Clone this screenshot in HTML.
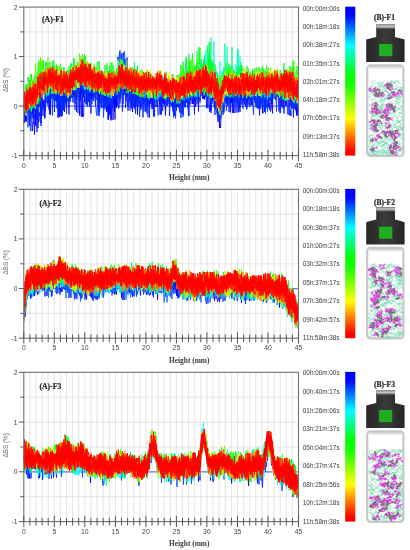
<!DOCTYPE html>
<html><head><meta charset="utf-8"><title>Turbiscan</title><style>html,body{margin:0;padding:0;background:#fff;}
svg{display:block;}
.ax{font-family:"Liberation Sans",sans-serif;font-size:6.8px;fill:#444;}
.tm{font-family:"Liberation Sans",sans-serif;font-size:7.1px;fill:#3c3c3c;}
.ttl{font-family:"Liberation Serif",serif;font-size:7.6px;font-weight:bold;fill:#262626;stroke:#262626;stroke-width:0.2px;}
.hd{font-family:"Liberation Serif",serif;font-size:7.2px;font-weight:bold;fill:#3c3c3c;}
</style></head>
<body><svg width="410" height="550" viewBox="0 0 410 550">
<defs>
<linearGradient id="cb" x1="0" y1="0" x2="0" y2="1">
<stop offset="0" stop-color="#0000f8"/><stop offset=".06" stop-color="#0008ff"/><stop offset=".26" stop-color="#00ffff"/><stop offset=".46" stop-color="#00ff00"/><stop offset=".53" stop-color="#18ff00"/><stop offset=".75" stop-color="#ffff00"/><stop offset=".97" stop-color="#ff0000"/>
</linearGradient>
<linearGradient id="capg" x1="0" y1="0" x2="1" y2="0">
<stop offset="0" stop-color="#262626"/><stop offset=".5" stop-color="#3a3a3a"/><stop offset="1" stop-color="#262626"/>
</linearGradient>
<linearGradient id="ring" x1="0" y1="0" x2="0" y2="1">
<stop offset="0" stop-color="#8a8a8a"/><stop offset=".4" stop-color="#c8c8c8"/><stop offset="1" stop-color="#3a3a3a"/>
</linearGradient>
<linearGradient id="rim" x1="0" y1="0" x2="0" y2="1">
<stop offset="0" stop-color="#c4c4c4"/><stop offset="1" stop-color="#f4f4f4"/>
</linearGradient>
</defs>
<path d="M29.9 7.1V155.6M36 7.1V155.6M42.1 7.1V155.6M48.2 7.1V155.6M54.3 7.1V155.6M60.4 7.1V155.6M66.5 7.1V155.6M72.6 7.1V155.6M78.7 7.1V155.6M84.8 7.1V155.6M90.9 7.1V155.6M97.1 7.1V155.6M103.2 7.1V155.6M109.3 7.1V155.6M115.4 7.1V155.6M121.5 7.1V155.6M127.6 7.1V155.6M133.7 7.1V155.6M139.8 7.1V155.6M145.9 7.1V155.6M152 7.1V155.6M158.1 7.1V155.6M164.2 7.1V155.6M170.3 7.1V155.6M176.4 7.1V155.6M182.5 7.1V155.6M188.6 7.1V155.6M194.7 7.1V155.6M200.8 7.1V155.6M206.9 7.1V155.6M213 7.1V155.6M219.1 7.1V155.6M225.2 7.1V155.6M231.4 7.1V155.6M237.5 7.1V155.6M243.6 7.1V155.6M249.7 7.1V155.6M255.8 7.1V155.6M261.9 7.1V155.6M268 7.1V155.6M274.1 7.1V155.6M280.2 7.1V155.6M286.3 7.1V155.6M292.4 7.1V155.6M23.8 31.9H298.5M23.8 56.6H298.5M23.8 81.3H298.5M23.8 106.1H298.5M23.8 130.8H298.5" stroke="#dedede" stroke-width="0.8" fill="none"/>
<path d="M23.8 106.1H298.5" stroke="#7474f6" stroke-width="1.3" fill="none"/>
<path d="M48 246l1-37 1-6 1 40 1-30 1 30 1-27 1-21 1 11 1-8 1 14 1 9 1-30 1 19 1 8 1 5 1-22 1 27 1-11 1 19 1-20 1 6 1-15 1 45 1-34 1 13 1-1 1-21 1 11 1 24 1-1 1-18 1 7 1-30 1 44 1-23 1-38 1 21 1 9 1-15 1 8 1-5 1 20 1-5 1-22 1 7 1 3 1-10 1 6 1-1 1 18 1-46 1 56 1-54 1-7 1 29 1-18 1 12 1-39 1 11 1 23 1 38 1-45 1 14 1 9 1-31 1 46 1-31 1-11 1 55 1-48 1 52 1-76 1 12 1 63 1-40 1-27 1 40 1-38 1 53 1-39 1 28 1-27 1-4 1 6 1 36 1-31 1-1 1-17 1 36 1 21 1-29 1-16 1-10 1 15 1 2 1 0 1 4 1-38 1 36 1-9 1 6 1-8 1-24 1 20 1 0 1-25 1-14 1 13 1 20 1-15 1 3 1 41 1-18 1 50 1 0 1-49 1 49 1-4 1 4 1-33 1 0 1-25 1-3 1 14 1-8 1 31 1-19 1-4 1 18 1-36 1 2 1 23 1-10 1 15 1-1 1-28 1 27 1 0 1-23 1 1 1-22 1 34 1 25 1-56 1 20 1 16 1-18 1-13 1 16 1 56 1-46 1-13 1 13 1 0 1 4 1-31 1 25 1-6 1-2 1 32 1-8 1-23 1 39 1-40 1 48 1-18 1-11 1 15 1 30 1-48 1 36 1-19 1-6 1 36 1-45 1 19 1-1 1-26 1 15 1 6 1-11 1 43 1-45 1-9 1 31 1-7 1-18 1 8 1-25 1 20 1-8 1 13 1-10 1-31 1 16 1-26 1 15 1 45 1-25 1-11 1 4 1 6 1-5 1-9 1 16 1-9 1 6 1-8 1-18 1 22 1 6 1 3 1-6 1 6 1 29 1-55 1 64 1-12 1-20 1 21 1-18 1-1 1 5 1 5 1-14 1 3 1 37 1-55 1-18 1 12 1 5 1 10 1 36 1-25 1-18 1 6 1-15 1 23 1-5 1 18 1-13 1 2 1 30 1-45 1-6 1 37 1-19 1 4 1-2 1 1 1 17 1-18 1 10 1-21 1 11 1 26 1-22 1-19 1 56 1-50 1 23 1 7 1 1 1-17 1-1 1 18 1-12 1 27 1 1 1 0 1-47 1 38 1 8 1-35 1-15 1 17 1-35 1 19 1 26 1-28 1-7 1 1 1 4 1 8 1-7 1 14 1 2 1-17 1 15 1-8 1 13 1-22 1 10 1-9 1 15 1-8 1 31 1 10 1-43 1 11 1 2 1 22 1-4 1-18 1 22 1-10 1-22 1 30 1-22 1 7 1 12 1-27 1-10 1 31 1-28 1 51 1-6 1-28 1 8 1 7 1-7 1 14 1-6 1-10 1 6 1-15 1 6 1 20 1-46 1 18 1-16 1 37 1-37 1 4 1 21 1-2 1 13 1-6 1-23 1 24 1 26 1-42 1 26 1-26 1-21 1 14 1 3 1-28 1 42 1 3 1-13 1 18 1-30 1 17 1-23 1 17 1 11 1-18 1 19 1-33 1 34 1-24 1 9 1-17 1 11 1-28 1 36 1 10 1-1 1-5 1-2 1-9 1-18 1 60 1-52 1 15 1 17 1-19 1 4 1-17 1 22 1-15 1 33 1-42 1 15 1 45 1-13 1-17 1 18 1 3 1 38 1-31 1 2 1-18 1 5 1 5 1-35 1-8 1 33 1 16 1-17 1-9 1-3 1-16 1 16 1 7 1-13 1 13 1-6 1-11 1 10 1-1 1 13 1-29 1 21 1 4 1-3 1 0 1 25 1-48 1 3 1 45 1-39 1-2 1 0 1 3 1 11 1-12 1 6 1 4 1-20 1 6 1-8 1-3 1-7 1 27 1-21 1 21 1 4 1 9 1-16 1 10 1-25 1 21 1 2 1 20 1-26 1 11 1-12 1 7 1-3 1-1 1-21 1 28 1-19 1 23 1 6 1-18 1-17 1 20 1 1 1-11 1 8 1-2 1 20 1 5 1 1 1-34 1 4 1 11 1-25 1 9 1 35 1-23 1-11 1 15 1-6 1-8 1-3 1-4 1 23 1 23 1-27 1 2 1-19 1 10 1 1 1 1 1 23 1-20 1-7 1 2 1-28 1 46 1-17 1 18 1-26 1 10 1-2 1 2 1-9 1-17 1 12 1 1 1-10 1 14 1-7 1 9 1 4 1 6 1-16 1-8 1 26 1 16 1-4 1-7 1-15 1-3 1-4 1 4 1-15 1 17 1 25 1-37 1 22 1-23 1 13 1 7 1-11 1-1 1 11 1 5 1 14 1-12 1-3 1 22 1-39 1 7 1-18 1 36 1 13 1-5 1 7 1-21 1 29 1-12 1 9 1-15 1 20" stroke="#0000ff" stroke-width="1.6" fill="none" transform="scale(.5)"/>
<path d="M48 238l1 8 1-41 1 28 1-15 1 0 1-1 1-6 1 12 1-30 1 27 1 14 1 9 1-11 1-28 1 18 1 15 1 25 1-16 1 2 1-18 1 39 1-51 1 13 1 9 1-36 1 8 1 5 1 39 1-68 1 11 1 6 1-14 1-2 1-18 1 17 1 22 1 10 1-15 1 4 1 1 1 27 1-36 1-1 1-10 1-2 1-4 1-9 1 12 1 17 1-39 1 60 1 4 1-27 1-9 1-32 1 8 1 24 1-22 1 5 1 13 1-6 1 8 1-37 1 45 1-9 1 13 1-20 1 52 1-30 1 13 1-31 1 30 1 7 1-35 1 44 1-73 1 39 1-19 1 21 1-9 1 32 1-24 1-8 1 13 1 3 1-19 1-3 1 3 1-10 1 13 1 7 1-10 1-5 1 10 1-40 1 32 1-14 1 33 1-35 1 22 1-4 1-17 1 21 1 1 1 6 1-20 1-5 1 2 1 12 1-32 1 75 1-59 1 5 1 10 1-18 1 22 1 42 1-53 1 11 1-18 1 31 1-44 1 18 1 4 1-2 1 27 1-51 1 37 1-9 1-33 1 62 1-31 1 21 1 24 1-44 1 18 1-32 1 1 1 7 1 18 1-18 1-18 1 25 1-13 1-6 1 7 1-4 1 10 1 12 1 10 1-7 1 0 1-25 1 34 1 13 1-41 1-5 1 24 1 0 1 22 1-24 1-31 1 6 1 32 1-9 1-9 1 11 1 48 1-36 1 9 1 4 1-44 1 50 1 19 1-28 1-10 1 6 1 31 1-32 1-20 1 36 1-41 1 31 1-32 1 34 1-9 1 2 1-9 1 17 1-1 1-22 1-8 1 9 1-16 1 2 1-11 1 6 1 3 1-11 1-23 1 38 1-32 1 16 1 36 1-34 1 25 1-29 1 56 1-22 1-5 1-7 1 2 1 18 1-15 1-2 1-11 1 19 1-43 1 24 1 32 1 6 1-16 1-17 1 28 1-26 1-4 1 5 1 6 1-3 1 16 1-22 1 3 1-8 1 4 1-7 1 26 1-4 1-16 1 26 1-14 1-17 1 32 1-28 1-17 1 3 1 60 1-50 1 28 1 7 1-40 1 12 1 3 1-17 1 27 1-4 1 17 1-1 1-17 1-32 1 6 1 40 1-26 1 14 1-16 1 18 1-16 1-16 1-4 1 0 1 29 1 5 1-4 1-13 1 22 1 5 1 0 1-6 1 10 1 0 1-20 1 23 1 1 1 19 1-27 1-10 1 16 1-25 1 23 1-9 1-1 1-8 1 19 1-12 1-6 1 19 1-5 1 0 1 8 1-2 1-6 1 27 1-43 1 18 1-14 1 3 1-2 1 20 1-5 1-6 1 14 1-16 1-23 1 34 1-23 1 1 1 3 1 14 1-21 1-12 1 37 1 2 1-34 1 34 1-26 1 4 1-7 1 18 1-27 1 39 1 18 1-54 1 21 1-38 1 5 1 3 1 38 1-9 1-4 1-3 1-2 1 4 1 10 1 0 1-5 1-7 1-13 1 8 1-11 1 48 1-44 1-6 1-5 1 4 1-5 1 7 1 14 1-4 1-7 1 13 1-29 1 20 1 14 1-5 1-27 1 12 1 16 1 24 1-36 1 4 1-3 1 44 1-10 1-20 1 32 1-25 1 7 1-26 1 20 1-17 1 6 1-1 1 28 1-34 1 21 1-8 1 9 1-13 1 18 1 17 1 2 1-1 1 22 1 5 1-18 1-22 1-16 1-3 1-6 1-2 1 1 1-7 1-2 1 23 1-28 1 15 1 17 1-22 1 12 1-27 1 19 1-4 1 18 1 21 1-45 1 26 1-20 1 25 1-29 1-15 1 26 1-10 1 9 1 4 1 0 1-6 1 4 1 16 1-18 1-9 1 17 1 1 1 23 1-45 1 21 1-19 1 7 1-6 1 0 1 5 1-4 1 26 1-35 1 12 1-24 1 40 1-4 1 7 1-11 1 3 1-9 1-11 1 36 1-29 1 7 1 19 1-17 1-3 1-7 1 8 1 7 1-26 1 26 1 6 1 6 1-2 1 1 1-30 1 7 1-9 1 11 1 43 1-29 1-8 1 10 1-7 1 15 1 5 1 9 1-42 1 14 1 24 1-32 1 20 1-17 1-9 1 14 1-21 1 16 1 6 1-8 1 28 1-13 1 17 1-3 1-11 1-12 1 30 1-52 1-15 1 35 1-9 1-17 1 21 1-24 1 22 1-29 1 14 1 11 1 17 1 22 1-34 1 8 1-4 1-7 1-12 1 28 1-8 1 23 1-33 1 43 1-50 1-19 1 9 1 46 1-7 1-27 1 4 1 5 1-15 1 7 1 0 1 13 1 5 1 3 1-13 1 15 1-17 1 11 1 6 1 14 1-19 1-7 1 25 1-9 1 24 1-13 1 13 1-15 1 1" stroke="#0000ff" stroke-width="1.6" fill="none" transform="scale(.5)"/>
<path d="M48 217l1-5 1 28 1-13 1-10 1 14 1-26 1 6 1 7 1 2 1-4 1 36 1-28 1 1 1-10 1-20 1 23 1 6 1 13 1-29 1-5 1 6 1-19 1 28 1 8 1 23 1 15 1-47 1-7 1-2 1 3 1-28 1 28 1 16 1 25 1-36 1-25 1 29 1 12 1-32 1-1 1 15 1 22 1-43 1-35 1 38 1-3 1-12 1 20 1-19 1-9 1 25 1-32 1 63 1-50 1-9 1-1 1-8 1 25 1-8 1 9 1 11 1-38 1 8 1 15 1-18 1 18 1-16 1 13 1 14 1-37 1 13 1-12 1 28 1-9 1 12 1 43 1-8 1-53 1 6 1 40 1-9 1 1 1-17 1 10 1-41 1 37 1-6 1 9 1-33 1 15 1-4 1 17 1-8 1-16 1-8 1 15 1 14 1-23 1-19 1 43 1-17 1 31 1-31 1-12 1 59 1-44 1 2 1-14 1 12 1 14 1-31 1 31 1-35 1 27 1 0 1-11 1 6 1-24 1 38 1-18 1-2 1 12 1 16 1 6 1-21 1-14 1 8 1-15 1-24 1 44 1 3 1-9 1 5 1-1 1-31 1 31 1 11 1-15 1-8 1 6 1-6 1 11 1-18 1 23 1 10 1 1 1-23 1 16 1 0 1 27 1-36 1 22 1-23 1 0 1-6 1 21 1-26 1 45 1-39 1 33 1-17 1-29 1 18 1 30 1-48 1 31 1 26 1-14 1-11 1 0 1 16 1 18 1-22 1-41 1 17 1-22 1 23 1 22 1-17 1-9 1-5 1-18 1 7 1 15 1 22 1-32 1 8 1 12 1-41 1 28 1-8 1 37 1-31 1-14 1 19 1 16 1 26 1-34 1 2 1-10 1 9 1-2 1-27 1 23 1 0 1 10 1 18 1-13 1-13 1-16 1 32 1 1 1-12 1 20 1 6 1-54 1 32 1-7 1 4 1 8 1-42 1 22 1 47 1-26 1-40 1 16 1 50 1-64 1 9 1 41 1-17 1-13 1-7 1 15 1 23 1-19 1 11 1 29 1-43 1 7 1-20 1 11 1-14 1 0 1 3 1 21 1-24 1 15 1 5 1 4 1 35 1-39 1 12 1-19 1-11 1 4 1 24 1 11 1-38 1 29 1-22 1 13 1-25 1 15 1-2 1-4 1 0 1-14 1 32 1-1 1 8 1-8 1 13 1-29 1 45 1-36 1 29 1-10 1-17 1 3 1 9 1-29 1 41 1-19 1 2 1-7 1-6 1 13 1-21 1-1 1 52 1-33 1-12 1-20 1 31 1 16 1-26 1 10 1 8 1 8 1-22 1-2 1-12 1 3 1 41 1-20 1-13 1 11 1 1 1 8 1-21 1 6 1 28 1 14 1-21 1-26 1 2 1 39 1-15 1-5 1-3 1 2 1-3 1 0 1-7 1 3 1 2 1-3 1 2 1 2 1 4 1-19 1 5 1-2 1 3 1-15 1 24 1-27 1 30 1-13 1-6 1 0 1-26 1 27 1 5 1 14 1-6 1-38 1 25 1-36 1 8 1-5 1-4 1 18 1 5 1-3 1 1 1 14 1 9 1-13 1 13 1-8 1-11 1 8 1 30 1-30 1-4 1 0 1-18 1 23 1-13 1 17 1-7 1-14 1 23 1-37 1 34 1 2 1-4 1-14 1 25 1 31 1-30 1-25 1 19 1 9 1 2 1 39 1-38 1 7 1 1 1 11 1 5 1-26 1-9 1-13 1 11 1 37 1-41 1-6 1 11 1-13 1 3 1 8 1 15 1-33 1 36 1-28 1 11 1 31 1-38 1-5 1-11 1 3 1-5 1 35 1 23 1-36 1 1 1 13 1-8 1-8 1 2 1 15 1 5 1 15 1-14 1-28 1 42 1-40 1 32 1-2 1-12 1-20 1 26 1-4 1-9 1 21 1-30 1 6 1 12 1-12 1 20 1-17 1 8 1 6 1-20 1 6 1 10 1 5 1-1 1-14 1-20 1 0 1 23 1-23 1 24 1-2 1-32 1 5 1 27 1 8 1-5 1-19 1 11 1 0 1-7 1 8 1 23 1-24 1 6 1-11 1-4 1-1 1 11 1-4 1 37 1-58 1 30 1-9 1-20 1 42 1-4 1 2 1-10 1 1 1 16 1-17 1 3 1-19 1 15 1-3 1-16 1 17 1 5 1-32 1 29 1-7 1-18 1 17 1-5 1-14 1 28 1-15 1 10 1-3 1-10 1-3 1 4 1 13 1 4 1 1 1 25 1-31 1 12 1 6 1-21 1-26 1 29 1-2 1 7 1-22 1 10 1 19 1-33 1 21 1-24 1 27 1-11 1 43 1-37 1 38 1-10 1 11 1-47 1 21 1 1 1-13 1 41 1-41 1-5 1-7 1 9 1-22 1 12 1 23 1 1 1-31 1 33" stroke="#0014ff" stroke-width="1.6" fill="none" transform="scale(.5)"/>
<path d="M48 215l1-12 1 4 1 9 1-7 1 21 1-5 1-11 1 41 1-37 1-5 1 13 1-13 1 47 1 2 1-46 1-13 1 3 1-19 1 13 1-22 1 30 1-3 1-22 1 7 1 8 1 37 1-20 1-6 1-8 1 13 1-13 1 4 1-22 1 22 1-4 1 21 1-45 1 11 1-22 1 19 1 2 1 25 1-6 1-29 1 17 1-9 1 25 1-41 1 11 1 27 1-16 1-5 1-5 1 13 1 1 1-8 1 44 1-71 1 40 1-15 1 34 1-26 1 9 1-17 1 12 1-4 1 22 1-13 1 33 1-45 1 17 1-26 1 30 1 21 1-60 1 58 1-62 1 15 1-9 1 44 1-16 1-23 1 10 1-9 1 48 1-43 1 6 1 12 1-13 1-1 1 0 1-18 1 33 1-13 1 5 1-33 1 32 1-35 1 24 1-20 1-12 1 68 1-64 1-13 1 11 1-14 1 44 1 42 1-34 1-20 1 11 1-6 1-27 1 4 1 24 1-13 1 20 1-12 1-21 1 27 1 16 1-7 1-2 1-30 1 28 1-5 1 35 1-70 1 24 1 14 1 30 1-21 1 0 1 9 1-2 1 10 1-32 1-12 1 38 1-16 1 1 1 4 1 22 1 4 1 14 1-4 1-36 1 40 1 1 1-19 1 11 1-5 1-16 1-25 1 15 1 12 1-10 1-16 1 56 1-19 1-20 1 23 1-12 1-10 1 13 1 6 1-16 1 8 1-18 1 5 1-2 1 20 1-16 1 4 1-34 1 53 1-41 1 19 1-11 1-8 1 4 1 8 1-7 1-24 1 2 1 32 1-9 1 0 1-16 1 30 1-21 1 20 1-34 1-8 1 12 1-9 1 44 1-54 1 27 1-18 1 8 1-21 1 71 1-27 1-22 1 16 1-1 1-9 1-5 1 17 1 9 1 28 1-29 1-20 1 28 1-32 1 46 1-12 1-10 1 19 1-12 1-30 1 26 1 1 1-4 1 10 1-4 1 8 1-1 1-26 1 54 1-16 1 0 1 1 1-2 1-8 1-33 1 2 1 13 1 32 1-29 1 1 1 24 1-45 1 47 1-12 1-3 1 29 1-27 1-11 1-4 1-30 1 0 1 9 1 1 1 21 1-30 1 35 1-22 1 5 1 51 1-41 1-5 1-10 1-15 1 44 1-7 1-22 1-8 1 4 1 6 1 19 1-18 1 3 1 7 1-23 1-5 1 12 1 7 1 7 1 5 1-13 1-2 1 14 1 2 1 12 1 6 1-5 1-21 1 4 1 5 1 17 1-17 1-16 1-4 1 15 1-11 1 30 1 26 1-38 1 5 1 3 1 32 1-35 1 2 1 0 1 3 1 4 1 1 1-29 1 42 1-28 1 11 1 9 1 9 1-12 1-6 1 26 1-45 1 23 1-16 1 18 1-26 1 10 1-6 1 2 1 5 1 18 1 15 1-35 1 8 1-27 1 22 1-36 1 25 1 10 1-21 1-2 1-11 1 22 1-13 1-5 1 27 1-39 1 16 1 14 1-5 1-3 1 0 1-5 1-6 1 32 1-47 1 15 1-16 1 0 1 7 1 22 1-18 1 11 1-3 1 18 1-10 1 9 1-20 1-9 1-4 1 62 1-34 1 4 1 3 1-3 1-2 1 26 1-42 1-13 1 11 1 16 1 6 1 25 1-29 1 13 1 19 1-14 1-11 1 33 1 10 1 3 1-17 1 21 1-13 1 0 1 9 1-3 1-20 1 9 1-34 1 25 1-18 1 7 1-19 1 19 1 3 1-1 1 16 1-26 1 0 1 16 1-15 1-2 1-24 1 25 1-20 1 22 1-3 1-19 1 20 1-24 1 31 1 9 1-24 1-6 1 6 1 3 1 16 1-22 1 11 1 3 1-16 1-10 1 20 1-3 1-26 1-1 1 20 1-19 1 22 1 3 1-7 1 20 1 6 1-19 1 4 1-11 1 37 1-26 1-13 1-5 1 18 1-14 1-3 1-8 1 7 1 28 1-23 1 15 1 8 1 12 1 15 1-36 1 8 1-20 1 18 1 15 1-22 1 3 1 20 1-14 1 13 1-26 1 21 1-18 1 26 1-27 1 12 1 3 1-16 1 11 1-2 1-13 1 38 1-28 1 31 1-39 1 27 1-7 1 15 1-23 1-29 1 25 1-10 1-5 1 21 1-18 1 16 1-14 1-10 1-10 1 25 1-12 1 18 1-3 1 1 1 3 1 25 1-35 1 1 1 4 1 1 1-26 1 16 1 42 1-37 1-8 1 8 1 1 1 11 1-17 1-8 1 9 1-3 1-1 1 6 1-15 1 6 1 10 1 36 1 5 1-70 1 19 1 19 1-4 1-17 1-3 1-4 1 18 1 3 1 25 1 1 1-16 1 17 1-14 1 18 1-13 1-6 1-25 1 42 1-9 1-24" stroke="#0033ff" stroke-width="1.6" fill="none" transform="scale(.5)"/>
<path d="M234 116l1-2 1 7 1-6 1 1 1-12 1-3 1 14 1 29 1-38 1 18 1 11 1-21 1-9 1 24 1-4 1-7 1 27 1-8 1-7 1-15 1 29" stroke="#001fff" stroke-width="1.6" fill="none" transform="scale(.5)"/>
<path d="M237 134l1-4 1-23 1 17 1 10 1-10 1-6 1-11 1 33 1-17 1-3 1-3 1-14 1 17 1 5 1 13" stroke="#0052ff" stroke-width="1.6" fill="none" transform="scale(.5)"/>
<path d="M56 154l1 17 1 21 1-13 1-14 1 19 1-12" stroke="#0014ff" stroke-width="1.6" fill="none" transform="scale(.5)"/>
<path d="M48 217l1-19 1 24 1-24 1 22 1-5 1-11 1 9 1 0 1-10 1 16 1-12 1 0 1-3 1-13 1 2 1 4 1 2 1-13 1 6 1 1 1 8 1-2 1 2 1-23 1 19 1-17 1-5 1-1 1 0 1 3 1-8 1-7 1 3 1 13 1-17 1 35 1-39 1 19 1-12 1 9 1 17 1-10 1 0 1 9 1-5 1-28 1 32 1-12 1-17 1 5 1 11 1-4 1-4 1 4 1-11 1 27 1-20 1-14 1 25 1-32 1 28 1 3 1-3 1-6 1 0 1 11 1-12 1 4 1-1 1 8 1-1 1 4 1-28 1 34 1-17 1 21 1-5 1-27 1 17 1-9 1-1 1 12 1 1 1 4 1-5 1-11 1 29 1-9 1-11 1-2 1-1 1 1 1-11 1-9 1 3 1-1 1 12 1 4 1 1 1-22 1 19 1-9 1-6 1-4 1 13 1 10 1-21 1 10 1 8 1 1 1-13 1 4 1-4 1-17 1 13 1 4 1 11 1-22 1 22 1 4 1-14 1-13 1 9 1-6 1 20 1 6 1-6 1-10 1 10 1 2 1-5 1 3 1-7 1 9 1 7 1-15 1 0 1 8 1 11 1-13 1 3 1-9 1-11 1 24 1-24 1 19 1 5 1-18 1 2 1-1 1 0 1 8 1 6 1-4 1-1 1-5 1 1 1 19 1-31 1 30 1 5 1-19 1 1 1-5 1 13 1-6 1 5 1-2 1 2 1-11 1 14 1 0 1 16 1-11 1-16 1 10 1-12 1 8 1-18 1 7 1 21 1-17 1 7 1-10 1 5 1-6 1-7 1-12 1 18 1-19 1 4 1 10 1-13 1 16 1-14 1 30 1-19 1 1 1-3 1-13 1 21 1 4 1 10 1-16 1 10 1-3 1-11 1 21 1-7 1-8 1 0 1 2 1-6 1 20 1-2 1-7 1-6 1-10 1 0 1-1 1 1 1-9 1 15 1 10 1-15 1 14 1-18 1 26 1-28 1 25 1-3 1 0 1 18 1-12 1-9 1-16 1 22 1-4 1-11 1 31 1-31 1 36 1-8 1-18 1 17 1-13 1-9 1 1 1 29 1-14 1-28 1 34 1-3 1-9 1-22 1 24 1-6 1 15 1 0 1-4 1 16 1-16 1 9 1 8 1-4 1-6 1-7 1-25 1 27 1-7 1 17 1-9 1-4 1 13 1-26 1 11 1-10 1-15 1 23 1 1 1-3 1-19 1 0 1 19 1 1 1-19 1 18 1-17 1 7 1 13 1-4 1-15 1 7 1 13 1-1 1-5 1 15 1-12 1 10 1 8 1-5 1 8 1-17 1 9 1-6 1-4 1 2 1 14 1-18 1-7 1 2 1 18 1-7 1-3 1 6 1-9 1 4 1 0 1-6 1 26 1-15 1 4 1 1 1-8 1 3 1 3 1-17 1 25 1-1 1-1 1 0 1-3 1-3 1-17 1 14 1-18 1-7 1 12 1 11 1-6 1 10 1-23 1 8 1-3 1 5 1-6 1-17 1 13 1-16 1 3 1 2 1-8 1 22 1 0 1-4 1-6 1 10 1-13 1 11 1-9 1 2 1 3 1 10 1 2 1 12 1-29 1-11 1 28 1 2 1-10 1 18 1 0 1-28 1 20 1-3 1 13 1-8 1-2 1 2 1-3 1 11 1 4 1-8 1 6 1 14 1 1 1-4 1 1 1 14 1 1 1 15 1-14 1-14 1-5 1 25 1-5 1-21 1-1 1-3 1-18 1 3 1 19 1-41 1 21 1-10 1 18 1-15 1 6 1-5 1 13 1-20 1 3 1-9 1 30 1-17 1-7 1 20 1-23 1 8 1-9 1 10 1 9 1-10 1 11 1-6 1 1 1 10 1 2 1-5 1 14 1-16 1 4 1-14 1 16 1-3 1-2 1-9 1 16 1-3 1-10 1 2 1-7 1 18 1-9 1-10 1 18 1-8 1 1 1-4 1 15 1-16 1 14 1 7 1-11 1-6 1 17 1-29 1 5 1 22 1-15 1-9 1 5 1 10 1 0 1-21 1 16 1-6 1-13 1 6 1 5 1 1 1 10 1-24 1 8 1-7 1-5 1 20 1 7 1-4 1-11 1-7 1 25 1-17 1 10 1-8 1-2 1 12 1-20 1 18 1 19 1-20 1 18 1-37 1 20 1-15 1 25 1-4 1-10 1 4 1 7 1-14 1 5 1 4 1-14 1 7 1 17 1-19 1-1 1 9 1 13 1-10 1-13 1 1 1-2 1 11 1 4 1-5 1 5 1 18 1-24 1 14 1-19 1 14 1-4 1-6 1-13 1 11 1-4 1 26 1-27 1 23 1-6 1-3 1-22 1 9 1 2 1 3 1-20 1 14 1 6 1 9 1-12 1 2 1 10 1 1 1-16 1 2 1 18 1-13" stroke="#00ccff" stroke-width="1.6" fill="none" transform="scale(.5)"/>
<path d="M48 222l1-1 1 1 1 1 1-20 1 29 1-36 1 18 1-3 1 2 1-10 1-14 1 4 1-15 1 12 1-1 1-15 1 42 1-33 1 12 1 8 1-17 1-6 1-9 1 3 1-2 1 5 1 8 1-7 1 12 1-11 1-2 1-19 1 16 1 5 1-17 1 14 1-6 1 6 1 2 1-2 1 3 1 4 1-1 1-11 1 16 1-10 1 3 1 11 1-1 1-2 1-16 1 5 1 1 1-4 1-2 1 9 1 2 1 5 1-23 1 9 1-13 1 4 1-17 1 41 1-37 1 17 1-18 1 16 1-7 1-9 1 10 1 9 1 1 1-19 1 26 1-10 1-9 1 27 1-23 1 10 1 13 1-14 1-1 1 12 1-13 1 6 1-2 1-2 1 12 1-5 1 10 1-12 1-20 1 16 1-9 1-2 1 10 1-7 1-22 1 37 1-23 1-17 1 14 1 9 1-17 1 3 1-11 1 22 1-9 1 23 1-15 1-2 1-10 1 19 1-26 1 19 1 4 1-13 1-4 1 27 1 6 1-12 1 12 1-10 1-7 1-3 1-9 1 23 1-17 1-2 1 11 1 1 1-14 1 10 1-3 1 3 1-2 1-3 1-13 1 13 1 17 1-14 1 4 1 4 1-15 1 10 1-3 1 6 1 2 1-3 1-2 1 12 1-6 1-12 1 26 1-6 1-7 1 6 1-7 1 10 1-14 1 23 1-5 1-13 1 14 1-18 1 9 1-4 1 16 1 1 1-18 1 14 1 3 1-8 1 17 1-31 1 26 1 0 1-19 1-9 1 20 1-30 1 15 1-16 1 12 1-7 1-9 1 18 1 5 1-26 1 19 1-6 1-9 1 2 1 11 1 6 1-15 1-15 1 27 1-4 1-23 1 14 1 7 1-2 1 8 1-11 1 18 1-29 1 29 1-9 1 5 1 9 1 6 1-24 1 9 1-10 1 10 1-7 1-6 1 24 1-7 1-3 1 14 1-28 1 22 1 13 1-18 1-5 1 2 1 20 1-1 1-7 1 6 1-16 1 3 1 12 1-17 1 13 1-2 1-7 1 11 1-14 1 7 1-14 1 7 1 3 1 12 1-5 1-15 1 9 1 25 1-25 1 3 1-24 1 12 1 18 1-28 1 5 1 2 1 6 1 7 1-22 1 22 1-22 1 3 1 13 1-16 1 2 1 3 1 23 1-26 1 21 1 12 1-22 1-3 1 11 1-9 1 8 1-5 1-3 1 0 1 26 1-16 1-4 1 24 1-13 1-1 1-3 1 9 1-3 1 0 1 4 1 11 1-10 1 16 1-3 1-21 1 0 1-4 1 5 1 13 1-11 1-3 1 6 1-21 1 23 1-5 1 9 1-10 1 12 1 0 1-14 1 8 1-15 1 0 1-5 1 8 1-12 1 0 1 8 1-13 1 20 1-15 1 7 1-1 1 14 1-4 1-8 1-3 1 14 1-10 1-9 1 11 1 3 1-7 1-1 1 13 1-20 1 12 1 7 1 2 1-29 1 17 1-3 1 24 1-11 1-2 1 2 1-7 1-17 1 35 1-43 1 27 1-1 1-6 1 9 1-12 1 10 1-6 1-10 1 21 1-18 1 16 1-19 1 16 1 4 1 7 1-26 1 6 1 5 1-12 1 17 1 17 1-17 1-1 1-16 1 16 1 0 1 16 1-26 1 20 1-16 1 3 1 0 1 10 1-18 1 16 1 24 1-29 1 28 1 2 1-9 1-4 1 16 1-18 1 4 1-8 1-11 1 18 1-7 1-17 1 18 1-23 1 0 1 20 1-12 1 4 1 15 1-24 1 16 1-9 1 5 1-3 1-4 1 7 1-8 1 8 1-9 1 5 1 2 1-13 1 10 1 5 1-6 1 6 1-15 1 12 1-3 1-16 1 12 1 8 1-9 1 1 1-1 1-1 1-8 1 3 1-10 1 36 1-21 1 2 1 4 1-1 1-5 1-14 1 5 1 30 1-12 1 3 1-15 1 6 1 7 1-10 1 18 1-18 1 2 1-7 1 14 1 8 1-10 1-2 1-2 1 10 1-6 1 16 1-18 1 0 1-1 1-13 1 20 1-2 1-16 1 3 1 1 1 7 1-7 1 18 1 5 1-18 1 8 1-10 1 25 1-24 1 4 1 8 1-9 1 23 1-18 1-2 1-8 1 7 1-7 1 1 1 12 1-16 1 8 1-11 1 16 1-18 1-3 1 7 1 15 1-18 1-5 1 7 1-6 1 9 1-10 1 10 1 6 1-4 1 11 1-12 1 18 1-5 1-15 1 13 1-15 1 8 1 3 1-7 1 14 1-4 1 24 1-12 1-12 1-4 1 2 1-1 1 0 1 11 1-15 1 13 1 11 1-12 1-6 1 8 1 16 1-20 1 25 1-36 1 9 1 15 1 7 1-17 1-15 1 14 1-6 1 3" stroke="#00ffe0" stroke-width="1.6" fill="none" transform="scale(.5)"/>
<path d="M407 139l1 3 1-32 1 28 1-35 1-3 1 30 1 19 1-15 1 0 1-13 1 10 1-3 1 2 1 10 1 1 1-10 1 15 1 5 1-4 1-12 1-53 1 58 1 1 1 2 1 11 1-8 1 6 1 5 1 7 1 6 1-6 1 16 1-57 1 57 1 10 1-12 1-15 1 6 1-6 1-9 1 1 1-11 1-9 1 5 1 1 1 11 1-5 1-14 1 5 1-3 1 14 1-20 1 10 1-2 1-7 1 20 1-5 1-9 1 10 1-5 1 20 1-16 1-5 1-7 1-5 1 25 1-11 1-6 1 22 1-58 1 59 1-14 1-32 1 33 1 2 1 1 1 1 1 4 1 1 1-4 1 7" stroke="#00ffeb" stroke-width="1.6" fill="none" transform="scale(.5)"/>
<path d="M407 117l1 15 1 6 1-13 1 7 1 6 1 3 1-8 1-3 1 9 1-32 1 32 1-21 1-2 1 11 1-6 1 12 1-13 1 23 1-11 1-6 1 12 1 7 1-4 1 4 1 9 1-2 1-6 1 12 1 8 1-3 1 7 1-4 1 7 1-5 1 1 1-20 1-5 1-1 1 8 1-16 1 19 1-66 1-1 1 58 1 9 1 2 1-63 1 47 1 10 1 3 1-14 1 14 1-11 1 3 1-7 1 4 1-9 1 12 1 20 1-22 1 6 1-6 1 5 1 3 1-2 1 19 1-17 1 16 1-20 1-7 1 14 1 1 1-6 1 4 1-9 1 17 1-6 1-2 1 1 1 0 1-3" stroke="#00ffb8" stroke-width="1.6" fill="none" transform="scale(.5)"/>
<path d="M407 136l1 3 1-29 1 34 1-2 1-6 1 10 1-7 1 1 1-2 1-2 1 17 1-14 1-2 1 4 1-66 1 73 1-24 1 30 1-16 1-12 1 16 1-14 1 0 1 20 1-6 1 3 1 0 1 0 1 22 1-11 1 12 1 7 1-10 1-3 1 3 1 2 1-9 1-7 1-5 1 2 1 18 1-27 1-3 1 6 1-3 1-7 1 25 1-11 1 15 1-18 1 4 1 4 1 4 1-1 1 1 1 2 1-63 1 52 1 9 1-10 1 9 1-13 1 17 1 2 1-11 1 9 1-30 1-31 1 55 1-5 1 9 1 7 1-20 1-7 1-12 1 23 1-3 1 8 1 0 1-3 1 8" stroke="#00ff85" stroke-width="1.6" fill="none" transform="scale(.5)"/>
<path d="M361 130l1 26 1-26 1 28 1-3 1 10 1-9 1 3 1-13 1 2 1 2 1-13 1-23 1 36 1-5 1 3 1-4 1-36 1 36 1-3 1-5 1 11 1-3 1-3 1 12 1-5 1-8 1-6 1-1 1 16 1-14 1 6 1-2 1 4 1-19 1 6 1 1 1 8 1-2 1-1 1 10 1-16 1 9 1 3 1-4 1-1 1-10 1 6 1 9 1-8 1 1 1 4 1-5 1 5 1-49 1 40 1 6 1-51 1 1 1 41 1 17 1 4 1-3 1-7" stroke="#00ff52" stroke-width="1.6" fill="none" transform="scale(.5)"/>
<path d="M361 155l1-3 1-5 1 0 1 3 1-27 1 21 1 7 1 3 1-8 1 8 1-39 1 39 1 1 1 5 1-20 1 14 1 1 1-8 1 12 1-17 1 3 1 11 1-17 1-32 1 38 1 3 1-6 1-5 1 0 1 8 1 4 1 2 1-49 1 31 1 6 1-16 1-29 1 35 1-33 1 47 1-7 1-3 1 10 1-10 1 7 1 0 1 0 1-7 1 5 1-7 1 4 1-2 1-1 1 11 1-20 1-4 1 19 1-54 1 53 1-5 1 3 1-15 1 12" stroke="#00ff1f" stroke-width="1.6" fill="none" transform="scale(.5)"/>
<path d="M48 223l1-26 1 24 1-21 1 4 1-3 1 5 1 16 1-35 1 24 1 0 1-25 1-11 1-10 1 18 1 40 1-42 1 7 1-19 1 28 1-2 1 15 1 8 1-6 1-39 1 13 1-27 1 15 1-24 1 48 1-74 1 52 1-14 1-39 1 42 1 5 1 5 1-42 1 18 1-11 1 23 1-26 1 22 1-35 1 8 1-7 1 17 1-18 1 26 1-12 1-14 1 30 1 16 1-10 1-3 1-10 1 1 1-25 1 63 1-66 1 14 1-3 1-1 1 21 1-14 1 4 1 17 1-24 1 4 1 29 1-13 1-19 1 43 1-30 1 25 1 3 1 6 1 0 1-10 1 6 1-26 1 28 1-35 1 37 1-25 1 21 1-16 1 5 1-17 1 1 1 9 1 1 1-18 1-16 1 21 1 8 1 8 1-24 1 22 1-46 1 23 1-4 1 45 1-38 1 38 1-33 1-8 1-4 1-6 1 15 1-2 1-21 1 44 1-14 1-23 1 13 1-12 1-5 1-4 1 4 1 42 1 1 1-27 1 1 1 27 1-28 1 28 1-33 1 34 1 7 1 3 1 5 1 1 1-26 1-16 1-17 1 18 1 12 1-9 1 38 1-27 1-1 1-6 1-6 1 8 1 12 1-16 1 15 1 8 1-16 1 9 1-4 1 16 1-4 1-8 1 16 1 1 1-15 1-23 1 45 1-25 1 6 1-10 1-9 1-16 1 16 1-5 1 10 1-14 1 3 1 14 1-12 1-9 1 20 1-10 1-9 1 2 1 6 1 8 1-24 1 15 1 15 1 4 1 3 1 10 1-27 1 38 1-21 1-47 1 34 1-19 1 21 1 17 1-52 1 23 1-19 1-6 1 35 1 5 1-22 1 6 1-10 1 11 1 10 1 3 1 16 1-6 1-3 1 3 1 8 1-1 1-29 1 16 1 6 1-19 1-13 1 4 1-6 1 12 1-1 1 9 1-29 1 26 1 6 1 29 1-41 1 17 1-31 1 42 1 10 1-16 1-9 1 30 1-31 1 37 1-37 1 20 1-2 1-3 1-11 1-7 1 31 1-14 1-19 1-7 1 28 1 7 1-19 1-4 1 14 1 1 1 12 1-17 1-5 1 11 1-16 1 6 1 9 1 7 1 4 1-20 1 15 1 20 1-41 1 17 1-3 1 12 1-22 1 36 1-37 1 9 1-4 1 15 1-14 1-24 1 19 1-8 1 24 1-7 1-1 1-4 1-7 1 25 1 0 1 16 1-29 1 19 1-29 1 22 1-8 1-15 1 5 1 9 1-6 1-2 1-1 1 3 1-6 1-13 1 21 1 22 1-24 1 7 1-11 1 2 1 1 1-3 1 21 1-10 1 18 1-2 1-23 1 39 1-25 1 7 1-13 1-15 1 17 1 6 1-48 1 33 1-2 1 27 1-68 1 18 1 31 1-34 1 23 1-29 1-3 1 35 1-22 1-9 1 22 1 23 1-22 1 37 1-56 1 52 1-24 1 9 1-4 1-19 1-2 1-20 1 8 1-2 1 27 1-27 1 12 1-8 1 42 1-55 1-1 1 29 1-38 1 33 1-15 1 6 1 13 1 36 1-12 1 1 1-5 1 2 1-18 1 14 1-5 1 11 1 2 1-35 1-5 1 44 1-44 1 37 1 18 1-23 1-13 1-8 1 5 1 14 1 30 1-24 1-14 1 37 1-25 1 29 1-15 1 4 1 13 1-13 1-7 1 13 1 0 1-14 1 13 1-13 1-7 1-16 1 4 1 3 1-20 1-2 1 7 1 0 1-13 1 25 1-5 1 25 1-46 1 1 1 27 1 27 1-12 1-13 1-11 1 18 1-13 1-5 1 13 1-13 1 4 1-8 1 6 1 8 1-8 1 1 1-21 1-8 1 20 1 1 1 10 1-30 1 35 1-14 1-13 1 9 1 4 1 29 1-26 1 13 1-17 1-7 1 10 1-14 1 19 1 1 1 28 1-35 1 22 1-8 1 1 1-10 1-5 1 8 1 10 1-28 1-5 1 10 1-10 1 16 1 3 1-3 1 9 1 21 1-14 1 15 1-17 1 4 1-21 1 37 1-14 1 15 1-24 1-10 1 37 1-48 1-16 1 40 1-30 1-4 1 22 1-18 1 41 1 6 1 1 1-40 1 23 1-21 1 3 1 6 1 2 1 9 1-9 1 24 1-38 1 24 1-29 1 29 1 9 1 3 1-14 1-8 1-14 1 3 1 8 1-14 1-8 1 39 1-10 1 0 1-11 1 18 1-15 1 15 1-3 1 1 1-9 1 24 1-24 1 38 1-8 1-20 1 12 1 5 1-16 1-23 1 23 1-14 1 1 1 40 1-40 1-29 1 39 1 6 1-37 1 16 1-13 1 20 1 19 1 25 1-47 1 10 1 25 1-28 1 21 1-26 1 47 1-48 1 26" stroke="#00ff66" stroke-width="1.6" fill="none" transform="scale(.5)"/>
<path d="M48 199l1-6 1 8 1-32 1 31 1-27 1 37 1-7 1-35 1 4 1 7 1-13 1-7 1 35 1 28 1-74 1 48 1-18 1-10 1 33 1-21 1 8 1-36 1 65 1-67 1 60 1-11 1-35 1 44 1-58 1 53 1-29 1 10 1-27 1-8 1 9 1 5 1-37 1-4 1 9 1 34 1-26 1-1 1 16 1-16 1 55 1-47 1-7 1 33 1-12 1 2 1-16 1-2 1 15 1-12 1 15 1-18 1 15 1-3 1 29 1-3 1-9 1-33 1 14 1-6 1-19 1 17 1 3 1 19 1 21 1-49 1 20 1-5 1 3 1 21 1 7 1-35 1-2 1 19 1-17 1-15 1 35 1 0 1-17 1 20 1-12 1-3 1 18 1-37 1 8 1-16 1 26 1-5 1 16 1-29 1-13 1 30 1 16 1-27 1 13 1-42 1 32 1 3 1 27 1-17 1-26 1 10 1 14 1-34 1 23 1 2 1 17 1-6 1-16 1-22 1 10 1-8 1 8 1-14 1 2 1-5 1-8 1 35 1-32 1 37 1 2 1-18 1-8 1 32 1-24 1 17 1-3 1 18 1-11 1-5 1 9 1 4 1-5 1-11 1 36 1-26 1-6 1 22 1-21 1 9 1-21 1-9 1-7 1 48 1-11 1-38 1 9 1 11 1 1 1 18 1 1 1-8 1 5 1-1 1-9 1 12 1 19 1-50 1 34 1-9 1 34 1-63 1 63 1-20 1-17 1-10 1 25 1-35 1 28 1-5 1-2 1-6 1-4 1 15 1 17 1-8 1 19 1-15 1-4 1-17 1 28 1-23 1-18 1 29 1 5 1 13 1-3 1-50 1 35 1-8 1 9 1-6 1 0 1-22 1-12 1 14 1 11 1-11 1 32 1-5 1 18 1-34 1-13 1 35 1-27 1 21 1-14 1-18 1 17 1 1 1 4 1 4 1-26 1 40 1-9 1 2 1-16 1 23 1 3 1 10 1-33 1 7 1 6 1 2 1-4 1-16 1 42 1-26 1-11 1-8 1 20 1-10 1 0 1 0 1 7 1 26 1-22 1 10 1-13 1-10 1 25 1 1 1-19 1 34 1-40 1 12 1 19 1-6 1-14 1 21 1-16 1 0 1-1 1-10 1 28 1-4 1 12 1-40 1 22 1-10 1-15 1 5 1-14 1 24 1-13 1 4 1 24 1-28 1 18 1-26 1 10 1 14 1 1 1 4 1 1 1-2 1 21 1-23 1 11 1-12 1-13 1 18 1-6 1-10 1-10 1 17 1-10 1-1 1 22 1-17 1 19 1 6 1 0 1-7 1-12 1 30 1-21 1-7 1 16 1-12 1 6 1-21 1 20 1 1 1-6 1 31 1-20 1-23 1 31 1-14 1-24 1 16 1 9 1-37 1 24 1 3 1-21 1-9 1 17 1 13 1 25 1-23 1-21 1 3 1 21 1-25 1 25 1-10 1-2 1-12 1 34 1-27 1 3 1 7 1-16 1 37 1 2 1-24 1 14 1-18 1-16 1 5 1-30 1 8 1 54 1-17 1 2 1 4 1-27 1 13 1-27 1-1 1-5 1 9 1-17 1 24 1-18 1 37 1 21 1-13 1-31 1 34 1 8 1 11 1-32 1-14 1-5 1-3 1 3 1-17 1 20 1 43 1-64 1 28 1-5 1 8 1 9 1 37 1-28 1 27 1-37 1 18 1 18 1-12 1 15 1 0 1-45 1 73 1-30 1-15 1-25 1 28 1-2 1-18 1-15 1 17 1 5 1-10 1 5 1-4 1 3 1 4 1-4 1-15 1 11 1-1 1 9 1-1 1-3 1 23 1-14 1 9 1 2 1 4 1 1 1 0 1-26 1 9 1-7 1 8 1 9 1-6 1-9 1-9 1-30 1 15 1 21 1-21 1 29 1-44 1 23 1-26 1 30 1-23 1 3 1-1 1 19 1 3 1-2 1-7 1 25 1-12 1 1 1 1 1-5 1 3 1 13 1 16 1-6 1 5 1-16 1-23 1-16 1 14 1 5 1-9 1 21 1-12 1 9 1-29 1 7 1 43 1-33 1-2 1 4 1 0 1 6 1 19 1-35 1 9 1 17 1 2 1-24 1 31 1-8 1-16 1 13 1 6 1-13 1 17 1 11 1-19 1 11 1-48 1 39 1-25 1 3 1 23 1-39 1 30 1-2 1 13 1-28 1 19 1-16 1 17 1-5 1 29 1-37 1 9 1 15 1-15 1 6 1-15 1 1 1 28 1-19 1-26 1 1 1 33 1-13 1 20 1-4 1-24 1-13 1-14 1 29 1-17 1 4 1 5 1 11 1 15 1-5 1-14 1 10 1 12 1-21 1 38 1-22 1-16 1-9 1-11 1 55 1-35 1-22 1 42 1-23 1-1 1 13 1-19 1-2 1-2 1 22 1 10 1 14" stroke="#00ff29" stroke-width="1.6" fill="none" transform="scale(.5)"/>
<path d="M48 193l1 16 1-11 1 9 1 5 1-5 1-39 1 36 1-19 1-29 1 37 1-13 1-18 1-14 1 40 1-4 1 5 1-11 1 36 1-54 1 13 1-1 1 29 1-8 1-39 1 35 1-40 1 29 1-51 1-5 1 55 1-12 1-17 1-26 1 23 1-1 1 25 1-11 1-38 1 24 1-6 1 9 1-8 1 42 1 0 1-24 1-10 1-5 1 15 1 32 1-17 1-10 1 12 1-33 1 2 1 18 1-28 1 42 1-31 1-12 1 39 1-21 1 0 1 29 1 1 1-36 1 32 1-44 1 48 1-21 1-2 1 23 1-17 1-35 1 34 1 8 1 2 1 9 1-30 1-13 1-4 1 16 1-1 1 12 1 22 1-32 1-11 1 20 1 3 1 8 1 10 1-13 1-4 1-17 1 15 1 9 1-22 1 30 1-27 1 11 1-40 1 44 1-22 1-6 1 11 1 0 1-16 1-9 1 27 1 5 1-9 1-8 1 0 1-27 1 22 1-4 1 10 1-33 1 14 1 13 1-22 1 8 1 44 1-26 1-4 1 10 1-17 1 19 1-8 1-8 1 18 1 11 1-10 1-20 1 23 1-11 1 3 1 11 1 4 1 7 1-17 1 35 1-15 1-2 1 15 1-8 1 7 1-5 1-23 1 19 1 4 1-4 1 8 1-10 1-22 1 10 1-12 1-5 1 48 1-15 1 6 1-38 1 30 1-19 1 17 1 0 1 8 1-33 1 31 1-4 1-12 1-24 1-4 1-8 1 1 1 39 1-40 1 14 1 17 1-13 1 15 1 12 1-27 1 18 1 5 1-18 1 15 1-17 1 3 1 11 1-18 1 0 1 11 1 9 1-32 1 36 1-13 1 2 1 20 1-35 1 2 1-2 1 22 1 6 1-29 1 32 1-24 1 22 1 18 1-3 1-15 1 13 1-2 1-43 1 21 1 21 1-3 1-23 1 20 1-1 1-8 1 0 1 24 1-14 1 1 1-37 1 19 1 16 1-8 1-6 1-10 1 17 1-6 1-19 1 53 1-36 1-19 1 2 1 10 1 2 1-5 1 10 1 20 1-32 1 28 1-4 1-25 1-3 1 29 1 4 1-3 1-1 1-16 1 19 1-23 1 23 1 5 1-1 1 9 1-9 1 7 1-11 1 21 1-23 1 21 1-28 1-6 1 19 1-4 1-5 1-4 1 21 1-5 1 6 1-16 1 10 1-18 1 5 1 19 1 0 1-9 1 14 1-26 1 28 1-20 1 0 1-10 1 30 1-31 1 31 1 0 1-42 1 23 1-14 1 9 1 6 1-3 1 12 1-3 1-28 1 7 1-1 1 0 1 24 1-9 1 3 1-28 1 23 1-23 1 26 1-11 1 14 1-1 1 4 1-19 1 9 1-26 1 54 1-36 1-22 1 19 1 17 1-33 1 32 1-26 1 28 1-23 1-16 1 17 1 19 1-57 1 16 1 24 1-26 1-13 1 34 1-9 1 4 1-1 1 12 1-19 1-11 1 23 1 0 1 2 1 5 1-13 1-14 1 35 1 18 1-16 1-6 1 9 1-16 1-18 1-8 1 35 1-20 1 4 1 22 1 9 1 8 1-51 1 24 1-8 1 13 1-2 1 8 1-12 1-15 1-16 1 63 1-40 1 21 1-10 1 11 1-14 1 19 1-37 1 25 1-2 1-21 1-1 1 4 1 38 1-29 1 26 1-21 1 14 1 10 1-5 1-9 1 2 1 40 1-12 1-19 1-23 1 13 1 21 1-44 1 10 1 4 1-15 1 4 1 16 1-17 1 4 1 8 1-24 1 22 1 17 1 1 1-45 1 27 1 31 1-42 1 3 1 19 1-15 1-1 1 1 1 15 1 1 1 1 1-27 1-3 1 37 1-14 1 3 1 4 1 16 1-6 1-26 1 20 1-4 1 13 1-9 1 16 1 1 1-27 1-19 1 22 1-21 1 11 1 16 1-26 1-20 1 21 1-7 1-9 1 32 1 0 1-5 1 13 1-19 1 32 1-26 1 10 1-23 1 17 1-11 1-11 1 20 1-16 1 25 1-36 1-4 1 45 1-9 1-14 1-23 1 18 1 13 1 25 1-38 1 36 1-52 1 51 1-15 1-21 1 32 1-19 1-14 1 7 1 19 1-21 1-3 1 9 1 0 1-15 1 38 1 7 1-27 1 8 1-9 1-12 1 19 1-19 1-7 1 14 1 13 1-12 1 19 1-1 1 4 1 7 1-28 1 19 1-1 1-3 1-14 1 17 1-6 1 10 1-14 1-7 1-15 1 22 1 31 1-27 1-4 1-14 1 19 1-5 1 1 1-8 1-15 1 3 1 3 1-6 1-4 1 25 1-6 1-10 1 5 1 24 1-45 1 35 1-49 1 67 1-21 1 32 1-7 1-29 1 9 1-2 1-38 1 49 1-3 1 3" stroke="#14ff00" stroke-width="1.6" fill="none" transform="scale(.5)"/>
<path d="M48 209l1-12 1 10 1 12 1-3 1-17 1 7 1-19 1 2 1-25 1 52 1-25 1-9 1 1 1 11 1-19 1 35 1-1 1-52 1 16 1 17 1 24 1-63 1-24 1 16 1 30 1-27 1 6 1 26 1-27 1-30 1 54 1-29 1-32 1 16 1 6 1-18 1 12 1 14 1 24 1 5 1-11 1-21 1 18 1-12 1-23 1 30 1 1 1-41 1 15 1 48 1-12 1-40 1 4 1 36 1-16 1 38 1-27 1 16 1-29 1-23 1 9 1 51 1 3 1-49 1 26 1-4 1-6 1 11 1-14 1-20 1 27 1 0 1-14 1 8 1-16 1 34 1 12 1-34 1 11 1 9 1 3 1 3 1 14 1 1 1-29 1 13 1 22 1-30 1 30 1-30 1-20 1 20 1 9 1-5 1-14 1 22 1-40 1 32 1-32 1 11 1-3 1-2 1 8 1 10 1-13 1 9 1-11 1-2 1 2 1 5 1-44 1 13 1-2 1 24 1 8 1-10 1-9 1-5 1 17 1-7 1 7 1-10 1-13 1 29 1-15 1-2 1-10 1 15 1-6 1 18 1-12 1 1 1-13 1 34 1-16 1 17 1 1 1-16 1 4 1-22 1 16 1-8 1-2 1 49 1-18 1 1 1-30 1 37 1-10 1 10 1 16 1-23 1 19 1-8 1 13 1-4 1 0 1-10 1-14 1 17 1 13 1-7 1 8 1-13 1-16 1 24 1-11 1 18 1-23 1 18 1-29 1-17 1 17 1-11 1 27 1-40 1 2 1 18 1 10 1-14 1 6 1-9 1 23 1-6 1-30 1 42 1-31 1 33 1-36 1-3 1 12 1-19 1-16 1 0 1 41 1-34 1-5 1 53 1-30 1 8 1-16 1 15 1-17 1 28 1-40 1 28 1-9 1 13 1 12 1-15 1 14 1 18 1-37 1 13 1 3 1-3 1-21 1 51 1-29 1 2 1 4 1 15 1-37 1 35 1-2 1 14 1-39 1 40 1-36 1 28 1-17 1-1 1-18 1 32 1-24 1 27 1-30 1 43 1-39 1 18 1-12 1-3 1 21 1-3 1-11 1 24 1-50 1 9 1 17 1 12 1-1 1 0 1-15 1-8 1-7 1 8 1 19 1-6 1-5 1 4 1 14 1 1 1-4 1 7 1-30 1 14 1 9 1-15 1 10 1-17 1-2 1 11 1 16 1 3 1-35 1 18 1-7 1 14 1-6 1 22 1-23 1 9 1-4 1 5 1-34 1 41 1-4 1 2 1-27 1 39 1-35 1 15 1 3 1 3 1-13 1 30 1-45 1 6 1 32 1-11 1 12 1-2 1 0 1-4 1 2 1 20 1-26 1-15 1-1 1 10 1 19 1-47 1 18 1 12 1-13 1-34 1 34 1-6 1 3 1-16 1 8 1 11 1-5 1-20 1 21 1-4 1 31 1-13 1-8 1-17 1 14 1 17 1-19 1-38 1 56 1-24 1 11 1-47 1 57 1-1 1-20 1 38 1-10 1-20 1 8 1-33 1 38 1-36 1 42 1 0 1-35 1 26 1-33 1 37 1-10 1-14 1 31 1-16 1-26 1 10 1-3 1-16 1 11 1 17 1-8 1 13 1 18 1-39 1 3 1 18 1-6 1 7 1-11 1 8 1 23 1 3 1-18 1-20 1 39 1-39 1 4 1 19 1-45 1 41 1-8 1 3 1 11 1-14 1 21 1-34 1 28 1 8 1-31 1 45 1-16 1-34 1 34 1-15 1-6 1 8 1-23 1 31 1-17 1-36 1 24 1 15 1-23 1 23 1-38 1 19 1 12 1-16 1-8 1 20 1-16 1 33 1 8 1-41 1 5 1 10 1 5 1-2 1 21 1-12 1 3 1-17 1 12 1-7 1 20 1 5 1-32 1 26 1-2 1-8 1 2 1-5 1-16 1 25 1 4 1-6 1 19 1-15 1-1 1 18 1 6 1 0 1-13 1-14 1 18 1-21 1 17 1 1 1-40 1 10 1 9 1 12 1-11 1 1 1 3 1-1 1-31 1 37 1 0 1-24 1-1 1 24 1-9 1-16 1 25 1-12 1-9 1-13 1 12 1-4 1 14 1-14 1 9 1-8 1-6 1 20 1-17 1 11 1 7 1-13 1-19 1 36 1-25 1 4 1-1 1 4 1 6 1 12 1-20 1 4 1 7 1-10 1 9 1 7 1-5 1-3 1 9 1 2 1 13 1 4 1-9 1-27 1 7 1 5 1 32 1-29 1 34 1-9 1-9 1-10 1-13 1 27 1 5 1-25 1 19 1-21 1 3 1 2 1 36 1-25 1-12 1 14 1 16 1 2 1-54 1 5 1 16 1-28 1 30 1 27 1-27 1-30 1 21 1 7 1-13 1-27 1 32 1 5 1 25 1-29 1 36 1-35 1 0 1 19 1 3" stroke="#52ff00" stroke-width="1.6" fill="none" transform="scale(.5)"/>
<path d="M48 181l1 29 1-6 1 14 1-14 1-2 1-7 1 9 1-9 1 12 1-8 1-13 1 16 1-12 1-5 1 23 1-12 1 1 1-15 1 29 1-9 1-26 1 12 1 19 1-7 1-17 1 1 1-3 1-31 1 33 1 8 1-25 1 8 1 9 1-9 1 8 1-15 1-6 1-8 1 5 1-17 1 0 1 15 1-13 1 14 1-2 1 0 1 10 1-13 1-7 1 9 1-1 1 18 1-4 1-28 1-5 1 9 1 25 1-27 1 37 1-12 1 20 1-10 1-13 1 6 1 6 1 11 1-18 1-5 1 8 1-12 1 16 1-1 1 6 1-21 1 24 1 8 1-8 1-18 1-5 1-20 1 23 1 18 1-19 1-2 1-4 1-12 1 44 1-31 1 24 1-19 1-2 1-12 1 10 1-2 1-8 1 2 1-2 1-8 1 2 1 39 1-45 1 25 1-27 1 5 1 23 1-33 1 28 1 8 1-24 1 13 1 4 1-42 1 25 1 2 1 20 1-17 1-11 1-1 1 18 1-1 1 4 1-21 1 21 1-7 1-10 1-2 1 43 1-15 1-11 1 13 1-17 1 31 1-16 1-38 1 22 1 0 1 5 1-16 1 28 1-8 1 17 1-14 1 16 1 2 1-17 1 2 1 7 1-6 1-6 1 27 1-11 1-7 1-17 1 3 1 13 1-10 1-2 1 23 1 0 1-15 1 5 1 11 1-3 1 9 1-22 1-2 1 14 1 13 1-22 1-2 1 1 1 15 1-1 1-27 1 22 1-5 1 5 1-21 1 6 1 8 1 1 1-16 1 21 1-1 1-11 1 6 1 7 1-16 1-1 1-15 1 10 1-9 1-3 1 26 1-4 1 0 1-1 1 16 1-41 1 42 1-28 1-8 1 0 1-2 1 10 1 13 1-19 1 23 1-15 1 8 1 19 1-21 1-9 1 13 1 3 1-10 1-1 1 12 1-18 1 10 1-6 1 19 1-11 1 11 1-3 1-1 1-9 1 25 1-23 1 4 1-14 1 17 1-10 1-2 1 27 1-2 1-4 1 0 1 5 1-7 1 2 1-15 1 6 1 1 1-26 1 13 1 5 1 36 1-43 1-3 1 33 1-22 1 19 1-9 1 20 1-24 1 8 1-15 1 1 1-2 1 0 1 19 1 3 1-20 1-3 1 5 1 10 1-5 1-9 1-18 1 44 1-10 1-12 1 0 1 16 1 6 1-16 1 5 1-3 1 26 1-26 1-1 1 19 1-6 1-7 1 11 1-6 1-3 1 7 1 4 1-3 1 5 1-4 1 4 1-19 1 30 1-9 1-11 1 2 1 15 1-16 1-21 1 21 1-27 1 23 1 20 1-29 1-6 1 13 1 6 1 16 1-28 1 1 1-15 1 40 1-27 1 8 1 8 1-13 1-9 1 4 1 3 1 10 1 1 1-20 1 1 1-13 1 17 1 27 1-19 1-8 1 24 1-12 1 9 1 5 1-35 1 15 1-5 1 16 1-17 1 2 1-26 1 20 1-1 1-5 1 15 1-6 1 5 1 8 1-9 1-8 1 1 1-22 1 7 1-4 1 32 1-42 1 11 1 13 1-14 1 16 1-27 1 30 1-12 1-21 1 1 1 1 1 15 1 1 1 12 1 8 1 3 1 2 1-15 1-6 1 4 1 22 1-18 1-4 1 5 1 19 1-21 1 20 1 17 1 6 1-31 1 28 1-4 1 28 1-20 1-13 1 10 1 4 1-11 1 9 1-19 1 2 1 22 1-23 1 2 1-11 1-31 1 47 1-26 1 12 1-26 1 17 1 10 1-25 1 34 1-9 1-6 1-6 1 14 1-32 1 36 1-36 1 15 1 18 1-12 1-21 1 0 1 4 1 9 1-2 1 20 1-12 1 22 1-4 1-27 1 26 1-1 1-28 1 8 1-6 1-3 1 12 1 5 1-12 1-9 1 29 1 9 1-3 1-33 1 10 1 1 1-6 1 19 1-24 1 6 1 8 1-2 1 3 1-3 1 9 1-2 1-3 1 6 1-2 1 2 1-3 1 0 1-1 1-12 1 5 1 4 1-2 1 4 1-1 1 0 1 12 1 13 1 0 1-20 1-1 1-4 1-1 1 10 1-1 1-1 1 9 1-16 1 14 1-8 1-15 1 25 1-28 1 18 1-19 1 0 1 21 1-8 1-3 1-8 1-10 1 16 1 4 1 13 1-11 1 11 1-20 1 17 1-1 1-14 1 15 1 12 1-37 1 3 1 9 1 2 1-4 1 13 1-21 1 39 1-27 1 3 1-7 1-6 1 10 1-3 1 8 1 7 1-21 1-13 1 16 1 12 1-33 1 33 1-7 1-21 1 22 1 10 1-13 1 10 1 3 1 10 1 1 1-27 1 8 1 3 1-15 1 15 1 2 1 0 1-23 1 14 1-11 1 26 1 1" stroke="#b8ff00" stroke-width="1.6" fill="none" transform="scale(.5)"/>
<path d="M48 187l1 18 1-3 1 28 1-19 1 0 1-13 1 10 1 1 1 0 1 7 1-19 1-10 1 3 1 0 1-14 1-15 1 18 1 1 1 6 1-4 1 10 1 1 1-14 1 20 1-7 1-18 1 30 1-11 1-9 1-6 1 6 1-33 1 22 1 14 1-25 1 22 1-18 1 7 1 2 1-36 1 0 1 12 1 4 1 23 1-8 1-18 1 16 1-28 1 13 1 3 1 0 1 9 1-25 1 28 1-26 1 8 1-3 1-9 1 40 1-33 1 36 1-25 1 15 1 5 1-19 1 4 1 3 1-4 1 11 1-34 1 17 1 12 1 25 1-18 1-11 1 17 1-29 1 15 1 2 1-26 1 2 1 9 1 27 1-23 1 0 1 3 1-6 1 18 1 6 1 13 1-18 1 19 1-18 1 15 1-28 1-27 1 5 1 31 1-10 1-12 1 7 1-11 1-13 1 18 1 6 1-14 1 36 1-9 1-13 1 22 1-18 1-4 1-3 1-10 1 12 1 17 1-20 1 12 1-20 1-4 1 21 1-3 1-4 1-10 1 11 1 3 1-23 1 13 1-12 1 21 1 10 1-2 1 11 1-19 1 9 1-4 1-9 1 16 1-13 1-15 1-7 1 24 1 22 1-30 1 19 1-25 1 18 1-11 1-9 1 6 1 25 1-1 1-19 1-3 1 15 1 4 1 7 1-16 1 11 1-3 1-13 1-5 1 23 1-30 1 3 1 20 1 2 1-2 1 5 1-20 1 30 1-7 1-9 1 6 1-5 1 2 1 8 1 0 1 18 1-24 1-11 1 17 1-10 1-3 1 22 1-10 1 0 1-18 1 10 1-6 1 11 1-21 1 8 1-7 1 5 1 0 1-22 1 7 1 1 1 10 1 5 1 5 1-13 1 24 1-10 1 3 1-3 1-12 1 7 1-6 1 9 1-8 1-14 1 10 1 22 1-20 1 23 1-2 1-11 1-1 1-1 1 4 1-7 1-9 1 15 1-14 1 6 1 10 1 8 1 0 1-33 1 14 1 14 1-7 1 9 1 11 1-31 1 33 1 3 1-37 1 16 1-14 1-2 1 18 1 8 1-28 1 12 1 4 1-6 1 17 1 13 1-45 1 47 1 9 1-31 1 31 1-23 1 5 1-5 1 11 1-32 1 26 1 1 1 0 1-12 1 14 1-9 1-10 1 14 1-3 1 7 1-11 1-4 1-25 1 33 1-2 1-3 1-5 1 4 1 18 1 6 1 5 1-49 1 24 1-3 1-7 1 17 1 11 1-4 1-40 1 33 1 7 1-8 1 24 1-5 1-14 1-7 1-15 1 43 1-33 1 4 1-5 1 2 1 11 1-8 1-20 1 11 1 21 1-9 1-17 1 21 1-1 1-21 1 39 1-10 1-7 1 12 1-16 1 0 1-11 1-4 1 12 1-6 1 6 1-1 1-11 1 8 1 4 1 4 1-8 1-24 1 12 1 16 1-7 1 20 1-31 1 27 1-7 1-1 1-7 1 0 1 18 1-34 1 8 1 6 1-13 1 15 1-18 1 17 1-9 1 0 1 2 1-3 1 1 1 9 1-8 1 2 1-21 1 8 1 5 1 26 1-31 1 8 1 15 1-25 1 24 1 2 1-1 1-7 1 7 1-18 1 6 1 5 1-24 1 36 1 5 1-19 1 33 1-26 1 24 1 0 1-13 1 21 1-27 1 14 1 14 1 14 1-14 1-18 1 20 1-23 1 4 1 30 1-14 1-19 1 15 1-19 1 8 1 16 1-24 1-12 1-1 1 5 1 2 1-6 1 26 1-23 1-17 1 35 1-35 1 19 1-4 1-3 1 10 1-9 1-18 1 14 1 6 1 3 1-2 1-1 1 7 1 17 1-31 1 10 1 0 1 5 1-11 1 5 1-20 1 13 1 7 1-14 1 6 1-3 1-3 1-10 1-4 1 4 1 17 1 11 1-32 1 44 1-2 1-22 1 10 1-9 1 2 1 10 1-19 1 4 1-9 1 12 1 10 1 19 1-25 1-16 1 14 1 7 1-10 1 26 1-19 1 24 1-27 1-22 1 21 1 18 1-4 1-35 1 48 1-7 1-5 1-15 1 0 1 7 1-10 1-5 1 6 1 13 1-4 1-3 1 9 1-8 1-6 1 12 1 1 1-4 1-1 1-2 1-2 1 8 1-34 1 11 1-12 1 16 1-16 1 28 1-12 1 11 1-10 1 10 1-30 1 21 1-1 1-12 1 9 1 25 1-40 1 1 1 23 1-6 1 6 1-7 1-2 1 15 1-8 1 12 1-8 1 13 1-15 1 21 1-10 1-3 1 10 1 1 1 5 1 12 1-12 1-21 1 19 1-4 1 8 1-7 1 5 1-34 1 8 1 41 1-41 1 27 1-6 1-25 1 12 1 8 1 13 1 6 1 9 1-29 1 24 1-27" stroke="#fff500" stroke-width="1.6" fill="none" transform="scale(.5)"/>
<path d="M48 200l1 0 1 5 1 0 1-7 1 3 1 13 1-24 1-14 1-6 1 15 1 13 1 13 1-35 1 12 1-11 1 15 1-2 1 15 1-3 1-8 1-8 1 8 1-15 1 19 1 3 1-7 1 12 1-29 1 13 1-5 1-15 1 10 1-9 1 5 1-5 1 7 1-10 1 6 1 12 1 6 1-15 1-27 1 32 1-7 1-25 1-14 1 5 1 0 1 43 1-27 1 3 1 9 1 7 1-19 1-5 1 11 1 3 1-13 1-8 1-4 1 25 1-20 1 5 1-16 1 6 1 20 1-15 1 15 1-10 1-3 1 21 1-7 1-2 1 23 1-29 1-3 1 13 1-1 1-23 1 20 1 3 1-5 1 17 1-25 1 33 1 7 1 3 1-33 1 26 1-23 1-10 1 18 1-9 1 3 1-3 1 16 1-10 1 4 1-6 1-3 1-9 1-19 1 22 1-14 1 6 1 2 1 0 1-12 1-1 1-9 1 5 1 10 1-25 1 16 1 21 1-40 1 22 1 6 1-6 1-4 1 16 1-12 1 4 1-18 1 31 1 12 1-25 1 13 1-8 1 27 1-9 1-2 1-5 1-12 1 15 1 1 1-25 1 26 1-20 1 40 1-12 1 5 1-15 1 22 1-13 1-5 1-4 1-8 1 6 1 2 1-8 1 27 1-29 1 20 1 8 1-14 1-1 1-11 1-7 1 31 1-33 1 22 1-15 1 19 1 2 1 5 1-15 1-1 1-5 1 3 1 0 1 12 1-8 1 2 1 27 1-37 1 15 1 22 1-42 1 30 1-15 1 10 1-4 1-24 1 30 1-15 1-14 1 22 1-21 1 7 1 2 1-24 1 27 1 1 1-6 1 12 1-10 1 21 1-25 1 7 1 4 1-5 1-29 1 16 1 20 1-19 1-9 1 27 1-16 1 29 1-24 1-22 1 11 1 0 1 4 1 12 1-1 1 12 1-18 1 5 1 11 1 1 1 3 1-30 1 19 1 2 1 1 1-8 1 9 1-21 1 11 1 27 1-24 1 12 1 20 1-48 1 6 1 13 1 3 1 0 1 2 1-14 1 12 1 16 1-26 1 8 1 0 1 10 1-20 1 26 1-12 1 3 1-4 1-3 1-6 1 25 1-12 1 9 1-2 1-22 1 13 1-8 1-13 1 39 1-9 1 1 1 13 1-31 1 26 1-23 1 9 1-4 1-10 1-6 1 33 1-16 1 10 1-10 1 6 1-7 1-1 1 9 1 9 1-32 1 6 1 14 1-7 1 5 1 11 1-10 1-15 1 21 1-10 1 3 1-3 1-20 1 38 1-21 1 25 1-27 1 16 1 2 1-12 1 11 1 1 1-12 1 15 1-3 1 8 1-15 1 3 1 1 1-2 1-2 1 8 1-4 1-15 1 7 1 9 1-13 1 6 1 0 1-6 1-3 1 1 1 14 1-15 1 8 1-11 1-11 1 13 1 18 1-8 1-7 1 9 1-6 1-9 1-4 1 9 1-9 1-13 1 24 1-17 1-5 1 6 1-11 1 41 1-22 1 14 1-11 1-9 1-15 1 28 1-8 1 3 1-15 1 35 1-31 1 14 1-8 1 21 1-2 1-16 1-8 1 22 1 0 1-31 1 24 1-10 1 24 1 2 1-32 1 5 1-6 1 21 1 7 1-28 1 1 1 32 1-5 1-14 1 17 1 11 1 7 1-10 1-11 1 25 1 2 1-8 1 29 1 2 1 3 1-21 1-13 1-5 1-2 1-15 1-9 1 35 1-14 1-6 1 5 1-21 1 1 1-1 1 15 1-18 1 4 1-7 1 11 1 3 1-5 1-3 1 24 1-32 1 0 1 14 1-19 1 1 1 16 1 7 1 16 1-1 1-13 1 15 1-31 1 9 1-15 1 28 1-21 1 9 1-4 1 9 1-4 1 14 1 4 1-16 1 2 1-5 1-8 1 28 1-44 1 3 1 4 1 37 1-7 1 5 1-27 1 9 1 22 1-41 1-9 1 5 1 13 1 14 1 1 1-10 1 6 1-5 1-5 1 16 1-15 1-5 1 2 1 2 1 4 1 10 1-10 1 6 1-8 1-3 1 27 1-29 1 25 1-38 1 39 1-31 1 15 1 5 1 2 1 1 1-8 1 17 1-16 1-11 1 22 1-4 1-13 1-5 1 28 1-9 1-3 1-7 1-7 1 26 1-14 1-16 1 15 1-4 1-1 1-22 1 29 1 3 1-23 1 19 1-12 1 3 1-17 1 21 1-8 1 1 1 7 1-14 1 20 1 17 1-14 1-11 1-13 1 13 1-4 1-3 1-1 1 9 1 14 1-5 1 6 1-1 1-39 1 59 1-18 1-13 1 2 1 15 1-3 1 16 1-39 1 23 1-11 1 11 1-1 1-1 1-20 1 21 1 5 1-8 1 1 1 19 1-5 1-16" stroke="#ffa300" stroke-width="1.6" fill="none" transform="scale(.5)"/>
<path d="M48 188l1 24 1-2 1 8 1-36 1 15 1 18 1-19 1 8 1 4 1-5 1-11 1-5 1 14 1 10 1-20 1-18 1-10 1 3 1 26 1 19 1-21 1 9 1-20 1 5 1-4 1 2 1 12 1-12 1-30 1 35 1 10 1-25 1-2 1 8 1-11 1 19 1-9 1 13 1-4 1-14 1 1 1 0 1-9 1-19 1 6 1-8 1-7 1 17 1 4 1-3 1 9 1-20 1 15 1-25 1 15 1 4 1 3 1-11 1 14 1-7 1 10 1-4 1 16 1-32 1 14 1 10 1 15 1 2 1-4 1-4 1 11 1-24 1-4 1 19 1-35 1 4 1 30 1-25 1 8 1 11 1 3 1-14 1-4 1 1 1-6 1 25 1-8 1-16 1-3 1 26 1 1 1-24 1 37 1-48 1 18 1 13 1-17 1 9 1 10 1-11 1 2 1 13 1-26 1-6 1-4 1 17 1-19 1-1 1 1 1 10 1-4 1-8 1 20 1 9 1-21 1-8 1 8 1 1 1-2 1 20 1-36 1 7 1 17 1-16 1 16 1 11 1-24 1 15 1 12 1-1 1-11 1 1 1-17 1 12 1 8 1-1 1 3 1-16 1 5 1-1 1 6 1 23 1-24 1 9 1 14 1-19 1 7 1-20 1-1 1 12 1-14 1 9 1 3 1 16 1 2 1 10 1 4 1-7 1-8 1-16 1 24 1-12 1-7 1 24 1-25 1 18 1-9 1-18 1 13 1-14 1 12 1 8 1-4 1 14 1-17 1 7 1-9 1-2 1 14 1 16 1-27 1-1 1-7 1 2 1 11 1 3 1-19 1 15 1-12 1 21 1-11 1-5 1 11 1-17 1 13 1-8 1-5 1-5 1 22 1-16 1 24 1-16 1-9 1 9 1-6 1-11 1 28 1 1 1-5 1-29 1 18 1 2 1 13 1-34 1 13 1 22 1-28 1 7 1 7 1 7 1-15 1 5 1 12 1-5 1-8 1 15 1-23 1 16 1-15 1 20 1-2 1-11 1 18 1-4 1 23 1-7 1-1 1-1 1 4 1-13 1-10 1 14 1-17 1 18 1-20 1 10 1-8 1 1 1 16 1 1 1-12 1 3 1-19 1 37 1-31 1 6 1 0 1 25 1-28 1 2 1-2 1 27 1-10 1 5 1-10 1 9 1 0 1 8 1-33 1 29 1-23 1-8 1 4 1-5 1 11 1 7 1-7 1 11 1-16 1 18 1-28 1 24 1 3 1-3 1-3 1-4 1 3 1-9 1 25 1 4 1-24 1-1 1 33 1-25 1-2 1 14 1 0 1 8 1-20 1-10 1 12 1 14 1-16 1-11 1 11 1-1 1 8 1 1 1-9 1 7 1-1 1-3 1-13 1 7 1-11 1 6 1-10 1 27 1-7 1 1 1 13 1 9 1-7 1-13 1 19 1 0 1-5 1-10 1-3 1 10 1-6 1-8 1-9 1 3 1 0 1-22 1 15 1 11 1 4 1-16 1 5 1 8 1-2 1-22 1 20 1-12 1 11 1-2 1 10 1 6 1-33 1 13 1 10 1 19 1-27 1-10 1 29 1-31 1-8 1 21 1-4 1 0 1 3 1 10 1-30 1 30 1-1 1-5 1-14 1 9 1 3 1-2 1 2 1 23 1-33 1-14 1 33 1 2 1 19 1-35 1 0 1 39 1-29 1 13 1-6 1 36 1-7 1-25 1 15 1-7 1 25 1-12 1 17 1-39 1-3 1-5 1 17 1-12 1 0 1-7 1 9 1-8 1 6 1-14 1 5 1 10 1-10 1-4 1 2 1 7 1 7 1-11 1 6 1 7 1-9 1 6 1-16 1 20 1-18 1 0 1 13 1 3 1 9 1-8 1-4 1-21 1 20 1-17 1 14 1-7 1-6 1 25 1-20 1 5 1 8 1-13 1 5 1 12 1-28 1 11 1 8 1 8 1-17 1-10 1 19 1 1 1 10 1-4 1-11 1-2 1 18 1-21 1-9 1 6 1 2 1 20 1-27 1 20 1 1 1 4 1 10 1-22 1 22 1-19 1 6 1-9 1 3 1 0 1-18 1 14 1 10 1-27 1-2 1 9 1-2 1 21 1-2 1 2 1-30 1 16 1 6 1 2 1 18 1-35 1-9 1 17 1-2 1-7 1 10 1-17 1 19 1 6 1 11 1-3 1-15 1-8 1 23 1-10 1 21 1-37 1 3 1 10 1-3 1 20 1-18 1 15 1-10 1 1 1-9 1 17 1-10 1-11 1-9 1 30 1-3 1-1 1-14 1 13 1-9 1-3 1 17 1-6 1-21 1 29 1 14 1 0 1-21 1-24 1 17 1-23 1 29 1 7 1-7 1 7 1-23 1 26 1-8 1 1 1-1 1-3 1 4 1-6 1 16 1-27 1 24 1-28 1 23 1 16 1-4" stroke="#ff6600" stroke-width="1.6" fill="none" transform="scale(.5)"/>
<path d="M48 215l1-3 1-16 1-4 1 2 1-3 1 18 1 10 1-36 1 4 1 9 1 0 1 1 1-21 1 25 1-14 1 11 1-11 1-16 1 28 1-15 1-6 1-11 1 12 1 18 1-1 1-7 1-15 1 7 1 1 1-10 1 2 1 6 1-13 1 6 1-10 1 4 1 1 1 10 1 1 1-15 1 8 1 15 1-45 1 23 1-18 1 30 1-11 1-2 1-3 1-24 1 31 1-17 1 1 1-14 1 18 1-18 1 3 1 42 1-26 1 27 1-7 1-2 1-35 1 40 1-18 1-7 1 29 1-14 1 0 1-22 1 8 1 11 1-8 1-18 1 21 1-2 1-1 1 7 1-8 1 22 1-32 1 11 1 16 1 5 1 8 1-6 1-24 1 23 1-14 1 18 1-5 1-23 1 4 1 3 1-17 1-7 1 11 1 11 1 5 1-12 1-4 1-9 1 20 1-32 1 23 1 7 1 4 1-27 1-2 1 7 1 15 1-5 1-6 1 12 1-12 1-2 1 23 1-26 1 8 1-12 1 14 1-13 1 16 1-10 1 4 1 28 1-17 1 5 1-14 1 3 1 16 1 2 1-4 1 10 1-38 1 27 1 12 1-5 1 5 1-23 1 15 1-14 1-9 1 33 1-11 1 8 1-23 1 5 1-7 1 20 1-19 1 0 1 2 1-1 1-1 1 25 1-29 1 3 1-4 1 25 1-20 1 16 1 7 1-10 1 14 1-25 1 31 1-17 1-24 1 21 1-10 1 19 1-28 1 23 1-25 1 22 1-23 1 0 1 24 1-17 1 27 1-10 1-7 1 18 1 7 1-23 1-4 1 8 1-15 1 8 1-9 1 26 1-30 1 28 1-3 1-17 1 2 1-11 1 31 1-26 1 9 1-8 1 6 1 8 1-1 1 8 1-12 1 7 1-25 1 14 1-16 1 30 1-10 1-15 1 6 1 10 1 11 1-24 1 9 1-19 1 39 1-40 1 22 1-10 1-7 1 24 1 9 1-10 1-8 1 12 1-16 1 5 1-7 1 9 1 3 1 7 1-9 1 3 1-21 1 45 1-7 1-4 1-4 1-16 1 0 1 9 1-1 1 10 1-12 1-20 1 36 1-15 1 13 1-7 1 11 1 0 1-14 1 10 1-2 1-1 1-16 1 7 1 7 1-5 1-22 1 32 1-10 1-5 1-9 1 0 1 7 1 14 1-3 1-13 1 0 1 1 1 7 1 4 1-2 1-9 1 13 1-28 1 7 1 18 1 6 1-17 1 21 1-13 1 2 1 2 1-4 1 17 1-16 1-3 1 17 1-21 1 13 1-8 1 9 1-15 1 13 1-12 1 22 1 1 1-11 1-3 1 8 1 1 1 24 1-6 1-17 1 16 1-6 1-18 1-6 1 8 1-8 1 4 1 1 1 8 1-26 1 40 1-28 1-7 1 1 1-3 1 23 1-23 1-11 1 12 1 14 1-18 1 12 1 15 1-5 1-23 1 21 1-9 1-5 1 25 1-31 1 15 1-14 1-4 1-9 1 20 1-3 1 16 1-30 1 25 1-21 1-10 1 19 1 8 1-13 1 19 1 7 1-1 1-16 1-13 1 33 1-17 1-9 1-9 1 22 1 18 1-17 1-18 1 14 1-7 1 10 1 17 1-42 1 24 1-8 1 9 1-7 1-6 1 30 1-20 1 2 1 23 1 0 1 7 1-18 1 9 1 16 1-13 1-2 1 4 1 6 1-7 1 7 1-4 1 9 1-26 1 4 1-7 1-9 1-7 1 8 1 6 1-8 1-14 1 26 1-10 1-1 1-13 1 11 1 23 1-16 1-3 1 20 1-8 1-15 1-7 1-1 1 7 1-5 1 12 1-14 1 16 1-20 1-2 1 23 1-18 1 11 1 3 1-4 1 10 1-4 1-6 1 0 1 15 1-13 1 11 1-1 1-14 1 13 1 14 1-31 1 21 1-34 1 20 1-3 1 10 1-4 1-16 1 1 1 12 1-6 1 5 1 4 1-1 1 15 1-11 1 1 1-11 1 22 1-2 1-9 1-3 1 5 1 7 1-3 1-17 1 14 1-9 1-9 1 3 1 10 1 10 1-24 1-2 1 6 1-5 1-10 1 28 1-23 1 8 1 5 1-2 1 12 1-20 1-1 1 18 1-4 1-11 1 21 1-5 1-20 1 19 1 3 1 1 1-16 1 5 1 1 1 6 1-14 1 7 1-3 1 3 1-7 1 14 1 7 1 6 1-16 1 7 1-3 1 4 1-16 1-6 1 35 1 3 1-29 1 18 1-9 1 12 1-31 1 14 1 22 1 1 1-44 1 14 1-5 1 29 1-14 1-21 1 17 1-7 1-15 1 12 1 19 1-33 1 44 1-9 1 3 1-36 1 34 1-18 1-7 1 11 1 13 1-3 1 27 1-12 1 3 1-7 1-4" stroke="#ff3d00" stroke-width="1.6" fill="none" transform="scale(.5)"/>
<path d="M48 216l1 2 1-24 1-4 1 14 1 6 1-31 1 31 1-1 1 9 1-16 1-10 1 0 1 2 1 17 1-6 1 8 1-8 1-11 1-8 1-18 1 36 1-37 1 6 1 30 1-13 1 1 1-13 1-1 1-15 1 7 1-17 1-4 1 9 1-12 1 11 1-3 1 10 1-12 1 23 1-22 1 22 1-8 1-5 1 6 1-20 1 17 1 9 1-8 1-3 1-9 1 13 1-5 1 5 1-15 1 9 1-7 1-18 1 20 1-6 1 0 1 8 1-5 1 24 1-7 1-1 1 9 1-9 1 1 1-2 1-1 1 7 1-6 1-6 1 27 1 1 1-14 1-10 1 2 1-16 1 20 1-19 1 27 1 5 1 5 1-24 1 14 1-19 1-2 1-1 1 19 1-23 1 36 1-31 1 3 1 2 1 5 1-20 1 10 1-8 1 10 1-4 1-5 1 7 1-9 1 10 1-9 1-5 1 8 1-8 1 9 1 2 1 17 1-40 1 25 1-2 1-10 1-12 1-9 1 40 1-2 1-14 1 20 1-23 1 16 1-30 1 3 1 16 1-15 1 18 1-6 1 18 1-1 1-10 1 4 1 11 1-21 1 16 1-14 1 2 1 23 1-16 1 4 1 17 1-33 1 5 1 10 1 7 1-24 1 16 1-14 1 28 1-17 1 9 1-19 1-8 1 24 1-12 1 14 1-16 1 13 1 1 1 7 1-15 1 0 1 6 1 25 1-21 1 14 1 1 1 0 1-1 1-25 1 28 1-7 1-12 1 4 1-1 1-9 1 2 1-8 1 14 1-20 1 14 1-7 1 13 1 3 1-12 1-3 1 1 1-24 1 18 1-16 1 18 1-5 1 4 1 16 1 9 1-26 1 4 1 3 1-6 1 3 1 2 1-13 1 26 1-32 1 23 1 16 1-10 1-14 1 7 1-2 1-2 1-12 1 3 1 15 1-3 1-2 1 17 1 1 1-19 1 18 1-13 1 3 1-21 1 28 1-9 1-1 1 11 1 4 1-24 1 23 1 6 1-14 1-15 1 31 1-30 1 24 1-22 1 1 1-9 1 16 1 3 1-5 1-12 1 10 1 14 1-3 1-13 1 26 1-11 1-14 1-9 1 13 1-1 1 14 1-1 1 17 1-24 1-3 1 6 1 6 1-18 1 20 1-5 1-5 1-24 1 24 1-11 1 14 1 1 1-28 1 36 1-17 1 24 1-6 1-1 1-16 1 13 1-10 1 21 1-15 1 7 1-19 1 26 1-15 1 11 1 11 1-15 1-5 1 13 1 5 1-17 1 16 1-13 1-12 1-3 1 8 1-6 1-5 1 20 1 4 1 6 1-28 1 9 1 15 1-10 1-1 1-4 1-7 1 15 1-10 1 20 1-12 1 8 1-15 1 0 1 21 1-38 1 23 1-14 1-1 1 12 1-10 1 12 1-5 1 5 1 14 1-18 1 0 1 18 1-34 1 15 1-15 1-7 1 32 1-3 1-12 1 6 1-16 1 24 1-17 1 23 1 0 1-8 1-13 1-3 1 2 1 3 1 4 1-20 1 12 1-3 1 21 1 6 1-14 1-9 1-14 1-1 1-9 1 12 1 8 1-14 1 9 1 7 1 26 1-33 1 26 1-5 1 9 1-5 1 2 1-4 1-15 1 7 1 4 1-6 1-4 1 3 1-4 1 18 1-35 1 26 1 18 1-25 1 17 1-4 1-11 1 3 1 48 1-19 1-9 1-10 1 19 1 3 1-14 1-8 1-7 1-1 1 4 1-1 1-3 1-8 1 14 1-1 1-2 1 11 1-15 1-22 1 18 1-6 1 5 1 10 1-14 1 16 1-28 1 26 1-3 1-13 1 31 1-20 1 3 1 17 1-2 1-22 1 11 1-4 1 14 1-17 1 12 1 9 1-2 1-18 1 20 1-18 1-14 1 4 1 27 1-27 1-15 1 10 1 4 1 7 1 2 1-1 1-3 1-18 1 18 1-12 1-2 1 27 1-4 1-1 1-11 1-10 1 21 1-28 1 7 1 10 1 25 1 2 1-4 1-11 1-5 1-18 1 15 1 12 1-12 1 6 1-7 1-18 1 24 1 15 1-30 1 5 1-7 1 20 1-17 1 1 1 23 1-28 1 3 1 0 1 23 1-18 1 10 1-5 1 24 1 0 1-1 1-23 1 4 1-5 1 7 1-22 1 16 1 13 1 4 1-8 1 13 1-30 1-19 1 26 1-12 1 0 1-12 1 28 1-17 1 2 1 12 1 14 1-22 1 8 1 4 1 4 1 7 1-30 1 22 1-26 1 24 1-1 1-5 1-11 1 31 1-29 1 4 1 23 1-6 1-8 1-13 1-3 1-10 1 18 1-6 1 11 1-5 1-18 1 0 1 29 1 7 1-22 1 21 1-16 1-1 1 20 1-14 1 10 1 13 1 0" stroke="#ff1f00" stroke-width="1.6" fill="none" transform="scale(.5)"/>
<path d="M48 215l1-17 1-5 1 19 1 9 1-26 1-13 1 26 1-2 1-15 1-14 1 31 1-27 1 5 1-11 1 26 1-13 1 12 1-4 1-2 1-11 1-2 1-4 1 4 1-13 1 24 1 5 1-11 1-32 1 22 1-14 1 18 1 16 1-30 1 6 1 2 1-3 1 3 1 4 1-7 1-11 1-14 1 19 1-9 1 10 1 0 1-13 1 9 1-1 1-20 1 14 1 11 1-30 1 21 1 15 1-24 1 8 1-12 1 33 1-15 1-2 1-4 1 0 1 7 1-7 1-17 1 22 1 26 1-14 1-9 1 3 1-5 1 1 1 0 1 5 1 2 1 0 1-14 1 8 1 9 1 4 1 0 1-15 1 13 1-8 1 11 1-20 1 19 1-18 1 2 1-2 1-1 1-12 1 17 1-12 1 18 1-14 1-12 1-9 1 7 1 20 1-10 1 9 1-3 1-3 1-21 1 16 1-13 1 30 1-24 1 12 1-10 1 10 1 15 1-15 1 15 1-50 1 22 1-4 1 19 1-16 1 33 1-15 1 3 1 13 1-28 1 6 1 9 1-15 1 12 1-22 1 22 1-18 1 22 1-18 1 27 1-20 1 13 1-17 1 17 1-30 1 1 1 12 1 18 1-2 1 8 1-14 1-13 1 13 1 5 1-11 1 11 1 3 1-15 1 26 1-25 1 6 1 6 1 1 1-5 1 25 1-13 1-4 1-4 1 14 1-4 1-10 1 8 1 14 1-20 1-16 1 20 1 10 1-18 1-7 1 13 1-9 1 12 1-6 1-2 1-6 1 13 1-6 1-7 1 10 1-10 1 21 1-14 1-3 1 7 1-16 1 0 1 10 1 7 1-11 1-29 1 21 1 13 1-19 1 14 1-4 1 19 1-1 1 0 1-36 1 47 1-19 1 4 1-16 1 8 1 21 1-22 1 13 1 7 1-14 1 19 1-30 1 5 1 7 1-25 1 11 1 8 1 0 1 6 1-12 1 12 1 8 1-9 1-16 1 18 1 21 1-32 1 0 1 14 1-9 1-6 1 12 1 14 1-11 1 11 1-12 1-8 1 21 1-11 1 13 1-3 1-6 1-3 1-5 1-22 1 24 1 0 1 0 1 12 1-14 1-8 1 17 1-23 1 21 1-7 1 5 1 8 1-1 1-9 1-6 1 26 1-20 1 0 1-5 1-3 1 20 1 1 1-3 1-29 1 25 1-25 1 0 1 34 1-13 1 20 1-4 1-36 1-2 1 38 1-29 1 8 1 11 1 9 1-2 1-20 1 18 1 2 1 14 1-17 1 17 1 1 1-13 1-4 1 16 1 2 1-32 1-9 1 19 1 7 1-11 1-14 1 8 1 15 1-19 1 21 1-10 1-5 1-15 1-1 1 18 1 6 1 4 1 10 1-16 1-2 1 5 1 10 1-21 1 17 1-5 1-34 1 27 1 13 1-19 1 14 1-13 1 5 1-8 1 4 1-17 1 2 1 2 1 22 1-1 1-8 1 5 1-20 1 7 1 12 1-19 1-9 1-5 1 39 1-20 1 0 1 1 1 13 1-34 1 5 1 7 1 32 1-43 1 1 1 17 1-8 1 22 1-13 1-4 1 20 1-43 1 7 1 34 1-30 1 14 1 3 1 29 1-17 1 2 1 9 1-23 1 25 1-7 1-34 1 18 1 0 1 24 1-1 1 14 1-4 1-30 1-1 1 12 1 13 1-22 1 8 1 18 1-13 1 17 1-1 1-23 1 22 1 0 1-17 1 2 1-4 1 0 1-26 1 16 1-9 1 4 1-9 1 12 1-9 1 29 1-23 1-4 1 17 1 4 1-17 1 7 1-6 1-1 1 4 1 7 1-3 1 0 1-2 1 17 1 1 1-19 1 10 1 6 1-10 1 1 1 15 1-15 1-15 1 5 1-4 1 5 1 3 1 0 1-8 1-13 1 4 1 16 1-8 1-1 1 0 1 23 1-18 1 9 1-8 1 15 1-18 1 16 1 2 1-9 1 0 1 8 1 13 1-4 1-15 1 17 1-26 1 14 1 11 1-15 1 8 1 4 1-14 1 12 1-34 1 22 1 4 1-11 1-3 1 8 1 4 1-1 1 0 1-27 1 19 1 9 1-3 1 4 1 1 1 12 1-24 1 30 1-20 1-6 1-13 1 13 1 14 1 5 1-14 1-15 1 15 1-20 1-4 1 33 1-24 1 23 1-24 1 12 1-16 1 24 1 6 1-16 1-4 1-8 1-2 1 32 1-19 1-4 1 23 1-11 1 7 1-17 1 16 1-27 1 20 1-5 1 6 1-24 1 13 1 35 1-24 1-32 1 1 1 35 1-19 1 5 1 7 1-4 1 12 1-22 1 24 1 13 1-31 1 5 1 4 1 30 1-37 1 16 1-13 1 19 1 4 1 5 1-26 1 1 1 26 1-12 1 1" stroke="#ff0000" stroke-width="1.6" fill="none" transform="scale(.5)"/>
<path d="M48 201l1-17 1 18 1 0 1 25 1-15 1 5 1-13 1-9 1 4 1 0 1 1 1-26 1 21 1 1 1 8 1 1 1-13 1 0 1-15 1 10 1-3 1-3 1-3 1 17 1-3 1-3 1-29 1-7 1 18 1 3 1 6 1-32 1 29 1-21 1 9 1 1 1-4 1-18 1 8 1 27 1-15 1-9 1 14 1-11 1 11 1-5 1 1 1 6 1 4 1-18 1 4 1-2 1 14 1-5 1-10 1-9 1 12 1-2 1 3 1-1 1-7 1 24 1-4 1-6 1-3 1-1 1 0 1-10 1 8 1-1 1-3 1 30 1-2 1-24 1 6 1-5 1 18 1-13 1 1 1-27 1 26 1 1 1 2 1-28 1 14 1 5 1-12 1 9 1 1 1 4 1-5 1-4 1-15 1 8 1 28 1-32 1 6 1 24 1-30 1 8 1-9 1 6 1 6 1-8 1-12 1 14 1 2 1-11 1 16 1-22 1 31 1-29 1 19 1-7 1 1 1-8 1 23 1-4 1-24 1 4 1-10 1-1 1 29 1-12 1-1 1-6 1 3 1 7 1 13 1 9 1-26 1-17 1 16 1 3 1 10 1 0 1-17 1 24 1-12 1 1 1-7 1 8 1-1 1-4 1 12 1 1 1-9 1 25 1-1 1-15 1 8 1-7 1-9 1 19 1-19 1-11 1 15 1-2 1-3 1 11 1 16 1-13 1 18 1-17 1-8 1-3 1 24 1-18 1 13 1-18 1 25 1-9 1-7 1-8 1 2 1 6 1 3 1 8 1-22 1 9 1-6 1 12 1-12 1 0 1-5 1 2 1 13 1-12 1 3 1-10 1 1 1-14 1 20 1-6 1 14 1-37 1 29 1-19 1 31 1-13 1-3 1 16 1-19 1 4 1 16 1-24 1 9 1 2 1-4 1-5 1 24 1-20 1 15 1-9 1-9 1 2 1 6 1 12 1-1 1-5 1 5 1-5 1 21 1-26 1 12 1 2 1 3 1-3 1 3 1-10 1 21 1-17 1 3 1-16 1-2 1 19 1-4 1 7 1-1 1 0 1 1 1-18 1 23 1-37 1 29 1-17 1 28 1-30 1 1 1 10 1-4 1 1 1-1 1 4 1-4 1 9 1 2 1 2 1-17 1-3 1 14 1 2 1-11 1 8 1 26 1-31 1 11 1-26 1 17 1 7 1 0 1-11 1-3 1 15 1-7 1 5 1 0 1-8 1 3 1-5 1-2 1 12 1-4 1 16 1-8 1 16 1-26 1 18 1-7 1 4 1-3 1 0 1-16 1 19 1 2 1 2 1-21 1-1 1-3 1 19 1 4 1 2 1-10 1 11 1 12 1-23 1 10 1-17 1 9 1 15 1 12 1-19 1-1 1-4 1-2 1-5 1 10 1-5 1 0 1 5 1 14 1-19 1-11 1 10 1-5 1-10 1 19 1 5 1-5 1-4 1 1 1-32 1 0 1 39 1-24 1 22 1-15 1-6 1 16 1-11 1 9 1-7 1 10 1-21 1 1 1-8 1-4 1 18 1-21 1 18 1-9 1 16 1-13 1 10 1 21 1-23 1-3 1 7 1-21 1-4 1 10 1-5 1 7 1-18 1 9 1 13 1 7 1 5 1-1 1-6 1 6 1 17 1-25 1-5 1 35 1-37 1 18 1 1 1 11 1-7 1 0 1 23 1-6 1-19 1 7 1 30 1-22 1 10 1 14 1-12 1 13 1-14 1-1 1 0 1 8 1-13 1-21 1 1 1 14 1-31 1 13 1-18 1 6 1 11 1-8 1 3 1 7 1-1 1-4 1-4 1-5 1 8 1 7 1-9 1 5 1-1 1 1 1 15 1-3 1 2 1-16 1-13 1 5 1 9 1 20 1-18 1-3 1 2 1-14 1 15 1 14 1-28 1 0 1-9 1 13 1 7 1 6 1-17 1 10 1 5 1-5 1 16 1-20 1-4 1 4 1-17 1 15 1 14 1 11 1-16 1 7 1-18 1 18 1-10 1-2 1-1 1 16 1 0 1-10 1 11 1-15 1 12 1-4 1-11 1 21 1-25 1 10 1 9 1-7 1 7 1-4 1 8 1-14 1 15 1-7 1 2 1 10 1 1 1-4 1-4 1-1 1 6 1-15 1 0 1-13 1 5 1 13 1-7 1-6 1 10 1 9 1-8 1-14 1 10 1 3 1-23 1 4 1 5 1 9 1-5 1 6 1 5 1 1 1-16 1-8 1 11 1-11 1 30 1-10 1-10 1 23 1-16 1 2 1-4 1 0 1 1 1-7 1-2 1-3 1 28 1-40 1 36 1-22 1 17 1-25 1 8 1 27 1-6 1 15 1 5 1-20 1-5 1 11 1 2 1-2 1-35 1 33 1 6 1 14 1-29 1 16 1-5 1-1 1 13 1-12 1 9 1-31 1 36 1-16" stroke="#ff0000" stroke-width="1.6" fill="none" transform="scale(.5)"/>
<path d="M48 184l1 0 1 18 1 15 1-3 1-12 1-16 1 31 1-22 1-10 1-4 1 26 1-16 1 11 1-23 1 19 1-14 1 23 1-33 1 35 1-24 1 8 1-12 1 31 1-17 1 0 1-10 1 3 1 2 1-2 1-4 1 4 1 7 1-7 1-7 1-4 1-13 1 17 1-25 1 6 1 20 1-39 1 17 1 3 1 2 1 4 1-10 1 27 1-41 1-1 1-3 1 13 1 9 1-10 1-6 1 9 1 2 1 8 1-31 1 19 1 11 1-9 1-15 1 21 1-12 1 9 1 22 1-29 1 1 1 12 1-15 1 14 1-14 1 15 1-24 1 43 1-9 1-9 1 20 1-15 1-3 1-7 1 12 1-7 1-1 1-21 1 35 1 3 1 3 1-19 1 13 1-19 1 26 1-15 1-6 1-2 1-1 1 15 1-21 1-5 1 23 1-33 1 12 1 2 1-7 1 12 1-17 1 6 1-7 1 22 1-17 1 10 1-11 1-17 1 7 1 5 1-7 1-14 1 19 1-6 1 10 1-7 1 9 1-17 1 0 1 12 1 10 1-15 1 1 1-3 1-6 1 28 1-14 1-12 1 24 1-2 1 23 1-15 1 4 1-5 1 16 1-15 1 6 1-4 1-7 1-7 1 28 1-4 1 11 1-23 1-16 1 34 1-30 1 21 1-6 1 3 1-11 1 12 1-7 1 15 1-8 1 9 1-20 1 32 1 0 1-12 1 2 1 7 1-25 1 10 1 18 1-41 1 27 1-3 1-9 1 9 1-3 1-10 1 10 1-8 1 12 1-6 1-12 1 28 1-27 1 7 1-9 1 15 1-23 1-1 1 12 1-24 1 14 1 9 1 12 1-37 1 0 1 10 1 14 1 5 1-16 1 21 1-22 1 15 1-8 1 26 1-3 1-1 1-19 1-10 1 15 1 1 1-1 1 2 1 4 1 11 1 9 1-1 1 3 1-37 1 31 1 6 1-2 1-2 1 1 1-12 1-2 1-2 1-1 1 3 1-5 1 24 1-11 1 3 1 8 1-16 1 7 1-19 1 11 1 4 1-22 1 22 1-8 1-6 1 21 1-14 1-2 1 11 1-17 1-10 1 27 1 2 1-19 1 9 1-3 1 3 1 9 1-11 1 7 1 1 1-14 1 8 1-9 1 3 1 17 1-24 1 18 1-10 1-4 1 9 1-8 1-11 1 31 1-2 1-13 1-7 1 4 1 32 1-29 1 4 1 25 1-39 1 11 1 3 1 5 1-17 1 26 1-17 1 0 1 19 1-15 1 16 1-15 1 28 1-33 1 16 1-16 1 28 1-37 1 18 1 5 1-6 1 2 1-3 1 0 1 9 1 18 1-15 1 0 1-11 1-4 1 9 1-9 1 25 1-20 1 17 1-21 1 14 1-30 1 35 1-34 1 15 1-5 1 0 1 9 1-19 1 14 1-22 1 0 1 25 1 6 1-26 1 17 1-9 1 22 1-13 1 16 1-24 1 26 1-27 1 27 1-11 1-24 1 29 1-9 1 8 1-20 1 6 1-10 1 32 1-18 1-29 1 38 1-8 1 17 1-24 1 8 1-12 1-27 1 43 1-21 1 16 1-10 1-31 1 28 1 14 1 1 1 1 1-19 1-8 1 21 1-17 1 30 1-18 1 12 1-5 1 7 1-5 1 0 1-3 1-13 1-9 1 1 1 40 1-23 1 18 1-27 1 22 1 36 1-1 1-13 1-2 1 8 1 14 1-42 1 10 1-10 1-18 1 18 1 7 1-21 1-7 1 25 1-21 1 5 1-2 1 3 1 6 1 8 1-4 1 13 1-29 1 15 1-4 1 18 1-33 1 15 1 11 1-18 1 8 1 1 1 3 1-3 1-13 1 18 1-27 1 11 1 1 1 5 1 3 1 18 1-5 1-16 1 4 1 12 1-9 1-8 1-19 1-2 1 29 1 7 1-14 1 23 1-19 1-18 1 19 1-19 1 26 1-19 1 0 1 3 1 16 1-32 1 29 1 3 1-8 1-10 1 11 1-16 1-2 1 20 1-26 1 19 1-9 1 2 1 5 1-6 1 20 1-21 1-3 1-3 1 16 1 2 1-2 1 2 1-13 1 16 1 6 1-26 1 14 1 2 1-3 1-6 1 2 1-6 1 31 1-34 1 3 1-7 1 20 1-14 1 18 1-6 1 3 1 4 1-8 1-5 1 7 1 10 1-21 1 7 1 22 1-15 1 11 1-7 1-28 1 16 1-10 1 17 1-4 1 9 1-5 1-8 1 17 1-30 1-5 1 30 1-6 1 2 1-20 1 19 1 0 1-8 1 0 1-3 1 10 1-25 1 39 1-31 1 0 1 31 1-16 1-20 1 26 1-10 1 15 1-22 1 16 1-4 1 29 1-35 1 28 1-2 1-6 1-8 1 11 1-16 1 23 1-32 1 36" stroke="#ff0000" stroke-width="1.6" fill="none" transform="scale(.5)"/>
<rect x="23.8" y="7.1" width="274.7" height="148.5" fill="none" stroke="#707070" stroke-width="1.1"/>
<path d="M23.8 149.8V161M29.9 151.9V159.5M36 151.9V159.5M42.1 151.9V159.5M48.2 151.9V159.5M54.3 149.8V161M60.4 151.9V159.5M66.5 151.9V159.5M72.6 151.9V159.5M78.7 151.9V159.5M84.8 149.8V161M90.9 151.9V159.5M97.1 151.9V159.5M103.2 151.9V159.5M109.3 151.9V159.5M115.4 149.8V161M121.5 151.9V159.5M127.6 151.9V159.5M133.7 151.9V159.5M139.8 151.9V159.5M145.9 149.8V161M152 151.9V159.5M158.1 151.9V159.5M164.2 151.9V159.5M170.3 151.9V159.5M176.4 149.8V161M182.5 151.9V159.5M188.6 151.9V159.5M194.7 151.9V159.5M200.8 151.9V159.5M206.9 149.8V161M213 151.9V159.5M219.1 151.9V159.5M225.2 151.9V159.5M231.4 151.9V159.5M237.5 149.8V161M243.6 151.9V159.5M249.7 151.9V159.5M255.8 151.9V159.5M261.9 151.9V159.5M268 149.8V161M274.1 151.9V159.5M280.2 151.9V159.5M286.3 151.9V159.5M292.4 151.9V159.5M298.5 149.8V161M18.8 7.1H23.8M18.8 56.6H23.8M18.8 106.1H23.8M18.8 155.6H23.8M20.3 31.9H23.8M20.3 81.3H23.8M20.3 130.8H23.8" stroke="#555" stroke-width="1" fill="none"/>
<g class="ax" text-anchor="middle"><text x="23.8" y="167.8">0</text><text x="54.3" y="167.8">5</text><text x="84.8" y="167.8">10</text><text x="115.4" y="167.8">15</text><text x="145.9" y="167.8">20</text><text x="176.4" y="167.8">25</text><text x="206.9" y="167.8">30</text><text x="237.5" y="167.8">35</text><text x="268" y="167.8">40</text><text x="298.5" y="167.8">45</text></g>
<g class="ax" text-anchor="end"><text x="17.6" y="9.5">2</text><text x="17.6" y="59">1</text><text x="17.6" y="108.5">0</text><text x="17.6" y="158">-1</text></g>
<text class="ax" style="font-size:6.3px;fill:#666" text-anchor="middle" transform="translate(7.9 80.1) rotate(-90)">&#916;BS (%)</text>
<text class="hd" x="169" y="180.3" textLength="40.5" lengthAdjust="spacingAndGlyphs">Height (mm)</text>
<text class="ttl" x="42" y="21.7" textLength="21.9" lengthAdjust="spacingAndGlyphs">(A)-F1</text>
<rect x="345.2" y="6.7" width="10.1" height="148.9" fill="url(#cb)"/>
<g class="tm"><text x="302.8" y="10.7" textLength="36.8" lengthAdjust="spacingAndGlyphs">00h:00m:00s</text><text x="302.8" y="28.9" textLength="36.8" lengthAdjust="spacingAndGlyphs">00h:18m:18s</text><text x="302.8" y="47.2" textLength="36.8" lengthAdjust="spacingAndGlyphs">00h:38m:27s</text><text x="302.8" y="65.5" textLength="36.8" lengthAdjust="spacingAndGlyphs">01h:35m:17s</text><text x="302.8" y="83.7" textLength="36.8" lengthAdjust="spacingAndGlyphs">03h:01m:27s</text><text x="302.8" y="102" textLength="36.8" lengthAdjust="spacingAndGlyphs">04h:18m:27s</text><text x="302.8" y="120.3" textLength="36.8" lengthAdjust="spacingAndGlyphs">07h:05m:17s</text><text x="302.8" y="138.5" textLength="36.8" lengthAdjust="spacingAndGlyphs">09h:13m:37s</text><text x="302.8" y="156.8" textLength="36.8" lengthAdjust="spacingAndGlyphs">11h:58m:38s</text></g>
<g transform="translate(0 0)">
<text class="ttl" x="373.9" y="19.9" textLength="21.2" lengthAdjust="spacingAndGlyphs">(B)-F1</text>
<path d="M376.2 24.6H395V37Q400 38 404.6 39.6V62H366.2V39.6Q371 38 376.2 37Z" fill="url(#capg)"/>
<rect x="376.2" y="24.6" width="18.8" height="4.6" fill="url(#ring)"/>
<rect x="379.1" y="44" width="13.2" height="12.2" fill="#1fae1f"/>
<rect x="367.2" y="65.3" width="36.2" height="90.5" rx="3.2" fill="#fff" stroke="#c8c8c8" stroke-width="2.2"/>
<rect x="367.8" y="65.6" width="35" height="3.4" rx="1.5" fill="url(#rim)"/>
<path d="M379.4 116.2 380.7 116.8 382.5 117.7 383.6 118.7M378.5 91 380.2 91.7 381.3 92.3 382.3 91.1M387.1 132.8 389.1 133.8 390.4 132.8 391.7 131.1M377.2 83.8 379.1 82.5 380.2 81.6 381.4 82.2M390.4 134.6 391.2 135.2 393 134.1 394.6 135.4M399.2 133 401.1 133.7 401.9 135 402.2 134.1M370.9 87.4 371.8 86.3 372.7 84.9 373.5 85.6M388.4 99.5 389.4 98.6 390.5 97.9 391.5 99M380.8 146.2 382.2 146.8 383 145.7 384.1 146.4M374.6 111.4 375.6 110.3 376.5 111.1 378.4 112.3M374.9 94.2 376.5 92.6 377.6 94.2 379 96M395.2 136.3 397 137.2 398.5 135.9 399.9 137.2M392.5 154.1 393.4 154.8 394.3 154.8 395.2 154.8M370.9 107.6 372 106.7 373.3 105.3 374.4 106.7M374.2 100.5 375.8 101.9 376.8 101 378.5 102.2M387.7 139.8 389.1 138.6 390.4 137.2 392.1 136.5M368.6 149.7 370 148.9 371 147.4 372.7 148.3M381.8 94 382.7 92.4 384.2 91 386 89.9M392.1 89.1 394 90 395.5 88.9 396.8 89.6M373.9 86.5 375.8 88.1 376.7 87 378.4 87.7M400 106.4 401.6 107.3 402.2 108 402.2 109.3M392 128.9 392.9 128.1 394.7 126.7 395.9 128.5M368.6 89.2 370.2 87.5 371.4 86.1 372.6 84.8M398.3 122.3 400.1 120.6 401.8 119.3 402.2 120.7M390.3 148.9 391.5 150 393.4 150.6 394.3 151.5M395.8 102 397.6 103.8 398.9 102.3 400.8 103.1M386.9 97.1 388.1 95.6 389.9 94.7 390.9 96M379.5 96.5 381.1 95.2 382.2 94 384 94.8M371.5 117.2 372.3 115.7 373.9 114.8 375.5 116.5M387.5 103.1 388.5 102.3 390.2 104.1 391.2 102.6M397.8 136.9 399.3 135.4 401.3 137.1 402.2 138.6M380.5 105.4 381.9 104.4 383.2 105.6 385.1 104.4M390.3 120 391.2 119.2 392.2 121 393.6 119.4M375.6 115.3 377.5 116.8 378.6 118.2 380.6 119.8M394.3 95.7 395.9 97.1 396.7 96.4 397.6 95.1M398.5 110.1 399.3 108.4 401 109.8 402.2 109.2M384.7 91.4 385.8 92.1 386.7 91.2 388.7 92.2M372.7 101.8 374.1 102.8 375.1 101.4 376.4 102.7M375.6 125.3 376.6 123.9 378.4 122.6 380.3 123.9M391.6 122.1 393.5 120.7 395.3 122 396.3 123.3M368.7 97.3 370.4 98.9 371.9 99.8 373.9 98.5M368.6 129.7 369 127.9 370.2 128.9 371.7 127.9M378.9 126.5 380.7 127.8 381.8 128.9 382.7 127.1M380.1 107 381.3 108.7 383.1 110 384.8 109.2M385.5 85.4 387 86.1 388.4 84.9 389.6 86.5M369.8 124.7 371.2 123.8 372.2 125.3 373.7 126.7M392.4 112.9 393.5 113.8 395 112.2 396.3 110.5M379.6 101 381.1 102.2 383 103.7 384.1 104.6M384.8 92.3 386.6 90.8 387.9 91.5 389.5 93M380.7 143.3 382.2 141.7 383.4 142.5 384.9 143.9M388.5 90.8 389.8 89.9 391.3 91.4 392.6 93.1M397.8 121.9 399 122.6 401 123.4 402.2 124.5M368.6 105.6 369.2 104.2 370.6 105.5 371.8 107.2M380.8 103.9 382.7 104.8 383.6 103.2 384.8 101.5M368.6 111.5 369.7 112.5 370.7 114 372 113M392.5 129.3 393.9 131 395.4 132.8 396.9 131.4M384 85.8 385 87.3 385.9 88.1 387.6 87.1M379 134.4 380.8 133.2 381.7 131.6 382.8 130.4M368.9 136.2 370.5 135.4 371.5 134.5 372.7 135.3M385.7 92 386.5 90.2 388 89.6 389.9 88.5M379.8 114.1 381.5 112.8 383.1 112.2 384.4 112.8M373.1 138.4 373.9 139.9 374.8 140.5 375.6 138.7M374.1 141 375.1 139.9 376.2 141.4 377.3 142.7M398.1 80.9 399.2 82 400.3 83.6 401.7 82.6M370.9 117.1 372.6 116.1 373.7 115.4 375.4 116.2M383.3 151.7 385.2 152.9 386.7 154.5 387.9 154.8M396.5 97 398.4 96.1 399.5 97.7 400.9 96.2M391.7 132 393.3 130.7 394.5 132.4 396.2 131.1M374.9 147.6 376.9 145.8 378.8 145 380.5 145.7M389.2 154.4 390.4 154.8 392.1 153.8 393.1 152.5M368.6 124.9 369.6 126.2 371.4 124.9 372.6 126.4M381.9 147.9 383 149.1 384.7 150.8 386.4 151.6M391.1 94.8 392.8 96.4 394.8 97.9 396.2 99M395.5 127.5 396.7 126.4 397.6 127.6 399.2 129.1M374.4 125.2 375.3 126.7 376.2 125 378.2 123.4M377.7 112 379.2 110.8 380.1 109.9 381.3 110.8M386.3 91.1 387.6 92.7 389.3 93.4 390.9 95.1M385.5 83.5 386.5 84.8 387.8 85.9 389.6 87.3M380.3 102.3 381.8 101.1 383.8 100.1 385.8 101.1M391.7 133.2 393.6 134.1 394.8 135.3 395.7 136.2M395.1 115.4 396 117 397.2 117.7 398.7 118.4M393.4 96.1 394.9 97 396.4 95.3 398.3 94.5M396.2 148.6 397.3 147.9 398.2 146.2 399.7 144.8M393 113.1 394.6 112.2 395.4 113.1 396.6 114.2M392.5 87.1 393.4 87.9 395.1 88.5 396.4 89.7M370.3 138.7 371.3 140.2 372.1 139.5 373 140.3M393.1 116.9 395.1 115.6 396 116.8 397.9 118M394.3 148.3 395.2 149.7 396.3 148.7 397.4 148M372 95.8 373.2 94.6 374.7 95.9 376.2 95.2M393.7 154.4 395.7 154.8 397.1 154.1 398.5 153M394.9 121.8 396 121.1 397.1 120.4 398.1 119.7M399.4 101.1 400.4 99.9 402.2 101.5 402.2 102.6M379.2 116.2 380.7 115 382.5 116.3 383.8 115.1M386.5 152.5 388.4 153.9 389.4 153.1 391.2 154.5M372.8 112.7 373.6 111.1 375.5 109.8 376.4 110.6M373.7 146.9 375.1 148.3 377 147.1 378.4 146M368.8 125.6 370 126.5 370.8 127.2 372.5 128.1M386 133.5 387.5 135.3 389.4 134.4 390.5 136.1M389.6 92.9 390.8 93.7 391.8 92 393.5 93.2M396.9 97.5 398.7 96.8 399.7 97.7 400.9 96.2M390.5 127.7 391.7 129 392.8 130.3 394.7 131.6M375.4 122.5 376.4 121 378.2 119.4 379.1 120.2M370.4 138.1 372.4 138.8 373.7 140 375.2 141.7M387.2 95.2 389.1 95.9 389.9 94.9 390.8 96.7M394.2 89.2 395.9 88.1 397.1 89.9 397.9 91.1M386.8 147.3 388.4 146.1 390.2 147.6 392 149.1M389.2 84.4 390.8 85.5 392 84.8 393.1 86M369.2 87.6 370.6 88.8 371.7 89.9 372.7 91.7M378.8 107.6 379.6 106.5 380.7 107.5 382 109.2M378.6 149.5 380.2 150.9 382.2 152.2 383.5 153.8M384.6 128.4 385.8 130 386.9 131.7 388 130.1M395.3 104.4 396.5 103.4 397.9 104.6 399.5 103.7M381.1 95.5 382.8 94.5 384.3 95.6 385.7 94M389.6 94.3 391.4 95.9 393.3 94.8 394.9 95.5M370 134.2 372 135.9 373.1 134.6 374.8 136.2M385.2 85.3 386.5 84.2 388.1 84.8 389.8 86.1M393.6 90.9 395.4 89.4 397.1 87.8 398.5 86.2M377.8 141.3 379.5 142 380.6 140.6 381.6 139.5M388.4 85.8 389.3 87.2 391 88.8 391.9 90.2M389.5 145.3 390.9 143.8 392.3 142.1 393.9 141.1M369 144.1 370 142.5 371.7 143.5 373.5 142.6M388.8 85.4 390.5 83.8 392.3 85.1 393.2 86.2M381 146 383 144.8 384.8 143.3 386.1 142.2M370.3 118.9 371.9 118 373.2 116.3 375.1 114.5M374.1 150.4 376 151.2 377.6 150.4 379.5 151.8M391.3 109.2 393 110 394.7 111.8 395.6 110M370.9 108.4 372.3 107.1 374.1 106.5 375.8 108.1M375 138.1 376.3 136.4 377.1 137.1 378.4 135.6M372.1 130.4 373.7 132.1 374.5 133 375.9 134.3M398.3 94.2 400.1 96 402 97.1 402.2 95.7M377.8 105.4 379.3 104.2 380.7 105.8 382.5 107.1M379.7 146.2 380.6 147.8 382.1 146.1 383.5 145.2M385.1 98.2 386.3 97.6 387.6 99.2 389 97.5M376.1 142.9 378 142.2 379.9 140.6 381.1 138.8M387.2 146.9 389.1 148.6 390.1 149.6 391.2 148.2M389.2 95.9 390.7 96.5 392.6 97.3 394.3 95.8M373.4 154.6 375.3 154.8 376.3 153.8 377.9 153M377.7 85.4 379.1 84.2 380.2 83.6 381.8 82.9M395.5 150 397.4 151.2 399.1 150.3 401.1 151.9M390.9 132.9 392.5 133.5 393.5 134.9 395 134.2M387.1 154.5 388.1 153 389 151.3 389.8 152.3M393.9 153.3 395.8 154.8 397.4 154.2 398.3 153.4M384.7 142.3 385.8 143.3 386.9 144.1 388.2 142.7M393.4 92.1 394.8 93.9 395.7 92.8 397.2 94.5M379.6 111.9 381.4 113.4 382.8 112.2 384.1 110.8M392.4 93.1 393.7 91.8 394.8 93.4 395.8 92.5M382 89.8 383.8 88.8 385.2 90.2 386.9 89.1M378.2 85.9 380 85 381.5 86.2 382.7 84.8M369.4 129.4 370.2 127.8 371.1 126.7 372.9 127.3M372.9 145 374.4 143.9 376 145.4 377.3 144.7M399.9 87.4 401.3 88.5 402.2 87 402.2 88.5M393.2 154.2 394.4 152.5 396.3 151.7 398.3 150.3M384.8 143.7 385.8 142.2 387.2 140.4 388.3 141.1M368.6 96.5 370.3 97.3 371.1 96.4 372.6 94.7M380.3 90.8 382.1 92.2 383.7 90.9 384.8 92.6M379 100.3 380.9 99.7 381.8 98.8 383.4 99.8M388.9 108 389.8 106.2 391.4 104.7 393.2 103.5M392.2 107.8 393.3 106.6 394.7 105.9 396.3 107.4M388.5 109.1 389.5 109.9 390.7 111.7 392.2 112.4M399 90.7 399.8 89.4 401.8 88.6 402.2 89.7M396 127.6 397.9 129.3 399.2 130.3 400.5 131.4M373.2 99.8 374.9 99 376.5 98.2 378.3 97.5M387.2 136.9 388 135.7 389 137 389.9 135.6M383.6 86.1 384.5 85.5 386.2 84.5 388 82.8M396.9 86.8 398.8 87.8 400 86.4 401.9 88M386.8 86.5 387.7 85.3 389.6 86.3 391.6 84.9M376.7 138.3 378.5 137.5 379.9 138.3 381.1 136.8M399.6 130.2 401.5 128.7 402.2 127.2 402.2 129M395.6 102 397.5 100.6 398.9 102.3 399.9 102.9M388.1 154.2 389.4 154.8 390.3 154.8 391.5 154.8M388 102.4 389.4 101.1 390.7 102 392.5 100.4M399.7 92.8 400.9 93.8 402.1 92.6 402.2 93.3M369.6 128.4 371.5 127.5 373 128.2 374.2 129.8M397 115.7 398.2 114.6 399.3 115.5 400.5 117.2M386.2 81.3 387.1 82.5 388.5 83.9 389.3 84.6M396.7 138.4 398.2 137.4 399.9 136.5 401.4 135.3M370.2 119.9 371.9 121.3 373.6 122.5 375 124.2M381.1 143.3 382.1 141.8 383 141.1 384.4 140.2M375.8 95.5 377 96.6 378.8 95.4 379.9 94.2M387.5 95.9 388.9 96.6 389.8 95.3 390.6 96.6M393.5 109.5 394.5 110.6 396.2 108.8 397.3 109.8M381.9 154.7 382.8 153 384.7 151.8 386.2 152.5M385.1 118.9 386.4 119.8 387.5 120.5 388.3 121.7M380 124.6 381.1 125.8 382.4 124.8 383.3 125.5M381.5 121.8 382.3 120.5 384 121.7 384.9 120.7M392 144 393.1 142.3 394.3 141.5 395.9 142.6M384.5 125.2 386.4 124.4 387.4 123.3 389.1 121.7M397.8 125.9 398.7 126.6 400.5 128.4 402.2 129.8M370.1 117.8 372 118.7 373.8 120.5 375.5 122.2M399.2 112.1 400.1 113.7 401.5 112.8 402.2 111.6M399.9 105.6 401.8 106.7 402.2 107.5 402.2 106.2M378 97.6 379.3 96.1 380.5 97.4 382.3 96.1M369.7 123.4 370.9 121.7 372.6 120.2 374 121.5M377.5 153.8 379.1 154.8 380.2 154.8 381.8 154.8M396 143.8 396.9 143.2 398.6 142 399.9 141M371 150 372 151.2 373.6 152.3 375.6 153.8M378.7 106.5 380.1 107.1 381.1 106.2 382.2 105.2M385 153.5 386.5 154.1 387.3 153.4 388.4 151.8M379.7 110.7 380.6 109.5 381.4 108 383.4 108.8M391.3 87.2 392.2 85.6 393.7 83.9 395.6 82.4M400.1 147.6 401.5 149.2 402.2 150.7 402.2 149.8M377.7 87.3 379.1 88.5 380.7 86.9 382 85.5M395.7 87.1 396.7 85.5 397.8 83.9 399 83.2M371 113.9 372.8 115 373.8 116.7 375.6 115.6M377.8 116.7 379.2 115.5 380.1 114.6 381.8 113M381.2 85.7 382.3 86.5 383.8 87.6 384.7 85.9M391.7 141.3 392.8 142.9 393.6 143.7 394.5 142.8M388.8 108.8 389.7 110.5 391.4 109.5 393.3 110.8M375.3 126.9 376.6 125.8 377.5 124.8 378.9 125.5M369.3 111.8 370.7 110.8 372.3 112.4 374.1 113.1M370.8 150.4 372.6 151.8 374.4 151.1 376.2 150.3M382.5 137.6 383.5 136.9 385.3 138.6 387.2 139.7M396.8 144.1 398.2 143.4 400.1 145 401.7 145.8M395.4 143.9 396.5 144.6 398.3 143.6 400.2 142.4M377.4 142.1 378.3 143 380 143.7 381.7 142M399.5 115.9 401.2 116.9 402.2 118.3 402.2 119M387.4 112.3 388.8 111.7 390.2 112.8 392 114.3M384.7 152.9 386.4 151.8 387.4 151.1 388.5 150.4M384.2 127.7 386 129 386.9 127.3 388.5 126.6M368.6 91.8 369.2 90.9 371.2 91.6 372.1 90.5M371.4 145.6 372.4 147.2 373.8 146.4 374.7 145M390.1 149.7 391.1 148.9 392.4 147.4 393.5 146.6M392.9 126 394 124.6 395.3 126.3 396.2 127.2M396.6 107.6 398 108.8 399.2 107.8 400.2 109.4M372.2 128.7 373.6 127.4 375.1 128.6 376.9 129.3M397.5 146.4 399.2 145 400.3 144 402 142.3M399.8 129.6 401.5 128.9 402.2 129.9 402.2 131.5M396.5 97.9 397.9 98.7 399.3 99.5 401.3 101M379.1 152.8 380.6 152.1 381.5 153.5 383.5 152.3M375.8 97.4 377.2 95.7 378.2 97.1 380 98.1M393.6 127.3 395.3 128 396.5 127 398.4 126.3M398.2 126.1 399.9 127.1 401.6 128 402.2 129.1M368.6 88.1 370.3 86.5 371.6 87.6 373.1 88.9M394.5 146.5 395.3 145.6 396.3 146.8 397.2 145M381.6 149.3 383.2 150.3 384.1 149.1 386 148.4M390.9 149.6 391.7 148.7 392.6 147.4 394.3 149.1M378.9 86.6 380.9 85.1 382.2 83.7 383.8 82.6M389.7 154.1 391.4 153.1 393.2 154.3 395 153.6M392 131.2 392.9 132.6 394.1 133.7 395.9 132.1M386.2 151.6 388 152.8 389.7 151.9 391.5 151M381.3 133.1 382.2 132.5 384.2 131 385 130.3M384.2 135.6 385.4 134.7 386.7 135.9 387.6 137.1M394.7 82.5 396.4 81.8 397.4 81.1 399.3 82.1M397.8 106.6 399.7 105.8 400.9 107 402.1 105.5M397.5 127.2 399.4 126.6 400.8 125.7 402 127.3M379.6 106.8 380.6 107.9 381.9 109 383 109.9M380.1 150.1 381.1 149.3 382.1 150.8 383.7 149.7M397.6 137.1 398.7 135.6 400.5 135 401.4 136M396.3 147.3 397.6 146 399 147 400.4 148.3M386.8 140 388.5 139.3 390.1 140.9 391.3 141.7M395.5 105.1 396.6 106.6 397.8 107.9 399.6 109.6M383.8 100 385 98.3 386.7 96.9 388.6 95.4M384.6 136.7 386.5 134.9 387.5 134.2 388.9 135M396.2 119.2 397.7 120.9 399.1 121.8 400.3 122.9M392.1 140.3 394 139.1 394.9 138.2 396.6 136.9M392.3 148.4 393.8 147.4 395.5 148.2 396.8 146.7M378.3 92.8 380.1 91.6 382 89.9 383.3 89.2M385.3 125.2 386.5 126.2 388.3 124.6 389.3 126.3M387.9 121.6 388.8 122.9 389.7 124.2 391.2 122.5M383.2 145.7 384.9 143.9 385.9 142.9 387.9 144.5M396.4 120.4 397.6 121.8 398.8 122.6 399.8 121.6M376.1 135 377.1 135.7 378.1 137.3 379.2 139M381.8 104.7 383.4 105.4 384.6 104.6 386.3 106.3M377.8 94.7 378.8 93.1 380.6 94 381.6 92.9M383 144.4 384.2 146.1 385.2 145.2 387.1 144.3M398 134.6 399.3 132.8 400.3 134.6 401.5 135.6M378 101.9 379.6 100.3 381.4 99.3 382.8 100.3M396.5 154.2 397.6 152.4 399.3 151.7 401 150.3M380.2 126 381.9 127.6 383.7 126 385.6 124.5M385.3 117.4 386.5 116.1 387.4 114.7 389 115.8M377.2 144.9 379 143.2 380 144.2 381.3 145.5M381.7 109.6 383.5 110.5 384.8 109.8 385.7 110.8M398.9 113.8 400.2 112.4 401.1 111.8 402.2 110.9M396.2 150.1 397.5 149.1 398.6 149.9 399.7 148.5M384.7 105.8 386.3 106.4 387.3 104.7 388.1 105.4M396.6 153.7 398.3 152.1 400.2 150.5 401.8 152M394.1 93.2 395.6 92.6 396.7 93.6 397.7 92.8M368.6 145.5 369.3 147.3 370.2 145.6 371.9 147.3M394.1 147.5 395.6 148.8 396.5 149.7 397.7 151M397.6 120.7 398.8 121.7 400.4 123.1 401.3 124.1M379.2 86 380.4 87.5 381.6 86.1 383.4 85.1M390.9 154.7 392.2 153.4 393.4 151.8 394.3 153.3M394.4 102.1 395.3 100.5 396.8 99.5 398.5 98.2M372.9 118.4 373.9 120.1 375.9 119.2 377.3 118.4M390.7 80.6 392.4 81.3 393.2 82.1 395 82.7M381.7 118.8 383.2 117.8 384.9 116.6 385.8 117.9M372.3 153 373.8 152.2 374.7 151.5 375.5 150.8M385.2 147.8 386.2 146.8 387.5 147.8 388.4 149.2M371.3 93.1 373.2 93.8 375.1 95.3 376 96.5M382.6 116.8 384.5 118.1 385.6 119.2 387.1 117.8M375.2 106.1 376.1 107.6 377.4 108.5 378.3 107.5M375.5 110.8 377 109.6 378.6 108.2 380.4 109.6M388.8 87.4 389.6 88.4 390.5 89.8 391.8 90.9M377.9 131 378.7 129.5 380.1 128.9 382.1 130M387.5 109.4 389.4 107.6 390.9 109 392.8 108.1M392.3 106.9 393.6 105.7 395.5 106.9 396.9 108.1M373.9 126.7 375 126 376.8 125.1 377.8 126.3M382.4 140.4 384.1 141.7 385.3 142.8 386.7 141.1M378.4 108.1 380.2 109.1 382.1 110.3 383.1 111.1M379.6 153.8 380.7 152.9 382.5 154.7 383.3 154.8M391.1 94.6 392.9 95.3 394.2 93.5 395.4 92.5M383.3 98.4 384.9 99.4 386.4 98.6 387.2 99.7M372.8 146.3 374.3 147.6 375.7 146.8 377.5 148.2M396.5 96.6 398.3 98.4 399.5 96.9 400.7 98.2M368.6 93.2 369.5 94.6 371.5 93.2 373.3 91.4M393.1 123.6 394.3 124.6 396.2 123.6 397.6 122.1M388 129.3 390 130.5 391.5 131.2 393.2 130.3M377.2 142.4 378.8 143.7 380.4 142.5 382.2 141.5M381.2 102 382.1 100.5 383.2 101.8 384.3 101.1M383.9 152 385.3 151.2 386.8 150.4 388.2 148.7M400 126.9 401.3 127.6 402.2 128.6 402.2 127.8M370.6 148.2 371.6 149 373.1 148.3 374.2 149.5M374.6 125.4 376.2 124.1 377.4 125.6 379.3 124.9M368.9 92.3 370.3 91.3 371.5 92.9 372.6 91.8M378.3 116.4 379.8 114.7 381 116.5 382.5 115.4M378 95.7 379.9 97.4 381.4 98.2 382.7 97.3M386.4 115.9 387.8 114.3 389.2 113.5 390.5 112M368.6 108 369.8 106.6 371 104.9 372.9 103.2M396.2 100.8 397.9 100.2 399.1 99.3 400.3 98.5M376 82.2 377.7 83.8 378.7 82.6 380.5 83.4M371.1 82.3 372.6 83.7 374.3 82.6 375.1 83.9M369.4 147.6 370.9 148.9 372.5 147.8 374 147.2M380.3 108.4 382.2 106.6 383.7 108.2 384.8 107M369.2 151.3 370.6 151.9 372.4 152.5 374.1 153.9M375.2 127.5 376.4 128.4 377.3 129.8 379.2 131.1M386.5 145.2 387.9 143.9 389.1 145.1 390.4 143.8M394.4 93.5 396.3 92 397.8 93.7 398.9 94.8M398.8 141.3 400.6 139.5 402.1 138.6 402.2 139.3M373.9 94.1 375.7 94.8 377.2 93.5 378.4 92.9M382.6 152.4 384.4 151.6 385.3 153.2 386.2 154.8M383.6 110.4 385.5 108.9 386.6 110.5 388.4 112.1M391.9 108.6 393.3 110.2 395 109.4 396.3 110.4M368.6 152.1 369.2 153.8 370.5 153.1 372.4 154M397.9 113.4 399.9 112.6 401.7 113.5 402.2 114.8M397.9 148.6 399.2 147.8 400.6 149 402.2 149.7M399.5 151 401.2 149.3 402.2 148 402.2 146.3M379.4 117.1 381.1 115.8 382.8 117.4 384.6 115.9M395.2 90.4 396.9 88.8 398.9 90.6 399.7 92.1M385.6 95.9 386.9 94.5 387.8 93.7 388.9 92.3M378.7 152.6 379.8 151.8 381.2 150.3 382.8 152M387.5 80.6 389.4 81.6 391 83.1 392.3 84.5M369.1 123.4 371.1 125.2 372.7 124 373.9 125.6M370.5 138.3 371.6 139.5 372.6 138.1 373.7 136.3M374 141.9 374.9 142.8 375.8 141.2 377.6 142M390.1 115.1 391.9 115.8 393.5 114.2 394.9 115M388.1 147.6 389.3 146.5 390.2 144.8 391.6 143.1M390 82 391 80.8 393 82.3 394.5 83.3M392.3 122.7 393.6 123.6 394.8 124.3 396.3 125M381.1 141.3 382 142.7 384 142 385.3 140.2M370 99.9 371.3 101.7 373.1 103.2 375.1 104.9M373.8 89.4 374.7 90.6 376.6 91.4 377.6 92.5M377.1 127.2 378.8 126.5 379.7 127.3 381.3 128.1M373.9 153.4 375.9 154.8 377.6 154.8 378.8 154.1M396.1 99 397.2 97.9 398.9 96.3 400.7 97.8M368.6 140.2 370.1 138.8 370.9 140 372.2 139.1M393.4 81.4 394.2 83.1 396 82.1 396.9 81M373.1 92.7 375 93.5 375.9 92.5 376.9 94.3M387.7 137 389 138.3 390.2 140 391.4 139.1M382.2 110.2 384.1 111.6 386 110.9 387.6 112.1M380.4 139.8 381.4 138.5 383.4 140.2 384.6 141.6M391.8 112.9 393.7 112.1 395.3 113.1 396.4 112.2M389.8 85.5 391.7 83.7 393.5 82.3 394.6 83M381.5 143.2 382.4 144.5 383.7 146.2 385.3 145.5M375.4 124.1 376.6 124.8 377.9 126.4 379.3 127.3M383.2 149 384.3 147.9 386.1 147.2 387.2 148.7M374.1 153.3 375.8 151.7 376.9 152.4 378.4 151.4M389 150 390.8 149 392.2 147.5 393.8 148.8M394.9 80.6 396.7 80.5 397.5 81.4 399 80.5M385.6 143.3 386.8 142.6 387.7 144.3 388.6 145M388.5 129.7 390.2 130.5 391.3 131.2 392.3 132.3M379.6 105.6 381.5 106.9 382.5 106 384.1 107.5M368.6 135.9 369 137.3 370.3 138.9 371.6 140.7M392.7 139.9 394.2 139 396 138.1 397.8 136.6M383 116.5 384 115.6 385.2 117 386.5 116M397.3 123.9 398.4 122.7 399.7 121.6 400.9 120M371.4 82.4 373.2 81.5 374 80.5 375.9 81.8M386.5 112.8 388.5 112 390.4 113.1 391.6 114.5M374.5 154.7 375.6 153.5 377.4 152.1 378.2 150.5M394.9 112.4 396.3 111.2 397.7 109.5 398.6 110.4M392.3 132.2 393.6 131.1 394.6 131.7 396.1 133.1M383.7 136 384.8 137.3 385.8 135.8 387.4 135M384.1 114 385.9 112.3 387.6 110.8 389.1 111.7M399.5 126.1 400.8 124.5 402.2 123.6 402.2 122.9M370 113 371.6 114.3 372.9 113.3 374.7 114.4M375.4 126.4 376.5 124.6 378.1 125.2 379.2 123.5M370.6 148.5 372.3 146.7 373.2 145.1 374.5 143.8M384.5 123.7 386.4 122.4 388.3 124 389.2 122.3M389.9 129 391.3 130.4 392.5 131.5 393.7 130.5M384.2 140.3 385 138.8 386.3 137.9 387.9 136.7M373.8 116.7 374.7 115.5 376 114.4 377.2 112.9M374 126.2 375.5 127.8 377.1 128.6 377.9 129.7M397.4 133.8 399.3 132.9 400.6 133.8 401.4 134.7M397.4 131.7 398.9 131.1 400.9 129.5 401.7 130.2M368.6 154.2 370 154.8 371.2 154.8 372.8 154M379.4 123.6 381.3 122.2 382.6 123.6 384.5 122.7M368.6 109.4 369.6 110.9 371.1 109.7 372.7 110.6M396.3 147.6 397.7 149 398.8 147.9 400.5 146.6M398 90.8 399.5 90.1 401.3 89.4 402.2 90.4M372.8 151.4 374.6 152.1 376.5 151.2 377.3 152.3M370.1 122.5 371.3 124 372.8 124.8 374.5 126M380.6 83.1 382.2 83.8 383.5 82.1 384.6 80.5M378.7 125.4 379.5 124.1 380.6 125.7 382.3 124M375.3 130.8 376.6 131.8 377.9 130.8 379.5 131.9M384.3 85.3 385.7 84.6 387.6 83.6 389.5 85.3M387.8 152.1 388.8 151.4 390.1 150 390.9 149.1M380.9 97.7 382.8 96.4 384.6 97.8 386.5 99.5M380.1 124.5 381.6 126 383.3 125.4 384.4 124.5M387.2 86.3 388.9 85 390.3 83.8 391.6 84.4M382.9 86.3 383.9 87.9 385.2 89.5 386.1 88.1M371.8 153.5 373.3 154.8 374.3 154.8 376.2 154M370.4 130.8 371.6 129.5 373 130.1 374.4 131.5M377.3 153.7 378.4 152.7 379.4 151.5 381.2 152.7M394.7 148 395.8 147.1 397.5 145.5 399.4 143.9M369.6 144.8 370.7 145.9 372.3 144.8 373.7 146.5M389.9 135.7 390.9 134.1 391.8 135.4 393.8 133.7M394.9 132.1 395.7 131.2 396.9 132.6 398.1 131.4M394.8 103.2 395.9 104.7 396.8 103.6 398.1 102.1M396.9 118.8 398.1 120.1 399.8 121.4 401.6 119.9M387.1 143.5 388.1 142.5 388.9 141.7 390.3 141.1M399.4 91.6 401.3 90 402.2 91.3 402.2 89.6M386.5 128.3 388 126.8 389 128.5 390.7 126.8M372.2 119.4 373.3 121 374.8 122.7 375.9 120.9M387.2 93 388.8 94 389.8 93.2 391.6 92.5M385.2 84.7 386.8 83.7 388.5 84.7 389.8 83.9M371.7 139.9 373.1 138.4 374 137.4 375.8 138.4M383.8 111.6 385 111 386.6 110.2 387.6 111.1M389.4 126.4 391.3 127.6 392.8 126.2 394.7 124.7M391.5 108.6 392.6 109.3 394.5 110.1 395.6 108.9M381.5 134 383.3 134.9 384.3 133.6 385.1 134.6M368.6 153.9 370 152.4 371 150.7 372.8 149.1" stroke="#66d6a6" stroke-width="0.55" fill="none"/>
<path d="M389.9 104.6l-0.4 0M390.2 105.1l0.7 0.5M386.8 105.5l-0.6 1.4M389.2 104.3l0.6 0.4M389.3 104.1l0.7 -0.1M390.5 105.6l0.6 -0.2M399.7 149.4l1.3 -1.2M394.9 149.2l1.5 0.9M396 148.7l-1.4 -0.4M397 148l0.8 -0.9M399.4 146.9l-1.4 1M398.6 146.8l-0.4 -0.5M369.3 121.6l0.8 0.8M373.9 122.4l-0.3 -0.5M373.5 120.6l-1.5 -0.6M371.5 120.5l-1.3 1.4M372.1 121.1l0.2 -0.1M372.2 121.1l1.4 0.5M389.2 113.3l-1.6 -0.8M387.3 110.9l-0.7 -0.5M384.8 111.3l-0.1 -1.4M387.9 110.7l1.2 0M386 111.2l-1.7 -1.1M385.6 112.6l0.6 0.8M390.6 105.2l-1.8 0.9M386.9 107.8l-1.2 0.8M386.8 104.4l1.4 -0.3M387.3 105.3l-0.5 0.5M386.7 105.3l0 -1.1M390.2 105l1.3 0.3M391.1 87.3l-0.2 0.5M388.7 88.2l0.4 -1.3M390.7 90.3l-1.1 -0.8M388 88.7l-1.1 -0.7M389.9 89.8l-0.8 -0.1M391.3 90l0 0M373.3 126.3l1.3 -0.4M373.6 126.5l-0.8 0.2M372.3 124l-0.9 0.9M375.8 126l0.4 -1.3M375.1 126.3l-0.3 0.9M376.3 126.7l-0.4 0.5M374.6 148.8l-1 0.8M376.3 147.8l1 0.2M372.6 150.8l-0.2 0.7M371.7 149.2l-1.5 0.4M373.8 150.7l-1 -1.2M373 149.3l-1.3 1.3M384.7 134.6l-0.8 -0.6M385.9 135.1l-0.9 -0.3M386.6 133l-0.5 -1.3M386.6 133.6l-1 -0.3M385.8 134.3l-0.5 1.2M388.8 135.3l-0.2 0.7M391.3 107.4l-0.6 0.5M395 106.9l-0.7 1.3M395.1 106.9l-0.7 -0.6M394 108l-0 1.1M393.1 107.9l0.5 0.3M391.3 105.2l0.7 -1.1M386.5 115.6l1.5 -0.6M383.4 114.8l-1.2 0.3M385.4 114.9l-0.1 0.5M385.6 114.8l1.6 -0.4M382.1 116.7l-1.5 0.5M384.1 117.7l-0.9 0.7M389.2 94.7l-0.5 1.2M392.7 94.2l1.2 -1.2M388.1 97.6l-0.3 0.3M391.4 96.1l1.4 1.3M392.8 94.9l1.4 -0.8M390.2 97.7l1.6 -1.1M373.5 112.2l-1.2 1.3M377.4 109.1l1.5 1.1M372.8 111.3l-1.7 0.4M372.7 109.5l-0.7 -0.3M373.4 108.8l-1.7 -0.9M377.2 108.9l0.6 1.1M374.7 95l-0.4 -0.9M379.4 95.7l-1.2 -0.8M379.3 96.4l-1.8 0.2M376.1 95.5l-1.6 -0.5M379 95.7l-0.3 0.2M374.9 96l0.2 -0.9M375.3 131.5l-0.9 -0.6M374 130.7l1 -0.3M376.6 131.8l0 -0.5M376.8 130.8l-1.4 -1M373.9 128.9l-0.5 1.3M374.3 128.9l1.7 0.4M375.7 127.2l-1.5 -1.2M374.5 127.3l-0.7 0.3M372 126.3l0.1 0.6M372.8 129l-1.6 0.1M376.3 129.1l0.8 0.8M374.9 127.1l-1.5 -1.3M389.4 83.9l1.5 -1.1M387.2 84l0.2 -0.9M388.5 84.1l-1.5 0.8M386.7 85l1.3 0.2M384.3 85.9l0.4 -0.9M388.4 83.7l1 0.2M377.5 106.3l-1.4 -0.2M373.3 105.7l-1.2 -1.1M374.7 106.6l-0.3 -0.9M375.7 103.2l-1.5 0.5M377.7 105l-0.4 -0.7M376.3 106l-0.3 0.3M396.2 132.2l0.2 -0.5M399.6 134l-1 1.3M395.2 133.7l-1.1 0.8M397.5 132.8l0.1 -0.5M398.1 134.4l0 -0.8M395 131.4l-0.1 0.1M378.4 94.7l-1.4 -0.3M376.7 93.8l1.7 1.2M378 95.6l-0.1 -1.4M378.4 96l-0.1 0.2M378.7 93.3l1.1 -0.8M376.7 94.2l-0.3 0.8M383 93.7l-0.1 -1.2M381.4 96.1l-0.8 -0.8M383.8 96.1l-0.6 -0M380.2 93.6l1 0.5M383.9 94.7l0.4 -0.1M380.8 95.6l-1.3 -1M390.4 151.2l1.5 -0.3M389.7 149l-0.3 -1.2M390 150.4l1.6 0.5M392.4 151.2l1.2 -1.2M392.6 148.7l1.2 0.2M390 149l-1.1 0.8M380.6 123.2l1.4 0.2M376.5 121.7l1.7 -0.8M377.8 121.3l-0.2 1.4M375.9 124.2l1.4 0.9M375.6 121.9l-1.3 1.4M377 122l-0.3 -0.4M394.5 135.3l0.1 0.3M392.8 133.7l0.7 -0.2M395.2 133.8l1.8 -0.5M393.1 134.7l-0.1 -0.7M394.1 134l0.4 1.2M394.2 136.3l1.6 0.1M376.6 111.2l0.8 -0.9M374.7 109.5l-1.8 0.1M376.4 109.6l1.1 1.2M374.4 108.7l0.8 -0.4M376 109.5l1.7 0.3M371.8 111l-0.6 1.3M375.7 90.4l1.2 0.1M374.3 88.8l1.1 -1.1M375 89.2l-0.9 -0.6M378.9 89.4l0.3 0.6M375.3 90.2l0.4 0.2M375.5 88.8l-1.3 -0.6M391.3 132l1.2 -0.5M387.6 132l-0.1 -1.2M390 132.3l1.2 -0.8M390.6 134.5l1.1 0.9M389 132.7l1.5 -0.6M387.6 132.5l1.3 0.3M387.9 120.2l-0 0.8M391.2 119.3l1.2 -1.3M388.9 119.2l1.6 -1.4M387.1 120.3l-1.5 -0.4M389.7 119.4l-0.2 0.8M390.7 119.3l-1.3 -1.2M369.9 88.4l-0.1 1.1M374.2 91.7l-1.1 0.2M370.5 91l-1.6 -0.9M371 89.2l-1.6 -0.3M373.9 90l-0.2 -1.1M370.9 90.3l1.7 0.4M393.8 147.4l-0.2 -1.3M391.4 147.8l-1 0.2M389.6 146.1l0.6 0.7M389.8 146.8l-0.2 0.3M392.1 146.3l-0.4 0.5M393.7 148.4l0.6 0.6M372.7 141.1l0.9 -0.8M375.7 139.8l1.1 -0.4M373.1 139.7l-0.7 -1.3M375.3 138.1l-0.1 0.4M377.1 138.5l0.3 0.2M375.3 140.1l1.4 -0M389.9 131.4l-1.2 0.4M391 133.6l-1.4 -0M390.4 131.2l-1.4 0.8M390.8 132.3l0.6 0.7M390.8 131.5l-1.8 0.2M389.7 132.2l-0.5 1.1M379.3 111.7l1.7 -1M377.5 110.1l-1.4 0.7M378.5 110.4l-1.2 0.2M378.6 112.6l0 0.7M374.9 110.9l-1.5 1M379.8 111.5l-0.6 -0.5M380.2 113.3l1 -1.2M380.6 112.8l-1 -0.2M378.5 110.5l-0.5 -0.1M376.2 113.4l-0.7 0.2M376.8 112l-1.8 0.7M378.8 112.6l0.7 -0.6M401.8 93.7l0.4 1.2M398.1 92.9l-0.8 0M401.5 93.6l-0.6 0.1M398.3 92l-0.6 0.2M397.1 93.6l-0.2 0.4M401.5 92.3l-0.4 0.3M394.7 144.9l0.9 1.1M396.4 146.3l-0.7 -0.6M395.9 145.6l0.2 -0.1M396.8 143.1l0.3 -1M395.7 144.4l-1.5 1.1M395.3 145.1l-0.6 0.3M385.5 132.3l-1.8 -0.7M386.7 132.8l0.4 0.1M382 132.7l-0.6 0.2M382.8 130.7l-0.2 0.5M384 131.1l0.1 1M386.8 132.3l-1.2 0.8M394.2 94.1l1.8 -0M397.8 94.1l0.9 1.1M398 94l1.3 -0.6M394.2 95.6l1.6 0.6M394 95.4l-1.4 -1.1M395.7 95.4l-0.7 -0.8M394.8 154.4l1.7 0.8M392.9 153.3l1.3 -1.3M395.7 152.3l0.3 0.6M395.3 152.3l-1.3 -0.1M393.7 152.2l-1.4 -0.5M392.3 152l0.2 -0.3M395.9 143.6l-0.4 1.3M393.4 143.7l1.1 0.1M395 144l-1.4 0.8M395.3 144.4l0.4 -0.3M395.2 142.4l1.3 0.9M396.4 144.1l-1 -0.6M391.4 84.9l0.8 1.4M389.7 85.2l1.2 1M392.4 87.9l-0.1 1.1M387.5 87.5l0.6 -0.4M387.7 85.9l-1.6 0.2M389.2 85.9l-1.3 -1.1M395.9 136.7l-0.4 0.2M393.8 135.4l-1.5 1.4M396.2 138.1l0.7 -1M391.7 137l1.1 -1.1M391.4 135.8l0.6 1.1M393 138l-1.2 0.8M388.4 118.1l-1.3 -0.8M385 116.1l-0.3 1.3M385.5 115.6l1.5 0.2M386.5 117.6l0.9 0M387.7 117.9l-0.4 0.3M385.7 116.7l0.1 -0.2M379.3 136.9l-1.1 -0.2M378 134.8l-1.3 0.8M378.1 135.6l0.7 -1.4M379.4 136.6l-0.7 0.4M379.8 137.1l-0.6 0.7M378.6 136.5l-1 -0.5M385.6 126.1l0.8 1.4M388.9 125.9l-0.5 -0.2M386.3 123.5l-0.8 -0.8M389.8 125.6l1.4 -0.1M389.1 123.8l1.1 1.1M385.8 123.8l1.1 -0.3M388.5 108.1l0.5 -0.4M389.8 109.6l-1.4 -0.3M388 108.1l-1.2 -0.5M385.6 109.6l1.3 0.4M390.6 108.7l1.6 1.2M387.8 108.8l0.3 -1.3" stroke="#ee88ee" stroke-width="2.2" stroke-linecap="round" fill="none" opacity="0.45"/>
<path d="M389.9 104.6l-0.4 0M390.2 105.1l0.7 0.5M386.8 105.5l-0.6 1.4M389.2 104.3l0.6 0.4M389.3 104.1l0.7 -0.1M390.5 105.6l0.6 -0.2M399.7 149.4l1.3 -1.2M394.9 149.2l1.5 0.9M396 148.7l-1.4 -0.4M397 148l0.8 -0.9M399.4 146.9l-1.4 1M398.6 146.8l-0.4 -0.5M369.3 121.6l0.8 0.8M373.9 122.4l-0.3 -0.5M373.5 120.6l-1.5 -0.6M371.5 120.5l-1.3 1.4M372.1 121.1l0.2 -0.1M372.2 121.1l1.4 0.5M389.2 113.3l-1.6 -0.8M387.3 110.9l-0.7 -0.5M384.8 111.3l-0.1 -1.4M387.9 110.7l1.2 0M386 111.2l-1.7 -1.1M385.6 112.6l0.6 0.8M390.6 105.2l-1.8 0.9M386.9 107.8l-1.2 0.8M386.8 104.4l1.4 -0.3M387.3 105.3l-0.5 0.5M386.7 105.3l0 -1.1M390.2 105l1.3 0.3M391.1 87.3l-0.2 0.5M388.7 88.2l0.4 -1.3M390.7 90.3l-1.1 -0.8M388 88.7l-1.1 -0.7M389.9 89.8l-0.8 -0.1M391.3 90l0 0M373.3 126.3l1.3 -0.4M373.6 126.5l-0.8 0.2M372.3 124l-0.9 0.9M375.8 126l0.4 -1.3M375.1 126.3l-0.3 0.9M376.3 126.7l-0.4 0.5M374.6 148.8l-1 0.8M376.3 147.8l1 0.2M372.6 150.8l-0.2 0.7M371.7 149.2l-1.5 0.4M373.8 150.7l-1 -1.2M373 149.3l-1.3 1.3M384.7 134.6l-0.8 -0.6M385.9 135.1l-0.9 -0.3M386.6 133l-0.5 -1.3M386.6 133.6l-1 -0.3M385.8 134.3l-0.5 1.2M388.8 135.3l-0.2 0.7M391.3 107.4l-0.6 0.5M395 106.9l-0.7 1.3M395.1 106.9l-0.7 -0.6M394 108l-0 1.1M393.1 107.9l0.5 0.3M391.3 105.2l0.7 -1.1M386.5 115.6l1.5 -0.6M383.4 114.8l-1.2 0.3M385.4 114.9l-0.1 0.5M385.6 114.8l1.6 -0.4M382.1 116.7l-1.5 0.5M384.1 117.7l-0.9 0.7M389.2 94.7l-0.5 1.2M392.7 94.2l1.2 -1.2M388.1 97.6l-0.3 0.3M391.4 96.1l1.4 1.3M392.8 94.9l1.4 -0.8M390.2 97.7l1.6 -1.1M373.5 112.2l-1.2 1.3M377.4 109.1l1.5 1.1M372.8 111.3l-1.7 0.4M372.7 109.5l-0.7 -0.3M373.4 108.8l-1.7 -0.9M377.2 108.9l0.6 1.1M374.7 95l-0.4 -0.9M379.4 95.7l-1.2 -0.8M379.3 96.4l-1.8 0.2M376.1 95.5l-1.6 -0.5M379 95.7l-0.3 0.2M374.9 96l0.2 -0.9M375.3 131.5l-0.9 -0.6M374 130.7l1 -0.3M376.6 131.8l0 -0.5M376.8 130.8l-1.4 -1M373.9 128.9l-0.5 1.3M374.3 128.9l1.7 0.4M375.7 127.2l-1.5 -1.2M374.5 127.3l-0.7 0.3M372 126.3l0.1 0.6M372.8 129l-1.6 0.1M376.3 129.1l0.8 0.8M374.9 127.1l-1.5 -1.3M389.4 83.9l1.5 -1.1M387.2 84l0.2 -0.9M388.5 84.1l-1.5 0.8M386.7 85l1.3 0.2M384.3 85.9l0.4 -0.9M388.4 83.7l1 0.2M377.5 106.3l-1.4 -0.2M373.3 105.7l-1.2 -1.1M374.7 106.6l-0.3 -0.9M375.7 103.2l-1.5 0.5M377.7 105l-0.4 -0.7M376.3 106l-0.3 0.3M396.2 132.2l0.2 -0.5M399.6 134l-1 1.3M395.2 133.7l-1.1 0.8M397.5 132.8l0.1 -0.5M398.1 134.4l0 -0.8M395 131.4l-0.1 0.1M378.4 94.7l-1.4 -0.3M376.7 93.8l1.7 1.2M378 95.6l-0.1 -1.4M378.4 96l-0.1 0.2M378.7 93.3l1.1 -0.8M376.7 94.2l-0.3 0.8M383 93.7l-0.1 -1.2M381.4 96.1l-0.8 -0.8M383.8 96.1l-0.6 -0M380.2 93.6l1 0.5M383.9 94.7l0.4 -0.1M380.8 95.6l-1.3 -1M390.4 151.2l1.5 -0.3M389.7 149l-0.3 -1.2M390 150.4l1.6 0.5M392.4 151.2l1.2 -1.2M392.6 148.7l1.2 0.2M390 149l-1.1 0.8M380.6 123.2l1.4 0.2M376.5 121.7l1.7 -0.8M377.8 121.3l-0.2 1.4M375.9 124.2l1.4 0.9M375.6 121.9l-1.3 1.4M377 122l-0.3 -0.4M394.5 135.3l0.1 0.3M392.8 133.7l0.7 -0.2M395.2 133.8l1.8 -0.5M393.1 134.7l-0.1 -0.7M394.1 134l0.4 1.2M394.2 136.3l1.6 0.1M376.6 111.2l0.8 -0.9M374.7 109.5l-1.8 0.1M376.4 109.6l1.1 1.2M374.4 108.7l0.8 -0.4M376 109.5l1.7 0.3M371.8 111l-0.6 1.3M375.7 90.4l1.2 0.1M374.3 88.8l1.1 -1.1M375 89.2l-0.9 -0.6M378.9 89.4l0.3 0.6M375.3 90.2l0.4 0.2M375.5 88.8l-1.3 -0.6M391.3 132l1.2 -0.5M387.6 132l-0.1 -1.2M390 132.3l1.2 -0.8M390.6 134.5l1.1 0.9M389 132.7l1.5 -0.6M387.6 132.5l1.3 0.3M387.9 120.2l-0 0.8M391.2 119.3l1.2 -1.3M388.9 119.2l1.6 -1.4M387.1 120.3l-1.5 -0.4M389.7 119.4l-0.2 0.8M390.7 119.3l-1.3 -1.2M369.9 88.4l-0.1 1.1M374.2 91.7l-1.1 0.2M370.5 91l-1.6 -0.9M371 89.2l-1.6 -0.3M373.9 90l-0.2 -1.1M370.9 90.3l1.7 0.4M393.8 147.4l-0.2 -1.3M391.4 147.8l-1 0.2M389.6 146.1l0.6 0.7M389.8 146.8l-0.2 0.3M392.1 146.3l-0.4 0.5M393.7 148.4l0.6 0.6M372.7 141.1l0.9 -0.8M375.7 139.8l1.1 -0.4M373.1 139.7l-0.7 -1.3M375.3 138.1l-0.1 0.4M377.1 138.5l0.3 0.2M375.3 140.1l1.4 -0M389.9 131.4l-1.2 0.4M391 133.6l-1.4 -0M390.4 131.2l-1.4 0.8M390.8 132.3l0.6 0.7M390.8 131.5l-1.8 0.2M389.7 132.2l-0.5 1.1M379.3 111.7l1.7 -1M377.5 110.1l-1.4 0.7M378.5 110.4l-1.2 0.2M378.6 112.6l0 0.7M374.9 110.9l-1.5 1M379.8 111.5l-0.6 -0.5M380.2 113.3l1 -1.2M380.6 112.8l-1 -0.2M378.5 110.5l-0.5 -0.1M376.2 113.4l-0.7 0.2M376.8 112l-1.8 0.7M378.8 112.6l0.7 -0.6M401.8 93.7l0.4 1.2M398.1 92.9l-0.8 0M401.5 93.6l-0.6 0.1M398.3 92l-0.6 0.2M397.1 93.6l-0.2 0.4M401.5 92.3l-0.4 0.3M394.7 144.9l0.9 1.1M396.4 146.3l-0.7 -0.6M395.9 145.6l0.2 -0.1M396.8 143.1l0.3 -1M395.7 144.4l-1.5 1.1M395.3 145.1l-0.6 0.3M385.5 132.3l-1.8 -0.7M386.7 132.8l0.4 0.1M382 132.7l-0.6 0.2M382.8 130.7l-0.2 0.5M384 131.1l0.1 1M386.8 132.3l-1.2 0.8M394.2 94.1l1.8 -0M397.8 94.1l0.9 1.1M398 94l1.3 -0.6M394.2 95.6l1.6 0.6M394 95.4l-1.4 -1.1M395.7 95.4l-0.7 -0.8M394.8 154.4l1.7 0.8M392.9 153.3l1.3 -1.3M395.7 152.3l0.3 0.6M395.3 152.3l-1.3 -0.1M393.7 152.2l-1.4 -0.5M392.3 152l0.2 -0.3M395.9 143.6l-0.4 1.3M393.4 143.7l1.1 0.1M395 144l-1.4 0.8M395.3 144.4l0.4 -0.3M395.2 142.4l1.3 0.9M396.4 144.1l-1 -0.6M391.4 84.9l0.8 1.4M389.7 85.2l1.2 1M392.4 87.9l-0.1 1.1M387.5 87.5l0.6 -0.4M387.7 85.9l-1.6 0.2M389.2 85.9l-1.3 -1.1M395.9 136.7l-0.4 0.2M393.8 135.4l-1.5 1.4M396.2 138.1l0.7 -1M391.7 137l1.1 -1.1M391.4 135.8l0.6 1.1M393 138l-1.2 0.8M388.4 118.1l-1.3 -0.8M385 116.1l-0.3 1.3M385.5 115.6l1.5 0.2M386.5 117.6l0.9 0M387.7 117.9l-0.4 0.3M385.7 116.7l0.1 -0.2M379.3 136.9l-1.1 -0.2M378 134.8l-1.3 0.8M378.1 135.6l0.7 -1.4M379.4 136.6l-0.7 0.4M379.8 137.1l-0.6 0.7M378.6 136.5l-1 -0.5M385.6 126.1l0.8 1.4M388.9 125.9l-0.5 -0.2M386.3 123.5l-0.8 -0.8M389.8 125.6l1.4 -0.1M389.1 123.8l1.1 1.1M385.8 123.8l1.1 -0.3M388.5 108.1l0.5 -0.4M389.8 109.6l-1.4 -0.3M388 108.1l-1.2 -0.5M385.6 109.6l1.3 0.4M390.6 108.7l1.6 1.2M387.8 108.8l0.3 -1.3" stroke="#dc30dc" stroke-width="1" stroke-linecap="round" fill="none"/>
<g fill="#666" stroke="#9a9a9a" stroke-width="0.35"><circle cx="390.9" cy="107.3" r="1.15"/><circle cx="392.6" cy="108.1" r="1.0"/><circle cx="396.2" cy="146" r="1.15"/><circle cx="394.7" cy="147.2" r="1.0"/><circle cx="374.2" cy="122.3" r="1.15"/><circle cx="374.5" cy="120.4" r="1.0"/><circle cx="385.1" cy="112.9" r="1.15"/><circle cx="383.4" cy="112.1" r="1.0"/><circle cx="391.5" cy="105" r="1.15"/><circle cx="392.2" cy="106.8" r="1.0"/><circle cx="388.9" cy="88.2" r="1.15"/><circle cx="387.3" cy="87.2" r="1.0"/><circle cx="376.6" cy="124.5" r="1.15"/><circle cx="374.8" cy="124.9" r="1.0"/><circle cx="372.6" cy="150.2" r="1.15"/><circle cx="373" cy="148.4" r="1.0"/><circle cx="385.4" cy="135.5" r="1.15"/><circle cx="386.7" cy="137" r="1.0"/><circle cx="393.9" cy="109.3" r="1.15"/><circle cx="394" cy="111.2" r="1.0"/><circle cx="382.5" cy="115.8" r="1.15"/><circle cx="381.4" cy="117.4" r="1.0"/><circle cx="390.3" cy="98" r="1.15"/><circle cx="388.5" cy="98.5" r="1.0"/><circle cx="375.9" cy="95.7" r="1.15"/><circle cx="376.1" cy="93.8" r="1.0"/><circle cx="377.5" cy="130.8" r="1.15"/><circle cx="375.9" cy="129.8" r="1.0"/><circle cx="375.6" cy="127.8" r="1.15"/><circle cx="374.8" cy="126" r="1.0"/><circle cx="387" cy="84.6" r="1.15"/><circle cx="388.2" cy="86.1" r="1.0"/><circle cx="375.6" cy="105.4" r="1.15"/><circle cx="376.2" cy="103.6" r="1.0"/><circle cx="395.6" cy="131.2" r="1.15"/><circle cx="397.3" cy="130.5" r="1.0"/><circle cx="378.3" cy="94.5" r="1.15"/><circle cx="378.9" cy="92.7" r="1.0"/><circle cx="381.7" cy="93.4" r="1.15"/><circle cx="381.6" cy="95.3" r="1.0"/><circle cx="392.6" cy="151.4" r="1.15"/><circle cx="391.1" cy="152.5" r="1.0"/><circle cx="378.3" cy="120.6" r="1.15"/><circle cx="380" cy="121.3" r="1.0"/><circle cx="392.3" cy="134.1" r="1.15"/><circle cx="391.7" cy="132.3" r="1.0"/><circle cx="374.8" cy="108.2" r="1.15"/><circle cx="376.7" cy="108.2" r="1.0"/><circle cx="377.3" cy="89.7" r="1.15"/><circle cx="379.2" cy="89.9" r="1.0"/><circle cx="390.6" cy="134" r="1.15"/><circle cx="391.1" cy="135.8" r="1.0"/><circle cx="389" cy="118.4" r="1.15"/><circle cx="387.1" cy="118.1" r="1.0"/><circle cx="374.8" cy="90.8" r="1.15"/><circle cx="376" cy="92.3" r="1.0"/><circle cx="390.7" cy="147.3" r="1.15"/><circle cx="391" cy="145.4" r="1.0"/><circle cx="372.5" cy="140.3" r="1.15"/><circle cx="370.8" cy="141" r="1.0"/><circle cx="391.5" cy="132.7" r="1.15"/><circle cx="393.2" cy="133.5" r="1.0"/><circle cx="376.9" cy="110.7" r="1.15"/><circle cx="375.8" cy="112.2" r="1.0"/><circle cx="377" cy="113.7" r="1.15"/><circle cx="375.9" cy="112.2" r="1.0"/><circle cx="399.6" cy="90.5" r="1.15"/><circle cx="401.2" cy="91.4" r="1.0"/><circle cx="394.4" cy="146.3" r="1.15"/><circle cx="394" cy="148.1" r="1.0"/><circle cx="385.5" cy="133.1" r="1.15"/><circle cx="384" cy="131.9" r="1.0"/><circle cx="393.8" cy="92.2" r="1.15"/><circle cx="392" cy="92.6" r="1.0"/><circle cx="391.9" cy="152" r="1.15"/><circle cx="392.6" cy="153.7" r="1.0"/><circle cx="396.8" cy="142.6" r="1.15"/><circle cx="395.1" cy="141.8" r="1.0"/><circle cx="389.9" cy="84.5" r="1.15"/><circle cx="391.4" cy="85.7" r="1.0"/><circle cx="394.9" cy="138.2" r="1.15"/><circle cx="394.2" cy="140" r="1.0"/><circle cx="386.7" cy="117.4" r="1.15"/><circle cx="386.8" cy="119.3" r="1.0"/><circle cx="379.8" cy="136.7" r="1.15"/><circle cx="381.4" cy="137.8" r="1.0"/><circle cx="389.2" cy="127" r="1.15"/><circle cx="387.5" cy="127.8" r="1.0"/><circle cx="388.8" cy="106.5" r="1.15"/><circle cx="389.9" cy="105.1" r="1.0"/></g>
</g>
<path d="M29.9 189.3V338.2M36 189.3V338.2M42.1 189.3V338.2M48.2 189.3V338.2M54.3 189.3V338.2M60.4 189.3V338.2M66.5 189.3V338.2M72.6 189.3V338.2M78.7 189.3V338.2M84.8 189.3V338.2M90.9 189.3V338.2M97.1 189.3V338.2M103.2 189.3V338.2M109.3 189.3V338.2M115.4 189.3V338.2M121.5 189.3V338.2M127.6 189.3V338.2M133.7 189.3V338.2M139.8 189.3V338.2M145.9 189.3V338.2M152 189.3V338.2M158.1 189.3V338.2M164.2 189.3V338.2M170.3 189.3V338.2M176.4 189.3V338.2M182.5 189.3V338.2M188.6 189.3V338.2M194.7 189.3V338.2M200.8 189.3V338.2M206.9 189.3V338.2M213 189.3V338.2M219.1 189.3V338.2M225.2 189.3V338.2M231.4 189.3V338.2M237.5 189.3V338.2M243.6 189.3V338.2M249.7 189.3V338.2M255.8 189.3V338.2M261.9 189.3V338.2M268 189.3V338.2M274.1 189.3V338.2M280.2 189.3V338.2M286.3 189.3V338.2M292.4 189.3V338.2M23.8 214.1H298.5M23.8 238.9H298.5M23.8 263.8H298.5M23.8 288.6H298.5M23.8 313.4H298.5" stroke="#dedede" stroke-width="0.8" fill="none"/>
<path d="M23.8 288.6H298.5" stroke="#7474f6" stroke-width="1.3" fill="none"/>
<path d="M48 630l1-7 1-7 1-1 1-2 1-25 1-7 1-9 1 4 1 15 1-4 1 2 1-3 1 11 1-15 1-10 1 12 1-10 1 10 1-12 1 4 1 16 1-6 1-21 1 18 1-10 1 3 1-7 1 3 1 1 1 1 1-4 1-1 1-7 1 15 1-1 1-10 1 16 1-10 1-3 1-1 1-7 1 32 1-29 1 15 1 5 1 8 1-13 1-3 1 4 1-6 1 3 1-10 1 16 1-4 1-6 1 19 1-31 1 16 1-9 1 5 1-8 1-2 1 11 1-5 1 19 1-1 1-1 1-18 1-7 1-3 1 23 1 8 1-12 1 7 1-24 1 24 1-14 1 6 1-11 1-10 1-1 1 26 1-14 1-2 1-1 1 9 1 2 1 2 1-21 1 41 1-30 1 4 1-4 1-9 1 12 1-7 1 0 1 20 1-15 1 1 1-1 1 21 1-9 1 18 1-30 1 8 1-8 1 9 1-16 1 8 1 23 1-14 1 0 1 0 1 20 1-16 1-19 1 14 1-4 1 10 1-14 1 31 1-17 1-5 1 22 1-12 1-3 1-4 1 4 1 1 1 0 1 7 1-8 1 10 1-18 1 21 1-10 1 14 1-24 1 9 1 2 1 8 1-24 1 27 1-18 1 4 1 14 1-17 1-4 1 2 1 3 1-4 1 0 1 7 1 3 1-7 1-2 1 2 1-3 1-14 1 12 1 1 1 6 1-2 1-7 1-10 1-1 1 4 1 10 1 8 1-13 1 2 1-4 1-14 1 20 1-19 1 13 1-4 1-6 1 11 1-10 1 26 1-13 1-12 1 26 1-17 1 3 1-11 1 10 1-5 1 9 1 6 1 0 1-9 1 21 1-16 1 6 1 14 1-27 1 8 1-6 1 4 1 7 1-11 1-2 1-7 1 17 1-1 1 0 1-12 1 16 1-11 1 9 1-6 1 2 1 0 1 14 1-21 1-9 1 29 1-15 1-13 1 7 1-6 1 4 1 19 1-25 1 3 1 2 1 3 1-7 1-5 1 31 1-25 1 6 1 1 1 0 1-6 1 8 1-5 1 13 1-11 1 8 1-5 1 15 1-1 1-5 1-15 1 17 1-27 1 23 1-4 1 4 1-11 1 10 1-6 1 11 1 5 1-17 1-14 1 13 1-1 1 11 1 5 1-17 1 0 1 29 1-26 1 3 1-3 1-10 1 22 1-6 1-3 1-5 1 2 1-2 1-14 1 26 1 0 1-25 1 12 1-10 1 29 1-4 1-16 1-7 1 6 1 3 1 6 1-9 1 5 1-4 1 5 1-9 1 14 1-2 1-19 1-11 1 15 1-11 1 19 1 0 1 4 1 9 1 1 1-5 1 17 1-11 1 9 1-11 1-8 1 6 1 10 1-10 1 11 1-1 1-7 1-5 1 17 1-9 1-4 1-1 1 11 1-5 1 12 1-18 1 10 1-8 1 4 1-3 1 7 1-2 1-15 1 7 1 3 1 2 1-9 1 22 1-17 1-4 1 0 1 6 1-11 1 0 1 0 1 5 1 3 1-9 1 12 1-6 1 18 1-26 1 7 1 5 1-7 1 3 1 9 1-4 1-5 1 11 1-11 1-2 1-5 1 20 1 0 1 5 1-4 1-13 1 4 1 5 1 3 1-12 1 9 1-8 1 1 1 9 1-14 1 12 1-13 1 25 1-12 1-2 1 9 1-4 1 3 1 7 1-4 1-19 1 14 1 10 1-21 1 15 1 0 1-1 1-10 1-11 1 27 1-18 1-9 1 5 1 2 1-3 1-8 1 22 1-5 1-21 1 7 1-3 1 7 1 17 1-12 1-3 1 4 1 10 1-12 1-12 1 15 1-4 1 6 1-8 1 12 1-12 1 7 1-18 1 14 1-3 1 0 1 1 1-3 1 4 1 11 1-3 1-7 1 23 1-27 1 2 1 9 1-5 1 6 1 7 1 4 1-10 1-2 1 10 1-9 1-6 1 14 1-7 1-3 1 13 1-18 1-6 1 1 1 5 1-7 1 8 1 12 1-19 1 23 1-29 1 0 1 2 1 5 1-1 1-1 1 0 1 12 1-5 1 6 1-4 1 5 1-2 1-1 1-7 1 2 1 10 1 2 1 8 1-16 1 2 1 3 1-5 1 3 1 15 1-17 1-1 1-6 1-1 1 16 1 0 1-15 1 13 1 5 1-15 1 11 1 3 1-8 1 2 1 4 1-1 1-6 1 10 1-4 1 0 1 8 1-16 1 10 1-7 1 7 1 18 1-18 1 4 1-3 1 1 1-7 1 8 1-3 1 5 1-10 1 16 1-12 1 7 1 3 1 4 1-3 1 7 1-1 1-4 1 1 1 6 1-2 1 1 1 5 1 3 1 11 1-8 1 5 1-11 1 6 1 10 1-6 1 3 1 17 1-18 1 19 1-11 1 5 1 1" stroke="#0000ff" stroke-width="1.6" fill="none" transform="scale(.5)"/>
<path d="M48 631l1 3 1-6 1 5 1-31 1-8 1 5 1-9 1-4 1-2 1-3 1-3 1 11 1-14 1 6 1 14 1-15 1-2 1 15 1-24 1 21 1-22 1 1 1 6 1-1 1 1 1 7 1 8 1-8 1 6 1-2 1-11 1-16 1 15 1-1 1-1 1 5 1-16 1 18 1-17 1 7 1 1 1 11 1-15 1-3 1 21 1-20 1 12 1-2 1 9 1-7 1-8 1 10 1-3 1 0 1 19 1-34 1 12 1-1 1-3 1-2 1-2 1 8 1-11 1 2 1 15 1-30 1 21 1-10 1-2 1-4 1-9 1 25 1-13 1 6 1-10 1-1 1 12 1 10 1 1 1-9 1-1 1 2 1-14 1-2 1-1 1 14 1 23 1-13 1 9 1-15 1 2 1 8 1 6 1 13 1-21 1-7 1-1 1 6 1-5 1 16 1 15 1-20 1 12 1-1 1 0 1 8 1-23 1 1 1 7 1 1 1-13 1 2 1 23 1-20 1 13 1 6 1-6 1-3 1-1 1 4 1-2 1 2 1 4 1-17 1 14 1-17 1 0 1 14 1-3 1-4 1 9 1-4 1-7 1-7 1 9 1-1 1-15 1 7 1 11 1-5 1-2 1 7 1-7 1 8 1 1 1 15 1-6 1-14 1-8 1 24 1-21 1-8 1 12 1-8 1 9 1-4 1-7 1 10 1 17 1-12 1-10 1 4 1-2 1-4 1 3 1 5 1 0 1-4 1 0 1 3 1-9 1-5 1 9 1 10 1-13 1 21 1-14 1 10 1-14 1 8 1 8 1-14 1-10 1 0 1 8 1-1 1 3 1-13 1-1 1 16 1 0 1 1 1-2 1-20 1 16 1-11 1-5 1 44 1-23 1-6 1 4 1-15 1 20 1-9 1-1 1-7 1 16 1-6 1-9 1-5 1 13 1-3 1 3 1-2 1-7 1 26 1-15 1-7 1-1 1 2 1 12 1-11 1-1 1 7 1 18 1-14 1-3 1 3 1-1 1 1 1-13 1 3 1 4 1-1 1 0 1 1 1 9 1-10 1 17 1-4 1-1 1-8 1-2 1 9 1 6 1-7 1-4 1-1 1 7 1 5 1 2 1-6 1 5 1-11 1 4 1-9 1 2 1-10 1 29 1-24 1-1 1 0 1 13 1-14 1-4 1 22 1-10 1 2 1-2 1-16 1-4 1 8 1 6 1 0 1-14 1 22 1-10 1 2 1 9 1-16 1 22 1-4 1-10 1 22 1-12 1 6 1-13 1 7 1-9 1 18 1-5 1 2 1 2 1-8 1 7 1 9 1-30 1 13 1 6 1-16 1 4 1 12 1-30 1 7 1 24 1-18 1 14 1-6 1-1 1 6 1-6 1 0 1 5 1-2 1-6 1 7 1 4 1-6 1 4 1-6 1 12 1-14 1 15 1 1 1-9 1 5 1-7 1 14 1-7 1-7 1 4 1 0 1 14 1-12 1-11 1 11 1-3 1 1 1 9 1-7 1-1 1 5 1-11 1 8 1 15 1-26 1 6 1-3 1-2 1 7 1 9 1 6 1-9 1 1 1 5 1-5 1-4 1-4 1-3 1 5 1 1 1 3 1 10 1 5 1 4 1-17 1 5 1 11 1-24 1 8 1-7 1 21 1-20 1-11 1 7 1-4 1 6 1-11 1 11 1-9 1 10 1-2 1-4 1-8 1 4 1 13 1 0 1-8 1 21 1-29 1 14 1 2 1-10 1 4 1-10 1 5 1-3 1 12 1-8 1 3 1 4 1 17 1-10 1-3 1-5 1 1 1 2 1-2 1-2 1 0 1-8 1 13 1-8 1 13 1-15 1 12 1-2 1-2 1-4 1 19 1 1 1-11 1-4 1-7 1-6 1 28 1-4 1-5 1-7 1-3 1 0 1 5 1 1 1 11 1-13 1-4 1 1 1 10 1-6 1 7 1 2 1-15 1 27 1-18 1-5 1 3 1-3 1 9 1-16 1-1 1 6 1 18 1-17 1 5 1 5 1-2 1-6 1-12 1 12 1-2 1-7 1 13 1-7 1 2 1 6 1-10 1 5 1 2 1 7 1-5 1-2 1-4 1 0 1 0 1-4 1 1 1 8 1-1 1 9 1 0 1 3 1-9 1 2 1-3 1-2 1 4 1 4 1-1 1 3 1-6 1-3 1-8 1 12 1-7 1-2 1 7 1-1 1 15 1-14 1 2 1 12 1-15 1-2 1 7 1-10 1 25 1-9 1-8 1-11 1 17 1 0 1 1 1-5 1 4 1-1 1 5 1 15 1-19 1 15 1-5 1-9 1 11 1-11 1 4 1 19 1-12 1 5 1 4 1 5 1 1 1-3 1 5 1-3 1-2 1 0 1 0 1 0 1 0 1 3 1 8 1-3 1 8 1 5 1-8 1 5 1-1 1-4 1 13 1-10" stroke="#0033ff" stroke-width="1.6" fill="none" transform="scale(.5)"/>
<path d="M48 644l1-10 1 0 1-9 1-22 1-6 1-10 1 3 1-4 1-6 1 4 1 3 1 1 1-14 1 4 1 17 1-8 1-6 1-10 1 2 1-2 1 1 1 4 1-12 1-3 1 8 1-1 1 6 1-1 1-3 1-1 1-9 1 14 1-1 1-8 1-1 1 8 1-12 1 21 1-17 1 0 1 8 1-2 1 4 1-4 1 17 1-25 1 6 1 11 1 16 1-16 1 3 1-3 1-2 1 1 1-2 1-12 1 4 1 4 1-4 1-8 1 17 1-6 1-8 1 23 1-21 1 14 1-28 1 35 1-27 1-2 1 11 1-2 1-4 1-10 1 15 1 12 1-17 1-5 1 21 1-24 1 5 1 14 1 8 1 15 1-30 1 15 1-15 1 19 1-17 1 8 1-1 1 4 1 14 1-20 1-6 1 8 1 5 1-5 1 13 1-3 1-24 1 8 1 8 1 4 1 14 1-24 1 1 1-7 1 22 1-19 1 16 1-2 1 21 1-17 1-25 1 22 1-7 1-8 1-1 1 17 1-10 1-2 1 10 1-8 1 3 1 2 1-5 1-5 1 12 1-3 1 1 1-6 1 8 1-3 1 5 1-5 1 5 1 2 1 17 1-11 1 4 1-18 1 10 1-5 1-4 1 16 1-10 1 6 1-3 1 10 1-14 1-8 1-1 1-2 1 13 1-9 1-5 1 24 1-19 1 2 1-5 1-5 1 8 1-6 1 8 1-12 1 18 1-7 1 6 1-22 1 10 1-1 1 14 1-16 1-5 1 0 1 23 1-10 1-2 1 8 1-10 1 2 1-20 1 12 1 4 1-16 1 14 1-2 1-2 1 13 1-1 1-20 1 14 1-7 1 4 1 7 1 1 1-15 1 14 1-2 1 28 1-31 1 0 1 30 1-20 1-5 1-2 1 18 1-12 1-6 1 1 1 2 1 20 1-18 1 10 1-18 1 5 1-1 1 13 1 5 1-17 1 1 1-9 1 13 1 14 1-23 1 18 1-13 1 8 1-21 1 16 1-12 1 9 1 5 1-5 1 3 1 2 1-2 1 8 1-13 1 2 1-17 1 9 1-1 1 11 1-7 1-9 1 28 1-15 1-4 1 9 1-10 1 5 1-5 1-9 1 24 1-8 1-4 1 11 1-17 1 4 1 7 1-3 1 2 1-9 1 4 1 1 1 12 1-10 1 10 1-8 1-1 1 7 1-8 1 13 1-2 1-3 1-1 1 6 1 18 1-5 1-14 1 7 1-19 1 0 1 31 1-17 1-5 1 0 1-10 1 14 1 3 1 4 1-33 1-5 1 28 1-25 1 9 1-2 1 7 1-12 1-1 1 14 1-8 1 9 1 1 1 5 1-11 1 5 1 19 1-12 1 4 1-7 1 3 1 5 1-2 1-5 1 19 1-13 1-5 1 6 1-8 1 4 1-4 1 11 1-9 1-8 1 28 1-27 1 8 1 0 1-1 1 19 1-22 1 0 1 8 1-1 1-1 1 1 1-4 1 2 1-3 1-3 1 9 1 5 1 8 1-17 1 13 1-19 1 12 1 2 1 1 1-6 1 20 1-15 1-9 1-2 1 2 1 7 1 0 1-7 1 6 1 2 1 13 1-23 1 4 1 14 1-11 1 6 1 0 1-4 1 2 1-14 1 8 1-7 1 13 1-20 1 27 1-6 1 1 1-7 1 6 1-5 1-8 1 17 1-13 1-3 1 8 1 0 1-1 1 5 1 1 1-3 1 2 1-7 1 4 1-7 1 14 1-10 1-5 1-5 1 26 1-7 1-2 1-6 1-13 1-2 1 12 1 4 1-7 1-11 1 6 1-3 1 1 1-5 1 30 1-14 1-5 1 4 1-6 1-2 1 17 1-19 1 3 1-7 1 9 1 24 1-13 1-10 1 6 1-2 1-7 1 5 1 14 1-10 1 3 1-2 1 1 1 4 1 7 1 0 1-8 1 7 1-6 1-10 1 7 1-4 1 4 1 2 1 0 1-4 1 0 1 5 1-6 1 16 1-12 1-4 1 2 1 1 1 13 1-21 1 9 1-10 1-6 1 14 1 5 1 0 1-8 1-5 1 11 1-7 1 2 1 14 1-11 1 3 1 1 1 2 1-2 1-9 1 5 1 4 1-6 1 7 1 11 1-10 1-8 1-1 1 2 1 9 1-17 1 13 1-9 1 2 1 0 1-4 1 2 1 2 1 2 1-1 1 2 1-8 1 7 1 1 1 5 1 0 1-4 1 5 1-3 1-10 1 6 1-1 1 15 1 6 1-10 1-11 1 24 1-19 1 12 1 1 1-4 1 3 1 5 1 7 1-9 1 1 1 5 1 14 1-6 1 7 1-3 1-2 1 3 1 0 1 1 1 10 1-10 1 5 1 2 1-2 1-2 1 8 1-3 1 7 1-10 1 12 1-11 1 5 1 4 1 0" stroke="#0066ff" stroke-width="1.6" fill="none" transform="scale(.5)"/>
<path d="M345 556l1 3 1-1 1 21 1-11 1 3 1-7 1 15 1 13 1-27 1 22 1 8" stroke="#0000ff" stroke-width="1.6" fill="none" transform="scale(.5)"/>
<path d="M48 628l1-1 1-4 1-4 1-16 1-6 1-16 1 3 1 6 1-19 1 20 1-2 1-24 1 13 1-11 1 7 1 12 1-13 1 2 1 9 1-23 1 17 1 0 1-4 1 1 1 3 1-2 1-15 1 13 1 2 1 0 1-11 1-7 1 9 1 3 1 1 1-5 1 0 1-7 1 14 1-15 1 1 1 7 1 0 1 18 1-22 1 14 1-2 1 0 1-7 1-4 1 10 1-15 1 4 1-10 1 28 1-22 1 11 1 4 1-12 1 6 1 7 1-11 1 8 1-14 1 11 1-7 1 0 1 1 1 1 1-1 1 2 1-11 1 14 1-12 1 18 1 1 1-17 1 3 1 7 1-2 1 4 1-1 1-9 1-1 1 10 1-6 1-11 1 19 1-1 1-3 1-7 1 19 1-15 1-2 1 18 1-8 1-6 1 2 1 14 1-12 1 1 1-14 1 20 1-7 1 11 1-16 1 9 1-3 1 2 1 4 1-5 1-8 1 9 1 2 1 12 1-16 1 1 1 6 1-3 1 13 1-8 1 0 1-6 1-13 1 18 1-9 1 14 1-18 1 4 1 23 1-32 1 12 1 0 1 4 1 8 1-10 1 1 1 4 1 3 1-1 1-1 1 11 1-16 1 17 1-16 1 2 1-4 1 5 1 8 1-12 1 6 1 0 1-4 1-4 1 9 1 0 1-4 1-6 1-7 1 11 1-9 1 20 1-19 1 7 1-10 1 18 1-14 1 6 1 11 1-24 1 1 1 0 1 11 1-12 1 16 1-15 1-4 1 10 1 2 1-7 1-1 1 10 1-24 1 18 1 5 1-7 1-5 1 13 1-10 1 5 1 7 1 8 1-16 1 4 1-8 1 10 1-18 1 0 1 23 1-10 1-3 1 3 1 1 1-4 1-3 1 13 1-19 1 12 1-3 1 3 1 2 1-2 1 1 1 3 1-19 1 26 1-3 1-7 1 14 1-20 1 1 1 15 1-13 1 4 1-3 1 2 1 2 1-14 1 19 1-19 1 2 1 10 1-2 1 14 1-9 1-19 1 8 1 4 1 9 1-2 1-2 1-7 1-2 1 18 1-16 1 12 1 2 1-12 1 12 1-6 1 5 1-8 1 9 1-1 1 3 1 4 1-2 1-10 1 5 1 3 1-15 1 15 1-4 1-1 1 14 1-5 1 4 1-6 1-8 1 1 1 1 1 0 1 5 1-8 1-4 1 0 1 11 1-13 1 1 1-9 1 26 1 2 1-10 1-4 1 1 1 18 1-14 1-2 1-7 1 21 1-22 1 14 1-10 1-14 1 10 1-6 1-14 1 8 1-13 1 15 1-6 1-11 1 2 1 4 1 7 1 6 1 5 1 3 1 3 1 0 1 6 1-3 1 8 1 7 1-9 1 1 1 18 1-16 1 9 1 8 1-15 1-9 1 25 1-3 1-9 1-16 1 12 1 6 1 4 1-9 1 3 1-3 1 4 1-19 1 16 1 3 1-4 1 1 1-6 1-4 1 11 1 15 1-13 1 0 1 6 1-3 1-10 1 6 1-1 1-1 1 11 1-9 1-1 1-2 1-13 1 12 1-12 1 19 1-15 1-8 1 15 1-8 1 8 1-16 1 3 1-1 1-1 1 15 1-7 1 3 1-5 1 12 1-4 1-3 1 18 1-18 1-7 1 2 1 4 1 8 1-10 1 2 1-2 1 16 1-10 1-2 1 0 1 1 1 3 1 7 1-21 1 19 1-3 1-4 1-1 1 17 1-23 1 14 1-2 1 7 1-6 1-8 1-1 1 7 1-10 1-9 1 13 1 2 1-7 1 6 1 16 1-24 1 1 1 5 1-7 1 8 1-3 1 1 1 15 1-23 1 2 1-1 1 6 1-1 1 8 1-15 1 22 1-16 1 13 1 0 1 1 1-6 1-15 1 2 1 19 1-1 1-3 1-3 1 7 1-11 1 8 1 7 1-9 1-3 1-3 1 22 1-12 1 5 1 4 1-12 1 6 1-3 1 12 1-10 1-13 1 11 1 3 1-1 1 10 1-6 1 3 1-20 1 21 1-18 1-5 1 10 1-2 1-4 1 6 1-9 1 15 1-16 1 14 1-11 1 12 1-4 1 19 1-15 1-7 1 4 1-3 1-4 1 15 1 1 1-4 1-5 1 17 1-7 1-9 1 5 1-8 1-2 1-2 1 8 1 11 1-21 1 9 1-7 1 11 1-2 1 4 1 2 1-20 1 17 1-13 1 6 1 0 1 15 1-6 1 2 1-7 1 11 1-10 1 12 1 0 1 12 1-19 1 1 1 10 1 6 1-5 1 3 1-4 1 9 1 10 1-12 1 19 1-6 1 3 1-9 1-2 1 1 1-1 1 17 1-1 1 9 1-12 1-1 1 5 1-4 1-8 1 9 1 5 1 5 1-4 1 2 1-2 1-3 1 3" stroke="#00e0ff" stroke-width="1.6" fill="none" transform="scale(.5)"/>
<path d="M48 630l1-2 1-16 1 0 1-8 1-13 1-22 1 10 1-7 1 4 1 5 1-14 1 14 1 0 1 7 1-5 1-13 1 21 1-6 1-6 1 0 1-4 1 3 1-2 1 6 1-9 1 2 1 4 1-13 1 2 1 10 1-9 1-8 1 15 1 9 1-23 1 9 1-1 1 6 1-3 1-17 1 9 1-1 1-3 1-5 1 15 1 7 1-25 1 16 1 0 1 5 1-8 1 10 1-12 1 0 1-1 1 3 1-13 1 13 1-3 1-8 1-2 1 10 1-10 1 9 1 10 1-17 1 9 1 10 1-33 1 14 1 2 1-11 1 10 1-6 1 5 1-9 1 12 1 16 1-15 1-5 1 4 1 1 1-6 1 3 1 9 1-3 1 7 1-12 1 2 1 13 1-17 1 2 1 21 1-16 1 14 1 0 1-14 1 5 1 11 1 4 1-4 1-4 1-5 1 16 1 0 1-6 1-3 1 0 1-4 1 3 1 7 1-26 1 23 1-9 1 10 1 2 1 7 1-3 1-14 1 6 1 5 1-1 1-6 1-7 1 7 1-2 1-14 1 15 1-5 1 9 1-8 1 6 1-17 1 11 1-9 1 8 1 4 1-7 1 3 1 1 1-5 1 1 1-1 1 5 1 10 1-18 1 28 1-9 1-11 1 11 1-12 1 4 1-12 1 3 1 7 1 1 1 5 1-10 1 3 1-5 1 3 1 8 1-16 1 16 1 2 1-14 1 9 1 1 1-3 1 5 1 9 1-10 1-20 1 10 1 1 1 12 1-9 1-8 1 7 1 2 1-4 1-10 1 5 1 11 1 0 1 10 1-10 1 3 1-7 1-2 1 4 1 14 1-15 1 3 1 3 1 9 1-12 1 2 1-3 1 2 1-11 1 22 1-15 1 2 1-4 1 7 1-18 1 22 1-21 1 1 1 6 1 3 1-12 1 6 1 14 1-10 1 3 1-13 1 4 1-1 1-5 1 8 1-2 1-2 1 3 1-8 1 10 1-9 1 13 1-2 1-3 1-4 1 17 1-12 1 16 1-17 1 4 1-3 1 12 1-11 1-4 1 10 1 8 1-13 1 5 1 12 1-15 1 6 1-16 1 8 1 2 1 14 1-3 1 4 1-26 1 25 1 0 1-25 1 16 1 4 1 4 1-22 1 17 1 10 1-3 1-9 1 10 1-20 1 5 1-1 1-6 1 8 1 0 1-8 1 9 1 2 1 9 1-6 1-16 1 17 1-2 1 3 1 1 1-1 1 7 1-6 1 1 1-2 1-5 1 4 1-1 1 9 1-14 1-9 1 8 1-5 1-7 1 4 1-3 1-10 1 3 1-4 1 7 1 5 1 4 1 10 1-14 1 8 1 7 1-10 1 7 1 3 1 4 1 16 1-16 1 1 1 2 1 0 1 10 1-6 1-9 1 7 1-10 1 8 1 16 1-29 1 26 1-8 1 1 1-15 1 16 1 4 1-6 1 8 1-5 1-1 1 0 1-11 1 14 1-8 1 20 1-11 1-8 1 9 1-9 1 6 1-2 1-7 1 12 1-10 1-4 1 8 1 3 1-6 1 7 1-21 1 2 1 13 1-3 1 0 1 4 1 5 1 2 1 1 1 2 1-5 1 2 1-3 1-4 1 4 1 7 1-14 1 10 1-12 1 10 1-15 1-2 1 1 1 0 1 5 1-2 1 5 1-12 1 2 1 6 1-5 1-2 1-2 1 2 1 6 1-5 1 9 1-3 1-3 1-2 1-7 1-1 1 4 1 15 1-1 1-5 1-5 1 6 1 6 1-9 1-5 1-3 1 2 1 11 1 0 1-11 1 11 1 2 1-10 1 7 1 3 1-5 1 5 1-2 1-8 1 12 1 10 1-18 1 4 1 1 1-2 1-3 1 1 1-3 1 18 1-7 1 5 1-12 1 7 1 13 1-12 1-11 1-6 1 29 1-16 1 7 1-15 1 12 1-14 1-2 1 0 1 11 1 5 1 9 1-5 1-12 1 17 1-6 1-5 1-3 1 17 1-12 1 2 1-15 1 0 1 1 1 3 1 8 1 5 1-3 1-20 1 8 1-7 1 9 1 20 1-18 1 3 1-12 1 4 1-4 1 1 1 8 1 2 1 1 1 1 1 3 1 2 1-6 1 10 1-7 1 4 1-6 1-4 1-4 1-8 1 23 1-14 1 15 1-4 1-4 1 7 1 11 1-7 1 2 1-2 1 1 1-1 1-1 1 4 1-6 1 8 1 8 1 0 1-2 1-29 1 6 1 9 1 8 1 9 1-8 1-4 1 8 1 11 1-31 1 27 1-11 1 3 1 0 1 14 1-16 1 10 1-3 1 13 1 5 1-9 1 1 1-1 1 15 1-8 1 1 1 3 1-9 1 7 1 9 1-1 1 14 1-28 1 22 1 7 1-9 1 5 1 10 1-24 1 8" stroke="#00ffcc" stroke-width="1.6" fill="none" transform="scale(.5)"/>
<path d="M48 612l1-14 1-7 1 29 1-43 1 1 1-23 1 15 1-4 1 2 1 5 1-10 1-7 1 7 1-6 1-9 1 18 1 4 1-18 1 1 1 16 1-15 1 8 1 20 1-21 1-15 1-11 1 10 1 19 1-5 1 16 1-11 1-9 1 14 1-15 1-1 1-14 1 14 1 5 1 2 1 14 1-31 1 9 1 7 1-21 1 5 1 10 1-15 1 23 1-4 1 1 1-12 1-11 1 41 1-47 1 6 1 18 1 4 1-37 1 20 1 30 1-29 1 11 1-5 1-5 1 15 1 11 1-25 1 6 1-17 1 7 1 8 1-11 1-23 1 53 1-23 1 7 1-20 1 15 1-6 1 0 1-3 1 18 1-18 1-4 1 23 1-18 1 10 1 8 1-12 1-3 1 17 1-11 1 2 1-5 1 7 1-21 1 3 1 18 1-17 1 10 1 5 1 3 1 1 1-8 1 8 1-4 1 17 1-15 1-2 1 5 1-14 1 19 1-12 1 23 1-19 1 4 1-2 1 18 1-26 1 16 1 10 1-2 1-15 1 10 1 14 1-7 1-4 1-26 1 28 1-14 1 15 1-19 1 11 1-1 1 11 1-18 1 0 1 21 1 7 1-11 1-8 1-2 1 7 1 5 1-9 1-22 1 15 1-6 1 14 1-14 1 2 1 22 1-4 1-19 1-19 1 4 1 27 1-14 1 3 1 13 1-28 1 23 1-28 1 38 1-35 1-1 1 9 1-7 1 30 1-22 1 8 1 10 1-13 1-20 1 28 1 7 1-5 1-1 1-8 1 17 1-8 1-8 1 14 1-19 1 6 1 7 1 7 1-1 1-15 1-4 1 0 1 11 1 15 1-18 1 6 1 5 1-14 1-4 1 10 1-11 1 23 1-33 1 24 1-20 1 17 1-11 1 11 1-19 1 10 1 4 1-7 1 5 1-14 1 17 1-28 1 37 1-13 1 18 1-20 1 14 1-9 1 6 1-14 1-18 1 14 1 3 1 11 1-6 1 17 1-33 1 24 1-2 1-11 1 7 1-11 1 13 1-13 1 27 1-10 1-5 1 5 1-1 1 21 1-27 1 25 1-13 1-11 1 9 1 0 1-15 1-18 1 29 1-1 1 5 1 5 1-40 1 0 1 23 1 3 1 10 1 22 1-23 1-11 1-8 1 2 1 10 1-17 1 9 1-18 1 29 1 2 1-12 1-15 1 7 1 12 1 10 1-30 1 17 1 17 1-9 1 4 1-10 1 1 1 23 1-21 1 33 1-26 1 9 1 12 1-13 1 11 1-10 1 15 1-22 1-19 1 30 1-2 1-14 1-2 1 0 1-26 1 13 1 2 1 2 1 22 1-7 1 9 1-11 1 6 1-4 1 0 1 1 1-8 1 12 1-5 1 7 1 12 1-19 1-5 1 13 1 0 1-19 1 23 1-2 1 10 1-19 1-14 1 4 1 26 1-16 1 13 1-8 1 6 1 22 1-45 1 5 1 9 1 3 1-3 1 21 1-5 1-13 1 7 1-13 1 14 1-14 1 0 1 0 1 18 1-7 1-10 1-5 1 2 1 15 1-16 1-4 1 32 1-43 1 13 1 13 1 8 1-10 1 1 1 22 1 4 1-11 1-22 1 5 1 0 1 11 1 2 1-7 1-13 1 15 1 2 1-13 1 28 1-10 1-11 1-27 1 20 1 5 1 3 1-18 1-3 1 3 1-2 1 9 1 6 1-10 1 14 1 3 1-1 1 3 1 19 1-22 1 7 1-6 1-27 1 27 1-9 1 3 1 2 1 10 1-2 1 4 1 10 1-40 1 40 1-2 1-12 1-18 1 32 1-11 1-18 1-1 1-5 1 12 1 4 1 1 1-9 1-23 1 32 1 1 1-26 1 20 1-9 1-8 1 10 1 6 1-26 1 18 1-8 1 25 1-34 1 17 1-3 1 21 1-18 1-7 1 9 1 9 1 1 1 14 1-17 1-6 1 13 1-19 1 39 1-19 1 4 1-5 1 1 1-4 1-8 1 13 1-3 1 0 1 17 1-10 1-18 1 8 1-1 1 0 1 11 1 12 1-29 1 11 1 6 1 5 1 5 1 5 1-15 1 15 1-8 1-19 1 31 1-16 1 6 1-27 1 22 1-13 1-9 1 4 1 3 1-11 1 25 1-26 1 12 1-1 1 1 1-11 1-14 1 25 1-10 1 7 1 8 1-8 1-16 1 7 1-1 1-2 1 21 1-17 1 17 1-3 1 4 1-9 1 15 1 0 1-6 1-3 1 10 1-8 1-27 1 0 1 20 1 17 1-10 1 18 1 2 1-33 1 26 1 13 1-13 1-18 1 15 1 15 1-38 1 24 1 3 1 8 1-2 1 2 1-8 1 7 1-20 1 20 1 7 1 0 1 10 1-8 1 23 1-2 1-26 1 34 1-18 1 8 1-11" stroke="#00ff33" stroke-width="1.6" fill="none" transform="scale(.5)"/>
<path d="M48 592l1 14 1-18 1 2 1-17 1 1 1-21 1-1 1-2 1 16 1-2 1-22 1 22 1-11 1-11 1 8 1 14 1-20 1-11 1 27 1-21 1 14 1-19 1 19 1-26 1 26 1-8 1 16 1-17 1-16 1 13 1 10 1 7 1-9 1-16 1 16 1 0 1-5 1-7 1 19 1-12 1-4 1-6 1 27 1 0 1-21 1 36 1-29 1 11 1-12 1 15 1-6 1-9 1 7 1-7 1 12 1 1 1 11 1-30 1 17 1-9 1 0 1 17 1-24 1-5 1-4 1 21 1-7 1 5 1 15 1-6 1-31 1 27 1-17 1 5 1 21 1-45 1 17 1 6 1 1 1 23 1-31 1 2 1 1 1 1 1-15 1 44 1-26 1-9 1 1 1 17 1 12 1-17 1 12 1 6 1-10 1-3 1-12 1 11 1 8 1-20 1 14 1-2 1-22 1 13 1-7 1 15 1 1 1-7 1-5 1 13 1-1 1-10 1 11 1 0 1 7 1-12 1-4 1 21 1 2 1 14 1-33 1 1 1 1 1 6 1 8 1-3 1-15 1 10 1-5 1 15 1 20 1-20 1 12 1-15 1-7 1 9 1-10 1 0 1 10 1 11 1-8 1-11 1-1 1 0 1 16 1 3 1-30 1 25 1-4 1 7 1-26 1 14 1-14 1 5 1 4 1 11 1-20 1 12 1 1 1 8 1-6 1-6 1 0 1 5 1-11 1-7 1 8 1 0 1 7 1 5 1-9 1-9 1 18 1-2 1-3 1-16 1-9 1 20 1-13 1 19 1-29 1 11 1 10 1-4 1-9 1 18 1-4 1-5 1 6 1-23 1 13 1 9 1 7 1-16 1-1 1 20 1-24 1-4 1 13 1 18 1 1 1-14 1 12 1-26 1 5 1-8 1 21 1 19 1-30 1-2 1 17 1-5 1 9 1-16 1-1 1 16 1-26 1 1 1 12 1-3 1-6 1 18 1-5 1-10 1 12 1-7 1-2 1 3 1-8 1 3 1 24 1-10 1-3 1-2 1-16 1 41 1-13 1-20 1-2 1 11 1-15 1 24 1 3 1-11 1 13 1-15 1 16 1-18 1 7 1 23 1-21 1-15 1 16 1-2 1 2 1-22 1 26 1-25 1 14 1-4 1 32 1-15 1-4 1 13 1-33 1 31 1-24 1 14 1-9 1-4 1 18 1 7 1-38 1 19 1-3 1 21 1-33 1-2 1 4 1 2 1 8 1 8 1-8 1-5 1-17 1 19 1-9 1 30 1-24 1-3 1 17 1 0 1 1 1-26 1 6 1-11 1 17 1-29 1 19 1-5 1-11 1 35 1-22 1-18 1 18 1 0 1-1 1 10 1 33 1-19 1-8 1 17 1 2 1 8 1-4 1-22 1 39 1-19 1 15 1-3 1-7 1-32 1 35 1-6 1-22 1 9 1 14 1 12 1-12 1-16 1 14 1-4 1 1 1 20 1-24 1 19 1-11 1-3 1 19 1-29 1 5 1 26 1-19 1-7 1-1 1 9 1 3 1-17 1 13 1-10 1 18 1 2 1-38 1 3 1 16 1-7 1 1 1-2 1 7 1 0 1-5 1 19 1-15 1-5 1 35 1-38 1-13 1 19 1 9 1-8 1-8 1-5 1-5 1 15 1 4 1-9 1-7 1 31 1 2 1-35 1 25 1-21 1 17 1 5 1-29 1 27 1 23 1-48 1 34 1-17 1 11 1-9 1 3 1 8 1-4 1-4 1 12 1-10 1 21 1-19 1-12 1 31 1-18 1-12 1 23 1-13 1-26 1 37 1-25 1 22 1-9 1-16 1 18 1 13 1-16 1-4 1 19 1-14 1 1 1-1 1 8 1-21 1-12 1 13 1 21 1-8 1-19 1 13 1 10 1 11 1-27 1 30 1-3 1-21 1 8 1-8 1 3 1 18 1-20 1 11 1-20 1 3 1-7 1 22 1-26 1 15 1-5 1-2 1-2 1 15 1-4 1 3 1-6 1-1 1 11 1 0 1-6 1-1 1-7 1 6 1 7 1 1 1-13 1 21 1-20 1 17 1-6 1 1 1-8 1 25 1-17 1 8 1-9 1-7 1 11 1 25 1-10 1 11 1-8 1-13 1 9 1-6 1 17 1-8 1-27 1-2 1 25 1 10 1-14 1 11 1-22 1 8 1-6 1-5 1-1 1 14 1-32 1 24 1-3 1 16 1-11 1-14 1 9 1 2 1 28 1-3 1-38 1 19 1-8 1-6 1 6 1 0 1-7 1-4 1 15 1-13 1-8 1 20 1-5 1-6 1 16 1-13 1 22 1-25 1 22 1-14 1 14 1 15 1 9 1-1 1-27 1 16 1 0 1 39 1-32 1 28 1-22 1 4 1-13 1 20 1-14 1-1 1 18 1-19 1 36 1-19 1 15 1-2 1 7" stroke="#33ff00" stroke-width="1.6" fill="none" transform="scale(.5)"/>
<path d="M48 644l1-49 1-24 1 0 1 10 1-11 1-25 1 23 1-1 1-13 1 7 1 16 1-12 1-2 1-15 1 10 1 23 1-44 1 11 1-12 1 18 1-24 1 23 1-9 1-5 1 23 1-33 1 20 1-10 1 16 1-5 1 5 1 6 1-25 1 6 1 10 1-20 1 26 1-2 1 9 1-16 1-8 1 21 1-23 1-7 1 6 1 6 1 14 1-9 1 6 1 1 1 16 1-22 1 8 1 23 1-30 1 29 1-1 1-28 1 7 1-17 1 36 1-16 1-16 1 1 1-10 1 34 1-47 1 11 1 4 1 28 1-21 1-33 1 32 1 1 1 3 1-13 1 1 1-20 1 39 1-16 1-16 1 15 1-4 1 7 1-17 1 19 1-16 1 32 1-16 1 7 1 2 1-3 1 3 1-6 1 0 1 10 1 24 1-23 1 2 1 15 1 9 1-36 1 38 1-36 1 23 1 7 1-45 1 0 1 40 1-31 1 24 1 18 1-22 1 11 1-8 1-12 1 14 1-13 1 19 1-19 1 19 1-14 1 22 1-20 1-4 1 31 1-28 1-8 1-7 1 0 1 25 1-7 1-16 1-13 1 20 1 0 1 1 1 3 1-13 1-2 1 7 1 18 1-5 1-21 1 19 1-11 1 1 1-16 1 19 1-9 1-4 1 12 1 20 1 0 1 14 1-37 1 4 1-11 1 1 1 21 1-19 1-15 1 25 1 3 1 1 1 3 1-6 1-5 1 0 1 7 1 8 1-6 1 1 1-8 1-4 1 8 1 9 1-11 1 1 1 18 1-6 1-15 1 8 1-18 1 19 1-19 1-6 1 11 1-2 1 10 1-26 1 35 1-10 1-2 1-12 1 3 1-14 1 40 1-4 1-22 1-17 1 26 1 7 1 8 1-13 1-13 1-8 1 11 1 13 1-10 1 2 1 17 1-33 1 18 1-6 1-4 1 7 1 11 1-10 1 23 1-28 1 6 1 19 1-15 1 10 1-24 1 3 1 0 1-12 1-6 1 15 1 22 1-24 1 1 1 40 1-16 1 13 1-7 1-23 1 11 1-3 1 9 1-8 1-14 1 26 1 5 1-19 1-3 1-6 1 5 1 14 1-11 1-1 1-6 1-2 1 10 1-15 1-6 1 17 1 6 1-28 1 25 1-2 1 6 1-7 1 20 1-33 1 16 1-2 1-14 1 7 1 22 1-28 1 20 1-13 1 12 1-2 1-2 1 1 1 6 1-1 1 4 1-11 1-1 1-5 1 25 1 14 1-14 1 9 1-6 1-2 1 8 1-30 1 3 1-2 1-7 1 7 1-7 1-25 1 20 1 3 1-26 1 27 1 0 1 16 1-8 1 1 1-21 1 46 1-38 1 21 1-3 1 20 1-8 1 23 1-4 1-25 1-13 1-2 1-2 1 25 1-5 1 4 1-13 1 22 1 14 1-20 1-8 1 10 1-7 1-27 1 40 1-12 1-4 1-8 1 28 1 7 1 4 1-31 1 15 1-1 1 20 1-39 1 10 1 8 1-8 1-2 1 4 1 8 1-1 1-1 1-11 1 14 1-16 1-7 1 20 1-22 1 20 1-13 1-18 1 35 1-14 1-3 1-21 1 29 1-16 1 18 1-16 1 18 1 3 1-7 1-5 1-9 1-11 1 13 1 6 1-2 1-1 1-20 1 2 1 34 1-32 1 7 1 0 1 21 1-11 1-6 1 25 1-19 1 10 1-18 1 18 1 7 1-9 1-9 1 14 1-22 1 8 1-7 1 6 1 10 1-31 1 27 1 24 1-2 1-15 1 4 1 13 1 0 1-29 1 16 1 13 1-25 1 12 1-21 1 20 1-23 1 7 1 30 1-24 1 9 1 1 1 6 1-47 1 41 1-16 1-3 1 13 1 12 1-44 1 19 1 8 1-8 1-15 1 35 1-38 1 36 1-17 1-1 1-8 1 6 1-1 1 14 1-14 1 18 1-20 1-4 1 17 1 13 1-14 1 2 1 5 1-8 1 31 1-22 1 19 1-8 1-6 1-4 1-8 1 8 1 17 1-4 1 5 1-16 1-11 1 9 1 6 1-20 1 27 1-4 1-3 1 19 1-33 1 3 1 31 1-10 1 7 1-34 1 13 1 13 1 8 1-29 1 13 1 4 1-8 1 5 1-11 1 4 1 13 1-25 1 4 1-4 1 10 1 1 1-24 1 5 1-1 1 1 1 17 1-28 1 15 1 40 1-38 1 3 1 9 1 6 1-21 1 47 1-30 1-1 1-5 1 6 1-20 1 19 1 17 1-13 1 17 1 2 1-21 1 29 1-31 1 17 1-15 1 47 1 1 1 0 1-13 1-7 1 10 1 2 1-8 1 12 1-11 1 4 1 6 1-24 1 42 1-19 1-1 1 17 1-13 1 5 1-10 1 20 1-21 1 14 1-20 1 25" stroke="#ccff00" stroke-width="1.6" fill="none" transform="scale(.5)"/>
<path d="M48 593l1 13 1-14 1 11 1-23 1-29 1 35 1-3 1-22 1-2 1-15 1 20 1-22 1 16 1 16 1-20 1 18 1-3 1-33 1 16 1 16 1 0 1 7 1-34 1 11 1 13 1-36 1 12 1 23 1-7 1 12 1-39 1 34 1-10 1-24 1 40 1-23 1 2 1 21 1-27 1 2 1-17 1 5 1 14 1 23 1 7 1-31 1 9 1 0 1-9 1 3 1 16 1-25 1 22 1-4 1-32 1 15 1-14 1 38 1-1 1-12 1 6 1 18 1-17 1-8 1 14 1 1 1 2 1-20 1-4 1-11 1 21 1-14 1 3 1 7 1-11 1 9 1-12 1 1 1-21 1 45 1-37 1 3 1 40 1-13 1-7 1-20 1 37 1-10 1-11 1 12 1-19 1 3 1 5 1 16 1 17 1-32 1 22 1-17 1 28 1-17 1-14 1-1 1 13 1-15 1 3 1 11 1-18 1 10 1-5 1 7 1-3 1 23 1-9 1 5 1-4 1 1 1 13 1-12 1-2 1-7 1 17 1-19 1 3 1 15 1 7 1-5 1 4 1-10 1 20 1-25 1-6 1 25 1-17 1-14 1 32 1-24 1-5 1 5 1 8 1-1 1-12 1 13 1-2 1-5 1 8 1-11 1 9 1 15 1-17 1 2 1-11 1 19 1-41 1 40 1-14 1 13 1-8 1-3 1 11 1-36 1 19 1 9 1-4 1 4 1-13 1 10 1 1 1-10 1 10 1-15 1 34 1-16 1-2 1 15 1-35 1 10 1 12 1-30 1 22 1 9 1-19 1 5 1 8 1-8 1 5 1-14 1 12 1 1 1-22 1 0 1 18 1-4 1 3 1 7 1-1 1 6 1-25 1 6 1 23 1-15 1 7 1-11 1 24 1-8 1 3 1-11 1 13 1 3 1-4 1-5 1 7 1-2 1-10 1-12 1-3 1 5 1 19 1 12 1-35 1 2 1 10 1 0 1-17 1 12 1-7 1-12 1 49 1-28 1-6 1 8 1 11 1-3 1-16 1-13 1-3 1 33 1 0 1-4 1-26 1 18 1-5 1-3 1 22 1-25 1 4 1 17 1 7 1 3 1-14 1-9 1-6 1-2 1-4 1 1 1 28 1-32 1 16 1 26 1-6 1-22 1 14 1-6 1 5 1-8 1-4 1 17 1-15 1-6 1 16 1 5 1-11 1 26 1-9 1-11 1-1 1-8 1 16 1-14 1 17 1-8 1-13 1-11 1 39 1-11 1 16 1-22 1-21 1 30 1 3 1-27 1 3 1 0 1 5 1 11 1-9 1 3 1-11 1-5 1 2 1 18 1-29 1 14 1-16 1 9 1 5 1 4 1 16 1-12 1-4 1 4 1 17 1 4 1 5 1-35 1 22 1 3 1-1 1-6 1 3 1 11 1-9 1 28 1-6 1-18 1 3 1-22 1 38 1-6 1-2 1-10 1-24 1 8 1 25 1-5 1-5 1-5 1-17 1 23 1 2 1-8 1 3 1 2 1 28 1-47 1 25 1 5 1-12 1-4 1 7 1-4 1-2 1 2 1-15 1 16 1 2 1 13 1-14 1-16 1-2 1 3 1-3 1-6 1 15 1 9 1-22 1 1 1 7 1 2 1-14 1 12 1 7 1-5 1-9 1 2 1-3 1 14 1-10 1 15 1-15 1 14 1 11 1-24 1 21 1-3 1-5 1-3 1-11 1 16 1 11 1 0 1-18 1-9 1 5 1 16 1-18 1 10 1 11 1 2 1-6 1-7 1 8 1 5 1-1 1 12 1-17 1 18 1-9 1-7 1 2 1-23 1 25 1-15 1-8 1 28 1-1 1-21 1 8 1-1 1 6 1 1 1-16 1-6 1-18 1 46 1-7 1-23 1-10 1 24 1 2 1-8 1-12 1 27 1-20 1-1 1 21 1-2 1-20 1 9 1 4 1-16 1 11 1 0 1-2 1-10 1 15 1 7 1-29 1 32 1-15 1 11 1-16 1 7 1 16 1-17 1-8 1 24 1-2 1 2 1 7 1 1 1-16 1 25 1-24 1-17 1 24 1-11 1 19 1-5 1-7 1-9 1 35 1-34 1-2 1 12 1-11 1 24 1-32 1-4 1 20 1-4 1 9 1-17 1 42 1-36 1 18 1-23 1 18 1 17 1-33 1 35 1-25 1 6 1-7 1-15 1 12 1 5 1 23 1-37 1 30 1-14 1-3 1 23 1-13 1-14 1 35 1-49 1 39 1-4 1-10 1 10 1-10 1-11 1 17 1 19 1-43 1 49 1 1 1-30 1-16 1 5 1 21 1-9 1 17 1-36 1 24 1-13 1 44 1-41 1 3 1 27 1-17 1 6 1-3 1-19 1 11 1 20 1-6 1 21 1-7 1-6 1 6 1 4 1-24 1 23 1-3 1 3 1 31 1-11 1-7" stroke="#ffe000" stroke-width="1.6" fill="none" transform="scale(.5)"/>
<path d="M48 616l1 3 1-57 1 30 1 6 1-29 1-17 1 38 1-19 1 13 1-16 1 8 1-19 1-2 1 6 1 19 1-37 1 5 1-5 1 23 1-15 1-7 1 7 1 7 1-1 1-3 1 26 1-11 1-26 1-4 1 16 1 29 1-26 1 15 1-16 1-15 1 2 1 16 1-3 1-1 1-5 1 11 1-12 1 32 1-30 1 13 1-4 1-14 1 16 1 6 1-7 1-28 1 25 1-13 1 13 1-22 1 11 1-11 1 4 1 5 1-27 1 51 1-32 1 2 1-8 1 17 1 12 1-28 1-8 1-5 1 14 1 15 1-18 1 9 1 11 1-23 1 27 1-18 1-4 1-3 1 18 1 24 1-9 1-15 1 10 1-1 1-11 1 13 1 9 1-10 1-10 1 29 1-32 1 13 1-7 1 0 1-19 1 27 1-23 1 21 1 1 1 0 1 13 1-20 1-6 1 3 1-1 1-7 1 23 1 11 1-7 1-8 1 13 1-26 1-4 1 15 1-16 1 11 1 14 1-10 1 32 1-7 1-21 1-10 1 32 1-14 1-1 1-4 1 9 1-3 1-20 1 40 1-11 1-6 1-3 1-4 1-13 1 0 1 31 1-19 1 20 1 5 1-33 1 12 1-14 1 32 1-19 1-5 1 10 1-9 1-28 1 21 1 13 1-27 1 10 1 2 1 9 1-17 1 7 1 3 1 6 1 1 1-8 1 4 1 5 1-3 1 6 1 9 1-12 1-19 1-4 1 10 1 8 1-7 1-17 1 7 1-1 1 19 1-2 1 8 1-3 1 9 1-7 1-7 1-3 1-1 1 8 1 8 1-8 1 8 1-5 1-8 1 11 1-8 1-1 1 4 1 0 1 19 1-21 1 21 1 0 1-31 1 24 1-18 1 16 1-44 1 53 1-24 1 17 1-9 1-10 1-5 1 5 1 3 1 21 1-26 1-12 1 13 1 2 1 12 1-16 1-14 1 28 1-10 1-4 1-3 1 1 1-4 1-2 1 5 1 7 1-15 1 1 1 3 1 22 1-8 1 10 1-16 1-18 1 30 1 7 1-1 1 9 1-8 1 2 1-24 1 1 1-3 1 19 1-11 1 11 1-18 1 6 1 5 1-8 1 5 1 23 1-18 1-5 1 23 1-5 1-17 1-1 1-5 1 17 1-28 1 42 1-50 1 14 1-16 1 21 1 19 1-6 1-32 1 38 1 2 1-13 1 0 1-1 1-4 1 12 1-1 1-3 1-5 1-5 1 18 1-34 1 5 1 23 1-29 1 12 1-11 1 35 1-13 1 0 1 1 1-10 1 8 1-13 1-9 1 1 1 10 1-27 1 43 1-12 1 1 1 25 1-18 1-13 1 11 1-13 1 5 1 18 1 12 1-8 1-5 1-8 1 5 1 5 1 3 1-19 1 3 1-4 1 7 1-18 1 27 1-9 1 25 1-24 1 14 1-6 1-15 1-12 1 17 1 5 1 13 1-3 1 2 1-17 1 42 1-26 1-9 1-1 1 12 1-2 1-8 1 7 1-7 1-6 1 12 1 8 1-9 1 9 1-8 1 1 1 24 1-30 1 24 1-8 1-30 1 22 1-12 1 13 1-4 1 12 1-39 1 16 1-13 1 15 1-6 1 13 1 7 1-28 1 35 1-32 1 3 1 0 1 38 1-43 1 29 1-27 1-2 1 2 1 14 1-8 1-6 1 3 1 22 1-30 1 14 1 35 1-31 1 7 1 3 1-1 1 8 1-8 1 2 1-14 1-9 1 15 1 18 1-32 1 6 1 5 1 5 1 13 1-32 1-2 1 33 1-5 1-23 1 16 1-12 1 12 1-14 1-1 1 9 1-2 1 8 1 12 1-4 1 8 1-19 1-16 1 10 1-8 1 42 1-19 1 8 1-15 1 7 1-25 1 26 1 0 1 9 1-7 1 18 1-53 1 32 1-23 1 14 1 2 1-19 1 0 1 10 1 5 1-8 1 17 1-10 1 4 1-4 1 22 1-33 1 4 1 1 1 2 1 1 1 5 1-12 1 25 1-14 1 14 1-6 1 23 1-27 1 10 1 20 1-15 1-27 1 6 1 2 1 36 1-35 1 23 1 13 1-24 1 1 1-1 1 0 1-31 1 27 1 19 1-24 1 7 1 26 1-31 1-3 1-4 1 22 1-12 1 7 1 3 1-4 1-7 1 0 1 1 1-2 1 10 1-21 1 24 1-9 1 5 1-34 1 40 1 11 1-21 1-8 1 8 1 17 1-32 1 44 1-51 1 12 1 6 1-17 1 19 1-17 1 9 1 30 1-14 1-26 1 20 1 29 1-23 1 6 1-2 1-2 1 17 1-5 1-10 1 9 1 11 1-23 1 5 1 43 1-33 1-11 1-3 1 30 1-16 1 50 1-11 1-10 1 27 1-14 1-5 1 5 1 7 1-6" stroke="#ff8f00" stroke-width="1.6" fill="none" transform="scale(.5)"/>
<path d="M48 624l1 0 1-40 1-29 1 19 1-2 1-16 1 17 1-26 1 10 1 8 1-18 1 11 1-16 1 13 1 16 1-7 1 5 1-5 1-20 1 33 1-21 1-13 1 20 1 0 1 8 1-20 1 5 1 6 1 9 1-17 1 8 1-6 1-3 1-13 1 13 1-10 1 16 1-4 1 21 1-14 1-28 1 23 1-2 1 0 1-21 1 13 1-5 1 7 1 20 1-24 1 24 1-21 1 1 1-16 1 0 1 18 1 8 1-11 1 7 1-1 1 7 1-18 1 1 1 23 1-26 1 14 1-2 1-17 1 8 1-31 1 29 1-2 1-12 1 24 1-12 1 5 1-16 1 2 1 27 1-4 1 3 1-9 1-8 1 10 1 18 1-18 1-6 1 22 1-25 1 7 1 4 1-1 1 4 1-17 1 3 1 21 1-1 1 3 1 6 1-24 1 11 1-11 1 18 1-14 1 9 1 0 1 1 1 19 1-26 1 8 1-18 1 3 1 5 1-9 1 19 1-23 1 37 1-13 1 1 1 3 1-16 1 9 1 0 1-5 1 0 1-3 1 5 1 4 1 5 1 15 1-17 1 9 1-30 1 22 1 2 1-22 1 10 1 8 1 6 1-13 1 11 1 6 1-11 1 7 1-13 1 12 1-2 1-13 1-3 1 14 1 0 1 20 1-17 1 4 1-7 1 5 1-15 1-2 1 15 1-8 1-7 1 4 1-7 1 30 1-19 1 5 1 13 1 0 1-15 1-2 1-14 1 6 1-4 1 27 1-25 1 2 1 9 1 1 1-21 1 14 1-7 1 22 1-17 1-2 1 4 1-4 1 8 1-6 1-8 1 16 1 3 1-7 1-13 1 14 1 4 1 7 1-13 1 7 1-3 1-12 1-2 1 15 1 6 1-22 1-13 1 15 1 2 1 9 1-19 1 28 1-25 1 14 1-2 1-8 1 7 1-5 1 24 1-40 1 23 1 3 1-2 1 1 1-4 1 0 1 16 1-16 1 8 1-21 1 30 1-3 1-10 1 0 1 1 1 1 1 10 1-22 1 2 1 23 1-36 1 26 1-2 1-7 1-17 1 25 1-7 1-2 1-8 1 5 1-17 1 8 1 17 1-3 1 2 1-4 1 9 1 18 1-3 1-36 1 15 1 24 1-5 1-29 1 17 1 9 1-24 1 29 1-38 1 12 1 7 1 19 1-13 1-15 1-6 1 12 1-8 1 17 1-5 1-18 1 18 1-14 1 10 1 18 1-17 1 16 1-12 1 18 1-32 1 19 1 20 1-14 1-11 1 6 1-6 1-1 1-2 1-11 1 8 1-31 1 9 1 20 1-8 1-3 1-6 1 28 1-10 1-13 1 23 1-10 1-3 1 29 1-5 1 3 1-12 1 24 1-11 1-5 1-5 1 7 1-12 1-15 1 4 1 2 1 18 1 1 1 7 1-11 1-14 1-1 1 10 1-4 1 1 1-2 1 16 1-4 1-9 1 26 1-41 1 47 1-13 1-21 1 15 1-14 1 6 1 14 1 10 1-16 1 17 1-26 1 12 1-14 1 2 1-9 1-12 1 33 1-17 1 1 1 16 1-9 1 16 1-24 1-4 1 6 1 11 1-9 1-20 1 11 1 23 1-24 1 1 1-11 1 13 1 10 1-1 1-5 1 5 1-8 1 13 1 13 1-11 1-5 1 5 1 6 1-9 1 8 1-7 1-14 1 25 1-21 1-13 1 19 1 11 1-19 1-7 1 34 1-14 1-11 1 13 1-22 1 23 1 0 1-13 1 18 1-30 1 16 1-2 1 6 1-4 1 0 1 0 1-6 1-1 1 0 1-2 1 14 1 7 1 3 1-19 1 7 1 0 1-16 1 0 1 17 1-11 1-2 1 24 1-21 1 16 1-13 1 1 1 10 1-4 1 6 1-20 1 3 1-10 1 3 1 2 1 18 1-6 1 17 1-11 1 0 1-6 1-21 1 31 1-8 1 5 1-7 1 0 1 5 1 5 1-18 1-2 1 16 1-4 1 13 1-29 1 27 1 4 1 5 1-24 1 14 1-4 1-2 1 10 1-4 1-4 1 0 1-11 1 4 1 17 1-15 1-6 1 16 1-1 1-16 1 28 1-25 1 15 1-1 1-1 1-9 1-22 1 9 1 14 1 2 1 14 1-17 1 7 1-3 1-9 1 15 1-4 1 0 1 3 1-14 1 5 1 2 1 0 1-9 1 8 1 4 1 19 1-33 1 18 1-27 1 29 1-15 1 11 1-11 1 9 1 10 1-14 1 12 1-21 1 4 1 9 1 1 1-3 1 38 1-35 1-21 1 7 1 13 1-12 1 20 1-7 1 17 1-9 1-4 1 36 1-22 1 11 1-14 1 3 1 9 1-15 1 27 1-4 1-4 1 7 1 10 1-14 1-3 1 13 1 14 1-7 1 10 1 10" stroke="#ff5200" stroke-width="1.6" fill="none" transform="scale(.5)"/>
<path d="M48 638l1-13 1-21 1-18 1-10 1 3 1-16 1-14 1 3 1 3 1 0 1-7 1 6 1-1 1-20 1-1 1 17 1 5 1 12 1-26 1 16 1 2 1-15 1 6 1-6 1 12 1-1 1 7 1-1 1-20 1 26 1-6 1 9 1-9 1 17 1-18 1 17 1-31 1 12 1 5 1-19 1 13 1-2 1-9 1 20 1-3 1 2 1-12 1-24 1 26 1 0 1-5 1 17 1-27 1 18 1-6 1-3 1-3 1-4 1-3 1 13 1 17 1 0 1-34 1 34 1-11 1-16 1 0 1 0 1-6 1-8 1 8 1-18 1 12 1 0 1 3 1-10 1 12 1 1 1 4 1 7 1-4 1 6 1-3 1-6 1 12 1-3 1 4 1-3 1 4 1 15 1 0 1-13 1-11 1 6 1 16 1 5 1-11 1-26 1 13 1 5 1-1 1 11 1 8 1-11 1 7 1-8 1 14 1-14 1 6 1-15 1 20 1 8 1-28 1 5 1-8 1 11 1 23 1-15 1 16 1-9 1-10 1-8 1 17 1-16 1 22 1-2 1-25 1 25 1-25 1 33 1-35 1 18 1-3 1-11 1 11 1-12 1 15 1-6 1-6 1 16 1-18 1-9 1-5 1 17 1-1 1-9 1 22 1 9 1-16 1-10 1 15 1 4 1-3 1 12 1-21 1-5 1 7 1-12 1-2 1 28 1-6 1-1 1-1 1-27 1 8 1-5 1 22 1-4 1-1 1 18 1-39 1 9 1 22 1-28 1 26 1-16 1 10 1-6 1-9 1 26 1-17 1 6 1-10 1 7 1-5 1 3 1 11 1 1 1-13 1-10 1 21 1-31 1 17 1 17 1-17 1 19 1-5 1-30 1 11 1-9 1-3 1-1 1 12 1-14 1 11 1 6 1-2 1 3 1-15 1 21 1-1 1 9 1-8 1 0 1 5 1-4 1-3 1 2 1 9 1-1 1-21 1 7 1 14 1-22 1 15 1 16 1-6 1 0 1-17 1 14 1-15 1-8 1 16 1-12 1 2 1 0 1 15 1-27 1 4 1 2 1 13 1-2 1 2 1 2 1 5 1 7 1-3 1-18 1 27 1-14 1-14 1 10 1 12 1-19 1 16 1-18 1-1 1 26 1-14 1-9 1 13 1-21 1 22 1-9 1-7 1 0 1 19 1-25 1-5 1 24 1 3 1-14 1 19 1-11 1 8 1-26 1 7 1-4 1-4 1 3 1 21 1 4 1-20 1 33 1-18 1-4 1 10 1-11 1-2 1 25 1-23 1 12 1-2 1-4 1-7 1 11 1-29 1 16 1-5 1 3 1-14 1-1 1 10 1-2 1 7 1-2 1 1 1 29 1-24 1 19 1 2 1-2 1 6 1-22 1 7 1 3 1 15 1-20 1 9 1-13 1 18 1-31 1 11 1 21 1-27 1 6 1 1 1 16 1-23 1 14 1 1 1 12 1 4 1-27 1 17 1-22 1 39 1-14 1-16 1 29 1-19 1-21 1 31 1-17 1-2 1 29 1-42 1 36 1-28 1 15 1 9 1-26 1 24 1-8 1 16 1-35 1 19 1-5 1 7 1-16 1 14 1 5 1-2 1-27 1 29 1-21 1 23 1-6 1 6 1-20 1 3 1 22 1-12 1 8 1 3 1-11 1 5 1 6 1-8 1-19 1 23 1-10 1-8 1 7 1-5 1 13 1-4 1-7 1 15 1 5 1-20 1-4 1 15 1-14 1 23 1-19 1-1 1-4 1-2 1 16 1-19 1 11 1 14 1-14 1 2 1 8 1-4 1-4 1-4 1 14 1-9 1-7 1-12 1 20 1-2 1-4 1-2 1-10 1 13 1-6 1 1 1 8 1-4 1-12 1 21 1 1 1-29 1 31 1-14 1 3 1 21 1-13 1 4 1 5 1 12 1-7 1 3 1 2 1-20 1-9 1 6 1 12 1-3 1-17 1 14 1-13 1 5 1 9 1-1 1 10 1-16 1 4 1 10 1-22 1 2 1 10 1-5 1-14 1 14 1-14 1 27 1-7 1-20 1 21 1-8 1 6 1 11 1-3 1 12 1-23 1 3 1 22 1-4 1-29 1 1 1 21 1 0 1 6 1 1 1-14 1-1 1 10 1-7 1 13 1-24 1-4 1 28 1-22 1-3 1-17 1 25 1 9 1 3 1-18 1-1 1 3 1-4 1 15 1-3 1 12 1-18 1 5 1-13 1 6 1 6 1 25 1-41 1 14 1-15 1 24 1 7 1 2 1-22 1 16 1-3 1-9 1 10 1-6 1 4 1-14 1-6 1 21 1-10 1 4 1 14 1 11 1-1 1 18 1-6 1 3 1 0 1-18 1 1 1 0 1-18 1 27 1-15 1 26 1-7 1 15 1-12 1-11 1 27 1-6 1-11 1-8 1 20 1 5 1-7" stroke="#ff2900" stroke-width="1.6" fill="none" transform="scale(.5)"/>
<path d="M48 619l1-4 1-16 1-29 1 12 1-4 1-38 1 28 1-1 1 14 1-26 1-6 1-12 1 43 1-37 1 9 1 12 1 3 1-17 1 8 1 6 1-17 1-17 1 41 1-33 1 24 1-15 1 32 1-43 1 29 1-33 1 30 1-22 1 27 1-19 1 1 1-5 1-7 1 3 1 3 1 2 1 19 1 6 1-25 1 1 1 19 1-20 1 22 1-33 1 14 1 7 1-18 1 17 1 2 1-10 1-7 1 3 1 29 1-4 1-11 1 4 1 1 1-14 1 0 1 2 1-17 1 5 1-9 1 23 1-11 1-14 1 9 1-4 1-16 1 23 1-14 1 17 1-1 1 0 1-14 1 25 1-5 1-4 1-8 1-1 1 21 1-11 1-13 1 31 1-11 1 4 1-8 1 17 1-7 1 16 1-11 1-2 1-2 1-3 1 12 1-7 1 8 1 3 1-16 1 4 1 2 1 9 1-21 1 0 1 4 1 6 1 17 1-20 1 14 1-16 1 15 1-9 1 22 1-17 1 13 1-17 1 5 1-12 1 6 1 4 1-5 1 0 1 15 1-28 1 13 1-4 1 4 1 7 1-24 1 22 1-11 1-12 1 11 1 1 1 0 1 17 1-19 1 10 1 7 1-18 1 2 1 5 1-6 1 6 1 13 1-16 1 20 1-21 1-9 1 11 1-4 1 2 1 7 1 18 1 3 1-19 1 7 1-7 1-3 1 5 1-19 1 34 1-18 1 7 1-13 1 4 1-9 1 5 1-11 1 12 1-8 1 7 1 14 1 3 1-14 1 2 1 3 1-4 1-6 1-3 1-3 1 17 1-14 1 3 1 10 1-9 1 2 1 10 1-13 1 1 1-1 1-3 1-16 1 18 1-19 1 32 1-33 1 25 1 9 1-1 1-6 1 1 1-26 1 28 1 6 1-34 1 33 1-26 1 2 1 12 1 8 1-16 1 13 1 7 1-12 1-1 1-17 1 0 1 29 1-17 1 19 1-1 1-14 1-6 1 9 1-9 1-1 1 0 1 1 1 30 1-28 1 18 1-14 1-1 1 11 1-4 1 14 1-1 1-10 1 8 1-7 1-19 1 34 1-38 1 31 1-15 1-7 1 5 1 9 1-13 1 14 1-17 1-15 1 9 1 20 1-9 1 15 1-4 1-12 1 2 1 4 1-8 1 6 1-20 1 33 1-13 1 5 1-6 1 11 1 0 1 12 1-21 1 3 1 9 1-12 1 22 1-33 1 23 1 2 1-17 1 20 1-21 1 21 1-14 1 4 1 15 1-21 1 0 1-3 1-6 1 3 1 9 1-4 1-8 1 2 1-10 1 11 1-2 1 12 1-20 1-3 1 35 1-9 1 1 1 10 1-16 1-9 1 5 1 2 1 9 1 5 1-22 1 17 1-21 1 4 1 21 1-16 1 18 1-6 1-13 1 17 1 0 1-7 1 6 1 8 1-24 1 0 1 6 1 13 1 13 1-27 1 22 1-2 1-15 1-5 1 19 1-3 1-4 1 16 1-13 1 3 1-16 1 9 1-8 1 2 1-5 1-13 1 19 1 1 1-4 1 9 1 14 1-16 1 15 1-9 1 1 1-17 1 1 1 2 1 5 1 8 1-13 1-3 1 5 1 13 1-12 1 4 1-7 1 6 1-20 1 4 1 18 1-11 1 4 1-4 1-13 1 13 1 16 1 10 1-13 1 1 1 14 1-15 1 19 1 0 1-5 1 0 1-9 1 1 1-4 1-5 1-3 1 25 1-31 1 12 1-14 1 2 1 0 1 1 1 2 1 2 1-10 1 9 1-5 1 20 1-27 1 17 1-6 1 13 1-1 1 0 1 6 1-12 1 1 1 3 1-13 1-7 1 5 1 26 1-33 1 20 1-23 1 10 1-10 1 21 1 5 1-2 1-21 1 8 1 4 1-1 1 6 1-3 1 10 1-1 1-18 1 21 1-18 1 0 1 19 1-2 1 9 1-32 1 11 1-4 1 2 1 18 1-16 1-7 1 8 1-2 1 3 1 4 1-8 1 6 1-9 1 21 1 12 1-6 1 0 1-13 1 11 1-8 1 6 1-14 1 17 1-19 1 28 1-16 1 2 1 8 1-16 1 14 1-12 1 10 1-4 1-7 1 11 1-35 1 0 1 24 1-10 1-14 1 14 1 8 1 2 1 14 1-23 1 6 1-3 1 13 1-4 1-7 1 18 1-16 1 14 1-3 1-5 1-1 1-1 1 12 1-16 1 1 1 11 1-15 1 3 1-19 1 30 1-16 1 18 1-5 1 27 1-31 1-12 1 29 1-4 1 0 1 17 1-6 1-37 1 27 1-18 1 43 1-23 1 36 1-22 1 13 1-10 1 3 1-24 1 25 1-2 1 5 1 9 1-36 1 30 1-8 1-4 1 1 1 22 1 5 1-23 1 33 1-4 1-4" stroke="#ff0000" stroke-width="1.6" fill="none" transform="scale(.5)"/>
<path d="M48 598l1 4 1-25 1-11 1 21 1-17 1 8 1-18 1 1 1 16 1 1 1-11 1-18 1 8 1-24 1 24 1-4 1 1 1-1 1 16 1-12 1-2 1 25 1 0 1-2 1-7 1-6 1 2 1-13 1 7 1-29 1 28 1-19 1 4 1 9 1 7 1 11 1-21 1 4 1 12 1-28 1-4 1 29 1-20 1 11 1-6 1 1 1 4 1-18 1 4 1 26 1-15 1-4 1-10 1 7 1-9 1 17 1-7 1 5 1-3 1-3 1 13 1-24 1 18 1-3 1 2 1 7 1-19 1 12 1 10 1-3 1-40 1 15 1 18 1-2 1-19 1 13 1 18 1-30 1 21 1-5 1-11 1 17 1-9 1 10 1-11 1 6 1 16 1-15 1-4 1 9 1 6 1-7 1 4 1 19 1-24 1 1 1-4 1 15 1-23 1-3 1 14 1-7 1 3 1 10 1-10 1 17 1-16 1 3 1 3 1 5 1 1 1 4 1-12 1 10 1-20 1 10 1 24 1 3 1-30 1 27 1-21 1 11 1 12 1-12 1 0 1-4 1 6 1-26 1 12 1 24 1-38 1 26 1 7 1-9 1 6 1-10 1 22 1-20 1 14 1-20 1-12 1 19 1-2 1-6 1 3 1 3 1 5 1-30 1 27 1-22 1 19 1 16 1-6 1-17 1-7 1 31 1-11 1-7 1-10 1 27 1-26 1 4 1-14 1-7 1 12 1-7 1 15 1 6 1-2 1-3 1 5 1-20 1 12 1 12 1-1 1 11 1-38 1 20 1-3 1-7 1 11 1 5 1-2 1-2 1-4 1 4 1 3 1 4 1-29 1 15 1-16 1 11 1 0 1 19 1-7 1-22 1 16 1 5 1-19 1 16 1-1 1-5 1-14 1 2 1 40 1-14 1-9 1-3 1 18 1-15 1 16 1-28 1 1 1 10 1-3 1-6 1 14 1-13 1 6 1 9 1-21 1 29 1 9 1-25 1-13 1 21 1-8 1-6 1 26 1-17 1 4 1-10 1 4 1-2 1 6 1 1 1-5 1 5 1 11 1 3 1-7 1 1 1-17 1 7 1 3 1-20 1 2 1 13 1 4 1-6 1 8 1-3 1 2 1-2 1 12 1 8 1-18 1 0 1-21 1-6 1 27 1-3 1-25 1 30 1-7 1 1 1-16 1-5 1 12 1 25 1-11 1 3 1 9 1-6 1-22 1 3 1 8 1-13 1 7 1 6 1 5 1-11 1 6 1 18 1-9 1 0 1 3 1 17 1-29 1-8 1 20 1-8 1-10 1 14 1-17 1-1 1 17 1-39 1 8 1 3 1-2 1 0 1 5 1 11 1 5 1 1 1-8 1-9 1 21 1 0 1-6 1 5 1 4 1 5 1-6 1 16 1 12 1-14 1-22 1 26 1-14 1-10 1 14 1-23 1 29 1-9 1 6 1-8 1 10 1 15 1-24 1-8 1 12 1 8 1-15 1 11 1-13 1 11 1 7 1 4 1 14 1-28 1 11 1 0 1 3 1-5 1-20 1 24 1-19 1 4 1 3 1-3 1-12 1-3 1 23 1-7 1 14 1 12 1-11 1-9 1-1 1 4 1-14 1 2 1 9 1-2 1-11 1 6 1 1 1 9 1 6 1-15 1-6 1-15 1 28 1-14 1-14 1 12 1 15 1-16 1 13 1 6 1 4 1-13 1 1 1 22 1-15 1 15 1-6 1-4 1 0 1 10 1-21 1-2 1 8 1-22 1 26 1-13 1-1 1 9 1 0 1-22 1 24 1 8 1 3 1-20 1 12 1-33 1 25 1-21 1 20 1-15 1 6 1 1 1 1 1-4 1 8 1 8 1 10 1 1 1-34 1-10 1 19 1-6 1 10 1-2 1 2 1 17 1-23 1 13 1-1 1 8 1 9 1-23 1 6 1 22 1-13 1-14 1 4 1 13 1-24 1 0 1 6 1 0 1-9 1 24 1-10 1 4 1 7 1-15 1 6 1 17 1-14 1-13 1 23 1-5 1-6 1 3 1-4 1-8 1-2 1 13 1-6 1 9 1-14 1 13 1-11 1 5 1 4 1-24 1 26 1-4 1-22 1 15 1-13 1 24 1-2 1 17 1-30 1-6 1 28 1-6 1-7 1 27 1-6 1-5 1-9 1-19 1 16 1-27 1 21 1-1 1-2 1-11 1 14 1 0 1-8 1-1 1 20 1 6 1-17 1 13 1-18 1 31 1-26 1 10 1-17 1 19 1 6 1-18 1 25 1-7 1-9 1 15 1-3 1-1 1-9 1 10 1-36 1 2 1 26 1-9 1 28 1-10 1 6 1-8 1 24 1-22 1 29 1-14 1-14 1 1 1 18 1-14 1 0 1-3 1 4 1 1 1 0 1 11 1 10 1-28 1 15 1 28 1 6 1-21 1 17 1 2 1-1" stroke="#ff0000" stroke-width="1.6" fill="none" transform="scale(.5)"/>
<path d="M48 594l1 18 1 1 1-42 1-11 1 5 1 20 1-39 1 14 1 4 1-10 1 7 1 14 1-11 1-18 1-4 1 13 1 12 1-16 1 18 1 10 1-16 1 0 1-20 1 17 1 7 1-7 1-12 1-17 1 38 1-10 1 11 1-22 1 30 1-10 1-14 1-19 1 13 1 15 1-3 1-9 1 17 1-4 1-15 1 6 1 0 1-7 1 5 1-4 1 19 1-15 1 3 1-24 1 19 1 4 1-12 1 5 1-5 1 28 1-34 1 7 1-14 1 11 1 17 1 0 1-12 1 9 1-24 1 0 1 21 1 2 1-41 1 12 1 24 1 4 1-4 1-12 1 16 1-24 1 12 1 16 1-9 1-6 1-8 1 25 1-11 1 16 1 0 1 4 1-22 1 1 1-6 1-7 1 36 1-26 1 15 1 3 1-2 1-8 1 11 1 10 1-24 1 15 1-19 1 12 1-6 1-12 1 34 1-37 1 22 1-17 1 10 1 14 1-8 1 1 1-7 1-3 1 16 1-6 1-8 1 22 1-13 1-16 1-2 1 26 1-8 1 1 1-1 1-7 1 21 1-15 1 18 1-7 1-14 1 21 1-4 1 11 1-16 1-4 1 1 1 5 1-19 1-5 1 14 1 1 1-12 1 14 1-14 1 10 1 3 1-8 1-4 1 14 1-27 1 34 1-18 1 21 1-21 1-3 1 19 1-22 1 10 1-10 1-8 1-4 1 12 1 1 1 12 1 3 1-9 1 11 1-2 1 9 1-6 1-18 1 22 1-9 1-6 1 1 1-3 1-11 1 15 1-3 1 19 1-21 1-2 1 5 1 6 1-8 1 2 1-7 1 5 1 5 1 14 1-27 1 1 1 16 1-2 1-18 1 3 1 23 1-29 1-1 1 34 1-11 1-9 1 10 1-9 1 17 1-10 1-5 1-10 1 4 1-9 1 18 1 2 1-10 1 2 1-4 1 4 1 5 1-12 1 6 1 8 1-15 1-4 1 27 1-17 1-18 1 14 1-15 1 25 1-10 1 1 1-5 1 35 1-44 1 6 1 11 1 1 1 1 1-4 1 3 1 11 1-7 1-4 1 10 1-13 1 2 1-7 1 19 1 5 1-1 1-10 1 14 1-9 1-16 1 26 1-5 1-22 1 22 1 2 1-1 1-7 1 6 1-8 1 9 1-17 1 19 1-10 1 1 1-7 1 6 1 14 1-19 1-1 1 19 1-27 1 3 1 30 1-17 1-6 1-8 1-3 1 1 1 10 1 12 1-28 1 4 1 14 1 0 1-2 1 8 1 2 1-28 1 24 1-2 1 0 1-16 1-12 1 23 1-20 1 1 1 10 1-11 1 24 1 1 1 4 1 5 1-4 1 20 1-37 1 18 1 7 1-9 1 5 1 12 1-5 1-16 1 23 1-9 1 0 1-1 1-14 1 29 1-8 1-11 1 11 1 5 1-15 1-13 1 18 1-9 1-7 1 16 1-5 1 21 1-30 1 13 1-7 1 11 1 0 1 3 1-4 1 19 1-7 1-25 1 11 1 19 1-25 1 1 1-3 1 21 1-26 1 15 1-6 1-8 1 6 1 24 1-25 1 15 1 10 1-34 1 3 1 11 1-22 1 9 1 0 1 0 1 6 1 1 1-9 1 7 1 12 1-17 1-2 1 8 1 13 1-5 1-4 1-7 1 9 1-3 1-11 1 12 1-19 1 27 1-8 1-3 1-17 1 10 1 4 1 1 1-10 1 8 1 4 1-12 1 15 1-11 1 17 1-21 1 13 1 3 1-5 1-2 1 1 1-13 1 6 1-6 1 9 1-1 1 14 1-3 1 8 1-16 1-14 1 21 1-1 1-1 1-3 1-2 1 22 1-10 1 0 1-8 1 18 1 5 1-34 1 32 1-6 1-6 1-16 1 22 1-7 1 18 1-13 1-10 1 1 1-2 1-13 1 30 1-7 1-17 1 31 1-18 1-16 1 9 1-19 1 20 1 0 1-5 1 8 1 0 1-8 1-10 1 15 1-9 1 2 1-4 1-5 1 8 1 7 1 3 1-7 1 10 1-3 1-13 1 0 1 3 1 1 1 20 1-18 1-1 1 14 1-11 1 20 1 7 1-18 1-10 1 8 1 6 1-8 1 14 1-12 1 16 1 4 1-11 1-3 1-7 1 2 1 15 1-2 1-35 1 25 1 2 1-1 1 16 1-21 1 24 1-8 1-15 1 19 1-18 1-11 1 11 1 15 1-15 1 18 1-2 1-25 1-6 1 19 1 3 1-11 1 4 1 12 1-16 1-14 1 22 1 8 1 10 1-16 1 11 1-20 1 15 1-13 1 24 1-8 1 7 1 10 1-4 1-16 1 27 1-24 1 10 1 8 1 4 1-6 1-6 1 21 1-29 1-1 1 14 1 2 1 41 1-24 1 2 1 8 1-6 1 5" stroke="#ff0000" stroke-width="1.6" fill="none" transform="scale(.5)"/>
<path d="M48 616l1-5 1-49 1 23 1 4 1-6 1-9 1-10 1-14 1 8 1 14 1-25 1 7 1 21 1-21 1-19 1 2 1 29 1-19 1 8 1 12 1-22 1-8 1 17 1-17 1 21 1-9 1 3 1 1 1 16 1-13 1 2 1 14 1-19 1-5 1-7 1 2 1 0 1-4 1 11 1-1 1 3 1 3 1 4 1 6 1-12 1 4 1-14 1 3 1 16 1-23 1 14 1 9 1-5 1-8 1 12 1-17 1 18 1-13 1-10 1 8 1 6 1-7 1-5 1 1 1 15 1-27 1 12 1 0 1 17 1-7 1-16 1-11 1 27 1 4 1-18 1 18 1-14 1-12 1-3 1 14 1-15 1 13 1 24 1-16 1 14 1-13 1 18 1-23 1-1 1 13 1-17 1 3 1 19 1 0 1 5 1-31 1 10 1 15 1 5 1-13 1-14 1 7 1-9 1 19 1-19 1 3 1 15 1 7 1 5 1-8 1 6 1-4 1 2 1 2 1-1 1 3 1-10 1-2 1 28 1-41 1-2 1 21 1 4 1 20 1-36 1 26 1 7 1-17 1-4 1 18 1-19 1 25 1-19 1-13 1 8 1 18 1-22 1 10 1 14 1-8 1-22 1 22 1 2 1-25 1 23 1-14 1 16 1 1 1-12 1 7 1-10 1 10 1-21 1 14 1-14 1-4 1 12 1-7 1 15 1-21 1 15 1-10 1 2 1-12 1 26 1-18 1 24 1-31 1 28 1-10 1-4 1 6 1-23 1 38 1-29 1 11 1 0 1-5 1-16 1 5 1 25 1-24 1 3 1-1 1-6 1 12 1 0 1 8 1-5 1 4 1-6 1 7 1-3 1-15 1 35 1-35 1 5 1 9 1-13 1 17 1 2 1 2 1-19 1 25 1-17 1 11 1 9 1 5 1-20 1-10 1 7 1 4 1 16 1 0 1-16 1 8 1 3 1-23 1 23 1-14 1 11 1-17 1 15 1 0 1-3 1-16 1 20 1-19 1 7 1-2 1-16 1 23 1 1 1-1 1 18 1 2 1-23 1 4 1-6 1 5 1-4 1-2 1 17 1-21 1 0 1 5 1-2 1 7 1 1 1 6 1-8 1 4 1-14 1 3 1-10 1 4 1 27 1-19 1-11 1 30 1-23 1 5 1-2 1 9 1 9 1-21 1 12 1-20 1 35 1-11 1 5 1-15 1 4 1-22 1 19 1-2 1-15 1 13 1-6 1-8 1 15 1 6 1 0 1-4 1 2 1 28 1-13 1-9 1-6 1 2 1-4 1 14 1-18 1 18 1-18 1 17 1-20 1-7 1 11 1 6 1-8 1-12 1-2 1-4 1 28 1 1 1 7 1-13 1 20 1-20 1 11 1 4 1-4 1 25 1-38 1 28 1-11 1 15 1-11 1-6 1-15 1 31 1-6 1-31 1 21 1 12 1-2 1-3 1 0 1-17 1 18 1-18 1 6 1-17 1 13 1-6 1-3 1 19 1-7 1 14 1-15 1 9 1 5 1-11 1-7 1 14 1 9 1-30 1 12 1 15 1-14 1 15 1 5 1-33 1 17 1-11 1 5 1-15 1 1 1 10 1-11 1 34 1 9 1-11 1-10 1 4 1 1 1 10 1-19 1 26 1-21 1 10 1-3 1-14 1 21 1-15 1 7 1 6 1-9 1 1 1 7 1-9 1 4 1-12 1 13 1-4 1 11 1 7 1-18 1 20 1-16 1-1 1-2 1 10 1-18 1-9 1 19 1 10 1-18 1-15 1 14 1 0 1 8 1-2 1-22 1 12 1-8 1 2 1 2 1-7 1 5 1-10 1 11 1 16 1-13 1-2 1-9 1 15 1-5 1-3 1 12 1 1 1-23 1 3 1-5 1 27 1-21 1 16 1 12 1 3 1-21 1 26 1-6 1-11 1-3 1-8 1 24 1-2 1-14 1 10 1-7 1-7 1 20 1 11 1-7 1-3 1-2 1-4 1 8 1-1 1 6 1-2 1-13 1-13 1 15 1 3 1-20 1 28 1-14 1 5 1-8 1 2 1-4 1 1 1-3 1-14 1 23 1-9 1 2 1 6 1-12 1 12 1 6 1-24 1 23 1-19 1 15 1-11 1-4 1-10 1 28 1-19 1 4 1 2 1 13 1-13 1 20 1-21 1 25 1-25 1-6 1 24 1-25 1 16 1-1 1-10 1 4 1-1 1 5 1 5 1 2 1-11 1 15 1-15 1 13 1 10 1-24 1 2 1 23 1-40 1 24 1 27 1-11 1-17 1-12 1 0 1 13 1 13 1 2 1-1 1-15 1 10 1-17 1 39 1-3 1 11 1-12 1 13 1 15 1-50 1 45 1-24 1 19 1-2 1-14 1 19 1 0 1-42 1 46 1 2 1-4 1 22 1-11 1-15 1-9 1 26 1-14 1 7 1 11" stroke="#ff0000" stroke-width="1.6" fill="none" transform="scale(.5)"/>
<path d="M48 582l1 8 1-2 1-22 1-17 1 30 1-30 1 19 1-29 1 15 1 22 1-19 1 5 1-8 1-5 1-1 1 10 1-21 1 16 1-20 1 29 1 13 1-18 1 3 1 13 1-34 1 28 1-4 1-4 1 3 1 3 1-7 1 4 1 2 1 13 1-6 1-2 1-23 1-4 1 4 1 12 1 8 1-25 1 7 1-7 1 26 1-4 1-28 1 13 1-16 1 14 1 0 1-9 1 11 1-23 1 21 1-15 1 5 1 8 1 0 1-16 1 19 1-1 1-14 1 12 1 2 1 8 1 3 1 0 1-36 1 41 1-29 1 15 1-8 1 4 1 4 1 2 1-21 1 12 1-15 1 20 1-14 1 26 1-34 1 23 1-1 1 5 1-2 1-9 1 2 1 12 1-8 1-4 1 9 1 12 1-16 1 9 1-5 1-2 1-5 1 26 1-11 1-6 1-7 1 3 1 4 1 1 1 2 1 5 1-14 1 14 1-20 1 15 1-2 1 7 1-23 1 18 1 6 1-6 1 14 1 7 1-2 1 3 1 2 1-21 1 12 1 2 1-11 1 4 1 7 1-11 1-7 1 1 1-6 1 11 1-1 1-13 1 16 1-16 1-2 1 1 1-1 1 6 1 20 1-19 1-4 1 5 1 1 1 3 1 5 1 3 1 4 1-21 1 16 1-3 1 19 1-39 1 24 1-6 1 15 1-8 1 14 1-1 1-18 1-7 1 21 1-29 1 14 1-22 1 31 1 1 1-12 1-4 1 17 1-10 1-5 1 2 1-3 1-7 1 1 1 8 1-10 1 16 1-26 1 16 1 5 1-2 1 4 1-5 1-6 1-3 1-7 1 13 1-1 1-4 1 5 1-19 1 0 1 15 1 12 1 5 1-22 1 5 1 2 1 6 1-8 1 12 1 1 1-12 1 12 1 7 1 0 1-14 1-3 1 16 1-11 1-10 1-3 1 33 1-22 1 6 1 16 1-28 1 17 1 6 1-29 1-11 1-1 1 12 1 15 1 18 1-36 1 1 1 3 1-6 1 6 1-11 1 19 1-9 1 14 1-4 1 19 1-15 1-6 1 26 1-22 1 15 1-9 1-28 1 27 1 7 1-2 1-9 1-25 1 31 1-4 1-8 1 4 1 5 1-6 1 4 1 9 1-4 1-16 1 21 1 1 1-6 1-21 1 2 1 23 1-17 1 17 1 8 1-17 1-16 1 4 1-7 1 9 1 12 1-15 1 9 1 10 1-6 1-12 1 0 1-8 1 24 1-6 1 8 1-3 1 3 1 3 1-10 1 27 1-21 1 13 1-36 1 8 1 4 1 8 1-16 1 18 1-26 1 13 1-3 1 21 1-4 1 4 1 5 1-12 1 10 1 3 1-11 1-9 1 25 1-14 1 8 1-7 1-1 1 6 1-18 1 14 1-10 1 17 1-13 1 15 1 10 1-23 1 7 1 3 1-8 1 2 1-2 1 11 1 7 1-3 1-11 1-14 1 17 1-23 1 25 1-18 1-2 1 14 1 3 1 4 1-1 1 11 1-2 1 4 1-3 1-14 1-1 1 11 1 1 1-6 1 19 1-15 1 2 1-13 1 17 1-6 1-26 1 24 1-6 1-1 1-7 1-16 1 39 1-24 1 7 1-9 1-2 1-10 1 24 1-16 1 3 1 18 1-15 1 4 1-12 1 11 1 2 1 9 1 3 1-2 1-5 1-1 1-6 1 20 1-6 1-9 1 18 1-1 1-4 1-7 1 14 1 0 1-12 1 11 1-18 1 7 1 3 1-17 1 8 1 14 1-20 1 1 1 2 1-4 1-15 1 19 1-2 1-17 1 4 1 15 1 1 1 5 1-22 1 15 1-24 1 16 1-8 1-9 1 19 1 11 1-15 1 1 1 1 1 6 1-5 1 17 1 1 1 9 1-12 1-28 1 33 1-8 1-16 1 21 1-6 1 6 1-25 1 17 1 14 1-10 1 0 1 10 1-12 1-6 1 17 1-16 1 7 1 10 1-1 1-20 1 23 1-21 1-11 1 15 1 0 1-13 1 17 1-16 1 1 1 19 1-1 1-6 1 9 1-25 1 8 1 22 1-27 1-3 1 6 1 13 1 10 1-15 1 12 1-29 1 10 1-3 1 25 1-20 1 4 1 27 1 4 1-28 1 5 1 20 1-8 1-10 1 9 1 5 1-22 1-4 1 17 1-11 1-9 1 15 1 10 1-18 1-3 1 27 1-29 1 9 1-11 1 33 1-21 1 4 1 25 1-14 1 0 1-17 1 5 1 3 1-26 1 25 1-3 1 1 1 2 1-8 1-14 1 8 1 32 1 21 1-43 1 10 1 38 1-11 1 7 1-18 1 33 1-28 1 8 1-1 1 25 1-37 1 1 1 7 1 7 1 18 1-13 1 17 1-6 1-15 1-1 1 22 1-5 1 12" stroke="#ff0000" stroke-width="1.6" fill="none" transform="scale(.5)"/>
<rect x="23.8" y="189.3" width="274.7" height="148.9" fill="none" stroke="#707070" stroke-width="1.1"/>
<path d="M23.8 332.4V343.6M29.9 334.5V342.1M36 334.5V342.1M42.1 334.5V342.1M48.2 334.5V342.1M54.3 332.4V343.6M60.4 334.5V342.1M66.5 334.5V342.1M72.6 334.5V342.1M78.7 334.5V342.1M84.8 332.4V343.6M90.9 334.5V342.1M97.1 334.5V342.1M103.2 334.5V342.1M109.3 334.5V342.1M115.4 332.4V343.6M121.5 334.5V342.1M127.6 334.5V342.1M133.7 334.5V342.1M139.8 334.5V342.1M145.9 332.4V343.6M152 334.5V342.1M158.1 334.5V342.1M164.2 334.5V342.1M170.3 334.5V342.1M176.4 332.4V343.6M182.5 334.5V342.1M188.6 334.5V342.1M194.7 334.5V342.1M200.8 334.5V342.1M206.9 332.4V343.6M213 334.5V342.1M219.1 334.5V342.1M225.2 334.5V342.1M231.4 334.5V342.1M237.5 332.4V343.6M243.6 334.5V342.1M249.7 334.5V342.1M255.8 334.5V342.1M261.9 334.5V342.1M268 332.4V343.6M274.1 334.5V342.1M280.2 334.5V342.1M286.3 334.5V342.1M292.4 334.5V342.1M298.5 332.4V343.6M18.8 189.3H23.8M18.8 238.9H23.8M18.8 288.6H23.8M18.8 338.2H23.8M20.3 214.1H23.8M20.3 263.8H23.8M20.3 313.4H23.8" stroke="#555" stroke-width="1" fill="none"/>
<g class="ax" text-anchor="middle"><text x="23.8" y="350.4">0</text><text x="54.3" y="350.4">5</text><text x="84.8" y="350.4">10</text><text x="115.4" y="350.4">15</text><text x="145.9" y="350.4">20</text><text x="176.4" y="350.4">25</text><text x="206.9" y="350.4">30</text><text x="237.5" y="350.4">35</text><text x="268" y="350.4">40</text><text x="298.5" y="350.4">45</text></g>
<g class="ax" text-anchor="end"><text x="17.6" y="191.7">2</text><text x="17.6" y="241.3">1</text><text x="17.6" y="291">0</text><text x="17.6" y="340.6">-1</text></g>
<text class="ax" style="font-size:6.3px;fill:#666" text-anchor="middle" transform="translate(7.9 262.3) rotate(-90)">&#916;BS (%)</text>
<text class="hd" x="169" y="362.9" textLength="40.5" lengthAdjust="spacingAndGlyphs">Height (mm)</text>
<text class="ttl" x="39.4" y="205.7" textLength="21.9" lengthAdjust="spacingAndGlyphs">(A)-F2</text>
<rect x="345.2" y="188.9" width="10.1" height="149.3" fill="url(#cb)"/>
<g class="tm"><text x="302.8" y="192.9" textLength="36.8" lengthAdjust="spacingAndGlyphs">00h:00m:00s</text><text x="302.8" y="211.3" textLength="36.8" lengthAdjust="spacingAndGlyphs">00h:18m:18s</text><text x="302.8" y="229.7" textLength="36.8" lengthAdjust="spacingAndGlyphs">00h:36m:37s</text><text x="302.8" y="248.1" textLength="36.8" lengthAdjust="spacingAndGlyphs">01h:00m:27s</text><text x="302.8" y="266.4" textLength="36.8" lengthAdjust="spacingAndGlyphs">03h:32m:37s</text><text x="302.8" y="284.8" textLength="36.8" lengthAdjust="spacingAndGlyphs">05h:37m:17s</text><text x="302.8" y="303.2" textLength="36.8" lengthAdjust="spacingAndGlyphs">07h:36m:27s</text><text x="302.8" y="321.6" textLength="36.8" lengthAdjust="spacingAndGlyphs">09h:42m:57s</text><text x="302.8" y="340" textLength="36.8" lengthAdjust="spacingAndGlyphs">11h:58m:38s</text></g>
<g transform="translate(0 182.6)">
<text class="ttl" x="373.9" y="22" textLength="21.2" lengthAdjust="spacingAndGlyphs">(B)-F2</text>
<path d="M376.2 24.6H395V37Q400 38 404.6 39.6V62H366.2V39.6Q371 38 376.2 37Z" fill="url(#capg)"/>
<rect x="376.2" y="24.6" width="18.8" height="4.6" fill="url(#ring)"/>
<rect x="379.1" y="44" width="13.2" height="12.2" fill="#1fae1f"/>
<rect x="367.2" y="65.3" width="36.2" height="90.5" rx="3.2" fill="#fff" stroke="#c8c8c8" stroke-width="2.2"/>
<rect x="367.8" y="65.6" width="35" height="3.4" rx="1.5" fill="url(#rim)"/>
<path d="M388.7 132.9 390.7 132.2 391.8 133.1 393.6 133.9M397.3 117.5 398.1 116.2 399.5 117.7 401 118.3M399.4 128.6 400.5 129.9 401.5 129.2 402.2 130.9M393.5 84.3 395.2 83.5 396.8 84.7 397.7 83.6M372.5 146.7 374 145.7 375.3 146.8 376.6 147.6M379.3 119.4 380.7 118.5 382.4 117.5 384.1 118.5M371.3 100.1 372.8 99.2 374.1 97.9 376 96.2M383.2 121.3 385.1 120.7 386 119.7 387.5 119.1M381.4 136.2 383.1 134.5 384.9 133.2 386 131.4M391.9 142.4 393.7 141.4 395.7 140.7 396.6 140M382.7 141.9 383.6 143.6 384.4 144.4 385.9 142.8M381.9 103.8 382.9 102.3 384.1 100.6 385 99.7M378 84.7 378.9 83.7 379.9 82.8 381.3 81.5M384.6 143.9 386.1 142.9 387.6 141.6 389 142.7M388.3 96.8 389.9 96.2 391 94.7 392.9 95.9M369.8 125.1 371.3 123.7 372.8 122.1 374.8 120.9M389.1 91.3 390.7 93.1 392.3 94.7 393.9 93.5M379.4 116.8 380.6 117.7 382.3 115.9 384 115M379 104.1 380.1 102.6 381.5 103.5 383.3 102.3M385 137.4 386.3 135.9 388.3 135.1 389.4 136.9M397.9 101.6 398.8 100.2 400.5 99.5 401.6 101M372.5 134.4 373.3 133.8 374.8 134.8 375.6 133.5M379.8 130.8 380.7 130 382.2 131.6 383.9 130.5M386.7 117.6 387.7 118.6 388.8 117.3 389.9 118.5M385.1 86.3 386.6 87.3 388.2 89.1 389.5 87.4M371.6 148.4 372.9 146.9 373.9 148.1 375.3 149.1M373.4 106 374.4 104.8 375.7 103.1 376.5 102.1M390.9 148.9 391.7 150.6 393.5 151.9 395 153.5M385.7 81.6 386.8 82.2 387.8 82.9 389.5 84.5M369 122.7 370 121.9 371.7 122.8 373.4 124.5M373.9 127.1 375.1 125.6 376.8 126.4 378 127.8M381.2 117.2 382.5 116.5 383.7 115.1 385.6 114M380.9 122.7 382.9 121.6 384.5 120.2 386 121.7M390.8 132.9 392.6 131.6 394.2 130.5 395.9 131.3M376.7 134.7 378.7 136.1 380.3 137.9 382.2 136.7M375.7 144.2 377.7 145.1 378.5 146.3 380.2 147.6M388.1 102.3 389.5 103.2 390.8 101.6 391.8 100.5M369.7 116.8 370.8 115.3 372.2 114.6 374.1 113.9M381.4 137.7 382.5 138.7 383.8 137.2 385.2 136.3M396 128.4 397.9 129 399.1 127.4 400.1 126.2M391.5 105.9 392.4 107.1 394.2 106.4 395.9 105.8M387.2 137.7 389 136.9 389.9 136 390.8 134.5M399.5 118.2 400.7 117.2 401.7 116.5 402.2 114.8M368.8 83.6 369.8 82.6 370.9 83.7 372.3 84.8M376.3 111.1 377.6 110 379.6 108.4 380.9 107.1M395.1 95 396.1 93.5 396.9 95 398.1 93.5M398.9 142.2 400.4 143 401.8 141.6 402.2 142.5M382.1 143.1 384 141.4 385.4 139.9 386.5 140.7M371.9 90.3 373.2 88.6 374.2 90.2 376.1 89.6M368.6 103.9 369.5 105.3 370.7 104.4 372.4 105.1M377.9 146.9 379.9 145.6 381.5 144.2 383.4 145.1M390.6 81.6 391.4 83.2 392.9 85 393.7 83.7M372.5 124.2 373.7 122.9 374.8 122.1 376.3 120.7M398.2 133.3 399.4 132.2 401.3 133.8 402.2 133M391.4 144 393.1 145.1 394.8 146 396.5 144.7M385.4 90.8 386.7 89.4 388.4 88.5 390.2 87M383.2 150.5 384.1 151.7 385.4 150 386.8 151.8M398.6 93.8 400.6 95.1 402.2 94.2 402.2 93.2M372.9 85.8 374.4 87.2 376.3 88 378.1 87.2M391.1 103.2 392.4 102.5 393.8 103.2 394.7 101.4M377.1 124.1 378.9 125.2 379.7 126 381.2 126.8M369.8 97.9 371.2 96.1 372 97 373.7 96.2M387.3 137.9 388.9 136.8 389.8 135.5 390.8 136.7M383.8 99.6 385.2 98.6 387 97.6 388.4 96.5M374.5 140.1 376.2 141.8 377 140.1 378.3 139.2M396.2 130.7 397.2 129.1 398.2 128.1 399.3 127.1M383.7 123.3 384.7 121.8 386.5 120.3 387.7 121.6M393.7 131.4 395.6 130.4 396.8 129.6 398.4 128.4M375.2 136.9 377.2 135.6 378.2 133.8 380.1 132.9M377.8 148.8 379.3 147.7 381.2 146.2 382.9 147.5M386 85.6 387.8 84.3 389 82.9 390.4 82M399 148.2 400.3 149.3 401.4 148.2 402.2 148.9M377.7 149.9 379.3 149.2 381.1 150.6 382.2 149.1M379 86.5 380.5 85.5 381.5 84.8 382.9 84M395.1 131.6 396.7 133.2 397.9 132.1 399.4 133.7M378.3 149.7 379.8 148.3 381.1 149.7 382.6 151.3M382.6 135.3 384.5 134.2 386.2 132.5 387.1 131.4M397.9 101.2 399.8 100 400.8 101.5 401.7 103.1M399.1 95.1 400.4 96.2 401.4 95.1 402.2 94.3M384.8 89.7 386.6 90.9 388.5 92.5 390.4 94.3M384.7 97 386.3 95.4 387.6 97.1 388.7 96.5M379.3 145.7 380.2 146.9 381.3 148 382.6 146.4M398.8 98.8 400 97.9 401.7 96.8 402.2 97.9M387.7 114.3 389.5 115.3 390.7 114.3 392.4 115.5M381.5 116.7 383.5 117.5 385.4 116.1 387.2 116.8M375.7 99.5 377.2 98.7 378.6 97 380.3 95.4M395.4 95.6 396.6 94.8 398.1 93.3 400.1 94.5M372.9 135.5 374.2 134.4 375.7 135.7 377 137.3M386.1 144.4 387.5 145.9 388.6 146.5 389.7 148.3M398.1 120.9 399.5 122.1 400.9 123.1 402.1 121.4M380.3 102.1 382 103 383.3 104 384.5 105.1M392.7 142.8 394.3 141.9 395.7 140.7 397.2 141.8M395.6 98 397.1 96.3 398.6 97.9 400.2 98.5M388.8 128.7 389.8 129.5 390.8 127.8 392.1 126.9M375.2 99 376.1 100.5 378 102.1 379.6 103.5M399.6 120.8 401.4 120.1 402.2 121 402.2 119.7M382.4 151.4 383.3 150.5 384.7 152.2 385.8 150.9M379.5 122 380.5 123.2 381.7 124 383.1 123.2M397.4 147.5 398.6 149.2 399.8 148.1 401.1 146.4M393.2 140.6 394.9 141.9 396.5 141.1 397.7 139.4M377.4 82.5 378.7 81.5 380.2 83.1 381.6 81.7M376.9 101.8 378.9 103 379.9 102.2 381.1 104M395.6 95.1 397.5 93.3 399.4 91.5 400.3 89.8M396.7 151 398.3 149.4 399.6 150.9 400.9 149.8M386 131.6 387.3 130 388.5 131.2 390.1 132.8M372.8 82.4 374.5 84 375.7 82.7 376.9 84.3M380.7 109.9 382.1 111.6 384 110.8 384.9 112.4M383.6 120.3 385.4 119.6 387.3 121.1 388.9 119.4M397.5 92.4 398.9 93.6 400.6 92.7 401.7 93.8M373.9 119.3 374.8 118 376.2 116.7 377.4 115.3M382.7 149 384.1 150.6 385.4 148.8 386.4 150.1M388 131.8 389.6 130.4 390.7 129.5 391.9 130.3M385 115 386.5 113.9 387.8 113.3 389.2 114.2M392.1 125.3 393.7 123.7 394.7 122.3 396.5 123.2M376.3 132 377.9 131.3 378.9 132.9 380.2 131.7M379.7 120.5 380.6 119.3 382.2 120 383.2 120.8M395.2 87.8 396.1 89.4 397.6 88.2 398.6 88.8M370.2 128 371.4 126.9 372.3 128.4 373.4 127.8M369.5 149 370.4 150.3 371.3 148.6 372.4 147M399.8 140.5 400.7 139.2 402.2 140 402.2 140.8M394.8 136.1 395.6 137.6 397.1 138.5 398 139.5M388.9 139.8 390.2 140.7 391.1 141.6 392.6 140.1M369.1 140.6 370.6 138.9 372.3 140.1 374.2 141.3M393.2 114.2 394.9 113.5 396.1 115.2 396.9 113.6M387.7 149.2 389.3 150.5 390.8 152.1 391.7 150.9M374.3 119.6 375.7 118.9 376.9 120.5 377.8 121.3M368.7 153 369.8 154.2 371.2 153.4 372.7 152.7M399.4 124.1 400.8 125.2 402.1 126.4 402.2 127.3M370.7 92.8 372.2 94.3 374 93.7 376 92.5M382.2 94.2 383.6 93.5 384.9 92.6 386.4 92M383.7 113.9 385.6 113.1 387 112.3 388.8 111.4M379.2 129.6 380.8 130.3 382.7 131.7 384.3 132.3M392 129.4 393.3 128.7 395 130.4 396.7 129.1M396.8 100.5 397.8 102.1 399.5 101 400.5 102.5M387.7 107.5 389 106.7 390.6 105.9 391.7 104.6M388.9 119.6 390.2 120.8 391.1 121.5 392.6 120.6M397.1 120.6 399.1 121.8 400.2 122.9 402 121.3M370 99.2 371 100 372.5 101.1 374.4 102.3M381.8 154 383 154.6 384.7 153.5 386.1 152.7M398.7 116.4 399.5 115.2 400.3 116.5 401.4 117.2M396.1 111.5 397 112.5 398.6 111.8 399.7 112.8M390.5 116.1 391.8 117.3 392.8 118.4 393.7 117.7M371.9 100.4 372.9 102.1 374.5 100.5 375.6 99.2M372.6 152.2 373.8 151.2 375.8 152.3 376.9 153M392.2 134.3 394.2 133.3 395.9 132 397.2 130.5M369.7 113.7 370.7 112.2 372.5 111.1 373.5 112M391.6 147.6 392.7 146 394.6 146.6 395.5 145.5M375 119.4 376.8 118 378.3 117.2 380 118.3M397.1 150.8 398.5 152.4 400 153.7 400.9 154.4M397.2 121.1 399 121.8 399.8 120 401.3 121.3M370.3 127.5 372 128.5 373.8 127.2 375.5 126.6M393.9 82.1 395.3 81.5 396.9 81.5 397.9 82.9M368.6 89.5 370 88.1 371.7 89.2 372.9 87.5M373.3 131.7 374.3 130.9 375.8 132 377.5 130.2M390.7 147.7 392.6 146.5 393.9 147.8 395.2 146.5M385.4 131.5 387.2 132.3 388.4 131.1 390 130M393.7 134.8 394.7 133.5 396.5 134.9 397.7 134.2M384.5 128 385.6 129.7 387.2 128.5 388.6 129.5M378.5 135.4 380.4 136.5 381.4 138.2 382.4 139.9M396.4 86.7 397.6 85.5 399 84.8 400.1 86.5M391.5 144.5 393.1 143.6 394.7 144.2 395.5 143.3M381.6 139.5 382.9 140.4 384.5 141.3 386.1 142.2M396.3 105.9 397.8 106.9 399.2 105.3 400.2 106.5M371.7 137.2 372.8 135.8 374.6 136.4 376.2 138.1M387.1 107.2 388.8 108 389.6 109.2 390.7 110M386.2 98.5 388 99.4 389.7 98 391.2 99.7M376.6 89.9 378.1 90.7 379 89.1 380 90.3M395.2 114.6 396.2 113.2 397.5 111.5 399.1 113M370.3 143.3 371.2 144 372.2 145.4 373.7 144.2M368.9 110.8 370.8 109.3 372 108.1 372.9 109.8M377.8 140.2 379.2 139.2 380.4 140.1 381.4 138.9M384.8 106 386.7 106.7 388.3 105.6 389.9 107.2M368.6 103.2 369.7 101.7 371.7 100.6 372.9 99.6M372.7 96.5 374.5 97.5 375.9 96 377.8 95M385.8 120.1 387.7 119.1 389.6 118.3 391.3 119.8M394 102 395.5 103.3 396.4 102.3 398.3 101.6M387.1 138.5 388.1 136.9 389.9 137.7 391.6 136.4M387.6 153.6 389.5 154.8 390.6 154 391.6 154.8M400 116.5 401.9 115.3 402.2 113.8 402.2 112.3M384.9 114.2 386 113.6 387.8 115 388.9 115.8M383.1 85.3 384.2 86.6 385.6 85.1 386.9 86.1M379.1 107.7 380.1 108.5 381 107.3 382.6 105.8M382 150.8 384 149.3 385.5 148.7 386.8 147.4M377.7 107.2 379.5 108.2 381 109.7 382.3 108.7M378.1 105.6 379.3 104.8 380.3 105.8 382 104.3M398.3 124.3 400.1 125.5 401.9 124.7 402.2 123.7M373 140.5 374.8 142.1 376 140.8 377.3 139.6M396.2 103.1 398 104.3 399.2 102.6 400.2 103.4M375.7 141.8 377.3 143.2 378.5 142 379.9 143.3M370 116 372 117.5 373.3 118.5 374.7 116.8M388.1 101.9 389.8 102.9 390.7 101.5 392 102.6M377.1 101.3 378.7 102.8 380.1 101.6 381.5 102.5M387.4 112 389 111.4 390.8 112.6 392.5 110.9M368.6 143.9 370 142.6 371.5 144 373.1 142.8M395.1 90.7 396.1 92.5 397.2 91.6 398.1 90.6M375.8 108.5 377.6 107 379.1 107.6 380.5 108.6M399.6 137 401 136.4 401.8 137.2 402.2 138.2M388.3 126.6 389.8 127.9 391.7 129.3 393 127.9M374.7 127.1 376.1 128.6 377.2 126.9 378.7 128.4M398.2 134.4 400.1 133.2 401.3 134.7 402.2 133.9M370.9 82.1 372.7 81.5 374.6 81.5 375.6 81.5M378.4 107.7 380 107 381.8 108.2 383.4 109.7M395.6 154.6 397.5 153.3 399.2 152 400.2 150.5M376.1 115.8 377.5 114.5 378.8 115.4 379.6 116.7M368.6 130.8 369.3 131.8 371 130.8 372.4 129.1M396.2 95.2 398.1 96.6 399 97.7 400.8 96.8M394.7 93 396.7 93.9 398.1 94.6 400 93.9M397.8 93.9 399.1 94.8 400 95.8 401.5 94M396.1 91.4 397.9 89.7 398.8 91 400.1 92.1M369.2 140.9 370.1 140.2 371.6 141.1 372.6 142.9M393.1 116.3 394.8 115.6 396.1 114.1 397.5 115.3M394.3 85.9 396.1 86.5 397.3 87.6 398.6 89.2M385.9 102.7 387.5 101.9 388.9 100.5 390.8 98.7M371.8 147.3 373.4 148.6 374.5 149.8 375.9 148.8M372.9 144.6 374.4 143.1 375.4 141.9 376.8 143M389.3 129.2 390.9 130.4 392.9 129.2 394.7 128.5M380.7 111.9 382 112.6 383 111.7 384.4 112.5M378.3 115.1 380.1 113.8 381.6 115.4 382.5 113.7M388.6 106.4 390.5 107.5 391.4 106.7 392.9 106M384 154.2 384.8 154.8 386.7 153.9 388 154.8M381.9 121.4 383 123.2 384.4 121.5 385.6 120M381.4 100.7 382.4 101.7 383.9 101 385.5 99.8M387.7 154.4 389 154.8 389.9 154.8 391.8 154.8M379.8 120.6 380.9 122 382.8 121.2 383.8 122.1M399.3 129.9 401.2 130.7 402.2 129.5 402.2 130.8M395.5 94.8 397.1 93.2 398.1 94.4 400 95.6M384.8 131.2 386.1 132.2 387.2 133.4 388.1 134.4M374.7 133.8 375.5 132.4 377.5 130.6 378.7 129.2M372.5 95.6 374 96.4 375.1 97 376.2 96M382.6 122.5 384.2 124 385.7 122.5 387.3 121.6M393.8 134.2 394.6 135.5 395.8 137.2 397.2 138.7M373 137.7 374 136.5 375.7 138 377.5 136.4M386.4 100.1 387.9 98.4 388.8 97.4 390.1 95.7M378.1 123.8 379.3 125.1 381.1 126.9 382 127.8M393 82.8 393.9 83.5 394.8 85 396.1 85.9M374.8 118.1 375.8 117.1 376.6 115.7 377.7 116.9M399.2 151.6 401 152.8 402.2 152 402.2 151.2M388.4 152.4 389.8 151.2 391.1 150.1 393 151.6M386 91.4 387.5 92.8 389.3 94.6 390.6 93.2M388.7 98.3 390.6 99.2 391.8 98.1 393.1 96.6M379.8 87.8 381.4 86.9 382.9 87.7 384.3 89.3M396.8 114.5 397.8 115.8 399.1 115 400.5 113.3M371.1 146.8 372.9 145.2 374.8 146.8 375.9 145.1M399.4 152.5 400.8 150.9 402.2 151.5 402.2 149.8M370.6 137.4 371.6 136.3 372.8 136.9 374.1 138.7M375.1 82.5 376.5 83.1 377.8 84.6 379.2 83.9M374.7 113 376.6 114.6 378 116.3 380 114.6M392.3 107.3 394.2 109 396.1 110.8 397.1 109.1M370.7 109.4 372.5 108.8 373.8 110.4 375.5 109.7M382.2 109.1 383.2 110.6 384.6 111.4 385.7 112.4M369 131.2 369.9 129.6 371.3 128.3 372.8 129.1M398.8 153.6 399.6 152 401.1 151.1 402.2 152.5M394.1 108.2 395.1 109.2 396.2 110.3 397.4 108.8M378.3 138.2 379.3 136.7 380.2 135.8 381.8 136.5M379.9 145.7 381 144.7 382 143.9 383.5 144.7M382.2 102.2 383 101.6 384.6 103.2 385.5 104.4M386.6 83.8 387.7 84.9 388.6 86 390.3 85.3M388.8 129.2 389.9 130.1 391.6 131.5 392.9 130.6M368.6 95.1 369.2 96.4 370.6 94.9 371.7 93.4M397.5 99 399.5 98.3 401.3 97.4 402.2 98.1M386.6 109.1 388.5 108.4 389.4 110.1 391 109.2M381.9 86.5 383.8 84.7 385.1 86.5 386.7 87.9M382.1 117.3 383.3 116.2 385.1 114.6 386.2 113M379.4 97 380.6 97.7 382.5 96.1 383.5 94.8M368.6 95.8 369.3 97.6 371.1 96.8 372 98.6M368.6 85.1 369.8 86 371.3 87.1 372.9 86.2M373.6 95.9 374.7 94.6 376.2 95.4 377.8 94.4M390.3 154.7 391.7 154.8 392.8 154.8 394.2 154.8M373.8 117.6 375.5 118.7 376.8 119.6 378.1 118.9M372.5 148.7 373.6 147.4 374.5 146.2 375.4 144.7M385.9 115.1 387.7 116.7 389.4 118.2 390.6 116.5M371.1 152.1 372.4 151.2 373.4 152.6 375.3 154.1M377.4 112 378.5 113.4 380.1 114.8 381.9 116M389 100.6 390.5 101.4 392.4 102.9 393.7 101.1M369.8 93.7 371 94.3 372.9 95.2 374.6 96.2M372.8 122.5 373.8 121.8 374.8 122.6 376.6 121.9M370.8 117.3 372.5 118.6 374 117.6 375.7 118.6M378.6 136.6 380.1 138 380.9 139.1 382.8 140.2M392.1 113.6 393.4 115.4 394.8 116.7 396.7 117.5M385.7 117.4 387.3 118.8 388.9 119.7 390.5 121.2M389.4 133 390.9 131.8 392.7 133.6 394.2 132.6M377.2 109 378.9 110.2 380.3 108.8 381.5 110.1M394 113.7 395.2 112 396.5 112.9 397.9 114M394.1 110.2 396.1 111.1 397.4 112.7 399.2 113.6M370.2 88.7 371.9 87.6 373 88.9 375 90.2M370.5 123.4 372.2 124.6 373.1 126.4 374.8 125.3M396.2 114.7 397.1 113.1 398.4 114.6 399.7 115.3M392.6 150.3 393.6 151.5 395.3 152.6 397.1 153.5M368.6 134.2 368.7 135.8 370.6 136.5 372.6 137.3M376.3 144.7 378.1 143.5 379.9 142.8 381.1 144M394.6 98 396.3 99.4 397.2 97.9 398.8 96.3M397 93 398.7 91.9 399.7 91.2 401.2 89.7M396.6 150.5 398.5 151.2 400 150.1 401.8 150.7M399.5 151.2 401.2 149.9 402.2 148.5 402.2 149.8M395.8 137.5 396.7 138.9 398.5 140.7 400.4 142.2M398.6 94.6 399.8 93.5 401.3 94.4 402.2 93.6M385 153.8 386.2 154.8 387.9 154.8 389.3 154.8M388.3 93 390.2 94.5 391.5 93.6 392.8 94.6M370.7 105 371.7 105.6 373.5 103.8 374.4 102.6M375.5 116 376.9 114.4 378.6 115.3 379.4 114.4M379.8 137.3 381.3 138.1 383.3 136.7 384.3 138M379.6 105.7 381.6 104.1 383.3 105.7 384.2 107.1M390.2 129.2 391.8 130.8 393.7 129.1 395.6 128.1M390.2 90.3 391 91.1 392.2 92.2 393.9 93.4M372.3 140.9 373.5 140.3 374.5 141.8 375.3 140.5M399.3 94.8 400.4 93.2 402.2 91.4 402.2 90.8M398.5 96.6 400.1 97.7 401.6 98.5 402.2 96.9M377.7 128.5 379 130 380.3 129.3 381.5 130.4M368.7 115.9 370.4 114.3 371.7 115.4 373 116.3M373.8 127.2 374.8 125.5 376.6 123.9 378.5 125.1M391.7 153 393 154.1 393.8 154.8 394.6 154.8M373.9 146.3 374.8 145.2 376.3 143.7 377.2 141.9M387.6 144 389.6 145.2 390.5 146.6 392.2 147.2M399.5 103.8 400.8 104.8 402.2 105.6 402.2 104.5M369.7 87.9 371.3 87.2 372.8 86 374.2 87.3M385 126.8 386 128.3 387.9 129.5 389.7 128.5M368.6 142 369.7 140.5 370.7 141.7 372.4 140M371 82.8 372 81.8 373.8 81.5 375.2 82.1M369.4 150.8 371.4 150 372.4 149 373.2 147.3M378.9 140.2 380.7 141.5 381.7 140.7 383.5 139.2M392.2 114.2 393.1 113.4 395 114.6 395.8 116.1M389.9 96.9 391.5 95.8 392.7 94.9 394.2 93.4M380.2 143.9 382.2 143.2 383.2 142.2 384.2 141M398.8 92 400.7 90.7 401.7 89.8 402.2 91.2M375.7 110.7 377.2 109.9 378.9 111.6 380.3 110.1M373.5 130.7 375.5 129.3 376.8 127.7 378.7 129.1M382.5 124 383.9 122.6 384.8 123.2 386.8 125M387.1 119.5 388.2 118.5 389.5 119.6 390.4 118.6M370.6 120.1 372 119.1 373.4 118.2 374.4 119.5M394.1 83.5 395.5 84.7 397.2 85.6 398.2 86.5M398.3 97.5 399.9 98.4 401.9 99.4 402.2 101.1M395 90 396.4 91.1 398.4 90.5 400.2 91.7M371.6 94.8 373.5 93.3 374.5 94.3 375.6 92.7M370 132.3 371.8 133 372.7 131.6 374.4 132.5M383.4 138.7 385.3 140.3 387.1 142 388.1 143.2M397.2 101.6 398.5 100 400.3 101.1 401.5 102.2M384.1 133.2 385.8 131.9 387 132.8 388.6 131.2M400 135.3 401.5 136 402.2 134.5 402.2 135.3M386.3 138.6 387.4 136.8 388.8 138.4 390.8 139.4M391.5 111.1 392.9 112.7 393.7 111.7 395.3 113.5M395.1 105.8 396.1 104.4 397.4 105.1 398.3 103.9M393.5 109.6 394.9 110.7 396.2 109.4 397.1 111M388.7 90.5 390.6 89 392.4 87.8 394 89M368.6 137.4 369.4 138.9 371 138.1 372 139.2M382.1 144.7 383.3 146.1 384.2 145.5 385.5 146.1M397.1 153 398.1 154.2 399.7 153.6 400.8 151.8M373.2 99.4 374.8 100.9 375.7 101.8 376.8 101.1M388.7 99.8 390.2 99 391.6 100.6 392.5 99.1M396.2 85.4 397.4 86.7 398.3 87.7 399.8 86.1M392.4 90.6 393.4 91.3 394.4 90.2 396.1 89.3M371.1 83.7 372.5 84.6 374 83.1 375.6 84.8M386.1 136.4 387.2 135.1 388.4 133.4 389.5 132M400.1 87.8 401.6 88.4 402.2 87.2 402.2 88.1M380.8 84 382.1 82.9 383.5 82.2 385.4 81.5M376.6 145.4 377.6 146.8 378.7 148.5 379.6 149.1M397.2 89.5 398.7 88.5 400.3 89.3 402.1 90.6M383.9 91.5 385.3 90.2 387.1 88.5 388.1 89.4M368.6 136.5 368.8 135.7 370.8 134.4 371.6 135M386.8 152 388 153.4 389.8 154.8 391.6 153.1M376.9 103.4 377.9 102 379.6 103.5 381.1 104.3M384.9 152.3 386.1 153.3 387.9 154.2 389.5 154.8M380.6 90.6 381.6 90 383.1 89.1 384.5 90.3M397 98.2 398.8 96.8 400.1 97.8 401.2 98.8M386.8 100.1 387.8 98.4 389.5 96.6 391.4 95M392.4 154.4 394.2 154.8 396 153.5 397.3 151.8M369.7 95.8 370.6 97.4 371.6 98.9 372.9 98.2M370.7 103.7 372.4 102.7 373.8 104.3 375.4 103.7M370.5 153.7 372.2 152.7 373.4 153.9 375.2 152.5M393.7 144.5 395 142.8 396.8 141.5 398.5 143.1M374.3 140.2 376 142 377 141.1 377.9 141.8M378.3 86 380.3 86.8 381.2 87.8 382.6 88.6M388.9 98.1 390.3 99.8 391.8 98.8 393.4 97.4M378.2 117.7 380.1 116.1 381.8 117 383.5 117.9M371.9 101.6 373.8 102.4 374.7 103.4 375.9 104.3M391.9 84.8 392.8 83.2 394.6 84.8 396.5 85.7M379.1 88.7 380.7 87.1 381.6 85.6 382.7 87.2M379.5 151.5 380.6 152.6 381.8 151.1 383.3 149.4M398.8 102.5 400 101.3 401.4 102.9 402.2 101.8M388.6 127.8 390 127 391.1 128.3 392.7 127.1M397.6 93.2 399.6 94.7 401 93.8 402.2 95.4M395 119.9 396.5 120.8 397.9 122.2 399.1 120.5M392.5 125 394.3 126.8 395.7 125.7 396.6 126.5M386.8 152.2 388.8 151.6 390.3 150.2 391.3 151.4M375.5 146.6 377.1 147.5 377.9 146.1 379.9 145.3M369.6 122.8 370.7 123.4 371.6 121.8 372.8 122.5M399.9 127.4 401.3 129 402.2 127.7 402.2 126.9M396.8 150 397.8 148.9 399.1 149.6 400.8 150.2M385.3 126.6 386.3 125.6 387.7 124.9 388.9 126.6M385.4 97.1 386.5 98.6 387.6 100.2 389.1 98.5M399 92.7 400.5 91.5 402.2 92.8 402.2 91.5M398.8 137.6 399.8 136 401.7 135.3 402.2 136.1M383 116.7 384.5 115.1 385.4 113.7 387.2 114.8M372.2 114.3 373.7 115.6 375.2 114.5 376.2 115.9M388.8 111.1 390.7 109.9 392 108.2 393.5 107.3M371.8 119.9 373.6 121.2 374.4 121.9 375.7 122.9M378.8 83.4 380.6 84.1 381.4 83.1 382.7 81.6M379.5 138.9 380.8 137.1 382.2 138 383.7 137.1M380.4 104.7 381.3 106 382.8 105.1 384.7 106M372.7 121.6 374.7 120.9 376.3 119.9 377.5 118.4M388.2 82.1 390 81.5 391.9 81.5 393 83.2M395.8 110.6 397.2 110 398.7 111.5 400.5 112.5M389.9 103.8 391.2 105.2 393.1 106.5 394.4 107.8M390.8 120 391.7 121.4 393.6 119.7 394.6 118.2M375 130.1 376.7 131.5 378.4 133.1 380.4 131.6M378.5 94.6 380.4 95.7 381.3 94.5 383.2 95.7M379.8 153.4 381.5 154.3 382.7 152.6 383.6 153.6M380.2 154.4 381.5 153.1 382.9 154.1 384.2 154.8M385.8 96.2 387.6 97.9 388.6 99.6 389.5 100.5M392.3 111.5 393.4 110.2 394.8 111.3 396.7 110.2M398.7 109.1 400.5 110.6 401.7 112.4 402.2 113.3M370.1 106.2 371.1 105.1 372 103.7 373.7 102.8M387.8 89 389.6 90.1 391.1 89.1 392.1 90.1M396.4 92.4 397.7 91.1 399.2 89.4 400.9 87.7M377.3 121 378.5 120.3 380.1 121.8 381.8 123.4M390.8 117.9 391.8 116.7 393.4 118.3 395.4 120M395.2 126.5 396.2 127.9 397.5 127.3 399.1 128M370.4 116.5 371.4 118.1 372.7 117 373.5 118.1M385.9 96.3 386.8 94.6 388.2 93.1 389.5 92.3M386.3 83.1 387.9 84.5 389 82.7 390.7 81.5M395.8 88.9 397.5 87.7 398.3 89.1 399.9 88.3M387.2 85.6 388.7 84.3 389.9 83.1 391.6 84.6M381.3 81.8 382.5 83.2 383.5 81.9 384.8 82.8M391.7 118.3 392.9 119 394.2 118 396.1 119.8M396.6 144.6 398.4 146.2 399.7 145.3 401.5 146.2M375.1 114.5 377 113.6 378.8 112.7 380.8 111.6M395.4 144.8 396.3 144 398.2 145.8 399 146.6M397.8 93.4 398.8 92.3 399.7 94 400.6 95.2M375.9 104.8 377.3 104.1 378.4 102.8 379.3 104.6M383.8 106.1 385.7 104.5 387.5 106.2 389 107.6M392.5 148.8 393.4 149.8 395.3 151.5 397.2 150.3" stroke="#66d6a6" stroke-width="0.55" fill="none"/>
<path d="M372.7 93l-1.6 -0.7M371.8 90.3l-0.6 -0M375.6 91.1l-0.5 0M372.1 90.7l1.2 -0.8M372.5 91l-0 -0.1M376 89.8l0.1 -0.7M376.8 113.7l-0.4 -0.3M377.1 114.8l-1 0.4M375.9 113.2l-1.6 0.2M378.8 114.7l-1.3 -1M380.2 116.3l0.8 0.2M377.8 113.5l-0.3 0.9M374.8 117.5l-1.3 -1.3M375.3 118.3l-1.3 1.4M375.6 117.2l0.7 -0.3M375.2 119.6l0.5 0.7M376.6 120l1.3 -0.6M377.4 120.1l-0.1 1.1M375.9 138l-0.9 -1M374.6 137.7l0.9 -0.5M376.3 138.5l0.2 1M376.7 137.5l0.1 1M375.8 139.4l-0.4 -0.4M373.1 140.2l-0.3 0.1M373.4 118.5l-0.5 0.3M375.1 119.9l-1.6 -0.5M371.3 117.6l0.1 1M371.9 117.5l-0.4 -1.3M371.6 117l0.2 0.4M374.8 116.7l-0.6 1.3M380.2 139.4l1.8 -0.4M378 140.5l-1.4 -0.6M382.3 140.9l0.7 -0.9M379.7 138l0.5 0.3M382.9 140.2l-1 -0.4M381 140.2l-0.2 -1.3M379 139.7l-0 0.7M381.3 140.3l-0.3 1.2M380.1 140.6l0.1 -0.5M381.8 140.3l0.4 0.8M379.7 139.4l1.2 1.1M382.9 139.4l1.6 -0.7M376 132.7l1.5 1.3M377.9 134.8l0.7 -0.9M379.2 132.7l1.4 -1.3M379 133.2l0.6 -1.1M379 132.6l-0.6 -0.3M377.9 132.3l1 0.4M374 121.3l1.5 0.8M375.3 120.3l-0.4 -1.2M373.9 120.5l1.3 0.7M375.8 121.7l-0.1 -0.4M373.3 121.6l1.3 -0.9M377.6 120l-0.5 -1.3M385.9 136.2l-1.2 -0.6M388.4 135.3l1.3 0.3M383.8 136.7l-1.6 0.5M388.4 137.3l1.4 -1.3M388.5 135.2l-1.1 0.3M385.9 138l-0.2 0.1M392.3 110.7l1.7 1.4M393.8 110.7l-1.4 -0.9M395.7 108.4l1.5 0.8M394.8 108.1l0 -0.7M394.7 109.6l-1.2 -0.6M394.7 111.2l-0.4 1.4M376.8 88.5l0.1 -0.4M374.6 89.5l-1.4 -0.8M373.1 88.1l-1.2 0.3M374.6 87.6l0.7 1.3M375.9 88.6l-1.1 0.9M372.4 90.3l0.8 1M376.8 124.7l0.4 1M376.8 124.4l1.2 -0.5M376.6 124.9l-1.6 0.4M376.7 124.5l1.2 0M372.4 124l-1.1 0.1M374.7 123.3l-0.5 -0.7M398.2 111.6l-0.7 1.1M399.9 113.5l0.1 -0.9M398.9 112.9l1.7 -1.3M401.6 112l0.2 0.2M400.6 112.6l-0.9 0.6M401.4 115l0.8 -0.8M387.2 116.1l-1.2 0.9M384.8 115l-1.6 -0.7M387.7 115l1.1 -0.5M387.3 113.9l0.7 -0.3M383.2 114.7l1.2 -0.2M388.1 115.2l-0.4 0.3M379.3 130.4l1.1 1.1M379 128.8l0.8 1M381.3 130.7l-0.5 1.3M381.6 129l0 1.3M381.4 128.6l0.2 1M381.3 128.4l-0.2 -0.8M397.4 88.9l-1.5 1M398.8 90.8l1.7 0.3M397.6 91.6l-1.8 0.9M399 89.4l-0.1 0.9M400.8 89.2l-0.2 -0.2M397.9 89.7l-1.1 0.5M374.1 144.4l-1.5 -1.4M375.1 144.1l-0.5 -0.6M377.2 145.2l-0.2 -1M373.8 142.5l-1.3 -0.3M376.3 141.8l-0.1 0.5M376.1 142.3l1.7 -1.2M392.1 108.6l-1 -0.5M394 106.6l0.6 -1.1M394.4 108.9l-0 1.3M391 106.9l-1 -1.2M389.9 107.9l-1.3 0.8M393.1 108.9l0.9 -0.2M395.6 88.3l1 -0.4M395 89l-0.7 -0.8M395 87.8l-0.7 -1M397.9 87.1l-1.2 -0.2M398.5 87.1l1.3 0.6M398.5 86.5l1.1 -0.1M378.2 144.4l-1.8 -0.2M377.5 142.5l1.1 0.2M374.2 143.5l-1.1 -1M376.3 143.5l1.5 -1M377.5 144.9l0 -0.3M375.1 142.7l-1.5 1.3M380 84.6l0 -0.2M383.6 83.2l0.8 -1.3M384.2 85.1l-1.2 0.1M382.8 85.7l-1.3 0.3M381.3 82.9l-1.4 -0.3M384.4 84.9l-0.8 -0.5M387 136.1l1 -0.2M390.3 135.8l-1.7 0.7M390.4 133.1l1.6 1M387.3 134.1l-1.2 1.3M390.6 133.3l0.7 -0.8M390.5 134.1l0.3 -0.4M388.1 102.7l1.6 0.3M389.9 100.9l-1.8 0M390.2 101.1l-0.1 0.7M386.9 104l0.8 1.1M388.8 100.5l0.4 -0.7M390.4 103l-0.8 0.5M391.3 127.5l-0.5 -1M391.4 126.8l-1 0.2M393.5 127.2l1.7 0.5M391.8 127.2l0.3 -0.9M391.3 126.4l-1 0.5M394.9 128.9l-0.1 -0.1M380.3 94.8l-1.4 -1M380 95l-1.7 0.2M382.5 97.3l-0.8 1.1M381.9 95.6l1.5 0.7M382.9 98l0.8 0.6M382.2 95.5l1.3 0.7M389 128l-1.2 -0.4M389.4 128.6l0.7 -0.3M391.5 128.1l-0.1 1.4M393.5 127.3l-0.8 -0.2M390.2 129.7l1.6 0.6M391.5 129.2l1.1 0.9M376.8 152.2l0.2 -1.2M374.7 152.1l-0.2 0.8M375.8 151l-0.3 -1M374.7 152l1.7 -1.3M377.2 153.1l1.4 0.4M374.8 152.5l-0.7 0M372.3 91.8l1 -0M371.1 91.6l-1.6 0.5M375 94.5l-0.7 1.3M374.2 94.1l-1.5 0.1M373.6 93.2l-0.4 -0.9M375.3 91.3l0.2 1.2M391.4 138.3l-0.1 -0.5M390.4 138.4l1.6 0.3M390.5 137.5l1.4 0.4M387.2 136.3l1 0.6M390.6 139.4l-1.4 -0.4M391.4 136.7l0.1 -0.5M387.3 91.8l0 -0.9M387.5 90.2l-1.2 -1.3M388 90.9l0.5 0.9M390.7 89.8l1.7 -1.1M388.5 92.4l-1.3 0.8M390.6 92.1l-1.3 0.7M383.3 99.6l-0.5 0.5M382.7 99.2l1 0.2M379.9 99.9l1.4 -1M383.2 99.4l-1 0.8M381.9 97.7l-0.4 -0.1M384.4 97.2l-1.1 -0.4M371.5 144.9l1.7 1M371.9 143.6l-0.3 -0.7M369.8 142.9l1.3 0.7M370.5 144.9l-1.2 0M369.6 143.2l1.1 -0.8M374.5 142.6l-1.1 0.3M390 144.4l-1.6 -0.7M388.2 145.5l1.2 0.3M390.5 144.2l-1.1 0.5M388.7 144.1l0 -1M390.5 145.6l0.3 -1.3M386.5 145.1l1.1 0.9M377.3 100.9l-1.6 -0.2M377.1 98.5l-0.9 -1.4M375.8 98.8l-0.9 -0.5M376 98.1l-1.6 0.7M376.4 101.3l-0.9 0.8M377 98.3l-0.5 0.9M395.8 84.6l0.7 0.9M397.5 84.7l-1 0.3M397 84.7l1.4 0.1M400 86.8l-0 0M396 86l0.3 -0.9M398.1 85.2l0.1 -0.6M372.5 117.1l-1.5 -1.3M374 116.1l-0.9 -0.8M373.9 116.6l1.8 -1M371.7 117.9l1.8 -0.4M375.1 115.7l0.6 -0.9M374.7 116.3l1.6 -0.6M396.6 136.2l-0.2 -1.2M397.1 134.8l0.6 -1.1M398.4 137.6l1.8 -0.6M395 136.7l0.5 -1.4M394.7 136.5l1.4 1.3M398.8 136.3l1.1 1.1M388 128.8l-1.7 0.5M388.8 127.3l0.2 -0M386.5 128.5l-0.6 -0.8M387.3 127.1l-1.5 1.1M390.7 126.5l-0.9 -0.4M385.7 126.1l1.3 1.1M388.4 111.2l0.1 0.7M386.9 110.7l-1.4 -1.3M387.3 110.4l-0.3 1.3M390.7 110.1l-1.8 1.3M390.5 110.7l1 -1.1M391.8 109.4l-0.8 -1.1M385.6 148.1l-0.8 0.5M385 148.8l-1.6 1.3M382.3 150.2l-0.6 -1M385.9 149.7l-1.6 -0.6M386.4 151.2l0.8 -0.7M386.3 148.7l1.5 0.5M370.1 85.8l-1.6 1.2M373 85l0.6 -0.6M371.8 87.8l0.3 0.5M370.5 87.2l-1 0.2M369.2 87.2l0.6 -1.1M369.3 87.1l-1.2 0.5M396.8 137.9l1.4 -1M399.1 138.2l-1.3 -1.3M396.1 136.1l-0.3 -0.3M397.3 137.2l0.5 -0.4M396.3 136.4l0.5 0.7M399.1 134.9l-0.2 1M382.6 149.6l1.2 -1M383.3 147l-0.4 0.3M384.4 147.6l1.6 1.1M382.3 147l-0.5 -0.6M381.8 148.4l-1.1 0.8M384 147.7l-1.7 -0.6M397.7 137.8l0.9 1.3M394.8 138.2l-0.7 0.9M395.9 137.9l1.1 0.4M393.2 140.2l1.8 -0.4M393.6 138l-0.7 0.9M396.6 137.3l0.1 0.7M377.8 113.2l-0.9 0.2M379.3 112.8l-0.2 -0.4M378.6 113.9l1.3 1.1M378.5 112.7l1 -1.1M380.2 112.9l-0.7 1.1M377.6 111.8l-0.5 0.2M376.4 110.5l-0.7 0.4M373.1 112.5l1.3 1.4M376.4 112.4l0.9 1.4M375.8 109.3l-0.7 -1.3M375.4 111.5l-1.4 1.1M373.2 109.7l-1.8 1.2M389.9 108.9l0.1 -0.9M391.3 106.7l-0.8 0.5M390.1 109.1l0.8 -1.2M390.9 105.9l-0.8 -0.6M392.8 107.4l1.3 1M392.6 108.1l0.4 0.6M383 102.4l-1.5 0.4M383.7 103.7l0.1 1M383.3 103.9l-1.8 0.9M385.4 101.4l-0.8 -0.6M385.5 101.6l1.2 -1.1M381.9 103.5l1.6 -0.7M400.7 141.7l-1.1 -1.3M399.5 141.5l-0.9 -0.3M400.2 143.5l1.4 -0.7M399 142.3l1 0.9M398.6 142.2l-1.2 0M397.2 143.1l-1 0.6M382.4 134.7l-1.2 -0.6M377.6 133.7l-1.1 -1.2M377.6 132.9l-0.6 0.7M381.7 132.9l-1 -0.6M377.6 131.6l0.1 -1.2M377.7 133.1l0.3 0M386.6 148.1l0.3 -1.1M383.5 146.2l1 -0.4M383.5 147.3l-1.2 0.1M383.6 146.3l-1.6 0.5M386.3 149.4l-0.5 0.3M385.1 147.5l0.1 0.9M374.7 88.5l-1.2 1.2M375.3 86.2l1.4 1.1M372 88.1l-0.4 0.7M376.6 88.5l1.3 0.6M375.3 87.6l1.2 -0.7M373.7 85.7l1 -0.6M378.1 108.4l-0.2 -0.3M381.3 107.6l-0.3 -1.4M377.8 107.1l-0.3 1.2M380.1 107.3l-0.7 0.6M378.8 108.3l-1.5 -0.5M381.8 106.8l-0.2 1" stroke="#ee88ee" stroke-width="2.2" stroke-linecap="round" fill="none" opacity="0.45"/>
<path d="M372.7 93l-1.6 -0.7M371.8 90.3l-0.6 -0M375.6 91.1l-0.5 0M372.1 90.7l1.2 -0.8M372.5 91l-0 -0.1M376 89.8l0.1 -0.7M376.8 113.7l-0.4 -0.3M377.1 114.8l-1 0.4M375.9 113.2l-1.6 0.2M378.8 114.7l-1.3 -1M380.2 116.3l0.8 0.2M377.8 113.5l-0.3 0.9M374.8 117.5l-1.3 -1.3M375.3 118.3l-1.3 1.4M375.6 117.2l0.7 -0.3M375.2 119.6l0.5 0.7M376.6 120l1.3 -0.6M377.4 120.1l-0.1 1.1M375.9 138l-0.9 -1M374.6 137.7l0.9 -0.5M376.3 138.5l0.2 1M376.7 137.5l0.1 1M375.8 139.4l-0.4 -0.4M373.1 140.2l-0.3 0.1M373.4 118.5l-0.5 0.3M375.1 119.9l-1.6 -0.5M371.3 117.6l0.1 1M371.9 117.5l-0.4 -1.3M371.6 117l0.2 0.4M374.8 116.7l-0.6 1.3M380.2 139.4l1.8 -0.4M378 140.5l-1.4 -0.6M382.3 140.9l0.7 -0.9M379.7 138l0.5 0.3M382.9 140.2l-1 -0.4M381 140.2l-0.2 -1.3M379 139.7l-0 0.7M381.3 140.3l-0.3 1.2M380.1 140.6l0.1 -0.5M381.8 140.3l0.4 0.8M379.7 139.4l1.2 1.1M382.9 139.4l1.6 -0.7M376 132.7l1.5 1.3M377.9 134.8l0.7 -0.9M379.2 132.7l1.4 -1.3M379 133.2l0.6 -1.1M379 132.6l-0.6 -0.3M377.9 132.3l1 0.4M374 121.3l1.5 0.8M375.3 120.3l-0.4 -1.2M373.9 120.5l1.3 0.7M375.8 121.7l-0.1 -0.4M373.3 121.6l1.3 -0.9M377.6 120l-0.5 -1.3M385.9 136.2l-1.2 -0.6M388.4 135.3l1.3 0.3M383.8 136.7l-1.6 0.5M388.4 137.3l1.4 -1.3M388.5 135.2l-1.1 0.3M385.9 138l-0.2 0.1M392.3 110.7l1.7 1.4M393.8 110.7l-1.4 -0.9M395.7 108.4l1.5 0.8M394.8 108.1l0 -0.7M394.7 109.6l-1.2 -0.6M394.7 111.2l-0.4 1.4M376.8 88.5l0.1 -0.4M374.6 89.5l-1.4 -0.8M373.1 88.1l-1.2 0.3M374.6 87.6l0.7 1.3M375.9 88.6l-1.1 0.9M372.4 90.3l0.8 1M376.8 124.7l0.4 1M376.8 124.4l1.2 -0.5M376.6 124.9l-1.6 0.4M376.7 124.5l1.2 0M372.4 124l-1.1 0.1M374.7 123.3l-0.5 -0.7M398.2 111.6l-0.7 1.1M399.9 113.5l0.1 -0.9M398.9 112.9l1.7 -1.3M401.6 112l0.2 0.2M400.6 112.6l-0.9 0.6M401.4 115l0.8 -0.8M387.2 116.1l-1.2 0.9M384.8 115l-1.6 -0.7M387.7 115l1.1 -0.5M387.3 113.9l0.7 -0.3M383.2 114.7l1.2 -0.2M388.1 115.2l-0.4 0.3M379.3 130.4l1.1 1.1M379 128.8l0.8 1M381.3 130.7l-0.5 1.3M381.6 129l0 1.3M381.4 128.6l0.2 1M381.3 128.4l-0.2 -0.8M397.4 88.9l-1.5 1M398.8 90.8l1.7 0.3M397.6 91.6l-1.8 0.9M399 89.4l-0.1 0.9M400.8 89.2l-0.2 -0.2M397.9 89.7l-1.1 0.5M374.1 144.4l-1.5 -1.4M375.1 144.1l-0.5 -0.6M377.2 145.2l-0.2 -1M373.8 142.5l-1.3 -0.3M376.3 141.8l-0.1 0.5M376.1 142.3l1.7 -1.2M392.1 108.6l-1 -0.5M394 106.6l0.6 -1.1M394.4 108.9l-0 1.3M391 106.9l-1 -1.2M389.9 107.9l-1.3 0.8M393.1 108.9l0.9 -0.2M395.6 88.3l1 -0.4M395 89l-0.7 -0.8M395 87.8l-0.7 -1M397.9 87.1l-1.2 -0.2M398.5 87.1l1.3 0.6M398.5 86.5l1.1 -0.1M378.2 144.4l-1.8 -0.2M377.5 142.5l1.1 0.2M374.2 143.5l-1.1 -1M376.3 143.5l1.5 -1M377.5 144.9l0 -0.3M375.1 142.7l-1.5 1.3M380 84.6l0 -0.2M383.6 83.2l0.8 -1.3M384.2 85.1l-1.2 0.1M382.8 85.7l-1.3 0.3M381.3 82.9l-1.4 -0.3M384.4 84.9l-0.8 -0.5M387 136.1l1 -0.2M390.3 135.8l-1.7 0.7M390.4 133.1l1.6 1M387.3 134.1l-1.2 1.3M390.6 133.3l0.7 -0.8M390.5 134.1l0.3 -0.4M388.1 102.7l1.6 0.3M389.9 100.9l-1.8 0M390.2 101.1l-0.1 0.7M386.9 104l0.8 1.1M388.8 100.5l0.4 -0.7M390.4 103l-0.8 0.5M391.3 127.5l-0.5 -1M391.4 126.8l-1 0.2M393.5 127.2l1.7 0.5M391.8 127.2l0.3 -0.9M391.3 126.4l-1 0.5M394.9 128.9l-0.1 -0.1M380.3 94.8l-1.4 -1M380 95l-1.7 0.2M382.5 97.3l-0.8 1.1M381.9 95.6l1.5 0.7M382.9 98l0.8 0.6M382.2 95.5l1.3 0.7M389 128l-1.2 -0.4M389.4 128.6l0.7 -0.3M391.5 128.1l-0.1 1.4M393.5 127.3l-0.8 -0.2M390.2 129.7l1.6 0.6M391.5 129.2l1.1 0.9M376.8 152.2l0.2 -1.2M374.7 152.1l-0.2 0.8M375.8 151l-0.3 -1M374.7 152l1.7 -1.3M377.2 153.1l1.4 0.4M374.8 152.5l-0.7 0M372.3 91.8l1 -0M371.1 91.6l-1.6 0.5M375 94.5l-0.7 1.3M374.2 94.1l-1.5 0.1M373.6 93.2l-0.4 -0.9M375.3 91.3l0.2 1.2M391.4 138.3l-0.1 -0.5M390.4 138.4l1.6 0.3M390.5 137.5l1.4 0.4M387.2 136.3l1 0.6M390.6 139.4l-1.4 -0.4M391.4 136.7l0.1 -0.5M387.3 91.8l0 -0.9M387.5 90.2l-1.2 -1.3M388 90.9l0.5 0.9M390.7 89.8l1.7 -1.1M388.5 92.4l-1.3 0.8M390.6 92.1l-1.3 0.7M383.3 99.6l-0.5 0.5M382.7 99.2l1 0.2M379.9 99.9l1.4 -1M383.2 99.4l-1 0.8M381.9 97.7l-0.4 -0.1M384.4 97.2l-1.1 -0.4M371.5 144.9l1.7 1M371.9 143.6l-0.3 -0.7M369.8 142.9l1.3 0.7M370.5 144.9l-1.2 0M369.6 143.2l1.1 -0.8M374.5 142.6l-1.1 0.3M390 144.4l-1.6 -0.7M388.2 145.5l1.2 0.3M390.5 144.2l-1.1 0.5M388.7 144.1l0 -1M390.5 145.6l0.3 -1.3M386.5 145.1l1.1 0.9M377.3 100.9l-1.6 -0.2M377.1 98.5l-0.9 -1.4M375.8 98.8l-0.9 -0.5M376 98.1l-1.6 0.7M376.4 101.3l-0.9 0.8M377 98.3l-0.5 0.9M395.8 84.6l0.7 0.9M397.5 84.7l-1 0.3M397 84.7l1.4 0.1M400 86.8l-0 0M396 86l0.3 -0.9M398.1 85.2l0.1 -0.6M372.5 117.1l-1.5 -1.3M374 116.1l-0.9 -0.8M373.9 116.6l1.8 -1M371.7 117.9l1.8 -0.4M375.1 115.7l0.6 -0.9M374.7 116.3l1.6 -0.6M396.6 136.2l-0.2 -1.2M397.1 134.8l0.6 -1.1M398.4 137.6l1.8 -0.6M395 136.7l0.5 -1.4M394.7 136.5l1.4 1.3M398.8 136.3l1.1 1.1M388 128.8l-1.7 0.5M388.8 127.3l0.2 -0M386.5 128.5l-0.6 -0.8M387.3 127.1l-1.5 1.1M390.7 126.5l-0.9 -0.4M385.7 126.1l1.3 1.1M388.4 111.2l0.1 0.7M386.9 110.7l-1.4 -1.3M387.3 110.4l-0.3 1.3M390.7 110.1l-1.8 1.3M390.5 110.7l1 -1.1M391.8 109.4l-0.8 -1.1M385.6 148.1l-0.8 0.5M385 148.8l-1.6 1.3M382.3 150.2l-0.6 -1M385.9 149.7l-1.6 -0.6M386.4 151.2l0.8 -0.7M386.3 148.7l1.5 0.5M370.1 85.8l-1.6 1.2M373 85l0.6 -0.6M371.8 87.8l0.3 0.5M370.5 87.2l-1 0.2M369.2 87.2l0.6 -1.1M369.3 87.1l-1.2 0.5M396.8 137.9l1.4 -1M399.1 138.2l-1.3 -1.3M396.1 136.1l-0.3 -0.3M397.3 137.2l0.5 -0.4M396.3 136.4l0.5 0.7M399.1 134.9l-0.2 1M382.6 149.6l1.2 -1M383.3 147l-0.4 0.3M384.4 147.6l1.6 1.1M382.3 147l-0.5 -0.6M381.8 148.4l-1.1 0.8M384 147.7l-1.7 -0.6M397.7 137.8l0.9 1.3M394.8 138.2l-0.7 0.9M395.9 137.9l1.1 0.4M393.2 140.2l1.8 -0.4M393.6 138l-0.7 0.9M396.6 137.3l0.1 0.7M377.8 113.2l-0.9 0.2M379.3 112.8l-0.2 -0.4M378.6 113.9l1.3 1.1M378.5 112.7l1 -1.1M380.2 112.9l-0.7 1.1M377.6 111.8l-0.5 0.2M376.4 110.5l-0.7 0.4M373.1 112.5l1.3 1.4M376.4 112.4l0.9 1.4M375.8 109.3l-0.7 -1.3M375.4 111.5l-1.4 1.1M373.2 109.7l-1.8 1.2M389.9 108.9l0.1 -0.9M391.3 106.7l-0.8 0.5M390.1 109.1l0.8 -1.2M390.9 105.9l-0.8 -0.6M392.8 107.4l1.3 1M392.6 108.1l0.4 0.6M383 102.4l-1.5 0.4M383.7 103.7l0.1 1M383.3 103.9l-1.8 0.9M385.4 101.4l-0.8 -0.6M385.5 101.6l1.2 -1.1M381.9 103.5l1.6 -0.7M400.7 141.7l-1.1 -1.3M399.5 141.5l-0.9 -0.3M400.2 143.5l1.4 -0.7M399 142.3l1 0.9M398.6 142.2l-1.2 0M397.2 143.1l-1 0.6M382.4 134.7l-1.2 -0.6M377.6 133.7l-1.1 -1.2M377.6 132.9l-0.6 0.7M381.7 132.9l-1 -0.6M377.6 131.6l0.1 -1.2M377.7 133.1l0.3 0M386.6 148.1l0.3 -1.1M383.5 146.2l1 -0.4M383.5 147.3l-1.2 0.1M383.6 146.3l-1.6 0.5M386.3 149.4l-0.5 0.3M385.1 147.5l0.1 0.9M374.7 88.5l-1.2 1.2M375.3 86.2l1.4 1.1M372 88.1l-0.4 0.7M376.6 88.5l1.3 0.6M375.3 87.6l1.2 -0.7M373.7 85.7l1 -0.6M378.1 108.4l-0.2 -0.3M381.3 107.6l-0.3 -1.4M377.8 107.1l-0.3 1.2M380.1 107.3l-0.7 0.6M378.8 108.3l-1.5 -0.5M381.8 106.8l-0.2 1" stroke="#dc30dc" stroke-width="1" stroke-linecap="round" fill="none"/>
<g fill="#666" stroke="#9a9a9a" stroke-width="0.35"><circle cx="374" cy="91.3" r="1.15"/><circle cx="374.7" cy="89.5" r="1.0"/><circle cx="378.5" cy="119.2" r="1.15"/><circle cx="377.9" cy="117.4" r="1.0"/><circle cx="373.7" cy="140.5" r="1.15"/><circle cx="371.9" cy="141" r="1.0"/><circle cx="374.9" cy="120.7" r="1.15"/><circle cx="376.7" cy="120" r="1.0"/><circle cx="380.8" cy="137.8" r="1.15"/><circle cx="381.3" cy="136" r="1.0"/><circle cx="379.9" cy="138.6" r="1.15"/><circle cx="378.2" cy="137.6" r="1.0"/><circle cx="376.7" cy="119.6" r="1.15"/><circle cx="377.7" cy="118" r="1.0"/><circle cx="394.1" cy="108.4" r="1.15"/><circle cx="393.3" cy="106.7" r="1.0"/><circle cx="373.8" cy="88" r="1.15"/><circle cx="373.1" cy="86.3" r="1.0"/><circle cx="377.4" cy="125.4" r="1.15"/><circle cx="378.9" cy="124.3" r="1.0"/><circle cx="398.4" cy="115.6" r="1.15"/><circle cx="396.7" cy="116.3" r="1.0"/><circle cx="384.3" cy="114.6" r="1.15"/><circle cx="382.4" cy="114.5" r="1.0"/><circle cx="400.8" cy="92.3" r="1.15"/><circle cx="401.2" cy="90.5" r="1.0"/><circle cx="373" cy="144.9" r="1.15"/><circle cx="371.5" cy="143.8" r="1.0"/><circle cx="391.2" cy="135.2" r="1.15"/><circle cx="391.8" cy="137" r="1.0"/><circle cx="390.9" cy="103.7" r="1.15"/><circle cx="389.1" cy="104.4" r="1.0"/><circle cx="393.8" cy="129.7" r="1.15"/><circle cx="392" cy="130.5" r="1.0"/><circle cx="381.8" cy="95.9" r="1.15"/><circle cx="381.5" cy="97.8" r="1.0"/><circle cx="390.6" cy="130.9" r="1.15"/><circle cx="391.4" cy="129.2" r="1.0"/><circle cx="376.9" cy="151.1" r="1.15"/><circle cx="378.2" cy="152.4" r="1.0"/><circle cx="375.2" cy="94.5" r="1.15"/><circle cx="374.8" cy="92.6" r="1.0"/><circle cx="387.5" cy="138.2" r="1.15"/><circle cx="388.8" cy="136.8" r="1.0"/><circle cx="388.3" cy="90.3" r="1.15"/><circle cx="390.2" cy="90" r="1.0"/><circle cx="379.8" cy="96" r="1.15"/><circle cx="378.9" cy="97.7" r="1.0"/><circle cx="373" cy="142.5" r="1.15"/><circle cx="374.2" cy="141" r="1.0"/><circle cx="386.8" cy="146" r="1.15"/><circle cx="388.4" cy="147.1" r="1.0"/><circle cx="374.7" cy="99.2" r="1.15"/><circle cx="376.5" cy="98.6" r="1.0"/><circle cx="399.8" cy="85.5" r="1.15"/><circle cx="401.2" cy="86.2" r="1.0"/><circle cx="395.4" cy="135.6" r="1.15"/><circle cx="397.3" cy="135.4" r="1.0"/><circle cx="389.4" cy="129.8" r="1.15"/><circle cx="390.8" cy="128.5" r="1.0"/><circle cx="382.6" cy="152" r="1.15"/><circle cx="382.2" cy="153.9" r="1.0"/><circle cx="372.4" cy="85.5" r="1.15"/><circle cx="372.8" cy="87.4" r="1.0"/><circle cx="385.4" cy="149.2" r="1.15"/><circle cx="387.3" cy="148.9" r="1.0"/><circle cx="394.2" cy="136.8" r="1.15"/><circle cx="395.4" cy="138.2" r="1.0"/><circle cx="380.1" cy="110.3" r="1.15"/><circle cx="378.9" cy="108.8" r="1.0"/><circle cx="376.8" cy="110.4" r="1.15"/><circle cx="378" cy="108.9" r="1.0"/><circle cx="388.3" cy="108.6" r="1.15"/><circle cx="389.3" cy="110.3" r="1.0"/><circle cx="383" cy="102.5" r="1.15"/><circle cx="381.4" cy="101.5" r="1.0"/><circle cx="396.5" cy="142" r="1.15"/><circle cx="395.3" cy="143.5" r="1.0"/><circle cx="379.4" cy="135" r="1.15"/><circle cx="379.7" cy="133.1" r="1.0"/><circle cx="383.8" cy="150.1" r="1.15"/><circle cx="385.6" cy="149.7" r="1.0"/><circle cx="373.3" cy="86.8" r="1.15"/><circle cx="371.4" cy="86.5" r="1.0"/><circle cx="380.5" cy="107.6" r="1.15"/><circle cx="380.8" cy="109.5" r="1.0"/></g>
</g>
<path d="M29.9 372.3V521.6M36 372.3V521.6M42.1 372.3V521.6M48.2 372.3V521.6M54.3 372.3V521.6M60.4 372.3V521.6M66.5 372.3V521.6M72.6 372.3V521.6M78.7 372.3V521.6M84.8 372.3V521.6M90.9 372.3V521.6M97.1 372.3V521.6M103.2 372.3V521.6M109.3 372.3V521.6M115.4 372.3V521.6M121.5 372.3V521.6M127.6 372.3V521.6M133.7 372.3V521.6M139.8 372.3V521.6M145.9 372.3V521.6M152 372.3V521.6M158.1 372.3V521.6M164.2 372.3V521.6M170.3 372.3V521.6M176.4 372.3V521.6M182.5 372.3V521.6M188.6 372.3V521.6M194.7 372.3V521.6M200.8 372.3V521.6M206.9 372.3V521.6M213 372.3V521.6M219.1 372.3V521.6M225.2 372.3V521.6M231.4 372.3V521.6M237.5 372.3V521.6M243.6 372.3V521.6M249.7 372.3V521.6M255.8 372.3V521.6M261.9 372.3V521.6M268 372.3V521.6M274.1 372.3V521.6M280.2 372.3V521.6M286.3 372.3V521.6M292.4 372.3V521.6M23.8 397.2H298.5M23.8 422.1H298.5M23.8 447H298.5M23.8 471.8H298.5M23.8 496.7H298.5" stroke="#dedede" stroke-width="0.8" fill="none"/>
<path d="M23.8 471.8H298.5" stroke="#7474f6" stroke-width="1.3" fill="none"/>
<path d="M48 926l1 5 1-12 1 0 1 13 1-12 1 19 1-11 1 1 1-16 1 6 1 38 1-34 1-5 1 39 1-40 1-1 1 0 1 2 1-3 1-4 1 1 1 0 1 2 1-1 1 6 1 1 1 0 1-3 1 18 1-19 1 40 1-29 1-5 1 10 1 11 1-21 1 38 1-26 1 4 1-5 1 0 1 16 1-13 1 13 1-16 1-6 1 11 1 2 1 1 1-7 1 0 1 12 1-7 1 1 1 17 1-27 1 0 1-4 1 29 1-27 1 1 1-4 1-11 1 11 1 30 1-33 1 4 1-1 1-8 1 4 1-1 1-1 1 0 1-9 1 5 1 1 1-5 1 6 1 2 1-7 1-2 1-2 1 9 1-6 1-2 1 0 1 11 1-2 1 2 1-4 1 5 1 3 1-5 1 14 1 2 1-10 1 15 1-13 1 12 1-2 1-2 1-2 1 2 1 2 1-1 1 0 1-9 1 0 1 6 1-12 1 9 1-22 1 11 1 10 1-20 1 16 1-8 1 16 1 0 1-15 1-4 1 15 1 7 1-17 1 16 1-3 1 3 1-10 1 4 1 13 1 1 1 0 1 23 1-34 1 7 1-8 1 4 1 1 1-1 1-2 1-2 1 0 1 6 1-2 1-2 1 0 1 7 1-7 1 2 1-4 1 6 1 9 1-11 1 1 1 1 1 6 1 6 1 22 1-33 1 14 1-7 1-6 1 5 1-1 1 12 1-16 1-1 1-1 1 5 1-12 1 10 1-6 1 10 1-15 1 4 1-5 1 10 1-9 1 6 1-6 1-4 1 1 1 7 1-3 1-8 1 7 1-1 1 1 1-2 1 0 1 1 1 0 1 9 1-9 1 3 1 8 1 1 1-5 1 3 1 1 1 6 1-6 1 14 1-21 1 3 1 2 1 2 1-11 1 6 1-7 1 13 1-7 1 7 1 0 1 0 1 4 1-3 1-14 1 14 1 0 1-11 1 7 1 9 1-9 1 12 1-14 1 12 1-7 1 16 1 15 1-33 1 13 1-15 1 8 1-8 1 10 1-7 1 1 1-7 1 5 1-1 1-4 1-8 1 8 1-3 1 2 1 0 1-3 1-4 1-1 1-11 1-18 1 9 1 22 1-25 1-9 1 9 1-4 1-7 1 12 1-1 1-2 1 7 1 4 1 3 1 0 1 14 1-1 1 7 1 1 1 3 1-3 1 3 1-7 1-2 1 19 1-9 1 1 1 1 1-1 1-10 1 0 1-1 1 4 1 13 1 1 1 4 1-7 1 0 1-9 1 15 1-6 1-3 1 7 1-9 1 12 1-2 1-4 1-3 1 6 1-7 1 8 1-2 1 3 1-4 1 4 1 8 1-1 1-10 1 9 1-9 1-11 1 2 1 2 1 3 1-1 1 0 1-6 1 7 1-3 1 12 1-8 1 3 1-5 1 1 1-6 1 8 1-6 1-4 1-3 1 14 1-6 1-4 1-5 1 13 1-14 1 1 1 4 1-2 1-1 1-1 1-3 1 5 1-4 1 5 1 5 1-2 1 2 1 25 1-33 1 12 1 19 1-28 1-6 1-32 1 0 1-7 1-1 1 8 1-2 1 4 1-9 1-1 1 5 1 18 1 0 1 20 1-2 1 2 1 5 1 1 1-5 1 30 1-37 1 8 1 0 1 13 1 18 1-37 1 11 1-6 1 9 1-10 1-5 1 13 1-12 1 10 1 8 1-11 1 1 1 0 1-1 1-6 1 3 1 4 1 4 1-15 1 3 1 2 1 11 1-8 1-8 1 5 1 0 1 0 1 11 1-3 1-9 1 2 1-4 1 8 1 10 1-16 1 7 1 33 1-9 1-10 1-13 1 8 1-4 1 5 1-3 1 1 1 2 1-6 1 1 1 1 1 1 1-3 1 4 1-7 1-4 1 7 1 9 1-11 1 9 1 4 1-12 1 3 1-6 1 8 1-10 1 1 1 10 1-2 1 9 1-12 1 5 1 29 1-27 1 3 1-3 1 5 1-1 1-1 1 3 1-1 1-12 1 17 1-5 1-9 1-5 1 5 1-2 1-5 1 9 1 24 1-30 1-5 1 12 1 4 1-3 1-2 1 1 1 0 1 17 1 14 1-32 1-10 1 2 1-3 1-7 1-12 1-15 1 9 1-8 1 22 1-43 1 11 1-5 1 8 1-10 1 11 1 14 1 24 1-13 1-9 1 14 1 2 1 26 1-27 1 5 1 1 1 1 1 3 1 10 1-1 1-6 1 23 1-13 1 4 1-11 1 17 1 4 1-10 1-3 1 7 1-8 1 20 1-17 1 8 1-6 1 1 1 9 1 1 1 4 1-5 1 3 1-5 1 12 1-8 1-7 1 7 1 11 1-21 1 0 1 8 1 32 1-22 1 3 1-7 1 13 1-4 1-2 1 2 1 8 1-1 1 6 1-7" stroke="#0000ff" stroke-width="1.6" fill="none" transform="scale(.5)"/>
<path d="M48 917l1-3 1 6 1-1 1 3 1 27 1-40 1 47 1-47 1 48 1-36 1 4 1 5 1-4 1-4 1 6 1 10 1-2 1-6 1 3 1 4 1-8 1 1 1 9 1-13 1 14 1 0 1-10 1 2 1 25 1-31 1 9 1-5 1 5 1 2 1-14 1 0 1 0 1 1 1 2 1-3 1 6 1-6 1 4 1 0 1-2 1 2 1 4 1-6 1-3 1 36 1-30 1 6 1-1 1-4 1 0 1 0 1-9 1 14 1-10 1 8 1-10 1 13 1-12 1 6 1 2 1-2 1 9 1-7 1 0 1 3 1-14 1 4 1-3 1 3 1 30 1-23 1-16 1 10 1 0 1 0 1-2 1-2 1 1 1 9 1-13 1 1 1-2 1 10 1-9 1 14 1-9 1 8 1-1 1-4 1 5 1-6 1-3 1 2 1 8 1 6 1-14 1-4 1 1 1 1 1 6 1-16 1 3 1 1 1 6 1-7 1 7 1-11 1 4 1-2 1-4 1 16 1 30 1-27 1-2 1 3 1 7 1-6 1 5 1 7 1 4 1-5 1 2 1-6 1 3 1-4 1 3 1 0 1 0 1-10 1 19 1-19 1-1 1-3 1 9 1-3 1-2 1 3 1 0 1 3 1-8 1 5 1 3 1 2 1-9 1 7 1-6 1 10 1 1 1-2 1 4 1-7 1 18 1-4 1-4 1-4 1 12 1-10 1-1 1 19 1-6 1 0 1-19 1 4 1-3 1 4 1-5 1-1 1 6 1-6 1 7 1-12 1 11 1-8 1 7 1-15 1 8 1 2 1-11 1 7 1 7 1 5 1-22 1 17 1-9 1-5 1 3 1 4 1 10 1-12 1 32 1-31 1 9 1-2 1 2 1-17 1 14 1 5 1-5 1-3 1-8 1 8 1-1 1-9 1 6 1 2 1-4 1 17 1 0 1-15 1 16 1-7 1 1 1-4 1-7 1 10 1 1 1 12 1-2 1-1 1 4 1-11 1-4 1 7 1 2 1-3 1 5 1-10 1 4 1 0 1-7 1 5 1 1 1-5 1-2 1 5 1 0 1-2 1-4 1 8 1-1 1 3 1-12 1 2 1-8 1 5 1-14 1-10 1-9 1-4 1 6 1-6 1 3 1-2 1 12 1 0 1-7 1 15 1-12 1 19 1 9 1-1 1 8 1-3 1 3 1 7 1-6 1 5 1-13 1 11 1 25 1-32 1-1 1 6 1-4 1 6 1-3 1-9 1-1 1 4 1-4 1 7 1-6 1 11 1 23 1-24 1 5 1-9 1 5 1 29 1-15 1-17 1 13 1-4 1-6 1 3 1-2 1 10 1-13 1 20 1-14 1 30 1-28 1 4 1 8 1-9 1-2 1 6 1-5 1-1 1-6 1 0 1-5 1-2 1 35 1-34 1 5 1-5 1 1 1-4 1 37 1-25 1-2 1-6 1-2 1 11 1 3 1-6 1 6 1-7 1 27 1-22 1 0 1-17 1 11 1 4 1-7 1-3 1 3 1-7 1 10 1-11 1 12 1-3 1-4 1 2 1-10 1 3 1-17 1-12 1-8 1-4 1 0 1-2 1-6 1-1 1 16 1-3 1 5 1 4 1 12 1 3 1 12 1 3 1 0 1 13 1-7 1-16 1 8 1 3 1-1 1 7 1-8 1-2 1 35 1-25 1-14 1 8 1 5 1-12 1 4 1 1 1 11 1-14 1-1 1-1 1 4 1 6 1-5 1 12 1-18 1 3 1 4 1 1 1-10 1 37 1-18 1-14 1 1 1 8 1-10 1 5 1-3 1 18 1-15 1 7 1-2 1 7 1-14 1 10 1-2 1 9 1-1 1-3 1 2 1 3 1-17 1 15 1-9 1 7 1-2 1 2 1-1 1-2 1-5 1 14 1-4 1-11 1 8 1-8 1 7 1 6 1-17 1 13 1-5 1 15 1-14 1 4 1-10 1 10 1-3 1-2 1-3 1 6 1-8 1 3 1 3 1-4 1 1 1 0 1 3 1-8 1 0 1 10 1-11 1 3 1-3 1 12 1-6 1-7 1 21 1-7 1-10 1 9 1 3 1 24 1-26 1 8 1-1 1 11 1-16 1 7 1-2 1-6 1-6 1-3 1-3 1-6 1 18 1-45 1 35 1-34 1-17 1 2 1-2 1 17 1-8 1-4 1 3 1 1 1 6 1 13 1 1 1 16 1-11 1 4 1 8 1 8 1 1 1-4 1-2 1 12 1 2 1 13 1-10 1 1 1 1 1 7 1 5 1-14 1 1 1 32 1-20 1-5 1-7 1-4 1 7 1 2 1 4 1-4 1-1 1 6 1-2 1-3 1 0 1-3 1 4 1 9 1-2 1 3 1-2 1 3 1-6 1-2 1 2 1 8 1 3 1-6 1 14 1-14 1 19 1-18 1 9 1-2 1 13" stroke="#003dff" stroke-width="1.6" fill="none" transform="scale(.5)"/>
<path d="M48 944l1-45 1 10 1-2 1 10 1-11 1 3 1 1 1 13 1-18 1 31 1 4 1-46 1 9 1-6 1 9 1-13 1 19 1-17 1 43 1-20 1 16 1 8 1-32 1-1 1 37 1-24 1 18 1-13 1 24 1-24 1 4 1 5 1 17 1-30 1 6 1-25 1 7 1 17 1 27 1-30 1-9 1 4 1 3 1 2 1 4 1 27 1-48 1 19 1 14 1-40 1 26 1-3 1-19 1 47 1-11 1 6 1-45 1-5 1 39 1-14 1-14 1 19 1 4 1 19 1-9 1 2 1-24 1-15 1 25 1-13 1-12 1 17 1-22 1-10 1 8 1-5 1 49 1-12 1-31 1 26 1-8 1-30 1 26 1-22 1 43 1-61 1 16 1 10 1 8 1 19 1-33 1 6 1 31 1-19 1-21 1 31 1-29 1 24 1-26 1 59 1-18 1 20 1-34 1 34 1-58 1 37 1 21 1-11 1-3 1 14 1 0 1-26 1 14 1 5 1-26 1 15 1-18 1 17 1 5 1 3 1-12 1-32 1 22 1-17 1 23 1 3 1 26 1 1 1-23 1-17 1 13 1 1 1 13 1-10 1 9 1-11 1 25 1-13 1-25 1 26 1 6 1-6 1 0 1-20 1 20 1 11 1 4 1-15 1 6 1-29 1 11 1-23 1 16 1 3 1 3 1 1 1-10 1-15 1 1 1 57 1-33 1 8 1-2 1-15 1 26 1-6 1-23 1 41 1-17 1 12 1-44 1 45 1 0 1-23 1-2 1 1 1 7 1 0 1-1 1-1 1-29 1 38 1-24 1-5 1 27 1-10 1-1 1 4 1-9 1 30 1-16 1 16 1 0 1-13 1-11 1 8 1 15 1-36 1 26 1 12 1-25 1 25 1-21 1-5 1 2 1-1 1 0 1 8 1-26 1 28 1 2 1-26 1 14 1 23 1-28 1-19 1 34 1-1 1-31 1 28 1 6 1 4 1-1 1-8 1 13 1-23 1 16 1 3 1-29 1 17 1-9 1 14 1 9 1-25 1 8 1-4 1 0 1 0 1 4 1 10 1-23 1 11 1-12 1 23 1-19 1 27 1-42 1 8 1 18 1-19 1-15 1 11 1-17 1 6 1-14 1 12 1-11 1 32 1-9 1-23 1 11 1 19 1 1 1-13 1-2 1 19 1 3 1 20 1 12 1-51 1 9 1 22 1-6 1 10 1-33 1 35 1-16 1 8 1 4 1 9 1-39 1 24 1 0 1 24 1 7 1 0 1-18 1-15 1 26 1-1 1-33 1 15 1-3 1 15 1-34 1 5 1-6 1-7 1 27 1 9 1-37 1 14 1-13 1 24 1-1 1 26 1-36 1 9 1-21 1 14 1 15 1 0 1-15 1-17 1 46 1-8 1-4 1 6 1-8 1-18 1-13 1 20 1 21 1-5 1-20 1 22 1-16 1-3 1 14 1 24 1-21 1 0 1 17 1-48 1 42 1-10 1 12 1-39 1 45 1-1 1-11 1-1 1-7 1 10 1-11 1 3 1-28 1 26 1-21 1-3 1 12 1-10 1-18 1 6 1-44 1-7 1 25 1-20 1-18 1 38 1 9 1-18 1-4 1 33 1 3 1 4 1 19 1 18 1-20 1 4 1 10 1-19 1 34 1-20 1 1 1-8 1 2 1-20 1 26 1 22 1-12 1-2 1-19 1 3 1 9 1-9 1-11 1-2 1 3 1 16 1-14 1-19 1 7 1 1 1 39 1-41 1 5 1 29 1-10 1-16 1 33 1 0 1-23 1 9 1 2 1-21 1-16 1 38 1-8 1-23 1 29 1-23 1 19 1 0 1-2 1 3 1 8 1-24 1 20 1-12 1 29 1-23 1 23 1-8 1-7 1-3 1 16 1 6 1-12 1-6 1 25 1-32 1-2 1 15 1-17 1-19 1 22 1 2 1-1 1 9 1-15 1-5 1-19 1 36 1-22 1 1 1 23 1-7 1-7 1 11 1 5 1-4 1 4 1-2 1-9 1-6 1-25 1 16 1-17 1 10 1 38 1-34 1 11 1-3 1-11 1-8 1-8 1 14 1 0 1 13 1-4 1-6 1 25 1-16 1 27 1-13 1 18 1-54 1 17 1 39 1-69 1 34 1-5 1 5 1-7 1-31 1-10 1 29 1-20 1-4 1 11 1 6 1-19 1 22 1 12 1 11 1-24 1 34 1 2 1-9 1-7 1 6 1 9 1-16 1 21 1-17 1 52 1-48 1 3 1 15 1 1 1-29 1 8 1 44 1-16 1 17 1-23 1 21 1-19 1 14 1-5 1-36 1 4 1 41 1-6 1-2 1-18 1 16 1-11 1-7 1 15 1-30 1 19 1 5 1 13 1 0 1-3 1-18 1 22 1-4 1-1 1-5 1 2 1 12 1 35 1-28 1 2 1 8 1-25" stroke="#00ffff" stroke-width="1.6" fill="none" transform="scale(.5)"/>
<path d="M48 896l1 11 1-1 1 9 1-1 1 14 1-9 1 2 1-1 1 7 1 12 1-47 1 55 1-13 1 4 1 7 1-9 1-30 1 13 1 15 1-19 1 5 1-3 1-16 1 14 1-6 1 15 1-2 1-16 1-4 1 20 1 4 1-14 1 8 1 17 1-26 1 9 1-13 1 24 1-17 1 26 1-12 1 5 1-7 1 9 1-5 1 5 1 7 1-13 1-18 1 8 1 0 1 3 1-12 1 39 1-26 1-18 1-2 1 17 1-13 1 36 1-12 1-25 1-15 1 28 1-30 1 32 1 10 1-19 1 2 1 16 1 17 1-19 1 5 1-9 1 1 1-8 1 31 1-14 1-15 1 11 1-8 1-33 1 38 1-8 1-3 1 4 1 11 1-30 1 25 1 3 1-7 1-2 1-2 1-11 1 22 1-14 1-1 1 4 1 6 1-6 1 0 1-19 1 43 1-26 1 22 1-16 1-35 1 15 1 23 1-15 1-2 1 7 1-2 1-14 1 46 1-24 1-3 1-14 1 2 1 13 1 24 1-9 1-9 1-2 1 5 1 21 1-9 1-6 1-9 1 28 1-24 1-10 1 17 1-15 1 19 1-16 1 29 1-25 1 7 1-25 1 3 1 6 1 19 1-25 1 4 1 34 1-28 1 29 1-20 1 8 1 7 1-23 1 23 1 2 1-1 1-18 1 15 1-2 1 9 1-18 1 35 1-43 1-1 1 29 1 18 1-25 1 2 1-16 1 16 1-14 1 11 1 4 1-16 1-19 1 19 1 4 1-1 1 0 1-2 1-6 1 10 1 13 1 4 1-20 1-11 1 28 1-11 1 8 1-6 1-1 1-11 1 17 1-30 1 13 1-12 1 9 1-10 1 29 1-33 1 10 1 32 1-29 1-7 1-7 1 34 1-12 1-14 1 6 1 18 1-19 1 18 1-12 1-14 1 10 1 0 1-15 1 18 1 3 1-6 1-1 1 0 1-2 1-15 1 21 1 6 1-9 1 6 1 1 1-1 1 0 1-16 1-3 1 30 1-30 1 21 1-28 1 23 1 12 1 2 1-13 1-5 1 9 1 7 1-24 1-3 1 25 1 16 1-41 1 24 1-27 1-8 1 9 1-4 1-48 1 22 1-27 1 33 1-6 1 19 1-9 1 16 1-17 1 26 1-9 1 12 1 22 1-14 1 14 1-3 1-7 1 5 1-5 1-11 1 7 1-3 1 4 1-21 1 3 1 29 1-26 1-8 1 11 1 4 1-17 1 0 1 34 1-4 1 1 1-12 1 11 1 27 1-39 1 20 1-18 1 8 1 12 1-1 1-27 1 20 1-3 1-29 1 23 1-1 1 8 1-5 1 0 1 8 1 14 1-31 1 6 1-3 1-6 1 12 1-3 1-24 1 30 1-8 1 12 1-13 1 5 1 18 1-22 1 17 1-15 1 21 1 14 1-11 1-4 1-19 1 12 1-8 1 0 1-7 1 19 1-2 1-21 1 19 1-4 1 14 1-33 1 13 1 20 1-16 1 15 1-24 1-8 1 27 1-26 1 27 1-6 1 7 1 5 1-33 1 5 1-22 1-21 1-1 1-4 1-12 1 8 1 2 1-2 1 1 1 17 1-3 1-7 1 21 1-4 1 26 1-2 1 9 1-10 1-11 1 12 1 7 1-2 1-9 1 17 1-29 1 6 1 10 1-4 1 14 1 4 1-2 1-12 1 3 1 7 1-13 1 10 1-30 1 34 1-10 1-21 1 23 1 14 1-21 1-10 1 44 1-55 1 58 1-21 1 8 1-10 1 6 1 8 1-4 1-27 1 29 1 15 1-34 1 36 1-40 1 24 1-5 1 7 1-2 1 2 1-2 1 0 1 19 1-51 1-7 1 34 1 0 1 11 1-13 1-4 1-32 1 25 1 24 1 3 1 10 1-24 1-28 1 50 1-7 1-1 1-17 1 6 1 8 1 11 1-16 1-8 1 13 1-24 1 9 1-34 1 19 1 1 1-14 1 15 1-8 1 1 1 23 1-20 1-18 1 2 1 23 1-27 1-1 1 26 1-13 1 1 1 2 1 13 1-14 1 14 1-13 1 41 1-4 1-27 1 21 1-37 1 36 1-3 1-24 1 15 1-21 1-21 1-5 1 41 1 0 1-6 1-1 1-9 1-34 1 10 1 24 1 4 1-22 1 19 1-20 1 20 1-6 1 9 1-9 1-7 1 24 1 25 1-12 1-11 1 34 1-30 1 3 1 16 1 3 1-21 1 33 1-42 1 20 1-25 1 54 1-28 1-2 1-1 1 10 1 22 1-32 1 17 1 3 1 0 1 7 1-8 1 21 1-21 1-3 1-16 1-12 1 55 1-22 1-14 1 23 1-37 1 3 1-13 1 12 1-10 1 22 1-14 1 0 1 32 1 6 1-17 1-5 1 30 1-12 1 2 1 13" stroke="#00ff99" stroke-width="1.6" fill="none" transform="scale(.5)"/>
<path d="M48 913l1 31 1-22 1-24 1 11 1 29 1-31 1 4 1-27 1 41 1-15 1-6 1 23 1-6 1-12 1-8 1-4 1 6 1-10 1 26 1-24 1 0 1 23 1-4 1 3 1 6 1-3 1-18 1 34 1-8 1 12 1 5 1 0 1-19 1 0 1 8 1-15 1 12 1 2 1-11 1-6 1-8 1-7 1 37 1-24 1 0 1 28 1-37 1 34 1-28 1 29 1-9 1-21 1 23 1-35 1 38 1-13 1-2 1-1 1 1 1 8 1 10 1-49 1 8 1-10 1 15 1 16 1-5 1 9 1-16 1-2 1-17 1-4 1 10 1 21 1-2 1-12 1 10 1-9 1 13 1-11 1-35 1 35 1-20 1 27 1-36 1 34 1-8 1-26 1 46 1-37 1 28 1-26 1 20 1 12 1 2 1 6 1 20 1-29 1 5 1-7 1-14 1 27 1-17 1 13 1-9 1 4 1 9 1-1 1-15 1 13 1-25 1 6 1 12 1 8 1-15 1-7 1-18 1 20 1 22 1-9 1-25 1 1 1 32 1-20 1 25 1 9 1-8 1-10 1-7 1 9 1 4 1-10 1 2 1 10 1-7 1-2 1-2 1 32 1-28 1 11 1-5 1 27 1-19 1-8 1-1 1 12 1-15 1 7 1 8 1-9 1-1 1-9 1 37 1-49 1 35 1 3 1-1 1-33 1 18 1 9 1 7 1-3 1-5 1-15 1 19 1-17 1 11 1-1 1-5 1 19 1 11 1-8 1-46 1 18 1 15 1-16 1 4 1 14 1 1 1 13 1-22 1-18 1-7 1 12 1 7 1 0 1-24 1 9 1 8 1-18 1 26 1-9 1-18 1 3 1 13 1 4 1 31 1-21 1-1 1-6 1 5 1-20 1 18 1-11 1 8 1 9 1-7 1 11 1 3 1-3 1 1 1-13 1-22 1 23 1 12 1-5 1-6 1 2 1 6 1 2 1-3 1-1 1 10 1-1 1-5 1 0 1 1 1 10 1 15 1-43 1 21 1-5 1-19 1 33 1-14 1-13 1 17 1-17 1 18 1-25 1 9 1-13 1-9 1 34 1-5 1-23 1 29 1-38 1 21 1-8 1 24 1-22 1-9 1-17 1-1 1 5 1-22 1 13 1 2 1-6 1-16 1-3 1 4 1 6 1 18 1 34 1-12 1 2 1 19 1-5 1-9 1 9 1-9 1 36 1-28 1 6 1 2 1 8 1 8 1-7 1 12 1-18 1 0 1-2 1 14 1-8 1 8 1-18 1-6 1 0 1-9 1 10 1-10 1 21 1-32 1 0 1 16 1-10 1 47 1-25 1 12 1 2 1-10 1 3 1-7 1-13 1 10 1 3 1-15 1 15 1 10 1 19 1-23 1 8 1-23 1 9 1 20 1-8 1-36 1 20 1-16 1 16 1-10 1 0 1 17 1 0 1 6 1-21 1 29 1-26 1 1 1 8 1 18 1-29 1 24 1-12 1 2 1-12 1 25 1-30 1 22 1-21 1 13 1-13 1-6 1 20 1-1 1-20 1 22 1-4 1-12 1-25 1 20 1-10 1-11 1-31 1 9 1 20 1 1 1-6 1-11 1 10 1-4 1 21 1 2 1-14 1 15 1-10 1 28 1-9 1 24 1-10 1-3 1-6 1-4 1 7 1-5 1 8 1 25 1-24 1 1 1 10 1-12 1 13 1 2 1-5 1-8 1 5 1-4 1 27 1-32 1 9 1-19 1 18 1-20 1 11 1-5 1 3 1 22 1-25 1 23 1-17 1-12 1 7 1 8 1-15 1 14 1-18 1 0 1 26 1-17 1-7 1-7 1 6 1 28 1-34 1 22 1 5 1-26 1 28 1 15 1-15 1-29 1-1 1 5 1 10 1 11 1-2 1-10 1 10 1 11 1-18 1-16 1 34 1-2 1-25 1 17 1-4 1 11 1 12 1-2 1 3 1-36 1 12 1 11 1-1 1-2 1 5 1 15 1 1 1-15 1 26 1-31 1 31 1-30 1-11 1 21 1-26 1 22 1-32 1 6 1 31 1-10 1-24 1 16 1-19 1 5 1 24 1-17 1 16 1-12 1 10 1-7 1 12 1 8 1-25 1-14 1 17 1 1 1 13 1-3 1-23 1-6 1-6 1 13 1-45 1 21 1-9 1-9 1 38 1-18 1-29 1 30 1 17 1-26 1-6 1 26 1 31 1-3 1 6 1 1 1-13 1 34 1-22 1-2 1-4 1 10 1-10 1 6 1 10 1-3 1-12 1 9 1-11 1-1 1 11 1-32 1 35 1-16 1 22 1-28 1 36 1-14 1-2 1-24 1 27 1-10 1 2 1 8 1-1 1 8 1 18 1-17 1 1 1-36 1 42 1 27 1-41 1 12 1-30 1 21 1 30 1-48 1 21 1-2 1 13 1-13 1 6 1-1" stroke="#00ff00" stroke-width="1.6" fill="none" transform="scale(.5)"/>
<path d="M48 905l1 4 1-17 1 13 1-8 1-3 1 25 1-11 1 5 1 13 1-20 1-17 1 33 1-8 1 2 1-5 1 7 1-5 1-15 1 25 1-12 1 4 1 20 1-7 1-2 1 13 1-6 1-10 1-5 1 2 1 2 1 14 1 0 1-1 1-21 1 13 1 4 1-15 1-19 1 13 1 6 1-16 1 27 1-8 1-22 1 9 1-5 1 25 1-15 1-18 1 30 1-29 1 4 1 16 1-1 1 1 1-7 1 29 1-17 1-8 1 3 1-23 1 21 1-8 1 25 1-21 1 16 1-11 1-9 1-2 1 26 1 6 1-3 1-6 1 2 1-8 1 1 1-3 1-17 1-10 1 11 1-27 1 52 1-50 1 39 1-1 1 19 1 7 1-17 1-46 1 2 1 33 1 7 1-1 1 13 1-14 1-29 1 28 1-16 1 22 1 22 1-25 1-16 1 8 1-2 1 9 1-3 1-12 1-19 1 26 1 3 1 6 1-27 1-10 1 12 1 16 1-12 1-4 1 32 1-35 1 5 1-7 1 41 1-12 1 11 1-5 1-3 1 32 1-20 1 8 1-6 1 2 1 12 1-6 1-9 1 15 1-9 1 9 1-19 1 18 1-20 1 1 1 6 1-14 1 11 1 20 1-9 1-10 1 16 1-18 1-7 1 8 1 9 1-30 1 12 1 5 1-26 1 9 1 3 1 23 1-20 1 22 1-21 1 0 1 2 1 42 1-15 1-37 1 29 1-4 1 6 1-3 1-22 1 7 1 4 1 8 1 5 1-3 1 6 1-6 1 18 1-25 1-16 1 27 1 2 1-10 1-6 1 17 1-7 1-13 1-15 1 22 1-5 1 6 1-34 1 44 1-16 1-8 1-7 1 30 1 2 1-19 1-3 1 13 1 4 1-10 1 3 1 3 1 11 1-22 1-1 1 22 1-7 1 4 1-26 1 0 1 15 1-17 1 17 1 14 1-12 1 9 1-11 1-2 1 13 1-11 1 10 1 23 1-25 1-4 1 8 1-12 1-8 1 1 1-2 1 33 1-31 1 17 1-3 1 9 1-16 1 25 1-33 1-6 1 17 1-17 1 35 1-26 1 14 1-22 1 22 1-24 1-7 1 13 1-35 1 8 1-16 1-11 1 31 1-7 1-4 1-20 1 19 1 5 1 1 1 11 1-4 1 12 1 5 1 25 1-6 1 1 1-2 1-29 1 44 1-17 1 6 1-10 1-20 1 27 1-2 1 28 1-51 1 17 1 10 1-17 1 28 1-29 1 16 1-18 1 19 1-2 1 11 1-2 1-34 1 15 1 3 1 6 1 29 1-22 1-22 1 15 1 7 1 12 1-14 1 5 1-12 1-4 1 17 1-20 1 37 1-13 1 9 1-14 1-20 1-5 1 32 1-41 1 26 1 13 1 3 1-25 1-2 1-9 1-7 1 25 1-17 1 34 1-33 1-13 1 24 1 16 1 0 1 6 1-48 1 37 1-11 1-3 1-18 1 24 1-15 1 11 1 3 1 2 1 14 1-15 1 8 1-5 1 0 1 0 1-5 1-9 1 17 1-29 1 1 1-5 1 9 1-46 1 23 1-11 1 10 1 13 1-12 1-3 1 16 1-7 1 8 1 1 1 17 1 2 1-4 1 5 1 15 1-5 1 9 1 1 1-40 1 21 1 6 1-25 1 25 1-20 1-9 1 38 1-21 1 13 1-21 1 11 1-13 1 3 1 24 1-18 1 12 1-9 1 2 1-31 1 57 1-30 1-1 1-3 1 9 1-32 1 29 1 12 1 4 1-9 1 8 1 0 1-13 1 20 1-18 1 7 1-30 1 14 1 23 1-11 1 20 1-23 1 27 1-14 1 1 1 19 1-24 1 26 1-15 1-13 1-11 1-1 1-8 1 22 1-5 1-14 1-1 1 22 1-9 1 5 1 0 1 10 1 6 1-24 1-8 1 17 1-24 1 12 1-7 1 12 1-27 1 26 1 10 1 4 1-8 1 7 1-16 1 5 1 8 1 14 1-27 1 18 1-16 1-21 1 23 1 35 1-8 1-33 1 13 1 27 1-18 1-17 1 23 1-51 1-1 1 35 1 5 1-4 1 23 1-30 1-3 1 10 1 7 1-15 1 12 1-29 1-9 1-11 1 17 1-26 1-1 1-9 1 7 1 7 1 21 1-41 1 33 1-12 1 5 1 12 1-3 1-2 1 4 1 27 1-8 1-9 1 13 1 16 1-6 1 17 1-23 1 9 1 6 1-10 1 2 1 8 1-12 1-5 1 25 1-13 1 12 1 4 1-25 1 7 1 5 1 14 1-10 1 5 1-20 1 28 1-7 1-2 1 7 1-18 1 30 1-20 1-6 1 34 1-44 1 18 1-19 1 57 1-45 1 48 1-22 1-18 1 22 1 18 1-20 1-6 1 7 1-1 1-4 1 5" stroke="#66ff00" stroke-width="1.6" fill="none" transform="scale(.5)"/>
<path d="M48 931l1-25 1 24 1-22 1 2 1-2 1 0 1 17 1-17 1 1 1 7 1 7 1-16 1 19 1-18 1-7 1-4 1 29 1-24 1 23 1-2 1-8 1 5 1-12 1 22 1-15 1-17 1 10 1-3 1 16 1-10 1 7 1 10 1 4 1-1 1 5 1-7 1-10 1-8 1 27 1-22 1 12 1 0 1-14 1 29 1-18 1-30 1 38 1 0 1-27 1 2 1 1 1-1 1 9 1-2 1 26 1-7 1-30 1 21 1 3 1 15 1-31 1 21 1 1 1-36 1 45 1-25 1-8 1 6 1-2 1-6 1 15 1-10 1-28 1 22 1-7 1 33 1-25 1 1 1 12 1-41 1 25 1 14 1-11 1-3 1 6 1 4 1-14 1-22 1 14 1 16 1-11 1 26 1-38 1 37 1-14 1 18 1-12 1 19 1-23 1-13 1 13 1 27 1-7 1-3 1-16 1 3 1 3 1-29 1 13 1 21 1 1 1 11 1 2 1-21 1 14 1-1 1 5 1-35 1 26 1-16 1 28 1 2 1-22 1 20 1-4 1-6 1-16 1 2 1 11 1-5 1 27 1 8 1-21 1 7 1 11 1-7 1-19 1 6 1 11 1-31 1 22 1 4 1-24 1 25 1 4 1-13 1 15 1-34 1 20 1-9 1-1 1-15 1 14 1-8 1 3 1 43 1-37 1 38 1-46 1-8 1 31 1 11 1-35 1 28 1 2 1-4 1-19 1 27 1-17 1 28 1-18 1 3 1-30 1 16 1 4 1 22 1-4 1-24 1-10 1 0 1-5 1 43 1-16 1-13 1 14 1-4 1-10 1-14 1 14 1 3 1-20 1 1 1 9 1 18 1 5 1-14 1-11 1 13 1 13 1-24 1 10 1 6 1 1 1-6 1 1 1 0 1 16 1-16 1 4 1 8 1 0 1-14 1 4 1 15 1-8 1 3 1-2 1-12 1 13 1 6 1-11 1-2 1-8 1-15 1 34 1-7 1 15 1-24 1 9 1-26 1 5 1 32 1-21 1 4 1-2 1 2 1 11 1-14 1-10 1 1 1-4 1 14 1 0 1 4 1-6 1-3 1-6 1 3 1 14 1-14 1-27 1 17 1-21 1-10 1-3 1 31 1-37 1 25 1-12 1-18 1 39 1 15 1-22 1 0 1 3 1 14 1 7 1 21 1-9 1 20 1-20 1-9 1-18 1 25 1-11 1 12 1-8 1-4 1 5 1 6 1 15 1-18 1 7 1-8 1 5 1-4 1 0 1 22 1-5 1-5 1 12 1-18 1 6 1 7 1-11 1 23 1-47 1 4 1 23 1-18 1-1 1 12 1 1 1-16 1 20 1 12 1-16 1-22 1 22 1 3 1 6 1-10 1 2 1 4 1-21 1 9 1 7 1 18 1-27 1 9 1-17 1 18 1-17 1 9 1-8 1 6 1 9 1-6 1-8 1-8 1 21 1 14 1-20 1 8 1-10 1 1 1-11 1 28 1-8 1 6 1 1 1-22 1 8 1 17 1-13 1 5 1-3 1-15 1 4 1 9 1 11 1 3 1-25 1 9 1-44 1 17 1-9 1-18 1-3 1 15 1-11 1 8 1 8 1-11 1 5 1 12 1-2 1 27 1-4 1 7 1-4 1 4 1-9 1 18 1-24 1 27 1 4 1-21 1-6 1-2 1 13 1-6 1 3 1 27 1-5 1-8 1-33 1 11 1 26 1-23 1 15 1 6 1-13 1-12 1 20 1-10 1 22 1-36 1-1 1-6 1 5 1-6 1 33 1-14 1-3 1 11 1 7 1-1 1 1 1-13 1 8 1 3 1 0 1 21 1-33 1 5 1 18 1 9 1-8 1-5 1-20 1 13 1 19 1-20 1 1 1 8 1-9 1-12 1-15 1 38 1 3 1 11 1-23 1-10 1-11 1 20 1 12 1-16 1-16 1 19 1-13 1 15 1-32 1 33 1-32 1 16 1 30 1-5 1-32 1 15 1-17 1 17 1 17 1-8 1-10 1 22 1-37 1 13 1-7 1-4 1 23 1-22 1-2 1 3 1 7 1-8 1 16 1 2 1-2 1-10 1 2 1-2 1-9 1 3 1 1 1 27 1 9 1-15 1-13 1 13 1-9 1-29 1 6 1 18 1-5 1-33 1-13 1 16 1 2 1-21 1 39 1-12 1-11 1 26 1-9 1 4 1 13 1 12 1 14 1-31 1 39 1-13 1-15 1-9 1 5 1 29 1-11 1-13 1 7 1 10 1 14 1-11 1-16 1 11 1-5 1-23 1 27 1-2 1 4 1-11 1 12 1-3 1 1 1-28 1 50 1-43 1 1 1-8 1 9 1 27 1-4 1 8 1-4 1-7 1 0 1-17 1 46 1-20 1-2 1 9 1 13 1 19 1-29 1 9 1-4 1 5 1-20 1 36 1-17" stroke="#ccff00" stroke-width="1.6" fill="none" transform="scale(.5)"/>
<path d="M48 899l1 11 1-15 1 13 1-8 1-19 1 14 1-4 1 20 1 23 1-18 1-29 1 16 1 17 1 15 1-21 1-9 1 3 1 12 1 2 1-8 1-1 1 14 1-11 1 18 1-1 1-10 1-2 1-7 1 2 1 16 1-28 1 23 1-8 1 2 1 7 1-10 1 12 1-20 1 4 1 19 1-29 1 33 1-22 1 18 1-23 1-8 1 38 1-18 1-5 1 2 1-17 1-2 1 15 1 2 1 14 1-2 1-13 1 4 1-26 1 24 1-8 1 5 1 14 1-22 1-7 1 9 1 33 1-36 1 17 1-3 1-3 1-23 1 30 1-2 1-37 1 35 1 0 1-2 1-23 1 18 1-6 1 31 1-17 1 5 1-8 1-9 1 18 1-18 1 23 1-29 1-4 1 20 1 11 1-4 1-17 1-13 1 27 1-7 1 9 1-21 1-11 1-3 1 28 1 5 1-21 1 13 1-1 1-22 1 11 1 3 1-5 1-10 1 28 1 4 1-17 1-2 1 25 1-1 1 2 1-19 1-18 1 33 1-8 1 20 1-2 1-31 1 35 1-14 1 26 1-23 1-3 1-5 1 27 1-29 1 4 1 8 1 10 1 8 1-22 1 13 1-4 1-4 1-17 1 26 1-3 1-21 1 21 1-9 1 10 1-24 1 17 1 11 1-7 1-18 1-2 1 37 1-30 1-2 1 16 1-9 1-2 1-7 1-14 1 21 1 2 1-21 1 16 1 15 1-4 1 1 1-20 1 24 1-10 1-5 1 5 1 18 1-21 1 1 1 9 1 2 1 16 1-36 1 32 1-10 1-19 1 12 1-11 1 5 1 0 1-16 1 36 1 3 1-16 1-15 1 3 1 17 1 3 1-20 1 5 1 0 1 12 1-15 1 7 1 9 1-5 1-8 1-10 1 3 1-8 1 6 1 5 1 13 1-11 1-5 1 35 1-23 1-10 1 8 1 3 1-2 1 16 1-15 1 8 1-17 1 5 1 4 1 2 1 16 1-1 1-5 1 19 1-13 1 3 1 3 1-13 1-22 1 29 1-27 1 23 1-9 1 14 1-40 1 29 1 0 1-17 1-5 1 28 1-26 1 14 1-18 1 11 1-18 1-11 1-14 1 1 1-26 1 9 1 30 1-14 1 7 1 7 1-14 1 21 1-21 1 22 1-10 1 24 1 9 1 2 1-5 1 6 1-4 1 11 1 10 1 5 1-34 1 1 1 24 1 10 1-15 1 4 1-17 1 10 1-8 1 6 1-6 1 11 1-5 1 16 1-21 1-6 1 30 1-9 1-2 1 10 1-24 1-5 1 36 1-12 1-8 1-4 1-4 1 10 1-11 1 15 1-7 1 0 1-27 1 28 1 12 1-24 1-10 1 10 1 4 1-17 1 27 1-36 1 18 1 22 1-16 1-14 1-6 1 1 1 17 1 0 1 2 1-1 1-9 1 17 1-20 1 6 1 20 1-25 1 15 1-11 1 12 1 2 1-11 1 11 1-9 1-20 1 40 1-2 1-10 1-3 1 2 1 21 1-7 1-15 1 1 1 12 1-15 1-7 1-18 1-15 1-26 1 40 1-29 1 0 1-16 1 19 1-13 1 3 1 26 1 18 1-25 1 10 1 10 1 9 1 14 1 7 1-31 1 19 1-8 1 12 1-23 1 30 1-5 1-21 1 20 1-19 1 11 1-3 1 3 1 12 1-1 1-4 1-6 1 14 1-5 1-11 1 8 1 8 1-14 1-14 1 17 1 9 1 6 1-2 1 8 1-23 1 18 1-5 1-7 1 6 1-10 1-4 1 8 1 5 1-1 1-1 1 6 1 6 1-4 1-12 1 7 1-6 1 2 1 6 1-18 1-4 1 34 1-14 1-11 1 7 1 10 1-21 1 11 1 6 1-20 1-10 1 24 1 2 1-8 1-3 1 14 1 6 1-12 1 6 1 3 1-19 1 21 1-34 1 7 1 14 1 32 1-13 1-11 1-34 1 9 1 12 1-12 1 12 1 14 1-9 1 8 1-5 1 17 1-18 1 12 1 12 1-56 1 57 1-13 1-11 1-4 1 0 1-1 1-5 1-10 1 22 1-15 1 2 1 12 1 1 1 2 1 2 1-26 1 17 1-14 1 3 1 5 1-19 1-29 1 4 1 9 1 10 1-22 1-8 1 30 1-10 1 6 1-16 1 24 1-13 1 21 1 15 1-27 1 39 1-17 1-1 1 3 1 31 1-2 1-38 1 30 1-9 1 10 1 1 1-31 1 34 1-6 1-24 1 26 1-14 1-3 1-14 1 11 1 17 1 1 1-23 1 18 1 8 1 13 1-28 1 13 1-13 1 19 1-30 1 15 1 40 1-25 1-14 1 17 1-5 1-11 1 40 1-14 1 3 1-26 1 37 1-16 1 4 1 2 1-11 1 27 1-13 1 29 1-15" stroke="#ffe000" stroke-width="1.6" fill="none" transform="scale(.5)"/>
<path d="M48 922l1-25 1 32 1-22 1 5 1-8 1-7 1-5 1 16 1 18 1-30 1 27 1-7 1 1 1-17 1 10 1 2 1-3 1 10 1-20 1 23 1-23 1 11 1 10 1-4 1-2 1 13 1-23 1 18 1 6 1-25 1 26 1-3 1 2 1 2 1 0 1-2 1-2 1-3 1 16 1 1 1-5 1 12 1-5 1-18 1-7 1-13 1 36 1-36 1 11 1 15 1-3 1-9 1-22 1 6 1 16 1 28 1-28 1-4 1 24 1-32 1 8 1 12 1-18 1-2 1 2 1 0 1 0 1 7 1-1 1-8 1 30 1-28 1-18 1-5 1 55 1-26 1 5 1 4 1 11 1-13 1 3 1-30 1 1 1 15 1 23 1 6 1-18 1-21 1-7 1 17 1 25 1-21 1-7 1-4 1 38 1-27 1-20 1 28 1-14 1-15 1 19 1 0 1 8 1-18 1 16 1-16 1 2 1 11 1-3 1 9 1-13 1 1 1 2 1-3 1 6 1 5 1 3 1 7 1-10 1-9 1 14 1 0 1 3 1-8 1-14 1-9 1 36 1-1 1 2 1-15 1-7 1 8 1-6 1-3 1 23 1-15 1 4 1 8 1-14 1 4 1 8 1 5 1 11 1-9 1-14 1 11 1 1 1 3 1-8 1-12 1 8 1 17 1 13 1-47 1 29 1-22 1 26 1-12 1 7 1-6 1 17 1-7 1 4 1-30 1 34 1 8 1-29 1-2 1 16 1-21 1 7 1-1 1-10 1 34 1-22 1-1 1 13 1-23 1 7 1 20 1-15 1-18 1 13 1-3 1 3 1-23 1 26 1-16 1 22 1 3 1-10 1 2 1 1 1 0 1-4 1-2 1 17 1-27 1 22 1-25 1 42 1-49 1 14 1 10 1 11 1-29 1 35 1-22 1 21 1 4 1-17 1-2 1 5 1-12 1 7 1-11 1 22 1 18 1 1 1-24 1 20 1-8 1-12 1 21 1-22 1 10 1 13 1-23 1 0 1 24 1-46 1 31 1 8 1-12 1-4 1-8 1 35 1-35 1 14 1 4 1-25 1 6 1 2 1-1 1-8 1 15 1 3 1-2 1 9 1-33 1 17 1-53 1 4 1-8 1 17 1 5 1-21 1 25 1-28 1 25 1-8 1 17 1 11 1 2 1-14 1 36 1 10 1-11 1-9 1 16 1-15 1-8 1 10 1 3 1-15 1 28 1-15 1 3 1 12 1-4 1 1 1-2 1-9 1-22 1 16 1 25 1-20 1-17 1 27 1 2 1-3 1-13 1 0 1 8 1-5 1 0 1 18 1 7 1-17 1-3 1 4 1 16 1-3 1-16 1-6 1-6 1 9 1 1 1-10 1 14 1 9 1 16 1-33 1-13 1 26 1-7 1 13 1-6 1-7 1 9 1-9 1 1 1-18 1 15 1 1 1 16 1-35 1 8 1 33 1-40 1 4 1 15 1-9 1-15 1 16 1 14 1-12 1-20 1 22 1-25 1 33 1-13 1 16 1-6 1-13 1-2 1-2 1 17 1 8 1-12 1-7 1-3 1-27 1-1 1-5 1-9 1-8 1 1 1 8 1-6 1 2 1 6 1-11 1-2 1 34 1-8 1 31 1-2 1-4 1 28 1-13 1-6 1 11 1 7 1-13 1 17 1-29 1 12 1-20 1 14 1 12 1-13 1 0 1-5 1 31 1-29 1-1 1 21 1-35 1 6 1 0 1 1 1 11 1-28 1 32 1-34 1 14 1 2 1 5 1-5 1 7 1-8 1 4 1-2 1 7 1 2 1 11 1 3 1-10 1 5 1 19 1-25 1 9 1 18 1-4 1-4 1-1 1 1 1-3 1 16 1-25 1 5 1-7 1 16 1-15 1 0 1 20 1-22 1-8 1 31 1-6 1 1 1-7 1-19 1 18 1-25 1 12 1-7 1-8 1 19 1-3 1 2 1 9 1-13 1 4 1 4 1 27 1-18 1-16 1 0 1 18 1 16 1-45 1 8 1 1 1 4 1-10 1 21 1-30 1 43 1-17 1-32 1 31 1-24 1-13 1 27 1 4 1-13 1 7 1-8 1-5 1 24 1-1 1-2 1-1 1-16 1 13 1-1 1-5 1-16 1 13 1-21 1 2 1 3 1-27 1 11 1-5 1 8 1-26 1 0 1 16 1 23 1 11 1-6 1 6 1-33 1 58 1-33 1 15 1 7 1 13 1-12 1 7 1 2 1-8 1 10 1-5 1 3 1 22 1-18 1 12 1-7 1-2 1-9 1 7 1-6 1-20 1 6 1 7 1 4 1 17 1-5 1-13 1-5 1 32 1-25 1-3 1 19 1 6 1-38 1 26 1-17 1 4 1 7 1 13 1-19 1 29 1 1 1 8 1-10 1 18 1-39 1 29 1-4 1-1 1-12 1 23 1-2 1-20" stroke="#ff8f00" stroke-width="1.6" fill="none" transform="scale(.5)"/>
<path d="M48 903l1-5 1 9 1 2 1-11 1 14 1 5 1-5 1 4 1-5 1-23 1 18 1 25 1-9 1-9 1-9 1 4 1 6 1 4 1-6 1-6 1 8 1 5 1 3 1 7 1-8 1-8 1-6 1-2 1 20 1-7 1 19 1-28 1 28 1-22 1-2 1 7 1 14 1-17 1 17 1-12 1 7 1-14 1 12 1 1 1 2 1-15 1 3 1-14 1 14 1 4 1 0 1 19 1 0 1-13 1-15 1 14 1-10 1 8 1-5 1-3 1 4 1 14 1-27 1 33 1-21 1 8 1-18 1 19 1-24 1 19 1 14 1-13 1-35 1 32 1-9 1-7 1-14 1 28 1-25 1 11 1-17 1 47 1-51 1 51 1-29 1-18 1 27 1-34 1 27 1-5 1-14 1 16 1 12 1 5 1-15 1 15 1-16 1-2 1-14 1 15 1 1 1 22 1-33 1 22 1 9 1-34 1 27 1-19 1-1 1 3 1-10 1 11 1 31 1-18 1 13 1-1 1-14 1 16 1-10 1 7 1-10 1-3 1 9 1-3 1-1 1 5 1 6 1-3 1-1 1-10 1-5 1 9 1 13 1-28 1 21 1-1 1 22 1-25 1-4 1-5 1 25 1-8 1 17 1-2 1 4 1-3 1-6 1-7 1 4 1-30 1 29 1-5 1-3 1-8 1 7 1 17 1 3 1-8 1 7 1-20 1 13 1 0 1-12 1 1 1 4 1 18 1-24 1-1 1 2 1 6 1 0 1-1 1-18 1 38 1-9 1-10 1 2 1 1 1 2 1-2 1-12 1 22 1-17 1-13 1 7 1 6 1-19 1 18 1 10 1-22 1 26 1-23 1 2 1 0 1 2 1-1 1 19 1-21 1 1 1-13 1 20 1-10 1-2 1-2 1 15 1 4 1-19 1 24 1-6 1-10 1 22 1-27 1 21 1-6 1-11 1 18 1 14 1-25 1 9 1-6 1-6 1 5 1 9 1 5 1-6 1-8 1 19 1 6 1-26 1 17 1-6 1 1 1-11 1-3 1 13 1 13 1-8 1-23 1 16 1 3 1-5 1-15 1-14 1 26 1 3 1-2 1-5 1-18 1 7 1-1 1 5 1-33 1-1 1 16 1-17 1 15 1-1 1-3 1 8 1-25 1 8 1-14 1-4 1 24 1 27 1-14 1 9 1 1 1 2 1 22 1-10 1-21 1 13 1-16 1 7 1 27 1 3 1-21 1 3 1 0 1 3 1 4 1-7 1 14 1-11 1 1 1-3 1-4 1 18 1-4 1-6 1-14 1 26 1-4 1-11 1 13 1 11 1-12 1 10 1-26 1 32 1-11 1-7 1 19 1-38 1 30 1-7 1 0 1 2 1 5 1-20 1-12 1 17 1-1 1-17 1-10 1 29 1 3 1 5 1-19 1-10 1-3 1 12 1-2 1 27 1-37 1 31 1-12 1-1 1 3 1-5 1-5 1 12 1-14 1-6 1 13 1-4 1 14 1-4 1 12 1-22 1 19 1-36 1 36 1-14 1-9 1-2 1 23 1 9 1-13 1-21 1 29 1-27 1 0 1-26 1 13 1-27 1 13 1-4 1 6 1-17 1 3 1 2 1 15 1 10 1 0 1 16 1 11 1 13 1-18 1 14 1-9 1-1 1-1 1 11 1-9 1-10 1 20 1-12 1 1 1-2 1-3 1-10 1 0 1 21 1-22 1 7 1 1 1-10 1 14 1-9 1 3 1 3 1 7 1-18 1 12 1-12 1-14 1 0 1 32 1 8 1-9 1-8 1-15 1-3 1 11 1 4 1 16 1-19 1 20 1 4 1-7 1 3 1-5 1 9 1-14 1 17 1 1 1 10 1 1 1-10 1 10 1-25 1 25 1-27 1 17 1-5 1-14 1-4 1 13 1 11 1-10 1-15 1 20 1-19 1 31 1-26 1-2 1-1 1 5 1 6 1-2 1 1 1-8 1-11 1 0 1 17 1-20 1 17 1 21 1-13 1-29 1 10 1-9 1 23 1-29 1 0 1 9 1 14 1-3 1 8 1-17 1 21 1-8 1-24 1-1 1 23 1-2 1-24 1 39 1-14 1 3 1 5 1-16 1 9 1 3 1 7 1 4 1-16 1 0 1 15 1-24 1-8 1 5 1-19 1-9 1-1 1-9 1-7 1 23 1 7 1-19 1 22 1 5 1 20 1 3 1-16 1-3 1-10 1 48 1-7 1-4 1-9 1 29 1 0 1-41 1 2 1 38 1-42 1 26 1 1 1 1 1-7 1 7 1-9 1-1 1 13 1-10 1 8 1-11 1 20 1-7 1-11 1-11 1 23 1-1 1-7 1-4 1 13 1-4 1 30 1-24 1-10 1 35 1-16 1 21 1-51 1 18 1 15 1-1 1-5 1-16 1 31 1-7 1-10 1 2 1 2 1 17 1-6" stroke="#ff5200" stroke-width="1.6" fill="none" transform="scale(.5)"/>
<path d="M48 922l1-14 1-17 1-1 1 10 1 29 1-31 1 24 1-12 1-23 1 24 1-12 1 6 1-5 1-4 1 3 1 19 1-19 1 31 1-21 1-12 1 1 1 38 1-16 1-10 1 4 1 9 1-9 1 13 1 1 1-11 1 0 1 3 1 5 1-13 1 18 1-14 1 6 1 15 1 1 1-11 1-2 1 7 1 5 1-20 1 5 1 8 1-5 1-19 1 15 1-2 1-10 1 10 1-13 1 12 1 3 1-8 1 11 1-18 1 6 1 8 1-5 1 11 1 2 1-9 1 15 1-29 1 2 1 22 1-34 1 10 1 11 1 0 1 9 1-16 1-2 1 24 1-12 1 1 1 2 1-21 1 28 1-21 1 17 1-33 1 27 1-12 1 3 1 1 1 18 1-15 1-17 1 14 1 5 1 15 1 1 1-30 1 8 1 11 1 6 1-5 1 19 1-30 1-6 1 20 1-7 1-1 1 7 1-6 1 7 1-19 1-7 1 9 1 12 1 5 1-16 1-19 1 27 1-18 1-4 1 11 1 12 1-8 1 4 1-17 1 19 1 12 1-12 1 4 1 4 1-8 1 4 1 5 1 5 1-4 1 10 1 7 1 4 1-15 1 0 1-11 1 18 1-9 1 5 1-14 1 26 1-26 1 17 1 10 1-27 1 28 1 5 1-41 1 2 1 14 1 7 1-7 1-3 1-16 1 15 1-18 1 41 1-11 1-17 1 7 1 25 1-20 1 5 1 8 1-21 1 23 1-18 1 10 1 9 1-6 1-10 1 15 1-20 1-3 1 3 1 11 1-8 1 4 1-3 1-12 1 0 1 1 1-8 1 21 1-34 1 31 1-19 1 5 1 6 1-9 1 7 1-15 1-3 1 11 1 14 1-3 1-5 1 1 1-11 1 22 1 0 1-4 1-8 1-5 1 18 1-1 1 0 1-17 1 12 1 6 1-12 1 22 1 2 1-16 1-5 1 8 1 21 1-25 1 20 1-28 1 15 1 0 1 17 1-6 1-22 1-2 1 8 1 17 1 8 1-27 1 0 1-7 1 28 1-28 1 9 1-1 1-11 1 1 1 14 1-16 1 1 1 28 1-21 1 9 1-12 1-8 1 15 1-11 1-22 1-12 1 0 1 18 1 0 1-4 1 16 1-28 1-5 1 22 1-3 1-2 1 16 1 0 1 16 1 6 1 1 1 2 1 1 1 0 1-19 1-3 1 2 1 13 1 4 1 19 1-24 1 13 1-2 1-15 1-4 1 16 1-28 1 14 1 18 1-15 1-15 1 20 1 4 1 7 1-12 1-5 1 13 1-15 1 4 1-1 1-14 1 10 1-13 1 1 1 1 1 19 1-19 1 9 1 11 1-8 1-3 1 38 1-45 1 34 1-8 1-17 1 18 1-6 1-7 1 12 1-19 1 21 1-1 1 3 1 8 1-2 1 7 1-24 1 24 1-22 1 10 1-15 1 2 1-3 1 4 1-18 1 20 1-14 1 18 1 0 1 8 1 6 1-33 1-5 1 17 1 18 1-15 1-20 1 8 1 8 1 8 1-29 1-3 1 12 1-3 1-29 1-5 1-8 1 4 1-9 1 11 1-23 1 39 1-13 1 13 1-2 1 11 1-7 1 18 1-5 1 14 1-19 1 13 1 4 1-3 1 1 1 8 1-14 1 9 1 8 1 6 1-19 1-7 1-4 1 17 1-18 1 8 1 25 1 7 1-18 1-13 1 24 1-9 1-28 1 47 1-10 1-15 1-1 1 15 1-18 1 0 1 0 1 25 1-21 1-15 1 16 1 5 1-4 1 3 1-9 1-14 1 35 1-6 1 4 1-9 1 4 1-9 1 8 1 12 1-19 1 9 1-6 1 7 1-8 1 4 1-4 1-1 1-1 1 2 1 12 1-5 1 10 1-9 1 6 1 3 1-3 1 12 1-14 1-17 1 22 1-17 1 14 1-6 1-8 1 7 1-8 1 3 1 13 1-10 1-7 1 6 1 1 1-7 1 9 1-11 1 20 1-20 1 10 1-11 1 6 1-21 1 7 1-2 1 7 1 22 1-42 1 11 1-12 1 7 1 16 1 11 1 5 1-16 1 6 1-6 1 11 1 14 1-13 1-21 1 21 1-11 1-23 1 12 1 3 1-5 1-21 1 4 1 19 1-21 1-8 1 1 1 14 1-4 1-34 1 28 1 16 1-9 1 15 1 4 1 20 1 5 1-1 1-2 1-1 1 2 1 12 1 2 1-7 1-34 1 33 1 19 1-41 1 43 1-19 1-15 1 29 1-19 1 12 1-35 1 13 1 14 1-18 1-12 1 25 1-1 1 4 1-16 1-12 1 18 1 8 1 19 1-19 1 11 1 17 1-27 1 16 1-16 1 16 1-8 1-3 1 23 1-7 1 19 1-27 1-5 1 7 1 15 1 22 1-10 1 6 1-22" stroke="#ff2900" stroke-width="1.6" fill="none" transform="scale(.5)"/>
<path d="M48 919l1-40 1 39 1-15 1-21 1 13 1 23 1-1 1-12 1-10 1 26 1-16 1 14 1-18 1-8 1 35 1-26 1 21 1 0 1 7 1-8 1-4 1 4 1 14 1-16 1-2 1 2 1-1 1 6 1-5 1 12 1-23 1 2 1 11 1 14 1-7 1 3 1-9 1 7 1-11 1 4 1 0 1-4 1-9 1 29 1-30 1-10 1 37 1-11 1 1 1 17 1-11 1 15 1-1 1-25 1-1 1 11 1-4 1-6 1 1 1-6 1 0 1 6 1-4 1 5 1 18 1-2 1-36 1-1 1 16 1-4 1 18 1-24 1 13 1-10 1-1 1 21 1 2 1-15 1 10 1-19 1-2 1 10 1-12 1-6 1 1 1 11 1-12 1 4 1-18 1 39 1 5 1-25 1 0 1 35 1-43 1 7 1 21 1-19 1 1 1 4 1-4 1 12 1 1 1-26 1 8 1 20 1 0 1 1 1-1 1 2 1-16 1 17 1-6 1 1 1 2 1 7 1-31 1 20 1 0 1 8 1 5 1 9 1-5 1-8 1-7 1 9 1 9 1 5 1-2 1-14 1 22 1-12 1 2 1 2 1-3 1-3 1 2 1 2 1-6 1-21 1 11 1 2 1 9 1 4 1 12 1-40 1 15 1 1 1 14 1 4 1 6 1 0 1-18 1-16 1-8 1 18 1-10 1-1 1 8 1-10 1 22 1-3 1-23 1 15 1 6 1-9 1 6 1-4 1 3 1 0 1-5 1-9 1 27 1-9 1-12 1 29 1 6 1-7 1-10 1-2 1 2 1-2 1-7 1 11 1-20 1 5 1-15 1 21 1 5 1-6 1 5 1-9 1 7 1-3 1 18 1-11 1 0 1-17 1 28 1-21 1 24 1-33 1 26 1-7 1 12 1-11 1-5 1 2 1 7 1 1 1-9 1 6 1-10 1 13 1-16 1 19 1-4 1-18 1 1 1 15 1-18 1 14 1 5 1 2 1-24 1 8 1-8 1 15 1-4 1-8 1-3 1 24 1 16 1-4 1-26 1 9 1 20 1-28 1 13 1-28 1 13 1-6 1 25 1-13 1 9 1-6 1 3 1 0 1-6 1-16 1-11 1-15 1-1 1 6 1-24 1 24 1-8 1 11 1 0 1 2 1-10 1 27 1-15 1 9 1-10 1 24 1-11 1 11 1 2 1 9 1-3 1-10 1-8 1 32 1-14 1 12 1-15 1 1 1-6 1-3 1 12 1-11 1 12 1-16 1 22 1-5 1 13 1-16 1 10 1-9 1-1 1 12 1-2 1-7 1-12 1-8 1 4 1 24 1-15 1-1 1 11 1-18 1 11 1-14 1 16 1 23 1-19 1-6 1 3 1-4 1 1 1-8 1 10 1 3 1-27 1 29 1-2 1-14 1 28 1-12 1 6 1-15 1-14 1 18 1-5 1-15 1 24 1-10 1 0 1 22 1-10 1-9 1 1 1 0 1 5 1 4 1 4 1-26 1 9 1-14 1 4 1 16 1 2 1 1 1-10 1 5 1-9 1 16 1 10 1-21 1 1 1 8 1-19 1-36 1-4 1 4 1 11 1-25 1 1 1 19 1-2 1-9 1 11 1-2 1 6 1 4 1 24 1 7 1 6 1-3 1-12 1 21 1-16 1 11 1-3 1-3 1 3 1-7 1 16 1-22 1 13 1-5 1 11 1 16 1 1 1-31 1 9 1-24 1 17 1 1 1 2 1-12 1 3 1 7 1-13 1 19 1 6 1-12 1 0 1 3 1-8 1 8 1 10 1-2 1-8 1-3 1 9 1 4 1-13 1-16 1 16 1 11 1-2 1 14 1-14 1 11 1 4 1-7 1-14 1 12 1-1 1-6 1 8 1-8 1 5 1 1 1 18 1-2 1-26 1 0 1 2 1-9 1 11 1-15 1-9 1 21 1-11 1 5 1-9 1 16 1 15 1-3 1-24 1 15 1 15 1-24 1 27 1-18 1-27 1 17 1-3 1-15 1 30 1 6 1-12 1 8 1-17 1 23 1-16 1 4 1-6 1-13 1 25 1-12 1 8 1 22 1-20 1 2 1-11 1 7 1-7 1 15 1-25 1 28 1 1 1-7 1 6 1-14 1-4 1-15 1 4 1-6 1 15 1-27 1-3 1 6 1-26 1 6 1-15 1 25 1-11 1 10 1-4 1 10 1-23 1 28 1-19 1 18 1 10 1 28 1-19 1 25 1-18 1 24 1-15 1 6 1 4 1-11 1 14 1-33 1 27 1-9 1 18 1-9 1 21 1-24 1 5 1-2 1 0 1 0 1 5 1 11 1 2 1-35 1 26 1-2 1 0 1 0 1 5 1-2 1 16 1-14 1 24 1-41 1 0 1 31 1-8 1-1 1-11 1 6 1 8 1 27 1-36 1-4 1 8 1 8 1-5 1 9 1 3" stroke="#ff0000" stroke-width="1.6" fill="none" transform="scale(.5)"/>
<path d="M48 913l1 10 1 16 1-21 1-7 1 9 1-3 1-15 1 3 1-9 1 15 1 11 1 2 1 2 1 9 1-17 1 3 1 1 1 9 1-19 1 9 1-7 1 3 1 7 1-14 1 12 1 3 1-12 1 23 1-7 1 10 1-15 1-3 1-5 1 4 1 10 1-7 1-13 1-4 1 5 1-1 1-3 1-4 1 31 1-15 1-13 1 5 1 10 1-17 1 0 1 16 1 7 1 20 1-24 1 2 1-14 1 14 1 9 1-4 1-19 1 2 1 4 1-6 1 10 1 10 1 0 1-15 1 4 1-12 1 14 1-34 1 18 1 11 1-12 1 33 1-43 1 9 1 11 1-17 1 11 1-31 1 24 1 23 1-20 1-16 1 13 1-6 1 12 1-20 1 20 1-26 1 15 1-3 1 26 1-4 1 4 1-8 1 8 1-4 1-8 1 26 1-19 1-12 1 3 1 5 1 3 1 1 1-2 1-1 1 8 1 6 1-11 1-7 1-24 1 52 1-45 1 26 1-7 1-17 1 4 1 2 1 17 1 17 1-21 1-3 1 4 1 26 1-8 1-13 1 7 1-11 1 31 1-13 1-22 1 30 1-3 1-4 1-18 1 23 1 0 1-18 1 0 1-7 1 13 1-3 1 9 1 0 1 2 1-14 1 14 1-3 1-8 1 4 1 14 1 6 1-5 1-15 1 12 1 12 1-15 1-1 1 16 1-4 1-4 1-11 1 5 1-2 1-14 1 18 1 7 1 9 1-10 1 5 1-15 1 22 1-1 1-2 1-29 1 24 1 0 1-13 1-19 1 27 1-10 1 3 1-34 1 22 1 7 1-14 1 11 1-3 1 6 1 4 1-23 1 15 1-3 1-12 1 19 1 1 1-9 1-9 1 12 1-4 1 1 1-3 1-8 1 18 1-25 1 29 1-20 1 13 1-16 1-3 1 15 1 11 1-22 1 13 1-16 1 18 1 0 1 10 1 17 1-38 1 1 1 25 1-18 1 13 1 9 1 7 1-20 1 15 1-13 1 6 1-12 1-3 1 20 1-1 1-24 1 4 1 0 1 22 1-8 1-21 1 11 1 6 1 17 1-10 1-26 1 24 1-34 1 21 1-41 1 6 1-6 1 5 1 2 1 0 1 6 1-15 1 10 1-5 1-12 1 24 1-6 1 23 1-30 1 20 1 18 1-2 1 15 1 0 1-10 1-7 1 1 1 21 1 8 1-21 1 21 1-8 1-3 1-26 1 41 1-1 1-22 1 1 1-1 1 0 1-13 1 19 1 3 1-3 1 1 1 5 1 6 1-17 1 5 1-7 1-13 1 22 1-5 1-15 1 13 1-3 1 0 1 15 1-30 1 19 1-8 1 16 1-13 1 14 1-15 1-6 1 12 1 16 1-19 1-6 1 10 1-22 1 36 1-19 1 6 1-13 1 9 1-7 1 0 1 8 1 1 1-21 1 17 1-2 1 6 1 1 1-14 1 27 1-14 1 21 1-27 1 7 1-2 1 11 1 9 1-9 1-4 1-11 1 1 1 3 1 8 1-6 1 14 1-11 1-3 1-14 1-15 1-19 1-2 1-6 1-10 1-3 1 2 1 4 1 9 1 2 1 0 1 6 1 11 1-4 1 20 1 11 1 0 1-2 1-3 1 2 1-4 1-1 1 16 1 12 1-21 1 22 1-25 1 13 1-20 1-8 1 12 1 12 1 0 1 19 1-20 1 9 1-5 1-7 1 4 1-2 1-12 1 5 1-3 1 2 1 13 1-25 1 5 1-10 1 21 1 0 1-4 1 21 1-16 1 11 1-10 1-14 1 7 1 0 1 9 1-20 1 18 1-4 1 2 1-10 1 26 1-9 1-13 1-1 1-9 1 45 1-22 1-9 1 13 1-3 1-11 1 17 1-3 1-23 1 13 1 12 1-27 1 0 1 29 1-7 1 2 1-8 1-5 1 9 1 21 1-10 1-11 1 26 1-19 1-6 1-1 1 9 1-15 1 17 1-14 1 15 1-5 1-8 1-5 1 15 1-30 1 12 1-10 1 27 1-19 1-6 1 18 1-6 1-11 1 25 1-34 1 18 1-25 1 18 1-8 1-2 1 17 1-17 1 16 1 4 1-3 1 6 1 1 1-10 1-14 1-6 1 9 1-10 1-30 1 20 1-30 1 13 1-6 1 12 1 6 1-14 1 10 1-20 1 19 1 13 1 18 1 5 1 10 1-9 1 7 1 6 1 5 1-18 1 2 1 20 1 9 1-12 1 25 1-29 1 25 1-14 1-8 1-22 1 31 1-15 1 24 1-29 1 25 1-8 1-2 1 3 1-4 1 30 1-36 1 36 1-31 1 1 1-16 1 28 1-21 1 23 1-3 1-4 1-16 1 41 1 6 1-27 1 15 1-20 1 13 1 3 1 15 1 7 1-27 1-1 1 8 1 12 1-13" stroke="#ff0000" stroke-width="1.6" fill="none" transform="scale(.5)"/>
<path d="M48 917l1-38 1 8 1 18 1 7 1 4 1 8 1 3 1-9 1-31 1 37 1 13 1-26 1 5 1 10 1-5 1-4 1-19 1 40 1-8 1-9 1-1 1 17 1-5 1-27 1 12 1-16 1 19 1-15 1 14 1 6 1-4 1-10 1 15 1 0 1 8 1-9 1 3 1-2 1 3 1-16 1 16 1 1 1-6 1-26 1 11 1 39 1-22 1-11 1-8 1 13 1 3 1-6 1-1 1 12 1-19 1 26 1-15 1-15 1 10 1-1 1 6 1-8 1-2 1 9 1-14 1 1 1 8 1-25 1 40 1-1 1 6 1-27 1-12 1 12 1 9 1-31 1 31 1-30 1 17 1 17 1-14 1-15 1 3 1 19 1 5 1-7 1-3 1-26 1 31 1-16 1 18 1 24 1-35 1 4 1 10 1-3 1-12 1 19 1-13 1 2 1 5 1 13 1-15 1-2 1-5 1 29 1-19 1 14 1-19 1-6 1 6 1 7 1 1 1 12 1-18 1-24 1 22 1-25 1 47 1-24 1-1 1 7 1-15 1 5 1 9 1-17 1 4 1 38 1-16 1 23 1-14 1-19 1 23 1 4 1 9 1-17 1 2 1-3 1 0 1-4 1 0 1-5 1 0 1 12 1-4 1-4 1 13 1-17 1-13 1 21 1-3 1-21 1 27 1-21 1 22 1-11 1-8 1 27 1-25 1 25 1-2 1-15 1 5 1-6 1 23 1-16 1 25 1-12 1 12 1-9 1-2 1-18 1-16 1 25 1-7 1-13 1 12 1-5 1 5 1-4 1 16 1-14 1 0 1-13 1 13 1-11 1 21 1-11 1 21 1-20 1 13 1 8 1-27 1 20 1-4 1-22 1 15 1-4 1-15 1 10 1 28 1-12 1-10 1 1 1 5 1-7 1-3 1-11 1 17 1-3 1 7 1 3 1 3 1 6 1-21 1-6 1 18 1 5 1 10 1-24 1 11 1-13 1 16 1-23 1 8 1 4 1 9 1-12 1 10 1 3 1 3 1-15 1 12 1 5 1-19 1-3 1 9 1 25 1-32 1 27 1-35 1 15 1 6 1-18 1 27 1-1 1-13 1-26 1 8 1 23 1-35 1 6 1-1 1-15 1 20 1-18 1 5 1 13 1-19 1-22 1 16 1 24 1 9 1-22 1 3 1 23 1-23 1 9 1 17 1-20 1 12 1 5 1 23 1-35 1 15 1-4 1 11 1 21 1-11 1 0 1-4 1-7 1-14 1 27 1 1 1-12 1 20 1-4 1-22 1 1 1-6 1 13 1-17 1 3 1 8 1-19 1 13 1-6 1 3 1 14 1-24 1 2 1-2 1 16 1 13 1-1 1-3 1-9 1 31 1-43 1 22 1-5 1 1 1 6 1-10 1-15 1 15 1 7 1 0 1-21 1 9 1 15 1-1 1-2 1-20 1 10 1-9 1 5 1-3 1 12 1 20 1-10 1-9 1 5 1-2 1 20 1-40 1-3 1 7 1 31 1-14 1-5 1 8 1-8 1 10 1-21 1-10 1-1 1 15 1-26 1 26 1-20 1 0 1-20 1-18 1 31 1-23 1-7 1 12 1 4 1-6 1 15 1 9 1-10 1 25 1 2 1-24 1 27 1-8 1 8 1 8 1-2 1-1 1-10 1 19 1 0 1-28 1 13 1 3 1 15 1-29 1 17 1 6 1 14 1-12 1-20 1-1 1 28 1-22 1 12 1-9 1-11 1 11 1 2 1-1 1 0 1-4 1-4 1 0 1 17 1-15 1 7 1-10 1 4 1 10 1-2 1 4 1 0 1-16 1 2 1 5 1-4 1 9 1 7 1 13 1-16 1 1 1-6 1 10 1-3 1-3 1 8 1 17 1-2 1-12 1 12 1-17 1 12 1-4 1 12 1 0 1-13 1-24 1 17 1-26 1 46 1 0 1-21 1-17 1-2 1 14 1-11 1 1 1 34 1-2 1-8 1-20 1 32 1-34 1 0 1 15 1-15 1 25 1-15 1-10 1 14 1-11 1-12 1 22 1 5 1 4 1-12 1-2 1-15 1 28 1-8 1-22 1 6 1-2 1 22 1-26 1 24 1-10 1 5 1-7 1-9 1 14 1-2 1-1 1 11 1-43 1 29 1-21 1-2 1-1 1-16 1 1 1-16 1-8 1 8 1 11 1 24 1-18 1 6 1-14 1 34 1-8 1-8 1 29 1 8 1-16 1 21 1-17 1 15 1-4 1-1 1 22 1-1 1-9 1-9 1 3 1 12 1-3 1 9 1-24 1 30 1-10 1-12 1 4 1-9 1 6 1 25 1-9 1-30 1-11 1 7 1 4 1 37 1 12 1-44 1-13 1 15 1 8 1-8 1 30 1 12 1-7 1-12 1-17 1 8 1 7 1 2 1-9 1 8 1 5 1-2 1 14 1 2 1-19" stroke="#ff0000" stroke-width="1.6" fill="none" transform="scale(.5)"/>
<path d="M48 913l1 16 1-5 1-5 1-6 1 19 1-24 1-1 1 14 1-14 1-3 1 11 1 2 1-11 1 10 1 22 1-12 1-19 1 5 1 0 1 3 1 6 1-12 1-1 1 15 1-11 1 10 1-16 1 19 1-2 1-15 1 0 1 17 1-1 1-6 1 5 1-8 1 20 1-13 1 7 1-6 1-3 1 20 1-22 1-8 1-1 1 17 1-23 1 8 1 9 1 5 1-8 1-4 1-10 1 20 1 19 1-20 1-9 1 13 1 5 1-9 1-11 1-1 1-3 1 10 1-11 1-16 1 7 1 11 1-16 1 11 1 0 1 12 1 1 1-2 1-4 1-15 1 12 1 2 1-27 1 2 1 24 1 6 1-44 1 42 1 5 1-17 1 32 1-7 1-18 1-10 1 45 1-40 1-2 1 13 1 7 1-5 1 8 1 10 1-30 1 6 1 13 1 19 1-17 1-2 1-18 1 11 1 1 1-14 1 14 1 19 1-40 1-1 1 28 1-39 1 13 1 28 1 13 1-21 1 5 1-2 1-12 1 8 1 11 1-8 1-4 1 8 1-9 1 5 1-14 1 4 1 14 1 4 1 6 1-17 1-6 1 12 1-1 1-5 1 12 1 18 1-15 1-3 1-5 1 24 1-22 1 18 1-11 1 10 1-11 1-6 1 1 1 17 1-36 1 9 1 11 1-4 1-1 1 14 1-11 1 13 1-6 1 4 1-1 1-7 1 15 1 1 1-8 1 0 1-7 1 11 1 13 1-20 1 9 1-15 1 0 1 29 1-11 1-13 1-4 1 12 1 2 1-23 1 21 1 6 1-30 1 20 1-1 1-1 1-10 1 14 1-5 1-2 1 7 1-2 1 1 1-17 1 23 1-33 1 14 1 7 1 5 1-5 1-6 1-5 1 3 1 26 1-14 1-6 1 6 1 12 1-22 1-6 1 15 1-8 1 10 1-13 1 4 1 15 1-9 1-3 1-18 1 42 1-6 1 11 1-3 1-10 1 4 1-13 1-8 1-15 1 26 1-2 1 3 1 8 1 12 1-11 1-22 1 3 1 5 1-2 1-9 1-15 1 38 1-11 1 3 1-20 1-5 1 21 1-4 1-33 1 5 1-6 1 7 1-12 1-5 1-3 1 0 1 11 1-32 1 23 1-6 1 3 1 6 1 24 1 1 1 0 1 10 1 1 1 12 1-5 1 4 1-7 1 5 1-17 1 7 1 21 1 1 1-21 1-3 1 12 1-5 1-15 1 16 1-2 1 17 1-10 1-5 1 0 1-3 1 6 1-6 1-2 1 5 1 1 1 15 1-7 1 6 1 4 1-26 1 4 1 6 1 12 1-15 1-10 1 14 1-4 1 20 1-16 1-9 1 5 1-3 1-4 1 11 1 18 1-3 1 0 1-11 1-29 1 23 1 25 1-33 1-12 1 23 1-4 1 5 1-19 1 22 1-28 1 9 1 19 1 4 1-26 1 2 1 4 1 5 1 11 1-13 1-20 1 19 1-20 1 32 1-16 1 3 1 16 1-5 1-20 1 8 1 17 1-19 1-5 1 12 1 3 1-14 1-12 1-3 1-3 1-10 1-19 1 9 1 7 1-7 1 20 1 7 1 5 1-1 1-9 1 26 1 7 1-14 1 13 1-8 1 6 1 5 1-24 1 28 1-24 1 17 1 0 1-22 1 9 1 8 1-8 1 6 1-7 1 4 1 25 1-25 1 9 1-26 1 34 1-34 1 18 1 8 1-29 1 7 1-1 1 19 1-20 1 13 1-12 1 7 1-5 1 8 1 10 1-1 1-16 1 25 1 14 1-25 1-13 1 16 1 2 1-7 1 10 1-16 1 5 1 15 1 3 1 10 1-29 1 30 1-16 1-2 1 0 1-5 1-7 1 3 1 1 1 4 1 8 1 2 1 0 1-7 1 14 1-9 1-14 1 18 1-9 1 5 1 1 1 3 1-7 1 6 1-35 1 38 1-11 1 17 1-1 1 1 1-17 1 0 1-7 1 13 1 11 1-14 1-1 1 1 1-8 1 5 1 2 1-13 1 20 1-22 1 17 1-20 1 8 1-16 1 26 1-15 1 20 1-15 1 20 1-17 1 12 1-17 1 20 1 6 1-23 1-18 1 13 1-17 1 8 1 5 1-32 1 5 1-27 1 17 1-8 1 15 1-16 1 24 1 1 1-13 1-6 1 31 1 10 1-5 1 16 1 7 1-25 1 22 1 0 1 8 1-7 1-11 1 35 1-20 1-8 1-14 1 19 1 12 1 8 1-20 1-2 1 15 1 16 1-31 1 33 1-38 1 8 1-11 1-9 1 14 1 31 1 6 1-28 1 25 1-13 1 7 1 1 1 16 1-8 1-8 1 21 1-37 1 16 1 21 1-33 1 24 1 12 1-15 1 3 1-14 1 20 1-4 1-24 1 2 1 3 1 11" stroke="#ff0000" stroke-width="1.6" fill="none" transform="scale(.5)"/>
<path d="M48 914l1 4 1 16 1-32 1 22 1-12 1 24 1-24 1 9 1 2 1 14 1-31 1 10 1 17 1-11 1-2 1-12 1 7 1-3 1 7 1 10 1 1 1 8 1-25 1 4 1 5 1-11 1-11 1 16 1-9 1 28 1-16 1-6 1 14 1-13 1 1 1-4 1-5 1-3 1 2 1-1 1 20 1 12 1-28 1 28 1-11 1 6 1-6 1-11 1 17 1-18 1 22 1-14 1 19 1-24 1-13 1 19 1-20 1 41 1-12 1-23 1 8 1 9 1 3 1-2 1-21 1 19 1-26 1 9 1 4 1 8 1-14 1-6 1 21 1 9 1-12 1-10 1 1 1 19 1-39 1 16 1-14 1 29 1-17 1 32 1-33 1-4 1-17 1 33 1 25 1-41 1-11 1 0 1 17 1-15 1 7 1 9 1 4 1 20 1-25 1 3 1 1 1 8 1-9 1 5 1-12 1 21 1-15 1 2 1-20 1 13 1 4 1-5 1 6 1 7 1 22 1-13 1-11 1-5 1-10 1 45 1-6 1-6 1 3 1-5 1 16 1-19 1 13 1 7 1-18 1-5 1-1 1 25 1-17 1 7 1 2 1-5 1-2 1 4 1-6 1 3 1 12 1 2 1-18 1-9 1 4 1 6 1-9 1 12 1-15 1-4 1 5 1 17 1-4 1-3 1-7 1 12 1 22 1-21 1 16 1-9 1-32 1 12 1 3 1 2 1 19 1-9 1 6 1 7 1-23 1 27 1-17 1-2 1 3 1-8 1 0 1 28 1-20 1-10 1 14 1-7 1-10 1-3 1-5 1-5 1 34 1-4 1 8 1-15 1-2 1 17 1-26 1 8 1 2 1-1 1 13 1-8 1-1 1-6 1-22 1 26 1 6 1-9 1-3 1 3 1-4 1-18 1 27 1 6 1-9 1 9 1-1 1 0 1-20 1 9 1 13 1-11 1-8 1-4 1 7 1-12 1 26 1-7 1 2 1 0 1-6 1 8 1-3 1 16 1-22 1 26 1-20 1 21 1-18 1 5 1-13 1 18 1-3 1-12 1 14 1 10 1-11 1-11 1 4 1-4 1 20 1-23 1 17 1-22 1 0 1 14 1-26 1-16 1-3 1 17 1-1 1-23 1 12 1-21 1 2 1 4 1 23 1-28 1 4 1 21 1 6 1 4 1 0 1 0 1 1 1 6 1 12 1-20 1 8 1 18 1-24 1 0 1 13 1 27 1 2 1-36 1 12 1-2 1-5 1 15 1-19 1 1 1 24 1-6 1-14 1 15 1-13 1 3 1-6 1 31 1 1 1-22 1 2 1-25 1 22 1-12 1-10 1 38 1-30 1 27 1-12 1 9 1-5 1 6 1-21 1 33 1-44 1 18 1 2 1 14 1-16 1 20 1-2 1-13 1 3 1-25 1 34 1-10 1-4 1-4 1-5 1-10 1-4 1-1 1 15 1 13 1 12 1-25 1 5 1-3 1 2 1 15 1-8 1-15 1-16 1-1 1 15 1-15 1 16 1 11 1-1 1-7 1 6 1-16 1-11 1 23 1 18 1-12 1-30 1 7 1-16 1 12 1-26 1-14 1-1 1 26 1-32 1 23 1 3 1 20 1 5 1 18 1-2 1-15 1 23 1-14 1-5 1 12 1 9 1-20 1 3 1 7 1 1 1-1 1-11 1 14 1-4 1 10 1-5 1 18 1-37 1 7 1 30 1-4 1-13 1-15 1 17 1-15 1 9 1 4 1-14 1-3 1 15 1 0 1-1 1 7 1-18 1 19 1-19 1 10 1 6 1-11 1-10 1 27 1-18 1 6 1 0 1-6 1 16 1 7 1-22 1 13 1 5 1-2 1-2 1 5 1-9 1 18 1-10 1-11 1 4 1 7 1-4 1 12 1-10 1 2 1-27 1 29 1 5 1-2 1-9 1 5 1-8 1-9 1-4 1 29 1-24 1-1 1 23 1-13 1-6 1 17 1-38 1 3 1 31 1-10 1-15 1 12 1 13 1 0 1 8 1-11 1 18 1-43 1 31 1-14 1 20 1-32 1 0 1-8 1 14 1-6 1-17 1 32 1-10 1 20 1-20 1 29 1-4 1-13 1-9 1 30 1-22 1 0 1-5 1-4 1-7 1-5 1-30 1 29 1-16 1-8 1 4 1-12 1-12 1 2 1 25 1-23 1 26 1 3 1-13 1 8 1 20 1 3 1 2 1 16 1-24 1 35 1-26 1 10 1 10 1-18 1 23 1 0 1-1 1 4 1-15 1 4 1 18 1-12 1 11 1-7 1-13 1-8 1 9 1 13 1-17 1 20 1 18 1-23 1-31 1 19 1 6 1 9 1-1 1-2 1 17 1-33 1 27 1-19 1 6 1-8 1 26 1-34 1 25 1-8 1 7 1 15 1 2 1 0 1-14 1 18 1-11 1 17 1-24" stroke="#ff0000" stroke-width="1.6" fill="none" transform="scale(.5)"/>
<rect x="23.8" y="372.3" width="274.7" height="149.3" fill="none" stroke="#707070" stroke-width="1.1"/>
<path d="M23.8 515.8V527M29.9 517.9V525.5M36 517.9V525.5M42.1 517.9V525.5M48.2 517.9V525.5M54.3 515.8V527M60.4 517.9V525.5M66.5 517.9V525.5M72.6 517.9V525.5M78.7 517.9V525.5M84.8 515.8V527M90.9 517.9V525.5M97.1 517.9V525.5M103.2 517.9V525.5M109.3 517.9V525.5M115.4 515.8V527M121.5 517.9V525.5M127.6 517.9V525.5M133.7 517.9V525.5M139.8 517.9V525.5M145.9 515.8V527M152 517.9V525.5M158.1 517.9V525.5M164.2 517.9V525.5M170.3 517.9V525.5M176.4 515.8V527M182.5 517.9V525.5M188.6 517.9V525.5M194.7 517.9V525.5M200.8 517.9V525.5M206.9 515.8V527M213 517.9V525.5M219.1 517.9V525.5M225.2 517.9V525.5M231.4 517.9V525.5M237.5 515.8V527M243.6 517.9V525.5M249.7 517.9V525.5M255.8 517.9V525.5M261.9 517.9V525.5M268 515.8V527M274.1 517.9V525.5M280.2 517.9V525.5M286.3 517.9V525.5M292.4 517.9V525.5M298.5 515.8V527M18.8 372.3H23.8M18.8 422.1H23.8M18.8 471.8H23.8M18.8 521.6H23.8M20.3 397.2H23.8M20.3 447H23.8M20.3 496.7H23.8" stroke="#555" stroke-width="1" fill="none"/>
<g class="ax" text-anchor="middle"><text x="23.8" y="533.8">0</text><text x="54.3" y="533.8">5</text><text x="84.8" y="533.8">10</text><text x="115.4" y="533.8">15</text><text x="145.9" y="533.8">20</text><text x="176.4" y="533.8">25</text><text x="206.9" y="533.8">30</text><text x="237.5" y="533.8">35</text><text x="268" y="533.8">40</text><text x="298.5" y="533.8">45</text></g>
<g class="ax" text-anchor="end"><text x="17.6" y="374.7">2</text><text x="17.6" y="424.5">1</text><text x="17.6" y="474.2">0</text><text x="17.6" y="524">-1</text></g>
<text class="ax" style="font-size:6.3px;fill:#666" text-anchor="middle" transform="translate(7.9 445.3) rotate(-90)">&#916;BS (%)</text>
<text class="hd" x="169" y="546.3" textLength="40.5" lengthAdjust="spacingAndGlyphs">Height (mm)</text>
<text class="ttl" x="39.4" y="389.2" textLength="21.9" lengthAdjust="spacingAndGlyphs">(A)-F3</text>
<rect x="345.2" y="371.9" width="10.1" height="149.7" fill="url(#cb)"/>
<g class="tm"><text x="302.8" y="375.4" textLength="36.8" lengthAdjust="spacingAndGlyphs">00h:00m:00s</text><text x="302.8" y="393.9" textLength="36.8" lengthAdjust="spacingAndGlyphs">00h:40m:17s</text><text x="302.8" y="412.5" textLength="36.8" lengthAdjust="spacingAndGlyphs">01h:26m:06s</text><text x="302.8" y="431" textLength="36.8" lengthAdjust="spacingAndGlyphs">03h:21m:37s</text><text x="302.8" y="449.6" textLength="36.8" lengthAdjust="spacingAndGlyphs">05h:04m:17s</text><text x="302.8" y="468.1" textLength="36.8" lengthAdjust="spacingAndGlyphs">06h:37m:47s</text><text x="302.8" y="486.6" textLength="36.8" lengthAdjust="spacingAndGlyphs">08h:25m:56s</text><text x="302.8" y="505.2" textLength="36.8" lengthAdjust="spacingAndGlyphs">10h:12m:18s</text><text x="302.8" y="523.7" textLength="36.8" lengthAdjust="spacingAndGlyphs">11h:58m:38s</text></g>
<g transform="translate(0 366)">
<text class="ttl" x="373.9" y="21.3" textLength="21.2" lengthAdjust="spacingAndGlyphs">(B)-F3</text>
<path d="M376.2 24.6H395V37Q400 38 404.6 39.6V62H366.2V39.6Q371 38 376.2 37Z" fill="url(#capg)"/>
<rect x="376.2" y="24.6" width="18.8" height="4.6" fill="url(#ring)"/>
<rect x="379.1" y="44" width="13.2" height="12.2" fill="#1fae1f"/>
<rect x="367.2" y="65.3" width="36.2" height="90.5" rx="3.2" fill="#fff" stroke="#c8c8c8" stroke-width="2.2"/>
<rect x="367.8" y="65.6" width="35" height="3.4" rx="1.5" fill="url(#rim)"/>
<path d="M388.4 114.1 390.1 113 391.5 111.7 392.5 112.7M390.7 127.9 391.9 128.7 393.5 129.5 394.9 128.4M391.2 148.4 393 147.6 393.9 146.1 395.8 145.3M380.5 131.7 381.7 132.9 383.3 131.8 384.9 130.3M370.2 120.8 371.6 122.3 372.5 124 373.6 125.6M368.6 136.9 370 138.5 371.5 137.6 372.5 139.4M369.7 126.2 370.6 127.7 371.5 126.1 373.4 126.9M378.7 101.5 380.4 100.3 381.8 99.4 382.8 98.8M377.4 100.6 378.2 99.4 379.6 100.3 381.1 101.2M380.9 128.2 382.3 127.4 383.8 126 384.9 127.8M368.6 124.7 370.2 123.4 371.1 121.6 372 120.5M369.4 119.6 370.8 117.9 371.8 118.8 372.8 119.8M392.9 131.1 393.8 132.1 395 133.5 397 132.4M382.1 132.5 383.6 131.7 385.5 132.9 386.5 134.3M376.2 103.1 378.2 101.4 379.9 103.1 381.1 104.4M384.9 83.7 385.7 84.6 387.7 83.8 388.5 85.6M391.7 88.3 393.6 90 395.2 88.9 396.2 88.1M397.2 129.7 399.2 128.2 400.2 128.9 401.7 130.3M368.8 116.1 370.4 115.5 372.4 113.9 373.9 113M398.8 137 399.7 138.6 400.6 139.6 402.1 138.1M373.8 124 375.3 122.9 376.9 121.1 377.7 122.1M399.9 146.3 400.9 147.5 402 146.5 402.2 148M394.6 106.7 395.6 105 396.9 103.2 398 103.8M387.2 132 388.8 130.8 390.6 132 391.5 130.8M375.9 113.7 377 112.9 378.8 113.6 380.7 115.4M392.6 93.8 394.2 95.3 395.7 93.6 396.6 92.8M378.8 100.9 380.3 102.5 381.7 101.1 383.1 102M381.2 123.9 382.9 123 384.4 124.2 385.8 123M383 102 385 100.4 386 99.3 387.6 100.3M386 153.1 387.6 154.4 388.4 154.8 390.3 153.4M370.1 111.7 371.1 113.4 373 114.8 374.6 116.5M399.4 93.4 400.4 91.7 401.8 90.9 402.2 89.7M375.3 109.5 376.2 108 377.4 106.7 379.4 105.2M368.9 132.9 370.2 131.2 371.8 132.2 373.4 130.7M395.9 145.9 397.8 144.3 399.1 145.1 400.6 145.8M395.8 116.2 397.6 117.6 398.9 118.9 400.1 119.7M368.6 86 369.5 87.6 371.2 88.7 372.7 90.2M398 128.9 399.1 127.9 400.8 129.6 402.2 130.4M381.5 123 383 124.2 384.4 123.3 385.5 124.7M377 97.3 378.7 96.1 380.1 94.4 381.9 95.4M392.4 93.9 393.9 95.4 395.2 93.9 396 92.4M392.2 145.2 393.4 146.7 394.9 147.3 395.8 145.7M389.9 85.5 390.9 84 391.7 83.5 392.8 85.2M392.2 126.7 393.8 125.7 395.1 126.8 396 127.9M377.7 91.6 378.8 89.9 380.2 91 381.6 89.9M385.3 119.4 386.8 118.6 387.7 120.3 388.6 119.2M368.6 146.7 370.5 146.1 371.6 147.6 372.8 148.6M381.1 128.5 382 127.2 383.8 125.6 384.7 123.9M398.8 114.3 400.2 115.5 402.1 116.5 402.2 117.5M380 130.3 381.7 129.6 382.5 128 383.7 127.1M383.6 100.3 385.5 98.9 386.4 100.2 388.1 98.6M381.7 84.3 383.6 83.5 385.4 83.5 386.4 85.1M370.8 152.7 372.4 153.9 373.6 152.2 375.5 151.3M389.7 104.6 391.6 106 393.5 107.5 394.5 109.1M396.1 132.5 397.8 130.9 398.7 132.6 400.1 131.5M390.9 108 392.7 106.5 394.5 107.2 395.9 108.7M388.1 135.7 390.1 136.7 391.9 137.5 393.3 136.8M386.5 107.1 388.3 107.8 390 108.8 391 110.1M374.4 88.3 375.8 87.1 376.9 88.2 377.8 87M388.6 89.4 390.4 90.9 391.7 91.9 392.9 92.7M397.9 125.2 399.5 126.2 401.3 125.1 402.2 126.8M381 106.2 382.5 107.3 383.9 108.7 384.9 109.6M376.3 132.7 378.2 131.1 379.1 132.9 381 133.7M372.4 107 373.8 105.8 375.2 107.5 376 108.7M392.9 118.9 394.2 120.2 395.4 121 396.5 122.5M385.8 91.8 386.6 92.5 388.6 93.3 390.3 91.6M378.7 101 379.6 102.5 381.5 101.4 382.4 100.4M378.1 108.3 379.5 107.4 381.4 106.2 382.4 107.2M384.9 123.2 385.9 122.1 387 122.7 388.8 123.9M378.5 134.9 379.3 136.1 381.3 134.3 382.9 133.1M368.6 134.6 369.5 135.6 370.6 136.9 372.6 138.6M385.4 126.5 387.1 127.5 388.1 129.2 389.9 130.3M382.8 134.8 384.8 135.8 386.6 135.2 388 136.6M398.6 152.2 400.2 153.9 401.2 154.8 402.2 153.1M396.3 84.8 397.7 83.5 399.6 84.4 400.9 85.4M377.6 129 378.8 127.7 380.8 128.7 382.3 127.1M372.1 138 374 136.5 375.9 137.9 376.8 139.1M383.8 117.6 385.7 116 387.2 117.1 388.2 115.6M371.2 124.9 372.2 123.1 373.8 124.8 374.9 125.9M378.4 93.6 379.9 92.6 381.2 94.3 382.8 95.2M399.5 126.2 400.7 126.9 401.9 125.6 402.2 124.3M370.3 90.4 371.4 91.2 372.3 90.1 373.2 91.2M380.8 100.1 382.5 99.1 384.4 100.8 385.2 102.2M378.9 138.3 380.1 139.6 381 141.3 382.5 140.2M370.4 139.5 371.4 140.5 373.2 138.9 374.2 137.6M372.6 99.6 373.6 100.2 375.5 101.8 377 100.9M386.6 110.8 388.3 109.5 389.1 110.1 390.5 111.9M393.7 121.4 395.5 122.1 396.4 120.8 397.8 121.8M393.5 145.4 394.6 146.8 395.6 146.2 396.7 147.7M373.2 124.9 374.5 123.5 375.9 121.8 377.2 122.6M373.4 123.6 375.4 125.1 376.7 126.4 378.6 124.9M368.6 142.7 369.8 143.8 371 145.1 372.4 143.9M387.1 122.4 388.6 121.5 389.7 120.9 390.7 122.6M372.4 114.6 373.5 113.5 375.2 112.6 376.1 113.4M378.8 138.3 380.3 139.8 382.1 139.2 383.5 140.2M381.1 118 382.8 119.6 384.2 121 385.6 119.8M380.4 91.9 381.7 93.5 383.2 91.7 384.9 90.4M369 104.2 370.5 103.4 371.3 102.1 372.5 101.3M387.8 87.8 389.4 87 391.4 85.8 393 84.6M371.1 150 372.9 148.4 374.1 147.6 375.8 146.6M396.2 143.9 398.1 145.5 399.4 143.7 401.3 144.6M395.5 140.8 396.5 141.6 397.3 142.3 398.3 140.8M382.4 154.1 383.4 154.8 385.4 154.8 386.9 154M375.4 108.4 376.5 107.3 377.6 108.5 378.5 110.3M390.1 116.6 390.9 117.2 392 116.4 393.2 114.9M371.2 150.3 372.5 151.9 373.5 152.8 374.4 151.1M368.6 123.2 368.9 124.8 370 123.3 371.8 124.5M371.4 148.9 372.9 150 374.4 148.7 375.5 148M386.4 141.5 387.6 142.3 389.6 140.6 390.9 139.4M376.3 104.9 377.2 105.6 379 107 380.4 106.1M386.4 141 388.1 142.6 389.7 144.1 390.7 142.4M399.7 151.3 401.3 150.1 402.2 151.5 402.2 152.6M390.4 114.5 391.7 116 392.7 117.1 394.4 116.1M385 119.2 386.2 118 387.7 117.2 389.6 118.2M390 147.2 391.9 146.3 392.8 147.4 394.4 145.8M382.1 87.1 384 85.4 385.4 84.6 386.5 85.8M398.9 93.1 400.9 94.7 402.2 95.7 402.2 94.2M393.8 149.8 395.1 151.2 396 151.9 397.4 152.7M395.9 103.4 397.5 105 399.2 106.6 401.1 105.4M383.9 144.2 385.7 142.7 386.5 144.3 388.2 145.3M376.2 132.8 377.4 134.4 378.5 132.8 379.4 131.6M384.4 114.9 386.1 113.5 387.8 112.8 388.8 113.9M390.8 110.8 392.4 109.7 394.3 108.7 395.1 110.4M390 102.5 391.8 101 392.8 101.9 394.2 103.2M368.6 108.4 369.4 107.4 371.1 106.3 373 104.6M381.3 103.2 383.1 104.2 383.9 105.7 385.5 106.3M398.7 112.3 400.3 111 402.2 112.5 402.2 111.6M389.2 93.2 390.6 94.7 392.4 96.2 393.8 97M378.8 97.1 379.7 98.1 380.5 96.7 381.4 95M385.2 107.3 387.1 108 388.4 109.4 389.4 108.7M371.8 89.2 372.8 88 374 87.2 375.9 86.4M385.6 97.9 386.7 96.2 388.3 95.1 389.8 96.7M373.7 139.4 375 141.1 376.2 142.8 377.5 143.9M395.9 84.7 396.8 86 398.1 84.5 399.4 85.5M376.6 133.2 377.7 132.2 379.5 133.6 380.6 132.4M371.3 135 372.8 135.9 374.5 137.5 375.8 136.6M392.7 115.9 394 117.5 395.7 118.2 396.9 118.9M371.9 127.3 373.9 128.7 375.2 130.3 377 131.1M394.5 83.8 396.3 85.3 397.1 86.4 398.4 87.6M399.1 114.4 400.4 113.2 402.2 111.5 402.2 110.2M383.5 133.2 385 131.8 386.7 133.4 387.9 132.2M396.9 99.5 398.9 97.9 400.8 99.2 402.2 100.5M371.7 92.4 373 91.5 374.3 92.3 376.1 90.9M395.5 122.1 396.9 123 397.8 123.9 398.9 125.2M368.9 127.7 370.3 129 371.6 128.3 372.7 127.1M375.7 84.7 377.4 83.7 378.5 85.1 380.4 86.1M373.1 94.7 374.2 95.7 375.6 94.7 377 93.7M369.7 113.4 371.3 114.4 372.8 112.9 374.2 113.6M385.7 139.4 386.5 137.9 387.3 137.1 388.5 136.3M390.9 133.6 392.6 132.8 393.7 134 395.3 135.3M378.2 118.5 379.5 119.7 381 118.7 382.4 117.2M376.2 94.8 377.8 93.4 378.6 94.3 380 93M399.8 142.9 401.3 142 402.2 143.8 402.2 144.8M398.8 132.8 400.3 133.4 402.2 135 402.2 134.4M388.2 97.7 389.7 99.1 390.8 98 392.3 99.6M376.6 92.5 378.6 93.5 379.9 94.6 381.7 95.6M388.9 91.4 390.8 90.3 392.5 88.6 393.5 89.8M379.7 148.9 381.4 148.2 382.4 149.6 384.3 151.2M375.4 127.1 376.6 128.1 377.8 129.4 378.9 130.9M399.7 101.6 400.6 102.7 402.2 104 402.2 104.6M386.7 129 387.7 130 389.2 131.4 391 130.8M387.6 124.4 389 123.1 390.1 121.4 391.2 122.5M385.8 86.3 387.4 85.4 389.1 86.2 390.3 85.4M397.6 101.7 398.5 103.2 400.4 101.6 401.5 100.7M368.6 98.1 369.6 96.9 370.5 96 371.5 95.2M398 150.1 400 148.6 400.9 149.8 402 151.6M368.6 118.4 369.6 120 370.9 119.2 372 120.4M391.8 119.7 393.7 120.7 394.9 119.5 396.7 118.1M370 144.7 371.7 143.3 373.3 141.6 374.2 140.7M393.8 141.1 395.6 142.2 396.5 143.4 398.1 144.9M373.3 139.5 374.8 138.6 376.2 139.6 377.8 140.6M382.1 86.4 383 87.8 384.4 86 385.2 85.4M394.1 134.2 395.8 133.4 396.7 132 398.2 133.6M392.7 103.1 394.4 103.7 396 105 398 103.9M383.8 132.5 384.7 133.4 386.2 132.4 387.3 130.9M370.7 111.2 372 111.9 373.8 112.8 375.4 112.1M396.1 126 397 125.2 398.9 126.2 400.7 125.5M370.3 90 371.2 90.7 372.6 92 373.4 92.6M386.2 132.1 387.9 131.5 388.8 129.9 390.6 128.9M371.2 152.5 373 151 374.8 152.7 375.7 152.1M399.5 105.6 400.8 106.5 401.9 107.6 402.2 109.1M371.3 101.4 372.4 100.6 373.3 99.9 374.3 98.9M392.5 116.6 394.3 118.2 395.9 116.9 397.8 117.7M382.8 152.5 384.4 150.7 385.3 149.4 386.6 147.9M383.4 118.6 384.8 120.1 385.7 119.1 386.9 117.7M396.5 86.6 397.4 87.9 398.8 86.8 400.4 86.2M395.9 130.3 397.3 129.7 398.8 128.7 400.5 127.4M386.1 128.3 387.6 129.1 389 128.4 390.9 127.2M374.7 118.2 376.4 117.3 377.3 118.8 378.3 120.5M386.3 123.2 387.6 121.9 388.6 120.9 389.6 119.2M386.7 126.5 388.5 127.9 389.5 126.3 390.9 125.6M378 85.2 379.6 84.4 380.6 83.5 382.4 83.5M386 118.2 387.1 119.5 388.1 118.4 389.4 116.7M369.1 119 370.4 120.4 371.2 119.7 372.1 121.2M383.2 153.7 384.6 153.1 385.8 152 386.9 151M379.5 126.4 381.1 125.4 382.5 124.1 384.2 122.6M370.3 140.3 371.6 142.1 372.7 141.3 374.5 142.6M370.2 134.8 371.9 133.9 373.8 135.4 375.3 136.5M393.8 117.1 395.4 117.7 397 118.5 398.5 120.1M386.6 92 387.4 91.3 389.4 92.3 390.7 90.8M385.5 136.2 387.2 136.9 388.1 138.6 389.7 137M379.1 101 380.5 99.5 381.4 101 382.4 99.9M373.8 106 375.8 105 377.5 103.2 379.4 103.8M368.9 134.6 369.8 135.4 371.3 134.3 372.8 135.3M378.3 152.9 379.3 151.4 380.8 149.9 382 150.9M398.2 135.3 400 134.3 401.9 132.9 402.2 132.3M394.4 127.8 395.4 126.3 396.7 127.2 398.4 128M376.1 114.2 378 113.1 378.9 111.8 380.7 112.9M379.2 132 380.8 131.1 382 132.8 383.3 134.1M394.5 109.1 395.5 110 396.7 108.5 397.8 109.3M381.5 96.1 382.4 95 383.5 93.4 384.7 92.3M380.9 141.8 382.8 140.3 384.4 141.9 386.3 143.1M392.4 133.6 393.8 132.8 395.5 131.6 396.3 130.8M371.2 108 372.7 106.3 373.8 105.7 374.8 104.3M399.5 111.4 401.2 110.3 402.2 108.8 402.2 107.6M394.6 133.8 395.6 134.4 397.1 132.7 398.8 131.5M376 153.5 376.9 154.8 377.8 154.8 379.3 154M378.4 126.9 379.2 125.3 380.4 126 381.6 127.7M384 125.1 385.9 125.9 387.2 124.7 388.4 123.1M393.2 99.3 394.9 100.6 396.6 99.6 398.3 100.3M372.3 91.2 373.5 91.9 375 93.7 376.6 94.3M381.2 84.8 382.5 84 383.5 85.8 384.7 84.4M391.4 85.8 393.4 84.4 394.6 86.2 395.5 87.9M384.6 139.4 386.4 137.7 387.7 136.1 388.6 134.9M384.3 128.9 386.2 127.5 388 126.7 389.6 127.3M383.3 137.5 385.1 136.2 386.5 134.4 387.4 135.1M375.1 129.5 376.8 130.8 378 130 379.9 131.8M396.2 134.1 397.6 135.9 398.5 134.4 400 135.2M376 97 377.2 95.3 378.6 97 379.7 97.9M384.4 103.9 385.7 103.2 386.7 104.5 387.7 103.4M373.1 135.2 374.2 134.4 375 135.4 376.8 136.9M378 144.9 379.6 145.6 380.7 143.9 382.3 143.1M376.6 86.2 378.3 85.5 379.5 84.3 381.3 83.5M387.6 136.6 389 135.5 389.8 134.2 391.5 133.5M376.5 108.1 378 107.3 379.6 108.5 381.5 107.9M395.8 122.2 397.6 121.5 398.9 122.3 400.3 123.3M387.7 107.4 389.1 108.7 390.6 107.1 392.5 108.2M376.1 100.8 376.9 101.5 378.1 100.5 379.2 99.2M382.6 150.6 384.2 151.8 385.6 152.6 386.8 150.8M380.7 91.2 381.8 92.8 383.3 91.7 384.4 90.8M398.3 93.4 399.7 92.6 401.2 93.4 402.2 94.7M374.3 119.9 375.7 120.9 377 122.7 378.9 123.5M378.3 114.6 379.6 113.3 380.9 112.5 382.9 111.7M392.7 97.4 393.9 98.5 395.5 97.1 396.9 98.6M378.1 134.2 380.1 133.4 381.6 134.7 382.8 134.1M372 134.5 373.6 133.9 375.2 133 377.2 134.1M393 141.5 394 142.6 395.3 141 396.5 142.3M379.2 122.4 380.3 124.1 381.9 125.2 383.8 124M384 133.6 385.3 135.3 386.2 136.8 388.2 135.4M380.6 111.6 382.1 112.4 383 113.5 384.8 112.7M376.5 130.8 378.4 131.9 380.4 133.5 381.9 134.7M392.8 115.6 393.6 117.3 394.9 118.6 396.3 117M372.2 99.6 374.2 101.2 375.4 99.7 377.3 100.9M384.6 119.3 386.3 118.4 388.3 116.9 389.5 116.1M386.3 136.2 387.8 137.3 389.3 139.1 391 140.3M395.3 141.5 397.3 142.6 398.8 144 400.7 145.3M385.3 149.4 386.9 150.5 388.6 151.8 390.1 152.7M377.1 109.6 378.2 110.6 380.1 111.6 381.5 112.5M379.2 85.3 380.8 84.2 382.6 83.5 384.1 84.8M393.6 102 395.4 101.3 397.4 99.7 399.2 99.1M387.5 85.5 389.3 87.2 390.2 88.5 391.2 89.6M374.5 134.5 375.5 135.4 377.3 136 378.9 137.3M394.3 106.6 395.9 107.4 396.8 106.5 398.4 104.9M382.6 89 384.1 89.9 385.9 88.5 387.5 87.4M393.9 135.1 394.9 136.3 396.2 135.4 397.1 136.9M372 103.9 373.4 102.7 374.4 104.2 375.5 102.9M385.1 153.5 386 152.6 386.8 150.9 387.7 152M383.8 103.7 384.7 102.5 386.1 103.1 387.5 101.4M386.8 142.2 387.8 143.9 388.8 143 389.9 141.9M371.5 153.9 373.2 153 374.8 154.5 375.9 154.8M378.1 105.9 379.8 107.1 380.8 107.9 382.4 106.6M392.4 106.9 393.9 106.2 394.9 107.3 395.7 106.3M392.4 89.9 394.1 88.4 395 89.2 396.9 88M388.3 105.4 389.8 104.8 391.4 103.2 392.3 101.6M369.9 116.6 370.9 117.3 372.7 119 374.4 120.6M384.4 118.7 386 117 387.4 118 389.3 116.5M391 88.1 392.3 86.7 393.6 86 395.5 85M383.1 126.7 384.9 125.4 386.6 126.1 387.7 125.4M384.5 124.7 386.2 125.7 388 126.4 389.5 125.2M370.5 92.8 372.4 93.9 374.2 92.6 376 94.4M371.1 91.4 372.6 90.6 374.2 92.1 375.3 93.4M381.9 105.9 383 107.7 384.5 108.9 385.6 107.8M384.5 102.4 386.1 103.2 387.5 104.3 388.9 105.1M391.6 129.3 392.7 128.1 394.4 128.9 395.6 128.1M387.4 127.4 389.3 125.6 390.5 127.4 391.6 125.6M370.3 136.2 372 135.4 373.7 136.7 375.3 135.2M395 146.7 396.6 145 397.6 143.3 399.4 142.5M381.5 96.1 382.9 97.1 384.2 98 385.9 96.6M379.2 116.8 380.8 116 382.1 114.9 383 114M386.9 97.5 388.4 96.4 389.6 94.6 391.3 95.5M393.4 126.1 394.2 127.1 395.3 125.3 396.6 124.2M371.9 150.9 373.7 149.1 375.6 150.5 376.8 152.1M375.1 145.7 376.6 147.3 378.1 148.8 379.9 150.1M397.6 121.2 398.9 122.8 400.2 124.5 401.6 125.7M368.6 89.6 369.4 88.7 371.4 89.9 372.8 88.2M398 103 399.8 102.3 401.1 103 402.2 104.4M375 87.9 375.8 87.2 377.1 86.1 377.9 87.7M382.7 141.7 384.1 142.5 386 143.4 387.5 144.4M392.6 106.3 393.8 107.4 395.5 106.1 397.2 106.9M397.6 102.3 398.9 101.2 400.6 99.7 402.2 101.1M380.5 151.2 381.5 149.7 383.5 151.2 385.3 152.5M375.6 114.7 376.9 113.8 378.8 114.8 380.7 116M382.6 93.8 383.8 94.5 385.3 93.2 387.2 93.9M375.5 153.5 376.6 154.5 377.9 154.8 378.8 153.2M387.9 106.2 388.8 106.9 390.2 107.7 391.8 108.5M393.2 83.6 394.9 83.5 396 85.2 397 84.5M399.7 126.3 400.5 127.5 401.9 126 402.2 127.6M379.9 136.7 381 135 382.7 135.6 384.2 134.8M400.1 141.2 401.3 142.3 402.2 140.6 402.2 142.4M389.8 129.4 391.8 130.6 393.5 132.1 394.8 132.8M386 109.9 387.6 110.8 389 109.5 390.7 108.2M397.2 122.2 398.2 122.8 399.9 121.2 401.7 122.2M372.7 137.9 374.1 136.3 376.1 134.6 377.6 133.1M392.3 123.8 393.1 122.7 394.7 121.6 395.5 120.4M381.7 120.1 383.1 118.9 384.8 120.4 385.6 119M379.6 101 381.1 101.9 382 100.2 383.7 101.4M396.2 123.8 397.5 124.5 398.7 123.8 399.7 125.4M383.6 84.5 385.3 86 386.7 86.8 387.9 85.4M391.5 110.9 393 112.5 394.7 111.4 396.4 112.9M390.1 120.1 392.1 119.3 393.6 121.1 394.8 119.8M370.9 91.4 371.7 92.8 373 93.9 374 92.7M382.7 94.1 384.3 95.4 385.9 93.9 387.8 93.2M390.6 132.6 391.7 131.1 393.2 129.7 394.2 128.7M389.7 104.6 391.6 103.5 392.8 102.4 394.5 101.5M375.9 150.8 377.1 151.6 379 150.4 380 151.6M375.7 85.7 377.5 86.8 378.4 85.4 380.3 84.7M399.7 129.1 401.4 128.5 402.2 129.3 402.2 128.3M382.1 133.6 383.1 135.1 384.3 133.3 386.3 134.6M374.6 146.8 376 145 377.8 146.3 379.2 147.2M390.3 121.8 391.9 121 393.3 121.9 394.9 120.2M398.6 145.6 399.7 144.4 401.3 142.8 402.2 143.5M371.2 138.7 372.5 139.6 373.8 138.8 375.1 139.9M387.1 134.8 388.8 133.4 390.1 135 391.5 134.1M399.1 123.4 400.6 121.8 402.1 123.2 402.2 124.3M382.2 139.2 383.8 140.9 385.4 139.6 387.4 140.3M374.8 116.8 375.8 115.9 377.2 114.3 378.9 114.9M385.8 150.9 387 151.7 388.1 150.4 389.1 151.7M388.5 85.9 389.7 87.2 390.5 88.3 391.4 89.7M386.7 145.3 388.3 146.3 389.8 144.8 390.7 143.8M369.6 85.6 371.5 87.1 372.6 88.1 373.4 89.3M384.1 83.8 386 85 387.3 83.9 388.3 83.5M384.5 150.8 385.7 152.1 386.9 150.6 388.5 152.1M374.3 145.1 375.6 144.1 376.6 142.8 377.7 141.4M373 101.1 374.2 102.4 375.5 101.3 376.6 100.5M368.6 104.8 369.6 106.4 370.4 104.8 372.2 106.6M383.1 104.7 384.7 103.2 386.3 102 387.8 101.3M397.1 87.8 398.7 86.4 399.5 87.3 401.3 85.6M393.6 117.4 395 118.5 396.5 119.1 397.8 118.3M391.8 115.2 393.5 116.3 395.2 116.9 396.5 118.1M377.9 93.9 379.4 94.7 381.1 93.1 382.8 94.2M386.8 90.2 388.2 88.5 390.1 89.8 391 91.4M382.5 91.9 384.2 90.4 385.8 89.7 387.3 88.2M399.5 84.2 401.4 85.5 402.2 84.8 402.2 83.5M391.5 106.1 393.4 107.7 394.6 109.3 395.7 108M374.5 136.6 375.5 134.9 376.5 136.7 377.4 135.7M396.5 144.8 397.5 145.8 398.8 145.1 399.7 143.8M394.5 97.2 395.8 96.5 397.7 95.9 399.6 97.6M376.9 150.2 378.8 151.4 380.2 152.9 381.1 154.1M398 129.7 399.4 129 401.3 129.9 402.2 130.9M392 126.3 394 124.6 395.1 125.4 396.9 123.7M381.2 99.9 383.1 100.8 384.2 102.1 385.8 101.1M394.3 151.4 395.2 149.8 397.1 151.5 398.9 150.4M368.9 84.6 370.4 85.5 371.4 84.3 373.1 85.1M390.4 129.1 391.4 128 392.5 128.6 394.3 126.9M371.1 123.9 371.9 123.3 372.9 122.4 374.5 123.3M396 139.6 396.9 140.8 398.6 140.2 399.9 141.6M369.9 105.9 371.8 107.1 372.9 108.3 374.2 107.4M387.1 97.4 388.8 98.9 390.3 97.7 392.1 96.6M369.2 145.9 370.3 146.5 371.8 147.4 372.6 148.2M398.4 113.2 399.8 112 401 113.7 402.2 112.6M383.7 95.5 384.9 96.3 386.7 94.8 387.9 93.2M387.9 96.5 389.9 95.6 391.5 97.2 393 95.5M376.7 131 377.6 131.8 379.1 133 380.6 131.5M398.9 147 400.7 148.8 402.1 149.6 402.2 148.8M398.7 119.8 399.6 118.1 401.2 116.6 402.2 117.4M368.7 106.5 369.6 104.9 371.3 106.2 372.7 105.5M369.4 146.2 371.4 147.3 372.8 148.1 374.6 147.2M375.8 120.5 376.9 121.4 378.2 119.8 379.1 121.6M369.4 108.9 371.1 109.6 373 110.3 374.5 111.7M380.5 125.6 381.8 124.8 383.1 125.7 384.5 124.7M381.1 126.6 383 128 384.5 127 385.7 125.8M379.6 125.6 381 124.9 381.9 123.2 383.2 125M378.7 114 380.5 112.3 381.4 111.4 382.6 113.1M368.6 132.8 369.2 132.1 371.1 133.7 372.7 135M398.2 85.2 399.6 83.5 400.6 85.2 401.8 86.9M381.3 90.6 382.3 91.8 383.2 90.7 385 91.8M380.4 153.8 382.1 152.8 383.9 152.1 384.9 152.8M379.7 123.5 381.6 125.2 383.2 123.9 385.1 125.4M397.8 109.5 399.7 110.1 400.6 109.2 402.2 108.2M377.8 150.9 379.6 152 380.5 150.4 381.3 152.2M388.1 126.1 389.4 127.2 390.7 125.8 392 126.6M399.6 85.6 400.9 84 402.2 85.1 402.2 83.6M387.1 122.1 389.1 121.4 390.5 120 391.3 118.7M380.2 135.9 381.6 137.4 383.3 138.9 384.4 138.2M399.6 131.4 400.7 130.5 401.7 129.7 402.2 130.8M395.4 151 397.2 149.8 398.1 148.2 399.6 147.2M372 149.8 373.5 150.5 374.6 152.3 375.4 153.5M389.7 141.1 390.9 142.2 392.1 142.8 393.6 144.3M369.6 124.6 370.9 125.4 371.8 126.6 373.1 127.6M395.2 127 396.1 125.8 397.3 124.2 399 123.4M398.2 111.3 399.5 112.4 400.8 111.5 402.2 112.7M375.5 109.6 376.4 108.7 377.7 109.5 379.2 110.4M374.4 99.6 375.7 100.6 377.2 99 378.6 99.6M397.3 139.4 398.5 140.4 400.3 141.5 402.2 142.6M387.3 142.1 388.5 140.3 389.8 139.2 391.6 140.1M378.6 126.1 379.7 124.5 381.5 123.7 383 121.9M382.9 137.2 383.9 136.1 385.9 134.5 387 135.1M376.1 131.6 377.3 132.9 378.6 131.4 379.9 129.9M388.1 127.6 389.4 125.9 390.3 125 391.4 123.9M388.4 148.7 389.5 147.4 390.4 148.6 392.2 147.1M398.1 135.8 399.4 134.9 400.7 136.7 402.1 135.9M375.2 146 376.9 147 378.4 148.7 379.2 147.6M381.1 144.9 381.9 145.7 382.8 144.1 384.2 142.6M397.7 134.1 398.9 132.8 400.2 134.1 401.1 135.1M374.2 134.6 376 133.2 377.4 134.8 378.3 136.1M376.8 83.9 378.2 85.5 379.7 84.4 380.9 83.5M368.6 120.2 369.2 119.2 370.8 120.9 371.9 121.7M398.5 151.1 399.8 150.4 401 149 402.2 147.9M392.6 112.5 394 111.3 394.9 110.3 395.9 109.2M378.6 141.4 380.2 142.6 381.4 143.8 382.4 142.2M399.7 102.6 401.4 103.6 402.2 102.7 402.2 103.8M386.1 99.9 387 100.7 388.6 101.8 389.8 101.1M399.7 123.1 400.6 124.3 401.5 123.5 402.2 121.8M370.5 107.4 372.5 106.7 373.6 105.1 375.3 104.1M395.4 145.2 397.3 143.6 398.5 142.5 400.1 141.1M381 141 382.8 142.2 383.8 141.2 384.7 140.1M376.4 149.7 377.7 148.7 378.5 147.3 379.7 146.4M370.2 125.8 371.1 126.8 372 128.3 372.9 126.6M380.1 118.8 381.1 120.4 382.3 118.7 384.2 119.4M379.8 129.6 380.7 128.4 381.5 129.1 382.4 130.2" stroke="#66d6a6" stroke-width="0.55" fill="none"/>
<path d="M382.4 98.5l0.5 -0.3M379.2 95l-0.2 -0.5M378.6 95.2l1.6 -0.1M379.5 97.3l-1.4 0.4M381.4 96.9l1.4 1.2M380.6 95.7l1.7 0.4M373.3 131.2l-1.7 1.2M374.8 131l0.7 0.5M370.3 132.4l-0.9 -0M372.1 132.7l-1.1 -0.4M370.6 130.8l1.1 0.7M371.4 131.9l-1.2 -0.1M398.4 93l-1.2 -0.3M399.1 92.8l1.7 -0.3M397.6 94.2l0.3 -1.2M401.3 94.6l1.6 0.9M399.2 92.6l1.5 -0.3M397.2 95.8l0.3 1M383.4 88.2l1.6 -0.9M383.1 90.2l-0.2 -0.1M380.3 90.1l1.1 -1.1M382.2 90.4l-0.9 1.1M380.4 90.3l1.8 0.5M380.3 89.8l1.2 0.5M378.2 133.8l1.3 -0.6M377.7 135.8l-1.4 1.3M376.4 134.6l-0.7 -1.4M376.4 134l0.9 1M377.6 134.5l-0.5 -0.1M375.3 136l0.5 -0.9M394.2 151.4l0.3 -1.4M391.3 153.9l0.6 1.3M394.4 153.2l-1.8 -1M390.6 151.8l1.3 -0.9M392 151.5l1 0.4M393.5 152.4l0.8 -0.9M371.3 139.1l-0.9 -0.8M372.4 140.6l-0.2 -0.1M373.1 140.2l-1.7 -1M372.5 141l-1.4 -0.9M369.7 140.3l1.5 -1.4M372.9 139.1l-0.5 0.2M389.9 99.1l1.4 -0.7M392.3 99.5l-0.5 0.7M394.4 98.5l1.6 0.9M391.9 99.9l1.7 -0.8M393.9 100.8l1.7 -1.2M394.5 98.8l-1.6 0.8M396.9 120.2l-0.5 0.7M399.6 119.2l1 0.9M397.8 120.8l0.4 0.4M398.8 119.9l0.9 -0.1M396.8 121.6l0.7 0.7M397.9 122.5l-1.7 0.1M383.8 119.6l-0.8 -0.5M382.6 117.4l1.5 0.7M382.7 119.1l0.6 0.3M380.8 117.4l0.4 -0.4M380 118.1l0.2 -0.4M382.3 119.6l0 0.5M386.4 128.4l-0.3 0M389.1 126.6l-0.2 -0.1M387.7 127.6l-1 -1M385.1 128.7l1.5 -0.4M386 126l-1.3 0.8M388.1 127.6l1.4 0.2M396.1 88.8l-1 -1.2M395 90l-0.1 -1.2M396.1 88.6l-1.7 0.8M393.2 90l-0.9 0.3M398 88.7l1.5 -0.2M398.1 90.1l0.7 0.7M379.7 90l1.4 0.9M380.6 91.9l1.5 -0.5M377.5 91.3l0.2 0.4M380.5 92.8l-1.3 1.4M379.1 90.6l0.3 -0.5M381.7 92l-1.8 -0.3M381.6 137.6l0.7 -1.4M382.4 137.2l-0 -0.3M383.3 138.1l1.2 0.9M379.5 136.3l-0.4 -0.6M380.9 138.7l1.1 -0.7M382 135.4l0 1.1M391.3 153.9l0.5 -1.2M394.9 151.3l-1.6 -0.8M391.4 152.7l-0.9 1.2M393.1 151.3l1 0.8M394.5 152.6l0.7 0.3M395.8 152.6l-1.2 -1.4M380 110.3l-1 -0.5M381.7 112.4l0.7 -0.4M379 109.2l-1.5 -1.4M379.1 112l0.5 1.3M382.4 110.3l-1 -1.2M380.5 111.4l1.2 -0.5M390 146.5l-1.6 0.7M386.3 149l-1.6 0.1M389.4 146.6l-1.1 -0.3M387.6 146.8l1.3 1.3M386.3 147.8l0.7 0.2M389 148l0.4 -0.3M380.7 143.7l1.3 -1.1M382.4 143.5l-0 0.6M384.3 144l0.5 1M382.4 145l-1.5 -1M382.8 144.9l0.9 0.8M379.9 145.3l-1.7 1.4M381.6 113.8l-1.1 -0.2M385.9 113.1l-1.1 -1.3M382.2 110.8l-1.5 -0.9M384 112.5l-0.9 0.3M384.5 113.8l0.3 -0.4M385.8 113.3l1 -0.1M384.8 127.1l-1.6 -1.1M384.4 126.9l-1.2 0.7M386.8 123.7l0.4 0.6M385.6 125.9l-0.7 0.1M383.2 125.4l-0.1 -1.1M383 125.4l0.4 0.5M384.5 119.3l0.4 -0.4M384.3 119.3l1 -1M381.2 118.7l0.8 -0.9M383.7 118.9l-1 0.1M383.8 119.8l-0.3 -0.2M381.2 119.1l-0.4 -1.1M393.9 128.2l-1.3 1.2M392.6 128.9l-0.1 -1M389.2 129.3l-0.5 -0.4M390.8 130.8l-1.5 1M390 128.8l-0.9 -1.1M392.4 128.6l-1.2 -0.1M392.8 117.9l-1.4 -0.7M393.6 119.2l-1.2 -1.1M391.3 117.2l-0.7 0.1M394.6 118.5l-1.5 1M392.4 118.2l-1.8 0.6M394.2 119.7l-0.5 -0.3M394.6 110l-0.2 1.2M393.7 110.1l1.3 1M395 111.8l-1.7 1M394 112.3l-1.3 0.2M394.3 110.2l1.4 1.2M395.1 112.8l-0.1 0.5M375.5 151l0.7 -0.4M376.4 150.2l1.6 0.7M378.4 152.9l1.3 0.7M377.9 151.7l0.4 -0.9M376.5 150.3l1 -1.3M373.8 150.8l-0.5 1.3M386.2 118.3l-0.7 -0.4M384.9 119.5l-0.7 0.1M389.3 120.6l1.7 -0.7M387.8 119.2l-0.4 1M385.1 120.9l-1.4 -0.2M385.8 118.5l-1.5 -1.3M396.7 134.7l-0.6 -1M397.6 134.5l-0.8 1.2M399.4 135.7l0.3 -0.9M396.2 134.1l-1.5 -0.9M398.5 136.5l-1.2 1.3M397.7 134.1l-1.4 -0.4M396.5 112.4l-0 -1.3M392.9 112.9l-0.4 0.6M395.3 113.7l-0.6 0.2M392.4 112.6l-0.4 -0.9M393.8 113.4l1 -0.7M392.1 111.3l-0.7 1M377.7 99.9l-0.7 -1.2M378.7 99.8l1.5 0.6M378.9 100.2l0.8 1.4M374.5 101.3l0 -0.8M377.8 100.8l-0.5 -0.1M375.5 101.8l-0 0.2M382.4 134.3l1.7 0.6M383.2 134.7l1.7 -1M379.2 134.8l0.7 -0.5M379.8 133.3l-1 -1.2M379.8 133.8l-0.5 -0.9M384 133.1l1.3 -0.2M392.5 150.4l-0.7 -1.4M394.2 150l0.1 -1.2M392 150.4l1.3 -0.8M389.5 151.3l1.5 -1.2M392.9 148l-1.1 -1.2M389.6 148.6l0.3 1.3M396.7 148.6l0.6 -0.1M396.6 149.7l-1.5 1.3M396.4 150.4l0.1 -1M400.3 150.2l-1 0.2M400 149.3l-0.3 -0.5M396.4 148.4l0.9 -1M388.6 131.6l-1.4 0.3M390.1 130.5l-0.8 0.5M388.2 131.9l1.5 -0.9M391.8 131l-0.1 -0.5M389.6 130.9l-0.4 0.7M390 131.1l-0.1 0.5M378.4 130.4l0.5 -0M377.9 129.7l0.2 1.2M377.3 132l1.7 0.9M375.9 132.2l-1.7 1.1M377.6 130.8l-1.6 1.4M374.9 130.7l-1.5 1M375.1 99.3l-0.8 0.3M376.7 98.4l1.5 0.1M377.1 99.1l-0 0.9M375.4 100.6l-0.2 1M374.2 99.9l1.5 -0.2M376.4 101.5l1.4 0.3M387.5 86.5l-0.8 -0.2M384.8 86.7l0.1 1.3M385.8 88.4l-0.9 -0.7M388 87.6l1.5 0.5M387.9 87.2l0.5 0.9M385.2 85l-1 -1.4M399 128.9l-1 -1M399.5 126.8l-1.6 0.2M399.5 126.5l-1 -0.4M399.3 127.4l0.9 0.9M396 125.7l-1.7 -1.1M396.7 126.3l-1.2 -1.3M374.4 105.5l1.5 0.7M371.5 106l-0.3 0.4M375.5 104.8l-0.4 -0.6M375.3 103.8l0.8 -0.7M372.3 106.7l1.3 -0.9M373.7 105.2l0.3 -0.3M390.7 96.5l0.7 0.5M392.8 95.2l-1.1 -0.7M388.7 95.7l0 -0.4M390.1 95.3l0.2 1.2M390.9 95.4l1.4 0.3M392.3 94.8l0.5 -1M384 136l-1.6 0.5M386.2 135.7l1.4 -1M384.8 137.7l-1.6 -1.3M386.6 135.5l0.3 -0.1M387.4 134.8l-1.7 -0.2M385.6 136.8l1.7 0.2M392.6 121l-1.4 1.1M392.7 120.5l0.3 1.2M391.2 122.7l1.8 -0.8M388.5 122.2l-0 0.3M389.9 120.7l1.4 0.7M389.9 122.7l-0.1 -0.1M384.4 97.2l0.7 -0.9M380.7 97.7l1.4 1.3M385 99.3l1.6 -0.7M380.7 97.3l-0.9 -1.2M384 96.6l1.1 -0.5M380.4 97l0.9 1.2M397.1 118.8l-0.8 -0.8M396.5 116.9l-0.1 0.9M399.8 118.2l0.3 -0.9M395.5 115.6l-1.8 -0.4M398.1 117.5l0.9 0.2M396.7 117.8l-0.6 -1.1M373.8 89l-0 0.4M375.9 89.7l1.7 1M376.3 91.1l-1.4 -0.6M375.5 90l0.5 -1.2M372.8 88.8l-0.6 -0.7M372.9 91.1l-0.3 1.4M385.2 117.1l-1.5 -0M388 117.9l-0.1 0.3M383.7 118.4l-1.7 1M386.2 117.2l0 0.6M387.3 117.4l-1.7 -0.3M387.3 120.5l1.4 -0.2M386.9 134.6l-1.4 0.3M389.9 137.5l0.4 -0M388.3 137.5l1.7 -0.5M387.5 135.4l-1 -1M384.9 134.3l-0.3 -0.1M388.8 135.3l-0.9 -1.3M372.7 140.8l0.5 1.2M376.3 138.7l1.7 -0.9M375.8 138.9l-0 0.3M376 138.4l-1.4 -0.5M375.9 140.4l0.9 -0.8M376.6 138.3l-0.6 -0.9M369.8 92.8l1.2 -0.3M369.8 91.5l-1.2 -0.6M374 93.7l-0.8 0.3M369.8 93.1l-0.6 -0.2M374.6 92.3l1.1 1M374.5 92.7l0.2 0.4M374.5 138l1.2 1.3M377.5 139.4l0 -0.4M378.1 140.4l-0.3 1.1M375.5 137.9l-0.9 0.3M375.4 141l-0.5 -0M376.8 138.4l-1.5 0.9M385.4 141.7l0.3 0.5M384.5 141.8l-1.2 1.3M386.7 141.3l-0.6 -0.2M383.6 141.9l-1.4 0.9M382.9 142.2l0.1 0.8M383.8 141.1l0.2 1.1M392.4 136.1l-1.3 -0.7M388.4 137.2l-1.3 1.3M390.5 134.2l-1.7 0.5M389.2 133.7l1.7 -0.1M392 135.2l-0.3 1.1M388.5 135.5l-0.3 0.1M388 86.9l1.6 -0M386.1 89.8l-0.7 1.4M387.2 90.2l1.3 0.5M388.6 88.1l1.1 -1.4M387.8 88.4l-1.1 1.1M387.4 88.4l0.6 1.3M385.5 105.6l-0.6 -0.9M386.9 106l-1.7 1.2M386.1 108.6l-0.8 0.5M387.3 107.7l1.8 -0.4M385.2 106.5l-0 -0.1M389.1 107l-0.9 1M398.8 139.6l-1.2 1.3M397.6 141.8l-1.6 -0.3M397 139.4l1.5 -0.3M400 141l0.1 -1.3M400.8 138.9l1.1 -0.4M397.1 141.5l0.3 1" stroke="#ee88ee" stroke-width="2.2" stroke-linecap="round" fill="none" opacity="0.45"/>
<path d="M382.4 98.5l0.5 -0.3M379.2 95l-0.2 -0.5M378.6 95.2l1.6 -0.1M379.5 97.3l-1.4 0.4M381.4 96.9l1.4 1.2M380.6 95.7l1.7 0.4M373.3 131.2l-1.7 1.2M374.8 131l0.7 0.5M370.3 132.4l-0.9 -0M372.1 132.7l-1.1 -0.4M370.6 130.8l1.1 0.7M371.4 131.9l-1.2 -0.1M398.4 93l-1.2 -0.3M399.1 92.8l1.7 -0.3M397.6 94.2l0.3 -1.2M401.3 94.6l1.6 0.9M399.2 92.6l1.5 -0.3M397.2 95.8l0.3 1M383.4 88.2l1.6 -0.9M383.1 90.2l-0.2 -0.1M380.3 90.1l1.1 -1.1M382.2 90.4l-0.9 1.1M380.4 90.3l1.8 0.5M380.3 89.8l1.2 0.5M378.2 133.8l1.3 -0.6M377.7 135.8l-1.4 1.3M376.4 134.6l-0.7 -1.4M376.4 134l0.9 1M377.6 134.5l-0.5 -0.1M375.3 136l0.5 -0.9M394.2 151.4l0.3 -1.4M391.3 153.9l0.6 1.3M394.4 153.2l-1.8 -1M390.6 151.8l1.3 -0.9M392 151.5l1 0.4M393.5 152.4l0.8 -0.9M371.3 139.1l-0.9 -0.8M372.4 140.6l-0.2 -0.1M373.1 140.2l-1.7 -1M372.5 141l-1.4 -0.9M369.7 140.3l1.5 -1.4M372.9 139.1l-0.5 0.2M389.9 99.1l1.4 -0.7M392.3 99.5l-0.5 0.7M394.4 98.5l1.6 0.9M391.9 99.9l1.7 -0.8M393.9 100.8l1.7 -1.2M394.5 98.8l-1.6 0.8M396.9 120.2l-0.5 0.7M399.6 119.2l1 0.9M397.8 120.8l0.4 0.4M398.8 119.9l0.9 -0.1M396.8 121.6l0.7 0.7M397.9 122.5l-1.7 0.1M383.8 119.6l-0.8 -0.5M382.6 117.4l1.5 0.7M382.7 119.1l0.6 0.3M380.8 117.4l0.4 -0.4M380 118.1l0.2 -0.4M382.3 119.6l0 0.5M386.4 128.4l-0.3 0M389.1 126.6l-0.2 -0.1M387.7 127.6l-1 -1M385.1 128.7l1.5 -0.4M386 126l-1.3 0.8M388.1 127.6l1.4 0.2M396.1 88.8l-1 -1.2M395 90l-0.1 -1.2M396.1 88.6l-1.7 0.8M393.2 90l-0.9 0.3M398 88.7l1.5 -0.2M398.1 90.1l0.7 0.7M379.7 90l1.4 0.9M380.6 91.9l1.5 -0.5M377.5 91.3l0.2 0.4M380.5 92.8l-1.3 1.4M379.1 90.6l0.3 -0.5M381.7 92l-1.8 -0.3M381.6 137.6l0.7 -1.4M382.4 137.2l-0 -0.3M383.3 138.1l1.2 0.9M379.5 136.3l-0.4 -0.6M380.9 138.7l1.1 -0.7M382 135.4l0 1.1M391.3 153.9l0.5 -1.2M394.9 151.3l-1.6 -0.8M391.4 152.7l-0.9 1.2M393.1 151.3l1 0.8M394.5 152.6l0.7 0.3M395.8 152.6l-1.2 -1.4M380 110.3l-1 -0.5M381.7 112.4l0.7 -0.4M379 109.2l-1.5 -1.4M379.1 112l0.5 1.3M382.4 110.3l-1 -1.2M380.5 111.4l1.2 -0.5M390 146.5l-1.6 0.7M386.3 149l-1.6 0.1M389.4 146.6l-1.1 -0.3M387.6 146.8l1.3 1.3M386.3 147.8l0.7 0.2M389 148l0.4 -0.3M380.7 143.7l1.3 -1.1M382.4 143.5l-0 0.6M384.3 144l0.5 1M382.4 145l-1.5 -1M382.8 144.9l0.9 0.8M379.9 145.3l-1.7 1.4M381.6 113.8l-1.1 -0.2M385.9 113.1l-1.1 -1.3M382.2 110.8l-1.5 -0.9M384 112.5l-0.9 0.3M384.5 113.8l0.3 -0.4M385.8 113.3l1 -0.1M384.8 127.1l-1.6 -1.1M384.4 126.9l-1.2 0.7M386.8 123.7l0.4 0.6M385.6 125.9l-0.7 0.1M383.2 125.4l-0.1 -1.1M383 125.4l0.4 0.5M384.5 119.3l0.4 -0.4M384.3 119.3l1 -1M381.2 118.7l0.8 -0.9M383.7 118.9l-1 0.1M383.8 119.8l-0.3 -0.2M381.2 119.1l-0.4 -1.1M393.9 128.2l-1.3 1.2M392.6 128.9l-0.1 -1M389.2 129.3l-0.5 -0.4M390.8 130.8l-1.5 1M390 128.8l-0.9 -1.1M392.4 128.6l-1.2 -0.1M392.8 117.9l-1.4 -0.7M393.6 119.2l-1.2 -1.1M391.3 117.2l-0.7 0.1M394.6 118.5l-1.5 1M392.4 118.2l-1.8 0.6M394.2 119.7l-0.5 -0.3M394.6 110l-0.2 1.2M393.7 110.1l1.3 1M395 111.8l-1.7 1M394 112.3l-1.3 0.2M394.3 110.2l1.4 1.2M395.1 112.8l-0.1 0.5M375.5 151l0.7 -0.4M376.4 150.2l1.6 0.7M378.4 152.9l1.3 0.7M377.9 151.7l0.4 -0.9M376.5 150.3l1 -1.3M373.8 150.8l-0.5 1.3M386.2 118.3l-0.7 -0.4M384.9 119.5l-0.7 0.1M389.3 120.6l1.7 -0.7M387.8 119.2l-0.4 1M385.1 120.9l-1.4 -0.2M385.8 118.5l-1.5 -1.3M396.7 134.7l-0.6 -1M397.6 134.5l-0.8 1.2M399.4 135.7l0.3 -0.9M396.2 134.1l-1.5 -0.9M398.5 136.5l-1.2 1.3M397.7 134.1l-1.4 -0.4M396.5 112.4l-0 -1.3M392.9 112.9l-0.4 0.6M395.3 113.7l-0.6 0.2M392.4 112.6l-0.4 -0.9M393.8 113.4l1 -0.7M392.1 111.3l-0.7 1M377.7 99.9l-0.7 -1.2M378.7 99.8l1.5 0.6M378.9 100.2l0.8 1.4M374.5 101.3l0 -0.8M377.8 100.8l-0.5 -0.1M375.5 101.8l-0 0.2M382.4 134.3l1.7 0.6M383.2 134.7l1.7 -1M379.2 134.8l0.7 -0.5M379.8 133.3l-1 -1.2M379.8 133.8l-0.5 -0.9M384 133.1l1.3 -0.2M392.5 150.4l-0.7 -1.4M394.2 150l0.1 -1.2M392 150.4l1.3 -0.8M389.5 151.3l1.5 -1.2M392.9 148l-1.1 -1.2M389.6 148.6l0.3 1.3M396.7 148.6l0.6 -0.1M396.6 149.7l-1.5 1.3M396.4 150.4l0.1 -1M400.3 150.2l-1 0.2M400 149.3l-0.3 -0.5M396.4 148.4l0.9 -1M388.6 131.6l-1.4 0.3M390.1 130.5l-0.8 0.5M388.2 131.9l1.5 -0.9M391.8 131l-0.1 -0.5M389.6 130.9l-0.4 0.7M390 131.1l-0.1 0.5M378.4 130.4l0.5 -0M377.9 129.7l0.2 1.2M377.3 132l1.7 0.9M375.9 132.2l-1.7 1.1M377.6 130.8l-1.6 1.4M374.9 130.7l-1.5 1M375.1 99.3l-0.8 0.3M376.7 98.4l1.5 0.1M377.1 99.1l-0 0.9M375.4 100.6l-0.2 1M374.2 99.9l1.5 -0.2M376.4 101.5l1.4 0.3M387.5 86.5l-0.8 -0.2M384.8 86.7l0.1 1.3M385.8 88.4l-0.9 -0.7M388 87.6l1.5 0.5M387.9 87.2l0.5 0.9M385.2 85l-1 -1.4M399 128.9l-1 -1M399.5 126.8l-1.6 0.2M399.5 126.5l-1 -0.4M399.3 127.4l0.9 0.9M396 125.7l-1.7 -1.1M396.7 126.3l-1.2 -1.3M374.4 105.5l1.5 0.7M371.5 106l-0.3 0.4M375.5 104.8l-0.4 -0.6M375.3 103.8l0.8 -0.7M372.3 106.7l1.3 -0.9M373.7 105.2l0.3 -0.3M390.7 96.5l0.7 0.5M392.8 95.2l-1.1 -0.7M388.7 95.7l0 -0.4M390.1 95.3l0.2 1.2M390.9 95.4l1.4 0.3M392.3 94.8l0.5 -1M384 136l-1.6 0.5M386.2 135.7l1.4 -1M384.8 137.7l-1.6 -1.3M386.6 135.5l0.3 -0.1M387.4 134.8l-1.7 -0.2M385.6 136.8l1.7 0.2M392.6 121l-1.4 1.1M392.7 120.5l0.3 1.2M391.2 122.7l1.8 -0.8M388.5 122.2l-0 0.3M389.9 120.7l1.4 0.7M389.9 122.7l-0.1 -0.1M384.4 97.2l0.7 -0.9M380.7 97.7l1.4 1.3M385 99.3l1.6 -0.7M380.7 97.3l-0.9 -1.2M384 96.6l1.1 -0.5M380.4 97l0.9 1.2M397.1 118.8l-0.8 -0.8M396.5 116.9l-0.1 0.9M399.8 118.2l0.3 -0.9M395.5 115.6l-1.8 -0.4M398.1 117.5l0.9 0.2M396.7 117.8l-0.6 -1.1M373.8 89l-0 0.4M375.9 89.7l1.7 1M376.3 91.1l-1.4 -0.6M375.5 90l0.5 -1.2M372.8 88.8l-0.6 -0.7M372.9 91.1l-0.3 1.4M385.2 117.1l-1.5 -0M388 117.9l-0.1 0.3M383.7 118.4l-1.7 1M386.2 117.2l0 0.6M387.3 117.4l-1.7 -0.3M387.3 120.5l1.4 -0.2M386.9 134.6l-1.4 0.3M389.9 137.5l0.4 -0M388.3 137.5l1.7 -0.5M387.5 135.4l-1 -1M384.9 134.3l-0.3 -0.1M388.8 135.3l-0.9 -1.3M372.7 140.8l0.5 1.2M376.3 138.7l1.7 -0.9M375.8 138.9l-0 0.3M376 138.4l-1.4 -0.5M375.9 140.4l0.9 -0.8M376.6 138.3l-0.6 -0.9M369.8 92.8l1.2 -0.3M369.8 91.5l-1.2 -0.6M374 93.7l-0.8 0.3M369.8 93.1l-0.6 -0.2M374.6 92.3l1.1 1M374.5 92.7l0.2 0.4M374.5 138l1.2 1.3M377.5 139.4l0 -0.4M378.1 140.4l-0.3 1.1M375.5 137.9l-0.9 0.3M375.4 141l-0.5 -0M376.8 138.4l-1.5 0.9M385.4 141.7l0.3 0.5M384.5 141.8l-1.2 1.3M386.7 141.3l-0.6 -0.2M383.6 141.9l-1.4 0.9M382.9 142.2l0.1 0.8M383.8 141.1l0.2 1.1M392.4 136.1l-1.3 -0.7M388.4 137.2l-1.3 1.3M390.5 134.2l-1.7 0.5M389.2 133.7l1.7 -0.1M392 135.2l-0.3 1.1M388.5 135.5l-0.3 0.1M388 86.9l1.6 -0M386.1 89.8l-0.7 1.4M387.2 90.2l1.3 0.5M388.6 88.1l1.1 -1.4M387.8 88.4l-1.1 1.1M387.4 88.4l0.6 1.3M385.5 105.6l-0.6 -0.9M386.9 106l-1.7 1.2M386.1 108.6l-0.8 0.5M387.3 107.7l1.8 -0.4M385.2 106.5l-0 -0.1M389.1 107l-0.9 1M398.8 139.6l-1.2 1.3M397.6 141.8l-1.6 -0.3M397 139.4l1.5 -0.3M400 141l0.1 -1.3M400.8 138.9l1.1 -0.4M397.1 141.5l0.3 1" stroke="#dc30dc" stroke-width="1" stroke-linecap="round" fill="none"/>
<g fill="#666" stroke="#9a9a9a" stroke-width="0.35"><circle cx="383.4" cy="97.8" r="1.15"/><circle cx="381.5" cy="98.2" r="1.0"/><circle cx="397" cy="94.9" r="1.15"/><circle cx="396.2" cy="96.6" r="1.0"/><circle cx="375.4" cy="136.7" r="1.15"/><circle cx="373.7" cy="137.6" r="1.0"/><circle cx="389.8" cy="150.8" r="1.15"/><circle cx="390" cy="148.9" r="1.0"/><circle cx="370.6" cy="140.5" r="1.15"/><circle cx="372.4" cy="141.1" r="1.0"/><circle cx="390.5" cy="99.5" r="1.15"/><circle cx="388.6" cy="99.9" r="1.0"/><circle cx="397.8" cy="120.6" r="1.15"/><circle cx="399.3" cy="119.4" r="1.0"/><circle cx="386.8" cy="125.5" r="1.15"/><circle cx="385.2" cy="126.6" r="1.0"/><circle cx="382.2" cy="138.9" r="1.15"/><circle cx="383.9" cy="138.1" r="1.0"/><circle cx="394.5" cy="150.2" r="1.15"/><circle cx="392.6" cy="150.3" r="1.0"/><circle cx="387.6" cy="149.2" r="1.15"/><circle cx="386" cy="148" r="1.0"/><circle cx="381" cy="144.9" r="1.15"/><circle cx="379.3" cy="144.2" r="1.0"/><circle cx="383.2" cy="109.9" r="1.15"/><circle cx="384.3" cy="108.3" r="1.0"/><circle cx="394.6" cy="109.8" r="1.15"/><circle cx="393.9" cy="111.6" r="1.0"/><circle cx="374" cy="153.2" r="1.15"/><circle cx="375.9" cy="152.9" r="1.0"/><circle cx="388.1" cy="117.6" r="1.15"/><circle cx="388.4" cy="115.7" r="1.0"/><circle cx="395.3" cy="136.8" r="1.15"/><circle cx="393.5" cy="136.1" r="1.0"/><circle cx="381.9" cy="135.8" r="1.15"/><circle cx="380" cy="136.1" r="1.0"/><circle cx="389.8" cy="152.1" r="1.15"/><circle cx="391.6" cy="151.4" r="1.0"/><circle cx="397.4" cy="148.6" r="1.15"/><circle cx="398" cy="146.8" r="1.0"/><circle cx="377.3" cy="130.8" r="1.15"/><circle cx="378.3" cy="132.4" r="1.0"/><circle cx="383.8" cy="88.2" r="1.15"/><circle cx="381.9" cy="88.3" r="1.0"/><circle cx="397.4" cy="128.7" r="1.15"/><circle cx="396.7" cy="130.4" r="1.0"/><circle cx="374.4" cy="107.6" r="1.15"/><circle cx="373.4" cy="106.1" r="1.0"/><circle cx="392.7" cy="97.2" r="1.15"/><circle cx="394.5" cy="97.9" r="1.0"/><circle cx="387.7" cy="138.3" r="1.15"/><circle cx="386.5" cy="139.8" r="1.0"/><circle cx="391" cy="121.2" r="1.15"/><circle cx="392.6" cy="122.3" r="1.0"/><circle cx="384" cy="99.2" r="1.15"/><circle cx="382.6" cy="97.9" r="1.0"/><circle cx="400.3" cy="118" r="1.15"/><circle cx="401.2" cy="117.2" r="1.0"/><circle cx="375.4" cy="87.8" r="1.15"/><circle cx="374.9" cy="86" r="1.0"/><circle cx="387.7" cy="119.3" r="1.15"/><circle cx="386.2" cy="118.1" r="1.0"/><circle cx="387.8" cy="136.7" r="1.15"/><circle cx="387" cy="138.4" r="1.0"/><circle cx="373.6" cy="138.9" r="1.15"/><circle cx="373.6" cy="137" r="1.0"/><circle cx="386.6" cy="142.6" r="1.15"/><circle cx="384.8" cy="143.2" r="1.0"/><circle cx="388.3" cy="89.6" r="1.15"/><circle cx="386.4" cy="89.5" r="1.0"/></g>
</g>
</svg></body></html>
